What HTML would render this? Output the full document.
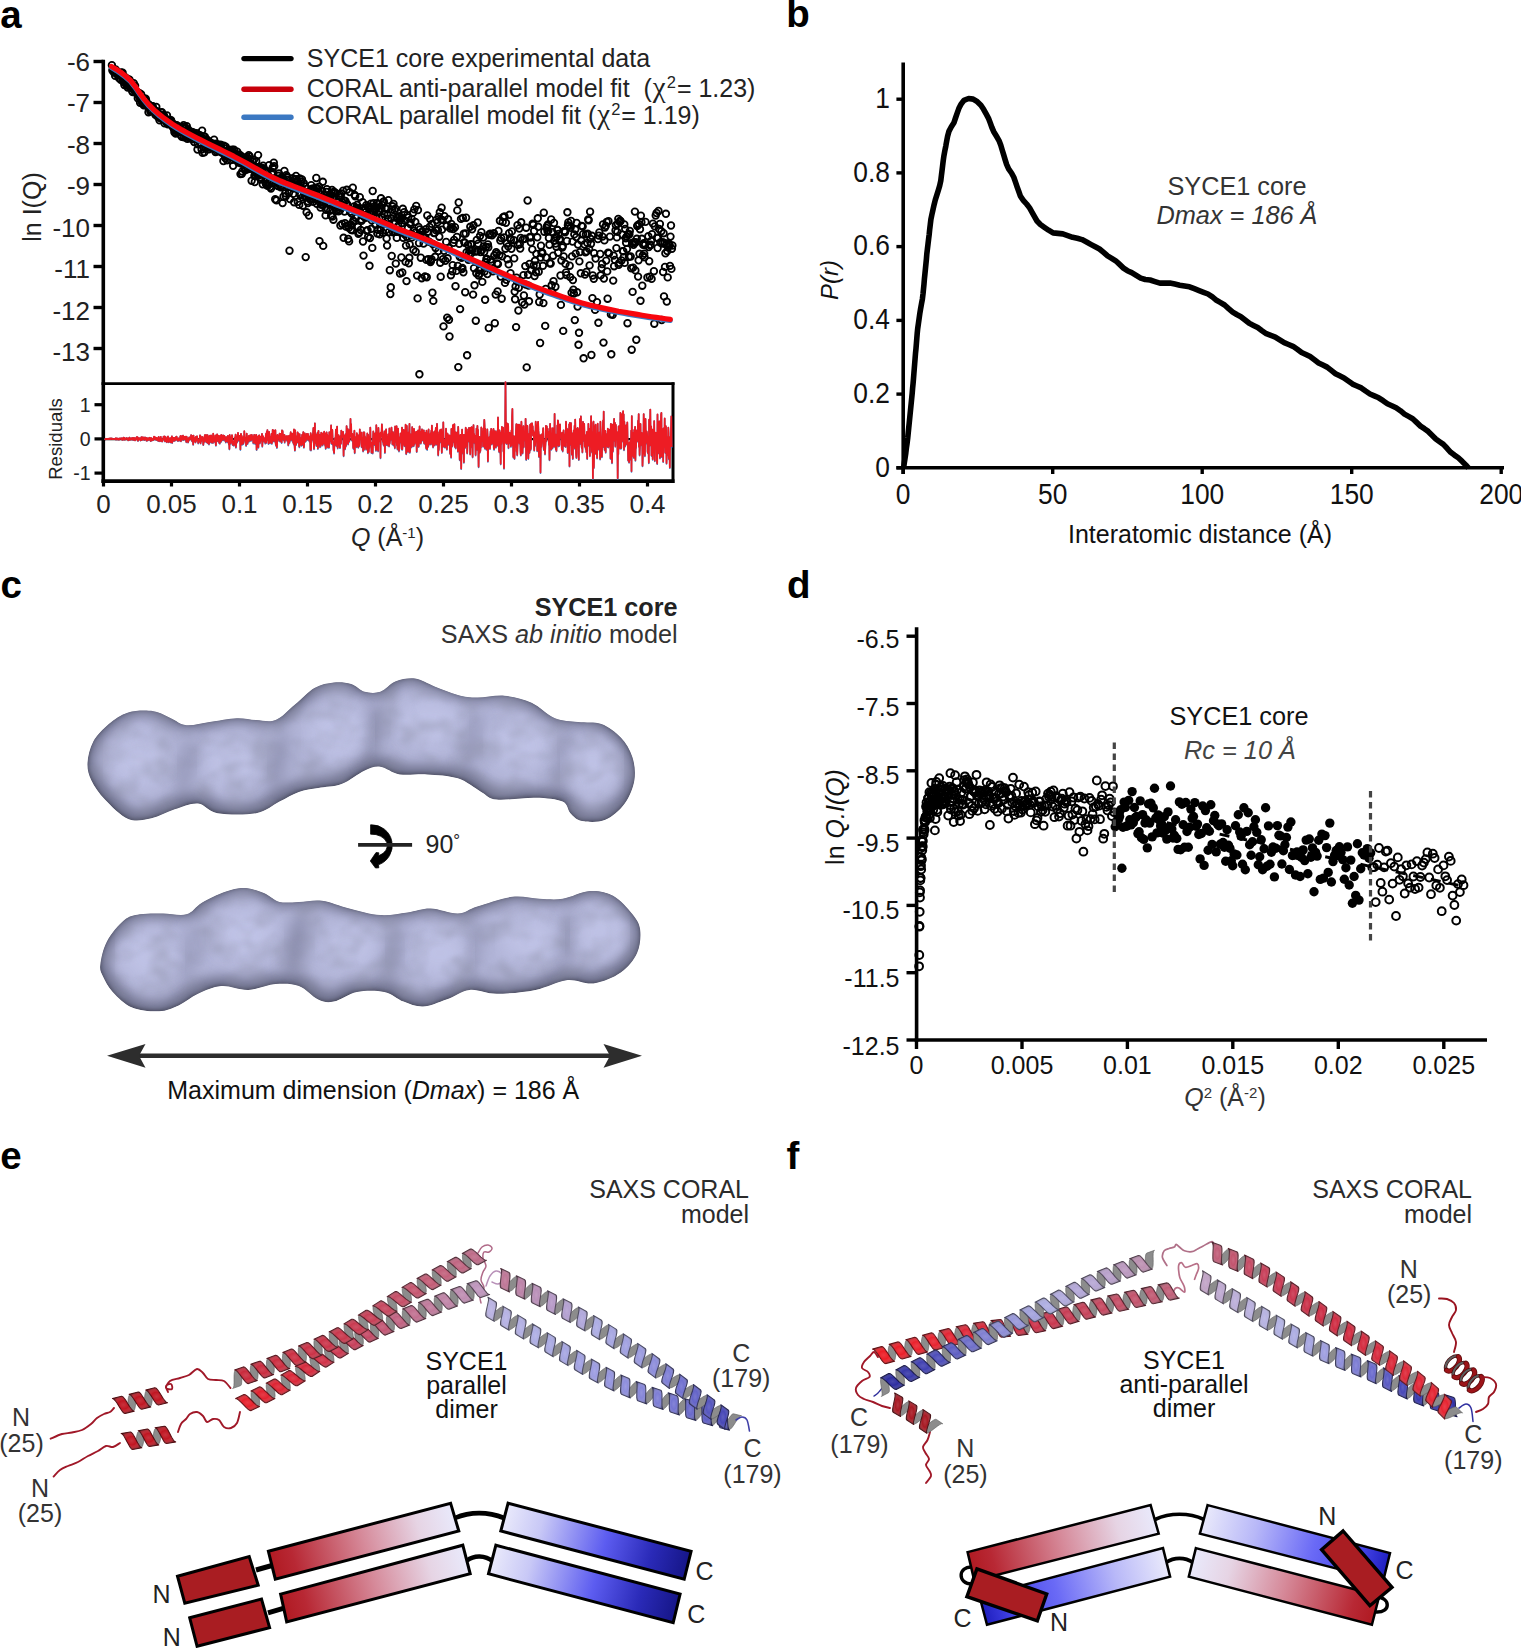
<!DOCTYPE html>
<html lang="en"><head><meta charset="utf-8"><title>SYCE1 core SAXS analysis</title>
<style>
html,body{margin:0;padding:0;background:#fff;}
body{width:1521px;height:1648px;overflow:hidden;font-family:'Liberation Sans', sans-serif;}
svg{display:block;font-family:'Liberation Sans', sans-serif;}
</style></head><body>
<svg width="1521" height="1648" viewBox="0 0 1521 1648">
<rect width="1521" height="1648" fill="#fff"/>
<g id="panel-a">
<text x="0.3" y="27.6" font-size="38.5" fill="#000" font-weight="bold">a</text>
<g fill="none" stroke="#000" stroke-width="1.8"><circle cx="111.9" cy="65.2" r="3.3"/><circle cx="112.4" cy="70.5" r="3.3"/><circle cx="112.9" cy="69.6" r="3.3"/><circle cx="113.3" cy="69.1" r="3.3"/><circle cx="113.8" cy="72.3" r="3.3"/><circle cx="114.2" cy="70.7" r="3.3"/><circle cx="114.7" cy="71.1" r="3.3"/><circle cx="115.2" cy="75.9" r="3.3"/><circle cx="115.6" cy="69.4" r="3.3"/><circle cx="116.1" cy="70.7" r="3.3"/><circle cx="116.6" cy="74" r="3.3"/><circle cx="117" cy="73.3" r="3.3"/><circle cx="117.5" cy="72" r="3.3"/><circle cx="117.9" cy="74.3" r="3.3"/><circle cx="118.4" cy="74.6" r="3.3"/><circle cx="118.9" cy="78" r="3.3"/><circle cx="119.3" cy="73.4" r="3.3"/><circle cx="119.8" cy="74.8" r="3.3"/><circle cx="120.3" cy="74.9" r="3.3"/><circle cx="120.7" cy="79.8" r="3.3"/><circle cx="121.2" cy="72.5" r="3.3"/><circle cx="121.6" cy="76.3" r="3.3"/><circle cx="122.1" cy="78.1" r="3.3"/><circle cx="122.6" cy="72.8" r="3.3"/><circle cx="123" cy="78" r="3.3"/><circle cx="123.5" cy="82" r="3.3"/><circle cx="124" cy="80.1" r="3.3"/><circle cx="124.4" cy="85.1" r="3.3"/><circle cx="124.9" cy="77" r="3.3"/><circle cx="125.3" cy="80.9" r="3.3"/><circle cx="125.8" cy="82.2" r="3.3"/><circle cx="126.3" cy="78.2" r="3.3"/><circle cx="126.7" cy="85.4" r="3.3"/><circle cx="127.2" cy="79.8" r="3.3"/><circle cx="127.7" cy="87.5" r="3.3"/><circle cx="128.1" cy="84.1" r="3.3"/><circle cx="128.6" cy="86" r="3.3"/><circle cx="129" cy="79.8" r="3.3"/><circle cx="129.5" cy="79.6" r="3.3"/><circle cx="130" cy="85.4" r="3.3"/><circle cx="130.4" cy="82.6" r="3.3"/><circle cx="130.9" cy="85.6" r="3.3"/><circle cx="131.4" cy="84.3" r="3.3"/><circle cx="131.8" cy="88.1" r="3.3"/><circle cx="132.3" cy="91.3" r="3.3"/><circle cx="132.7" cy="92.1" r="3.3"/><circle cx="133.2" cy="86.9" r="3.3"/><circle cx="133.7" cy="83.1" r="3.3"/><circle cx="134.1" cy="88.4" r="3.3"/><circle cx="134.6" cy="91.1" r="3.3"/><circle cx="135.1" cy="85.7" r="3.3"/><circle cx="135.5" cy="90.4" r="3.3"/><circle cx="136" cy="91.3" r="3.3"/><circle cx="136.4" cy="91.7" r="3.3"/><circle cx="136.9" cy="93.5" r="3.3"/><circle cx="137.4" cy="94.5" r="3.3"/><circle cx="137.8" cy="98.3" r="3.3"/><circle cx="138.3" cy="93.6" r="3.3"/><circle cx="138.8" cy="95.8" r="3.3"/><circle cx="139.2" cy="93" r="3.3"/><circle cx="139.7" cy="97.7" r="3.3"/><circle cx="140.1" cy="102.7" r="3.3"/><circle cx="140.6" cy="98.1" r="3.3"/><circle cx="141.1" cy="94.1" r="3.3"/><circle cx="141.5" cy="100.1" r="3.3"/><circle cx="142" cy="102.1" r="3.3"/><circle cx="142.5" cy="103.6" r="3.3"/><circle cx="142.9" cy="103.7" r="3.3"/><circle cx="143.4" cy="102.1" r="3.3"/><circle cx="143.8" cy="105.2" r="3.3"/><circle cx="144.3" cy="98.4" r="3.3"/><circle cx="144.8" cy="103.7" r="3.3"/><circle cx="145.2" cy="103.1" r="3.3"/><circle cx="145.7" cy="98.8" r="3.3"/><circle cx="146.1" cy="100.4" r="3.3"/><circle cx="146.6" cy="105.5" r="3.3"/><circle cx="147.1" cy="104.5" r="3.3"/><circle cx="147.5" cy="103.8" r="3.3"/><circle cx="148" cy="106.8" r="3.3"/><circle cx="148.5" cy="112.2" r="3.3"/><circle cx="148.9" cy="104.7" r="3.3"/><circle cx="149.4" cy="105.1" r="3.3"/><circle cx="149.8" cy="106.8" r="3.3"/><circle cx="150.3" cy="111.2" r="3.3"/><circle cx="150.8" cy="109.4" r="3.3"/><circle cx="151.2" cy="111" r="3.3"/><circle cx="151.7" cy="110.5" r="3.3"/><circle cx="152.2" cy="106.3" r="3.3"/><circle cx="152.6" cy="106.1" r="3.3"/><circle cx="153.1" cy="108.8" r="3.3"/><circle cx="153.5" cy="109.5" r="3.3"/><circle cx="154" cy="109.5" r="3.3"/><circle cx="154.5" cy="111.9" r="3.3"/><circle cx="154.9" cy="112.5" r="3.3"/><circle cx="155.4" cy="114.7" r="3.3"/><circle cx="155.9" cy="113.1" r="3.3"/><circle cx="156.3" cy="106.9" r="3.3"/><circle cx="156.8" cy="111.1" r="3.3"/><circle cx="157.2" cy="115.1" r="3.3"/><circle cx="157.7" cy="115.8" r="3.3"/><circle cx="158.2" cy="117.4" r="3.3"/><circle cx="158.6" cy="113.9" r="3.3"/><circle cx="159.1" cy="114.2" r="3.3"/><circle cx="159.6" cy="120.4" r="3.3"/><circle cx="160" cy="114.5" r="3.3"/><circle cx="160.5" cy="118.2" r="3.3"/><circle cx="160.9" cy="112.4" r="3.3"/><circle cx="161.4" cy="116.5" r="3.3"/><circle cx="161.9" cy="112.2" r="3.3"/><circle cx="162.3" cy="119.1" r="3.3"/><circle cx="162.8" cy="118.9" r="3.3"/><circle cx="163.3" cy="117.3" r="3.3"/><circle cx="163.7" cy="115.3" r="3.3"/><circle cx="164.2" cy="116.5" r="3.3"/><circle cx="164.6" cy="123.4" r="3.3"/><circle cx="165.1" cy="118.9" r="3.3"/><circle cx="165.6" cy="119.7" r="3.3"/><circle cx="166" cy="121.5" r="3.3"/><circle cx="166.5" cy="122.6" r="3.3"/><circle cx="167" cy="115.4" r="3.3"/><circle cx="167.4" cy="122.8" r="3.3"/><circle cx="167.9" cy="124.2" r="3.3"/><circle cx="168.3" cy="119.6" r="3.3"/><circle cx="168.8" cy="121.5" r="3.3"/><circle cx="169.3" cy="122.5" r="3.3"/><circle cx="169.7" cy="120" r="3.3"/><circle cx="170.2" cy="121.2" r="3.3"/><circle cx="170.7" cy="121.5" r="3.3"/><circle cx="171.1" cy="120.3" r="3.3"/><circle cx="171.6" cy="122.8" r="3.3"/><circle cx="172" cy="126.1" r="3.3"/><circle cx="172.5" cy="125.5" r="3.3"/><circle cx="173" cy="127" r="3.3"/><circle cx="173.4" cy="123.9" r="3.3"/><circle cx="173.9" cy="129" r="3.3"/><circle cx="174.4" cy="132.2" r="3.3"/><circle cx="174.8" cy="125.4" r="3.3"/><circle cx="175.3" cy="130.9" r="3.3"/><circle cx="175.7" cy="133.6" r="3.3"/><circle cx="176.2" cy="125.3" r="3.3"/><circle cx="176.7" cy="129.4" r="3.3"/><circle cx="177.1" cy="125.4" r="3.3"/><circle cx="177.6" cy="129.3" r="3.3"/><circle cx="178.1" cy="131.8" r="3.3"/><circle cx="178.5" cy="132.6" r="3.3"/><circle cx="179" cy="130.1" r="3.3"/><circle cx="179.4" cy="129.5" r="3.3"/><circle cx="179.9" cy="131.8" r="3.3"/><circle cx="180.4" cy="130" r="3.3"/><circle cx="180.8" cy="135.2" r="3.3"/><circle cx="181.3" cy="129.5" r="3.3"/><circle cx="181.8" cy="136.8" r="3.3"/><circle cx="182.2" cy="130.8" r="3.3"/><circle cx="182.7" cy="127.1" r="3.3"/><circle cx="183.1" cy="126.9" r="3.3"/><circle cx="183.6" cy="125.1" r="3.3"/><circle cx="184.1" cy="137.2" r="3.3"/><circle cx="184.5" cy="128.7" r="3.3"/><circle cx="185" cy="127.5" r="3.3"/><circle cx="185.5" cy="128.5" r="3.3"/><circle cx="185.9" cy="135.7" r="3.3"/><circle cx="186.4" cy="130.9" r="3.3"/><circle cx="186.8" cy="126.3" r="3.3"/><circle cx="187.3" cy="138.9" r="3.3"/><circle cx="187.8" cy="130.9" r="3.3"/><circle cx="188.2" cy="129.5" r="3.3"/><circle cx="188.7" cy="136.4" r="3.3"/><circle cx="189.2" cy="131.8" r="3.3"/><circle cx="189.6" cy="138.4" r="3.3"/><circle cx="190.1" cy="137.6" r="3.3"/><circle cx="190.5" cy="137.8" r="3.3"/><circle cx="191" cy="133.9" r="3.3"/><circle cx="191.5" cy="135.5" r="3.3"/><circle cx="191.9" cy="131.9" r="3.3"/><circle cx="192.4" cy="139.4" r="3.3"/><circle cx="192.9" cy="136.3" r="3.3"/><circle cx="193.3" cy="132.5" r="3.3"/><circle cx="193.8" cy="134.2" r="3.3"/><circle cx="194.2" cy="142" r="3.3"/><circle cx="194.7" cy="134.3" r="3.3"/><circle cx="195.2" cy="138.9" r="3.3"/><circle cx="195.6" cy="135.8" r="3.3"/><circle cx="196.1" cy="136.3" r="3.3"/><circle cx="196.6" cy="133.2" r="3.3"/><circle cx="197" cy="137.5" r="3.3"/><circle cx="197.5" cy="149.5" r="3.3"/><circle cx="197.9" cy="144.2" r="3.3"/><circle cx="198.4" cy="135.9" r="3.3"/><circle cx="198.9" cy="140" r="3.3"/><circle cx="199.3" cy="134.9" r="3.3"/><circle cx="199.8" cy="138.3" r="3.3"/><circle cx="200.3" cy="142.7" r="3.3"/><circle cx="200.7" cy="135.7" r="3.3"/><circle cx="201.2" cy="143.5" r="3.3"/><circle cx="201.6" cy="149.6" r="3.3"/><circle cx="202.1" cy="130.6" r="3.3"/><circle cx="202.6" cy="152.9" r="3.3"/><circle cx="203" cy="138.5" r="3.3"/><circle cx="203.5" cy="136.4" r="3.3"/><circle cx="203.9" cy="140.9" r="3.3"/><circle cx="204.4" cy="152.3" r="3.3"/><circle cx="204.9" cy="136.7" r="3.3"/><circle cx="205.3" cy="148.6" r="3.3"/><circle cx="205.8" cy="148.4" r="3.3"/><circle cx="206.3" cy="144.2" r="3.3"/><circle cx="206.7" cy="139.8" r="3.3"/><circle cx="207.2" cy="141.9" r="3.3"/><circle cx="207.6" cy="140.1" r="3.3"/><circle cx="208.1" cy="145.5" r="3.3"/><circle cx="208.6" cy="144.6" r="3.3"/><circle cx="209" cy="149.2" r="3.3"/><circle cx="209.5" cy="145.7" r="3.3"/><circle cx="210" cy="142.1" r="3.3"/><circle cx="210.4" cy="146.1" r="3.3"/><circle cx="210.9" cy="143" r="3.3"/><circle cx="211.3" cy="147.7" r="3.3"/><circle cx="211.8" cy="148.1" r="3.3"/><circle cx="212.3" cy="145.5" r="3.3"/><circle cx="212.7" cy="146.8" r="3.3"/><circle cx="213.2" cy="143.6" r="3.3"/><circle cx="213.7" cy="145.6" r="3.3"/><circle cx="214.1" cy="139.6" r="3.3"/><circle cx="214.6" cy="147.8" r="3.3"/><circle cx="215" cy="148.4" r="3.3"/><circle cx="215.5" cy="152.1" r="3.3"/><circle cx="216" cy="147.4" r="3.3"/><circle cx="216.4" cy="143.8" r="3.3"/><circle cx="216.9" cy="151.4" r="3.3"/><circle cx="217.4" cy="148.4" r="3.3"/><circle cx="217.8" cy="145.3" r="3.3"/><circle cx="218.3" cy="149.2" r="3.3"/><circle cx="218.7" cy="151.3" r="3.3"/><circle cx="219.2" cy="144.9" r="3.3"/><circle cx="219.7" cy="148.9" r="3.3"/><circle cx="220.1" cy="147.8" r="3.3"/><circle cx="220.6" cy="144.8" r="3.3"/><circle cx="221.1" cy="145.1" r="3.3"/><circle cx="221.5" cy="151.8" r="3.3"/><circle cx="222" cy="152.9" r="3.3"/><circle cx="222.4" cy="149.4" r="3.3"/><circle cx="222.9" cy="151.5" r="3.3"/><circle cx="223.4" cy="161" r="3.3"/><circle cx="223.8" cy="145.8" r="3.3"/><circle cx="224.3" cy="151.5" r="3.3"/><circle cx="224.8" cy="148.5" r="3.3"/><circle cx="225.2" cy="158" r="3.3"/><circle cx="225.7" cy="146.6" r="3.3"/><circle cx="226.1" cy="156.4" r="3.3"/><circle cx="226.6" cy="153.3" r="3.3"/><circle cx="227.1" cy="160.2" r="3.3"/><circle cx="227.5" cy="154.3" r="3.3"/><circle cx="228" cy="154.5" r="3.3"/><circle cx="228.5" cy="154.6" r="3.3"/><circle cx="228.9" cy="151.8" r="3.3"/><circle cx="229.4" cy="153.8" r="3.3"/><circle cx="229.8" cy="149.9" r="3.3"/><circle cx="230.3" cy="156.9" r="3.3"/><circle cx="230.8" cy="160" r="3.3"/><circle cx="231.2" cy="155.1" r="3.3"/><circle cx="231.7" cy="152.3" r="3.3"/><circle cx="232.2" cy="149.8" r="3.3"/><circle cx="232.6" cy="151.9" r="3.3"/><circle cx="233.1" cy="165.8" r="3.3"/><circle cx="233.5" cy="154.4" r="3.3"/><circle cx="234" cy="149.8" r="3.3"/><circle cx="234.5" cy="156.4" r="3.3"/><circle cx="234.9" cy="159.6" r="3.3"/><circle cx="235.4" cy="155.6" r="3.3"/><circle cx="235.9" cy="160" r="3.3"/><circle cx="236.3" cy="154.5" r="3.3"/><circle cx="236.8" cy="158" r="3.3"/><circle cx="237.2" cy="151.6" r="3.3"/><circle cx="237.7" cy="155.9" r="3.3"/><circle cx="238.2" cy="162.5" r="3.3"/><circle cx="238.6" cy="155.8" r="3.3"/><circle cx="239.1" cy="154.5" r="3.3"/><circle cx="239.6" cy="162.4" r="3.3"/><circle cx="240" cy="161.9" r="3.3"/><circle cx="240.5" cy="174.1" r="3.3"/><circle cx="240.9" cy="155.6" r="3.3"/><circle cx="241.4" cy="163.6" r="3.3"/><circle cx="241.9" cy="173.7" r="3.3"/><circle cx="242.3" cy="171.5" r="3.3"/><circle cx="242.8" cy="162.3" r="3.3"/><circle cx="243.3" cy="157.5" r="3.3"/><circle cx="243.7" cy="162.1" r="3.3"/><circle cx="244.2" cy="159.4" r="3.3"/><circle cx="244.6" cy="168.6" r="3.3"/><circle cx="245.1" cy="170.4" r="3.3"/><circle cx="245.6" cy="158.1" r="3.3"/><circle cx="246" cy="160.3" r="3.3"/><circle cx="246.5" cy="163.3" r="3.3"/><circle cx="247" cy="156.9" r="3.3"/><circle cx="247.4" cy="169.3" r="3.3"/><circle cx="247.9" cy="167.2" r="3.3"/><circle cx="248.3" cy="158.8" r="3.3"/><circle cx="248.8" cy="155.2" r="3.3"/><circle cx="249.3" cy="164.7" r="3.3"/><circle cx="249.7" cy="156.4" r="3.3"/><circle cx="250.2" cy="168.8" r="3.3"/><circle cx="250.7" cy="163.7" r="3.3"/><circle cx="251.1" cy="166.8" r="3.3"/><circle cx="251.6" cy="180.7" r="3.3"/><circle cx="252" cy="164.8" r="3.3"/><circle cx="252.5" cy="161.5" r="3.3"/><circle cx="253" cy="167.7" r="3.3"/><circle cx="253.4" cy="167.5" r="3.3"/><circle cx="253.9" cy="159.9" r="3.3"/><circle cx="254.4" cy="175.7" r="3.3"/><circle cx="254.8" cy="182" r="3.3"/><circle cx="255.3" cy="172.2" r="3.3"/><circle cx="255.7" cy="176.2" r="3.3"/><circle cx="256.2" cy="161.3" r="3.3"/><circle cx="256.7" cy="167.1" r="3.3"/><circle cx="257.1" cy="174.8" r="3.3"/><circle cx="257.6" cy="174.8" r="3.3"/><circle cx="258.1" cy="155.1" r="3.3"/><circle cx="258.5" cy="173.9" r="3.3"/><circle cx="259" cy="175.2" r="3.3"/><circle cx="259.4" cy="168.6" r="3.3"/><circle cx="259.9" cy="166.9" r="3.3"/><circle cx="260.4" cy="169.6" r="3.3"/><circle cx="260.8" cy="177.4" r="3.3"/><circle cx="261.3" cy="179.5" r="3.3"/><circle cx="261.7" cy="168.1" r="3.3"/><circle cx="262.2" cy="172.3" r="3.3"/><circle cx="262.7" cy="184.3" r="3.3"/><circle cx="263.1" cy="165.6" r="3.3"/><circle cx="263.6" cy="168.1" r="3.3"/><circle cx="264.1" cy="174.6" r="3.3"/><circle cx="264.5" cy="175" r="3.3"/><circle cx="265" cy="172" r="3.3"/><circle cx="265.4" cy="178.5" r="3.3"/><circle cx="265.9" cy="183.9" r="3.3"/><circle cx="266.4" cy="172.2" r="3.3"/><circle cx="266.8" cy="185.3" r="3.3"/><circle cx="267.3" cy="172.2" r="3.3"/><circle cx="267.8" cy="185.9" r="3.3"/><circle cx="268.2" cy="175.9" r="3.3"/><circle cx="268.7" cy="176.4" r="3.3"/><circle cx="269.1" cy="165.1" r="3.3"/><circle cx="269.6" cy="183.8" r="3.3"/><circle cx="270.1" cy="187.1" r="3.3"/><circle cx="270.5" cy="181" r="3.3"/><circle cx="271" cy="188.6" r="3.3"/><circle cx="271.5" cy="181.1" r="3.3"/><circle cx="271.9" cy="174.3" r="3.3"/><circle cx="272.4" cy="172.3" r="3.3"/><circle cx="272.8" cy="167.4" r="3.3"/><circle cx="273.3" cy="183.2" r="3.3"/><circle cx="273.8" cy="162.7" r="3.3"/><circle cx="274.2" cy="166.2" r="3.3"/><circle cx="274.7" cy="180.4" r="3.3"/><circle cx="275.2" cy="199.3" r="3.3"/><circle cx="275.6" cy="179.4" r="3.3"/><circle cx="276.1" cy="178.5" r="3.3"/><circle cx="276.5" cy="200.3" r="3.3"/><circle cx="277" cy="178.9" r="3.3"/><circle cx="277.5" cy="181.1" r="3.3"/><circle cx="277.9" cy="186" r="3.3"/><circle cx="278.4" cy="175.8" r="3.3"/><circle cx="278.9" cy="173.5" r="3.3"/><circle cx="279.3" cy="184.2" r="3.3"/><circle cx="279.8" cy="178.5" r="3.3"/><circle cx="280.2" cy="186" r="3.3"/><circle cx="280.7" cy="187.3" r="3.3"/><circle cx="281.2" cy="180.5" r="3.3"/><circle cx="281.6" cy="177.7" r="3.3"/><circle cx="282.1" cy="186.1" r="3.3"/><circle cx="282.6" cy="203.1" r="3.3"/><circle cx="283" cy="177.9" r="3.3"/><circle cx="283.5" cy="196.5" r="3.3"/><circle cx="283.9" cy="181.2" r="3.3"/><circle cx="284.4" cy="170.9" r="3.3"/><circle cx="284.9" cy="182.9" r="3.3"/><circle cx="285.3" cy="193.3" r="3.3"/><circle cx="285.8" cy="196.3" r="3.3"/><circle cx="286.3" cy="175.2" r="3.3"/><circle cx="286.7" cy="183.7" r="3.3"/><circle cx="287.2" cy="179.7" r="3.3"/><circle cx="287.6" cy="177.3" r="3.3"/><circle cx="288.1" cy="184.5" r="3.3"/><circle cx="288.6" cy="186.8" r="3.3"/><circle cx="289" cy="192.7" r="3.3"/><circle cx="289.5" cy="250.7" r="3.3"/><circle cx="290" cy="199" r="3.3"/><circle cx="290.4" cy="185.6" r="3.3"/><circle cx="290.9" cy="187.1" r="3.3"/><circle cx="291.3" cy="182.3" r="3.3"/><circle cx="291.8" cy="186.9" r="3.3"/><circle cx="292.3" cy="184.5" r="3.3"/><circle cx="292.7" cy="178.1" r="3.3"/><circle cx="293.2" cy="193.9" r="3.3"/><circle cx="293.7" cy="188.6" r="3.3"/><circle cx="294.1" cy="202.2" r="3.3"/><circle cx="294.6" cy="179.3" r="3.3"/><circle cx="295" cy="186.5" r="3.3"/><circle cx="295.5" cy="181.8" r="3.3"/><circle cx="296" cy="176" r="3.3"/><circle cx="296.4" cy="179.2" r="3.3"/><circle cx="296.9" cy="188" r="3.3"/><circle cx="297.4" cy="181.6" r="3.3"/><circle cx="297.8" cy="201.9" r="3.3"/><circle cx="298.3" cy="184.5" r="3.3"/><circle cx="298.7" cy="187" r="3.3"/><circle cx="299.2" cy="204.9" r="3.3"/><circle cx="299.7" cy="178.5" r="3.3"/><circle cx="300.1" cy="195.1" r="3.3"/><circle cx="300.6" cy="183.4" r="3.3"/><circle cx="301.1" cy="194.2" r="3.3"/><circle cx="301.5" cy="181.5" r="3.3"/><circle cx="302" cy="179.4" r="3.3"/><circle cx="302.4" cy="197.4" r="3.3"/><circle cx="302.9" cy="205.7" r="3.3"/><circle cx="303.4" cy="191" r="3.3"/><circle cx="303.8" cy="183.2" r="3.3"/><circle cx="304.3" cy="193.6" r="3.3"/><circle cx="304.8" cy="196.2" r="3.3"/><circle cx="305.2" cy="186.5" r="3.3"/><circle cx="305.7" cy="257.1" r="3.3"/><circle cx="306.1" cy="197.3" r="3.3"/><circle cx="306.6" cy="212.3" r="3.3"/><circle cx="307.1" cy="188.7" r="3.3"/><circle cx="307.5" cy="201.4" r="3.3"/><circle cx="308" cy="203.1" r="3.3"/><circle cx="308.5" cy="195.1" r="3.3"/><circle cx="308.9" cy="215.5" r="3.3"/><circle cx="309.4" cy="192.2" r="3.3"/><circle cx="309.8" cy="199" r="3.3"/><circle cx="310.3" cy="196.1" r="3.3"/><circle cx="310.8" cy="199.8" r="3.3"/><circle cx="311.2" cy="185.2" r="3.3"/><circle cx="311.7" cy="194" r="3.3"/><circle cx="312.2" cy="188.6" r="3.3"/><circle cx="312.6" cy="189.1" r="3.3"/><circle cx="313.1" cy="201.8" r="3.3"/><circle cx="313.5" cy="188.7" r="3.3"/><circle cx="314" cy="189.7" r="3.3"/><circle cx="314.5" cy="190.3" r="3.3"/><circle cx="314.9" cy="198.2" r="3.3"/><circle cx="315.4" cy="198.7" r="3.3"/><circle cx="315.9" cy="187.8" r="3.3"/><circle cx="316.3" cy="178" r="3.3"/><circle cx="316.8" cy="203.8" r="3.3"/><circle cx="317.2" cy="188.8" r="3.3"/><circle cx="317.7" cy="199.1" r="3.3"/><circle cx="318.2" cy="188.6" r="3.3"/><circle cx="318.6" cy="191.7" r="3.3"/><circle cx="319.1" cy="186.7" r="3.3"/><circle cx="319.5" cy="241.1" r="3.3"/><circle cx="320" cy="202.7" r="3.3"/><circle cx="320.5" cy="207.6" r="3.3"/><circle cx="320.9" cy="197.8" r="3.3"/><circle cx="321.4" cy="204.7" r="3.3"/><circle cx="321.9" cy="204" r="3.3"/><circle cx="322.3" cy="190.9" r="3.3"/><circle cx="322.8" cy="181.8" r="3.3"/><circle cx="323.2" cy="245.9" r="3.3"/><circle cx="323.7" cy="202.2" r="3.3"/><circle cx="324.2" cy="194.9" r="3.3"/><circle cx="324.6" cy="198.1" r="3.3"/><circle cx="325.1" cy="202" r="3.3"/><circle cx="325.6" cy="215.4" r="3.3"/><circle cx="326" cy="209.8" r="3.3"/><circle cx="326.5" cy="192" r="3.3"/><circle cx="326.9" cy="189.2" r="3.3"/><circle cx="327.4" cy="198.3" r="3.3"/><circle cx="327.9" cy="209.3" r="3.3"/><circle cx="328.3" cy="198.7" r="3.3"/><circle cx="328.8" cy="202.4" r="3.3"/><circle cx="329.3" cy="194.6" r="3.3"/><circle cx="329.7" cy="198.5" r="3.3"/><circle cx="330.2" cy="210.4" r="3.3"/><circle cx="330.6" cy="197.9" r="3.3"/><circle cx="331.1" cy="215.8" r="3.3"/><circle cx="331.6" cy="193" r="3.3"/><circle cx="332" cy="190" r="3.3"/><circle cx="332.5" cy="216.6" r="3.3"/><circle cx="333" cy="197.2" r="3.3"/><circle cx="333.4" cy="219.7" r="3.3"/><circle cx="333.9" cy="191.6" r="3.3"/><circle cx="334.3" cy="193.2" r="3.3"/><circle cx="334.8" cy="204.9" r="3.3"/><circle cx="335.3" cy="192.7" r="3.3"/><circle cx="335.7" cy="207.7" r="3.3"/><circle cx="336.2" cy="210.7" r="3.3"/><circle cx="336.7" cy="209.9" r="3.3"/><circle cx="337.1" cy="204.8" r="3.3"/><circle cx="337.6" cy="207.2" r="3.3"/><circle cx="338" cy="201.9" r="3.3"/><circle cx="338.5" cy="211.4" r="3.3"/><circle cx="339" cy="196" r="3.3"/><circle cx="339.4" cy="193.9" r="3.3"/><circle cx="339.9" cy="210.4" r="3.3"/><circle cx="340.4" cy="225.5" r="3.3"/><circle cx="340.8" cy="197.1" r="3.3"/><circle cx="341.3" cy="193.4" r="3.3"/><circle cx="341.7" cy="207.7" r="3.3"/><circle cx="342.2" cy="224" r="3.3"/><circle cx="342.7" cy="202.4" r="3.3"/><circle cx="343.1" cy="190.7" r="3.3"/><circle cx="343.6" cy="237.8" r="3.3"/><circle cx="344.1" cy="200.7" r="3.3"/><circle cx="344.5" cy="211.6" r="3.3"/><circle cx="345" cy="223.2" r="3.3"/><circle cx="345.4" cy="201" r="3.3"/><circle cx="345.9" cy="226.5" r="3.3"/><circle cx="346.4" cy="203.5" r="3.3"/><circle cx="346.8" cy="189.8" r="3.3"/><circle cx="347.3" cy="204.5" r="3.3"/><circle cx="347.8" cy="225.4" r="3.3"/><circle cx="348.2" cy="239" r="3.3"/><circle cx="348.7" cy="227.9" r="3.3"/><circle cx="349.1" cy="241.4" r="3.3"/><circle cx="349.6" cy="192.1" r="3.3"/><circle cx="350.1" cy="211.7" r="3.3"/><circle cx="350.5" cy="224.4" r="3.3"/><circle cx="351" cy="229.7" r="3.3"/><circle cx="351.5" cy="225.4" r="3.3"/><circle cx="351.9" cy="213.7" r="3.3"/><circle cx="352.4" cy="230.2" r="3.3"/><circle cx="352.8" cy="187.7" r="3.3"/><circle cx="353.3" cy="220.7" r="3.3"/><circle cx="353.8" cy="221.6" r="3.3"/><circle cx="354.2" cy="206.4" r="3.3"/><circle cx="354.7" cy="194.9" r="3.3"/><circle cx="355.2" cy="196.2" r="3.3"/><circle cx="355.6" cy="217.7" r="3.3"/><circle cx="356.1" cy="207.7" r="3.3"/><circle cx="356.5" cy="209.2" r="3.3"/><circle cx="357" cy="204.9" r="3.3"/><circle cx="357.5" cy="208.3" r="3.3"/><circle cx="357.9" cy="226.8" r="3.3"/><circle cx="358.4" cy="233.7" r="3.3"/><circle cx="358.9" cy="209.8" r="3.3"/><circle cx="359.3" cy="232.5" r="3.3"/><circle cx="359.8" cy="197.2" r="3.3"/><circle cx="360.2" cy="212.1" r="3.3"/><circle cx="360.7" cy="230" r="3.3"/><circle cx="361.2" cy="219.5" r="3.3"/><circle cx="361.6" cy="220.9" r="3.3"/><circle cx="362.1" cy="215.3" r="3.3"/><circle cx="362.6" cy="202.2" r="3.3"/><circle cx="363" cy="241.5" r="3.3"/><circle cx="363.5" cy="255.6" r="3.3"/><circle cx="363.9" cy="209.7" r="3.3"/><circle cx="364.4" cy="217" r="3.3"/><circle cx="364.9" cy="212.4" r="3.3"/><circle cx="365.3" cy="208.9" r="3.3"/><circle cx="365.8" cy="217.7" r="3.3"/><circle cx="366.3" cy="205.1" r="3.3"/><circle cx="366.7" cy="230.8" r="3.3"/><circle cx="367.2" cy="214.7" r="3.3"/><circle cx="367.6" cy="230.1" r="3.3"/><circle cx="368.1" cy="237" r="3.3"/><circle cx="368.6" cy="208" r="3.3"/><circle cx="369" cy="206.4" r="3.3"/><circle cx="369.5" cy="265.8" r="3.3"/><circle cx="370" cy="238.1" r="3.3"/><circle cx="370.4" cy="211.5" r="3.3"/><circle cx="370.9" cy="203.6" r="3.3"/><circle cx="371.3" cy="228.8" r="3.3"/><circle cx="371.8" cy="220.4" r="3.3"/><circle cx="372.3" cy="247.9" r="3.3"/><circle cx="372.7" cy="191" r="3.3"/><circle cx="373.2" cy="211.4" r="3.3"/><circle cx="373.7" cy="203.1" r="3.3"/><circle cx="374.1" cy="209.5" r="3.3"/><circle cx="374.6" cy="206.4" r="3.3"/><circle cx="375" cy="210.4" r="3.3"/><circle cx="375.5" cy="224.7" r="3.3"/><circle cx="376" cy="209.1" r="3.3"/><circle cx="376.4" cy="218.3" r="3.3"/><circle cx="376.9" cy="203.1" r="3.3"/><circle cx="377.3" cy="233.6" r="3.3"/><circle cx="377.8" cy="229.7" r="3.3"/><circle cx="378.3" cy="210.9" r="3.3"/><circle cx="378.7" cy="203.8" r="3.3"/><circle cx="379.2" cy="218.4" r="3.3"/><circle cx="379.7" cy="234.4" r="3.3"/><circle cx="380.1" cy="223.7" r="3.3"/><circle cx="380.6" cy="230.3" r="3.3"/><circle cx="381" cy="198.3" r="3.3"/><circle cx="381.5" cy="209" r="3.3"/><circle cx="382" cy="205" r="3.3"/><circle cx="382.4" cy="217.3" r="3.3"/><circle cx="382.9" cy="232.7" r="3.3"/><circle cx="383.4" cy="202" r="3.3"/><circle cx="383.8" cy="201.4" r="3.3"/><circle cx="384.3" cy="214" r="3.3"/><circle cx="384.7" cy="223.4" r="3.3"/><circle cx="385.2" cy="208" r="3.3"/><circle cx="385.7" cy="230.3" r="3.3"/><circle cx="386.1" cy="208.9" r="3.3"/><circle cx="386.6" cy="238.4" r="3.3"/><circle cx="387.1" cy="245.6" r="3.3"/><circle cx="387.5" cy="215.4" r="3.3"/><circle cx="388" cy="218.9" r="3.3"/><circle cx="388.4" cy="200.2" r="3.3"/><circle cx="388.9" cy="232.1" r="3.3"/><circle cx="389.4" cy="224.5" r="3.3"/><circle cx="389.8" cy="270.2" r="3.3"/><circle cx="390.3" cy="294.1" r="3.3"/><circle cx="390.8" cy="287.3" r="3.3"/><circle cx="391.2" cy="218.3" r="3.3"/><circle cx="391.7" cy="256" r="3.3"/><circle cx="392.1" cy="209.6" r="3.3"/><circle cx="392.6" cy="206.3" r="3.3"/><circle cx="393.1" cy="232.2" r="3.3"/><circle cx="393.5" cy="204" r="3.3"/><circle cx="394" cy="223" r="3.3"/><circle cx="394.5" cy="210.4" r="3.3"/><circle cx="394.9" cy="231.8" r="3.3"/><circle cx="395.4" cy="208.6" r="3.3"/><circle cx="395.8" cy="263.6" r="3.3"/><circle cx="396.3" cy="217.7" r="3.3"/><circle cx="396.8" cy="237.9" r="3.3"/><circle cx="397.2" cy="231.9" r="3.3"/><circle cx="397.7" cy="218" r="3.3"/><circle cx="398.2" cy="225.6" r="3.3"/><circle cx="398.6" cy="230.4" r="3.3"/><circle cx="399.1" cy="217" r="3.3"/><circle cx="399.5" cy="216.1" r="3.3"/><circle cx="400" cy="273.5" r="3.3"/><circle cx="400.5" cy="220" r="3.3"/><circle cx="400.9" cy="218.4" r="3.3"/><circle cx="401.4" cy="257.5" r="3.3"/><circle cx="401.9" cy="223.2" r="3.3"/><circle cx="402.3" cy="272.5" r="3.3"/><circle cx="402.8" cy="208.8" r="3.3"/><circle cx="403.2" cy="237.8" r="3.3"/><circle cx="403.7" cy="232.6" r="3.3"/><circle cx="404.2" cy="212.1" r="3.3"/><circle cx="404.6" cy="234.3" r="3.3"/><circle cx="405.1" cy="220.8" r="3.3"/><circle cx="405.6" cy="261.9" r="3.3"/><circle cx="406" cy="245.6" r="3.3"/><circle cx="406.5" cy="281.1" r="3.3"/><circle cx="406.9" cy="236.7" r="3.3"/><circle cx="407.4" cy="215.1" r="3.3"/><circle cx="407.9" cy="228.1" r="3.3"/><circle cx="408.3" cy="217.4" r="3.3"/><circle cx="408.8" cy="263.3" r="3.3"/><circle cx="409.3" cy="257.8" r="3.3"/><circle cx="409.7" cy="244.4" r="3.3"/><circle cx="410.2" cy="222.7" r="3.3"/><circle cx="410.6" cy="224.4" r="3.3"/><circle cx="411.1" cy="234" r="3.3"/><circle cx="411.6" cy="218.9" r="3.3"/><circle cx="412" cy="237.4" r="3.3"/><circle cx="412.5" cy="234.7" r="3.3"/><circle cx="413" cy="212.9" r="3.3"/><circle cx="413.4" cy="249.8" r="3.3"/><circle cx="413.9" cy="230.9" r="3.3"/><circle cx="414.3" cy="209.4" r="3.3"/><circle cx="414.8" cy="232.9" r="3.3"/><circle cx="415.3" cy="222" r="3.3"/><circle cx="415.7" cy="251.7" r="3.3"/><circle cx="416.2" cy="205.9" r="3.3"/><circle cx="417.1" cy="275.6" r="3.3"/><circle cx="417.6" cy="298.4" r="3.3"/><circle cx="418" cy="210.1" r="3.3"/><circle cx="418.5" cy="226.9" r="3.3"/><circle cx="419" cy="243.1" r="3.3"/><circle cx="419.4" cy="374.3" r="3.3"/><circle cx="419.9" cy="229.4" r="3.3"/><circle cx="420.4" cy="234.6" r="3.3"/><circle cx="420.8" cy="257.7" r="3.3"/><circle cx="421.7" cy="278.2" r="3.3"/><circle cx="422.2" cy="231.6" r="3.3"/><circle cx="422.7" cy="231.3" r="3.3"/><circle cx="423.1" cy="236.6" r="3.3"/><circle cx="423.6" cy="243.5" r="3.3"/><circle cx="424.5" cy="237.5" r="3.3"/><circle cx="425" cy="276.5" r="3.3"/><circle cx="425.4" cy="237.6" r="3.3"/><circle cx="425.9" cy="229.2" r="3.3"/><circle cx="426.4" cy="259.9" r="3.3"/><circle cx="426.8" cy="277.2" r="3.3"/><circle cx="427.3" cy="215.5" r="3.3"/><circle cx="427.8" cy="231.8" r="3.3"/><circle cx="428.2" cy="259.2" r="3.3"/><circle cx="429.1" cy="241.7" r="3.3"/><circle cx="429.6" cy="227" r="3.3"/><circle cx="430.1" cy="219.1" r="3.3"/><circle cx="430.5" cy="262" r="3.3"/><circle cx="431" cy="260.7" r="3.3"/><circle cx="431.5" cy="259.1" r="3.3"/><circle cx="431.9" cy="223.9" r="3.3"/><circle cx="432.4" cy="292.7" r="3.3"/><circle cx="432.8" cy="244" r="3.3"/><circle cx="433.3" cy="300.9" r="3.3"/><circle cx="433.8" cy="233.1" r="3.3"/><circle cx="434.7" cy="233" r="3.3"/><circle cx="435.1" cy="256.8" r="3.3"/><circle cx="435.6" cy="248" r="3.3"/><circle cx="436.1" cy="230.4" r="3.3"/><circle cx="436.5" cy="220" r="3.3"/><circle cx="437.5" cy="222.3" r="3.3"/><circle cx="437.9" cy="230.1" r="3.3"/><circle cx="438.4" cy="251.1" r="3.3"/><circle cx="438.8" cy="216.6" r="3.3"/><circle cx="439.3" cy="236.7" r="3.3"/><circle cx="439.8" cy="212.3" r="3.3"/><circle cx="440.2" cy="262.7" r="3.3"/><circle cx="440.7" cy="276.7" r="3.3"/><circle cx="441.2" cy="219.6" r="3.3"/><circle cx="441.6" cy="207.7" r="3.3"/><circle cx="442.1" cy="229.6" r="3.3"/><circle cx="442.5" cy="220.1" r="3.3"/><circle cx="443" cy="259.1" r="3.3"/><circle cx="443.5" cy="326.4" r="3.3"/><circle cx="443.9" cy="250.8" r="3.3"/><circle cx="444.4" cy="216.2" r="3.3"/><circle cx="445.3" cy="260.8" r="3.3"/><circle cx="446.2" cy="242" r="3.3"/><circle cx="446.7" cy="226.2" r="3.3"/><circle cx="447.2" cy="317.7" r="3.3"/><circle cx="447.6" cy="258.3" r="3.3"/><circle cx="448.1" cy="219.2" r="3.3"/><circle cx="448.6" cy="248" r="3.3"/><circle cx="449" cy="319.8" r="3.3"/><circle cx="449.5" cy="336.5" r="3.3"/><circle cx="450.4" cy="228.6" r="3.3"/><circle cx="450.9" cy="275.2" r="3.3"/><circle cx="451.3" cy="224" r="3.3"/><circle cx="451.8" cy="227.2" r="3.3"/><circle cx="452.3" cy="271.2" r="3.3"/><circle cx="452.7" cy="265.1" r="3.3"/><circle cx="453.2" cy="229" r="3.3"/><circle cx="453.6" cy="242.8" r="3.3"/><circle cx="454.1" cy="239.9" r="3.3"/><circle cx="455" cy="227.2" r="3.3"/><circle cx="455.5" cy="286.2" r="3.3"/><circle cx="456.4" cy="270.9" r="3.3"/><circle cx="456.9" cy="236.9" r="3.3"/><circle cx="457.3" cy="210.4" r="3.3"/><circle cx="457.8" cy="266" r="3.3"/><circle cx="458.3" cy="367.1" r="3.3"/><circle cx="458.7" cy="202.5" r="3.3"/><circle cx="459.2" cy="243.8" r="3.3"/><circle cx="459.7" cy="256.8" r="3.3"/><circle cx="460.1" cy="309.1" r="3.3"/><circle cx="461" cy="218.9" r="3.3"/><circle cx="461.5" cy="257.7" r="3.3"/><circle cx="462" cy="269.1" r="3.3"/><circle cx="462.4" cy="267.9" r="3.3"/><circle cx="462.9" cy="217.9" r="3.3"/><circle cx="463.4" cy="272.3" r="3.3"/><circle cx="463.8" cy="233.8" r="3.3"/><circle cx="464.3" cy="242.1" r="3.3"/><circle cx="464.7" cy="242.9" r="3.3"/><circle cx="465.2" cy="292.2" r="3.3"/><circle cx="465.7" cy="233.5" r="3.3"/><circle cx="466.1" cy="217.7" r="3.3"/><circle cx="466.6" cy="252.1" r="3.3"/><circle cx="467.1" cy="355.3" r="3.3"/><circle cx="468" cy="244.8" r="3.3"/><circle cx="468.4" cy="259.7" r="3.3"/><circle cx="468.9" cy="253.8" r="3.3"/><circle cx="469.4" cy="250.2" r="3.3"/><circle cx="470.3" cy="226.8" r="3.3"/><circle cx="470.8" cy="244.2" r="3.3"/><circle cx="471.2" cy="253.4" r="3.3"/><circle cx="471.7" cy="244.4" r="3.3"/><circle cx="472.1" cy="229.3" r="3.3"/><circle cx="472.6" cy="249.7" r="3.3"/><circle cx="473.1" cy="294.6" r="3.3"/><circle cx="473.5" cy="225.3" r="3.3"/><circle cx="474" cy="268.2" r="3.3"/><circle cx="474.5" cy="285.3" r="3.3"/><circle cx="475.4" cy="251.6" r="3.3"/><circle cx="475.8" cy="320.7" r="3.3"/><circle cx="476.3" cy="273.3" r="3.3"/><circle cx="476.8" cy="239.9" r="3.3"/><circle cx="477.2" cy="251.3" r="3.3"/><circle cx="477.7" cy="222.5" r="3.3"/><circle cx="478.2" cy="243.7" r="3.3"/><circle cx="478.6" cy="275.5" r="3.3"/><circle cx="479.1" cy="270.4" r="3.3"/><circle cx="479.5" cy="273.8" r="3.3"/><circle cx="480" cy="236" r="3.3"/><circle cx="480.5" cy="252.1" r="3.3"/><circle cx="480.9" cy="269.3" r="3.3"/><circle cx="481.4" cy="232.1" r="3.3"/><circle cx="481.9" cy="250.2" r="3.3"/><circle cx="482.3" cy="281.9" r="3.3"/><circle cx="483.2" cy="237.6" r="3.3"/><circle cx="483.7" cy="246.4" r="3.3"/><circle cx="484.2" cy="252.1" r="3.3"/><circle cx="484.6" cy="271.5" r="3.3"/><circle cx="485.1" cy="299.8" r="3.3"/><circle cx="485.6" cy="262.3" r="3.3"/><circle cx="486" cy="247" r="3.3"/><circle cx="486.5" cy="258.6" r="3.3"/><circle cx="486.9" cy="259.4" r="3.3"/><circle cx="487.4" cy="274" r="3.3"/><circle cx="487.9" cy="244.4" r="3.3"/><circle cx="488.3" cy="247.3" r="3.3"/><circle cx="488.8" cy="328" r="3.3"/><circle cx="489.3" cy="234.8" r="3.3"/><circle cx="489.7" cy="234.2" r="3.3"/><circle cx="490.2" cy="233.8" r="3.3"/><circle cx="490.6" cy="259.6" r="3.3"/><circle cx="491.1" cy="262.1" r="3.3"/><circle cx="492" cy="235.2" r="3.3"/><circle cx="492.9" cy="271.4" r="3.3"/><circle cx="493.4" cy="269" r="3.3"/><circle cx="493.9" cy="233.3" r="3.3"/><circle cx="494.3" cy="255.5" r="3.3"/><circle cx="494.8" cy="323.2" r="3.3"/><circle cx="495.7" cy="294.6" r="3.3"/><circle cx="496.2" cy="252.2" r="3.3"/><circle cx="496.6" cy="254" r="3.3"/><circle cx="497.1" cy="263.4" r="3.3"/><circle cx="497.6" cy="291.4" r="3.3"/><circle cx="498" cy="264.1" r="3.3"/><circle cx="498.5" cy="231" r="3.3"/><circle cx="499.4" cy="255.1" r="3.3"/><circle cx="499.9" cy="220.8" r="3.3"/><circle cx="500.3" cy="240.5" r="3.3"/><circle cx="500.8" cy="276.6" r="3.3"/><circle cx="501.3" cy="238.1" r="3.3"/><circle cx="501.7" cy="298.7" r="3.3"/><circle cx="502.2" cy="256.3" r="3.3"/><circle cx="502.7" cy="221.9" r="3.3"/><circle cx="503.1" cy="217.1" r="3.3"/><circle cx="504" cy="237.5" r="3.3"/><circle cx="504.5" cy="216.5" r="3.3"/><circle cx="505" cy="282.9" r="3.3"/><circle cx="505.4" cy="248.7" r="3.3"/><circle cx="505.9" cy="222.8" r="3.3"/><circle cx="506.4" cy="279.8" r="3.3"/><circle cx="506.8" cy="243.5" r="3.3"/><circle cx="507.3" cy="259.3" r="3.3"/><circle cx="508.2" cy="246.4" r="3.3"/><circle cx="508.7" cy="264.4" r="3.3"/><circle cx="509.1" cy="233.1" r="3.3"/><circle cx="509.6" cy="214.8" r="3.3"/><circle cx="510.1" cy="238.2" r="3.3"/><circle cx="510.5" cy="273.2" r="3.3"/><circle cx="511" cy="240" r="3.3"/><circle cx="511.4" cy="248.8" r="3.3"/><circle cx="511.9" cy="231.4" r="3.3"/><circle cx="513.8" cy="240.2" r="3.3"/><circle cx="514.2" cy="258.4" r="3.3"/><circle cx="514.7" cy="291.6" r="3.3"/><circle cx="515.1" cy="299.3" r="3.3"/><circle cx="515.6" cy="286.5" r="3.3"/><circle cx="516.1" cy="327.1" r="3.3"/><circle cx="516.5" cy="277.6" r="3.3"/><circle cx="517" cy="281.3" r="3.3"/><circle cx="517.5" cy="225.2" r="3.3"/><circle cx="517.9" cy="244.7" r="3.3"/><circle cx="518.4" cy="310.5" r="3.3"/><circle cx="518.8" cy="287.7" r="3.3"/><circle cx="519.3" cy="228.5" r="3.3"/><circle cx="519.8" cy="244.3" r="3.3"/><circle cx="520.2" cy="248.6" r="3.3"/><circle cx="520.7" cy="238" r="3.3"/><circle cx="521.2" cy="222.3" r="3.3"/><circle cx="522.1" cy="302.5" r="3.3"/><circle cx="523" cy="239.2" r="3.3"/><circle cx="523.5" cy="275.1" r="3.3"/><circle cx="523.9" cy="295.5" r="3.3"/><circle cx="524.4" cy="304.6" r="3.3"/><circle cx="524.9" cy="238.8" r="3.3"/><circle cx="525.3" cy="266.1" r="3.3"/><circle cx="525.8" cy="284.6" r="3.3"/><circle cx="526.2" cy="227.7" r="3.3"/><circle cx="526.7" cy="367.4" r="3.3"/><circle cx="527.6" cy="200.5" r="3.3"/><circle cx="528.1" cy="274.8" r="3.3"/><circle cx="528.6" cy="285.6" r="3.3"/><circle cx="529" cy="301.3" r="3.3"/><circle cx="529.5" cy="263.9" r="3.3"/><circle cx="529.9" cy="236.9" r="3.3"/><circle cx="530.4" cy="237.6" r="3.3"/><circle cx="530.9" cy="242.4" r="3.3"/><circle cx="531.3" cy="270.3" r="3.3"/><circle cx="532.3" cy="249.4" r="3.3"/><circle cx="532.7" cy="223.6" r="3.3"/><circle cx="533.2" cy="224.8" r="3.3"/><circle cx="533.6" cy="265.4" r="3.3"/><circle cx="534.1" cy="231" r="3.3"/><circle cx="534.6" cy="276" r="3.3"/><circle cx="535" cy="260.8" r="3.3"/><circle cx="536" cy="272.3" r="3.3"/><circle cx="536.4" cy="253.9" r="3.3"/><circle cx="536.9" cy="265.4" r="3.3"/><circle cx="537.3" cy="237.3" r="3.3"/><circle cx="537.8" cy="218.3" r="3.3"/><circle cx="538.3" cy="226.8" r="3.3"/><circle cx="538.7" cy="271.8" r="3.3"/><circle cx="539.2" cy="302" r="3.3"/><circle cx="539.7" cy="294.5" r="3.3"/><circle cx="540.1" cy="343" r="3.3"/><circle cx="540.6" cy="257.5" r="3.3"/><circle cx="541" cy="245.7" r="3.3"/><circle cx="541.5" cy="252.6" r="3.3"/><circle cx="542" cy="252.2" r="3.3"/><circle cx="542.4" cy="253.3" r="3.3"/><circle cx="542.9" cy="265.8" r="3.3"/><circle cx="543.4" cy="303.1" r="3.3"/><circle cx="543.8" cy="212.7" r="3.3"/><circle cx="544.3" cy="231.7" r="3.3"/><circle cx="545.2" cy="325.9" r="3.3"/><circle cx="545.7" cy="289" r="3.3"/><circle cx="546.1" cy="257.5" r="3.3"/><circle cx="546.6" cy="227.9" r="3.3"/><circle cx="547.1" cy="226" r="3.3"/><circle cx="547.5" cy="231.3" r="3.3"/><circle cx="548" cy="224.5" r="3.3"/><circle cx="548.4" cy="230.6" r="3.3"/><circle cx="548.9" cy="238" r="3.3"/><circle cx="549.4" cy="244.8" r="3.3"/><circle cx="549.8" cy="263.2" r="3.3"/><circle cx="550.7" cy="263.6" r="3.3"/><circle cx="551.2" cy="219.5" r="3.3"/><circle cx="551.7" cy="285.3" r="3.3"/><circle cx="552.1" cy="291.7" r="3.3"/><circle cx="552.6" cy="232.2" r="3.3"/><circle cx="553.1" cy="255.7" r="3.3"/><circle cx="553.5" cy="281.2" r="3.3"/><circle cx="554" cy="223" r="3.3"/><circle cx="554.4" cy="240.5" r="3.3"/><circle cx="554.9" cy="237.5" r="3.3"/><circle cx="555.4" cy="286.8" r="3.3"/><circle cx="555.8" cy="243.6" r="3.3"/><circle cx="556.3" cy="246.7" r="3.3"/><circle cx="556.8" cy="237.1" r="3.3"/><circle cx="557.2" cy="229.8" r="3.3"/><circle cx="557.7" cy="230.2" r="3.3"/><circle cx="558.1" cy="252.7" r="3.3"/><circle cx="558.6" cy="233.9" r="3.3"/><circle cx="559.5" cy="240" r="3.3"/><circle cx="560" cy="239" r="3.3"/><circle cx="560.5" cy="275.5" r="3.3"/><circle cx="560.9" cy="304.9" r="3.3"/><circle cx="561.4" cy="260.5" r="3.3"/><circle cx="562.3" cy="247.5" r="3.3"/><circle cx="562.8" cy="246" r="3.3"/><circle cx="563.2" cy="330.9" r="3.3"/><circle cx="563.7" cy="256.5" r="3.3"/><circle cx="564.2" cy="231.1" r="3.3"/><circle cx="564.6" cy="231.2" r="3.3"/><circle cx="565.1" cy="232.2" r="3.3"/><circle cx="565.5" cy="263.9" r="3.3"/><circle cx="566" cy="272.4" r="3.3"/><circle cx="566.5" cy="275.1" r="3.3"/><circle cx="566.9" cy="241" r="3.3"/><circle cx="567.4" cy="212.3" r="3.3"/><circle cx="567.9" cy="225.2" r="3.3"/><circle cx="568.3" cy="222.4" r="3.3"/><circle cx="568.8" cy="226.1" r="3.3"/><circle cx="569.7" cy="265.7" r="3.3"/><circle cx="570.2" cy="277.1" r="3.3"/><circle cx="570.6" cy="227.8" r="3.3"/><circle cx="571.1" cy="220.9" r="3.3"/><circle cx="571.6" cy="292.8" r="3.3"/><circle cx="572" cy="256.4" r="3.3"/><circle cx="572.5" cy="241.6" r="3.3"/><circle cx="572.9" cy="280.1" r="3.3"/><circle cx="573.4" cy="289.7" r="3.3"/><circle cx="573.9" cy="293.6" r="3.3"/><circle cx="574.3" cy="234.4" r="3.3"/><circle cx="574.8" cy="320.1" r="3.3"/><circle cx="575.3" cy="229.6" r="3.3"/><circle cx="575.7" cy="253.6" r="3.3"/><circle cx="576.2" cy="237.1" r="3.3"/><circle cx="576.6" cy="222.9" r="3.3"/><circle cx="577.1" cy="292.3" r="3.3"/><circle cx="577.6" cy="306.6" r="3.3"/><circle cx="578" cy="244.6" r="3.3"/><circle cx="578.5" cy="344.8" r="3.3"/><circle cx="579" cy="332.8" r="3.3"/><circle cx="579.4" cy="261.4" r="3.3"/><circle cx="579.9" cy="252.1" r="3.3"/><circle cx="580.8" cy="273.3" r="3.3"/><circle cx="581.3" cy="240.6" r="3.3"/><circle cx="581.7" cy="225.9" r="3.3"/><circle cx="582.7" cy="226.5" r="3.3"/><circle cx="583.1" cy="234.1" r="3.3"/><circle cx="583.6" cy="358.3" r="3.3"/><circle cx="584.5" cy="244.5" r="3.3"/><circle cx="585" cy="274.6" r="3.3"/><circle cx="585.4" cy="252.3" r="3.3"/><circle cx="585.9" cy="234.4" r="3.3"/><circle cx="586.4" cy="272" r="3.3"/><circle cx="586.8" cy="251.4" r="3.3"/><circle cx="587.3" cy="242.9" r="3.3"/><circle cx="587.7" cy="233.8" r="3.3"/><circle cx="588.2" cy="219.5" r="3.3"/><circle cx="588.7" cy="220.3" r="3.3"/><circle cx="589.1" cy="248.9" r="3.3"/><circle cx="589.6" cy="265.4" r="3.3"/><circle cx="590.1" cy="211.7" r="3.3"/><circle cx="590.5" cy="238.8" r="3.3"/><circle cx="591" cy="243.8" r="3.3"/><circle cx="591.4" cy="355" r="3.3"/><circle cx="591.9" cy="235.8" r="3.3"/><circle cx="592.4" cy="298.1" r="3.3"/><circle cx="592.8" cy="275.5" r="3.3"/><circle cx="593.8" cy="278.8" r="3.3"/><circle cx="594.2" cy="253.2" r="3.3"/><circle cx="595.1" cy="309.9" r="3.3"/><circle cx="595.6" cy="258.5" r="3.3"/><circle cx="597" cy="302.1" r="3.3"/><circle cx="597.9" cy="239" r="3.3"/><circle cx="598.4" cy="322.8" r="3.3"/><circle cx="598.8" cy="235.6" r="3.3"/><circle cx="599.3" cy="232.5" r="3.3"/><circle cx="600.2" cy="254" r="3.3"/><circle cx="600.7" cy="275.3" r="3.3"/><circle cx="601.6" cy="268.1" r="3.3"/><circle cx="602.1" cy="264" r="3.3"/><circle cx="602.5" cy="236.6" r="3.3"/><circle cx="603" cy="224.4" r="3.3"/><circle cx="603.5" cy="342.6" r="3.3"/><circle cx="603.9" cy="278.6" r="3.3"/><circle cx="604.4" cy="240.4" r="3.3"/><circle cx="604.9" cy="227.6" r="3.3"/><circle cx="605.8" cy="225.9" r="3.3"/><circle cx="606.2" cy="260.6" r="3.3"/><circle cx="606.7" cy="221.9" r="3.3"/><circle cx="607.2" cy="271.4" r="3.3"/><circle cx="607.6" cy="298.7" r="3.3"/><circle cx="608.1" cy="252.6" r="3.3"/><circle cx="608.5" cy="221.2" r="3.3"/><circle cx="609" cy="253.4" r="3.3"/><circle cx="609.9" cy="236.6" r="3.3"/><circle cx="610.9" cy="314.4" r="3.3"/><circle cx="611.3" cy="354.3" r="3.3"/><circle cx="612.7" cy="314.8" r="3.3"/><circle cx="613.2" cy="280.6" r="3.3"/><circle cx="613.6" cy="255.6" r="3.3"/><circle cx="614.1" cy="266.2" r="3.3"/><circle cx="615" cy="260" r="3.3"/><circle cx="615.5" cy="230.5" r="3.3"/><circle cx="615.9" cy="225.3" r="3.3"/><circle cx="616.4" cy="248.1" r="3.3"/><circle cx="616.9" cy="237.4" r="3.3"/><circle cx="617.3" cy="231.9" r="3.3"/><circle cx="617.8" cy="223.9" r="3.3"/><circle cx="618.3" cy="219" r="3.3"/><circle cx="618.7" cy="264.9" r="3.3"/><circle cx="619.2" cy="262.9" r="3.3"/><circle cx="619.6" cy="222.1" r="3.3"/><circle cx="620.1" cy="220.8" r="3.3"/><circle cx="620.6" cy="221.1" r="3.3"/><circle cx="621.5" cy="260.5" r="3.3"/><circle cx="622.4" cy="234.7" r="3.3"/><circle cx="622.9" cy="251.1" r="3.3"/><circle cx="623.3" cy="251.2" r="3.3"/><circle cx="623.8" cy="257.2" r="3.3"/><circle cx="624.3" cy="224.4" r="3.3"/><circle cx="624.7" cy="262.9" r="3.3"/><circle cx="625.2" cy="228.9" r="3.3"/><circle cx="625.7" cy="238.2" r="3.3"/><circle cx="626.1" cy="242.7" r="3.3"/><circle cx="626.6" cy="236.6" r="3.3"/><circle cx="627" cy="249.1" r="3.3"/><circle cx="627.5" cy="323.2" r="3.3"/><circle cx="628" cy="234.6" r="3.3"/><circle cx="628.4" cy="234.6" r="3.3"/><circle cx="628.9" cy="256.8" r="3.3"/><circle cx="629.4" cy="234.2" r="3.3"/><circle cx="629.8" cy="230.9" r="3.3"/><circle cx="630.7" cy="256.5" r="3.3"/><circle cx="631.2" cy="268.3" r="3.3"/><circle cx="631.7" cy="349.7" r="3.3"/><circle cx="632.1" cy="243" r="3.3"/><circle cx="632.6" cy="291.9" r="3.3"/><circle cx="633.1" cy="267.6" r="3.3"/><circle cx="633.5" cy="244.8" r="3.3"/><circle cx="634" cy="242.1" r="3.3"/><circle cx="634.4" cy="242.8" r="3.3"/><circle cx="634.9" cy="211.6" r="3.3"/><circle cx="635.4" cy="270.4" r="3.3"/><circle cx="635.8" cy="242.2" r="3.3"/><circle cx="636.3" cy="339.8" r="3.3"/><circle cx="636.8" cy="238.8" r="3.3"/><circle cx="637.2" cy="226.1" r="3.3"/><circle cx="637.7" cy="225.1" r="3.3"/><circle cx="638.1" cy="276.6" r="3.3"/><circle cx="638.6" cy="260.3" r="3.3"/><circle cx="639.1" cy="224.2" r="3.3"/><circle cx="639.5" cy="253.8" r="3.3"/><circle cx="640" cy="229.2" r="3.3"/><circle cx="640.5" cy="300.8" r="3.3"/><circle cx="640.9" cy="215.7" r="3.3"/><circle cx="641.4" cy="222.2" r="3.3"/><circle cx="641.8" cy="238.8" r="3.3"/><circle cx="642.3" cy="285.7" r="3.3"/><circle cx="642.8" cy="255.5" r="3.3"/><circle cx="643.2" cy="244.9" r="3.3"/><circle cx="643.7" cy="243.3" r="3.3"/><circle cx="644.2" cy="253.6" r="3.3"/><circle cx="644.6" cy="257.3" r="3.3"/><circle cx="645.1" cy="245" r="3.3"/><circle cx="645.5" cy="221.9" r="3.3"/><circle cx="647.4" cy="277.5" r="3.3"/><circle cx="648.3" cy="236.3" r="3.3"/><circle cx="648.8" cy="247.1" r="3.3"/><circle cx="649.2" cy="261.2" r="3.3"/><circle cx="649.7" cy="276.6" r="3.3"/><circle cx="650.2" cy="245.4" r="3.3"/><circle cx="650.6" cy="244.8" r="3.3"/><circle cx="651.1" cy="241" r="3.3"/><circle cx="651.6" cy="278.9" r="3.3"/><circle cx="652" cy="234.1" r="3.3"/><circle cx="652.9" cy="223.6" r="3.3"/><circle cx="653.9" cy="271.2" r="3.3"/><circle cx="654.3" cy="323.7" r="3.3"/><circle cx="654.8" cy="226.4" r="3.3"/><circle cx="655.7" cy="215.5" r="3.3"/><circle cx="656.6" cy="213" r="3.3"/><circle cx="657.1" cy="237.8" r="3.3"/><circle cx="657.6" cy="248" r="3.3"/><circle cx="658" cy="238" r="3.3"/><circle cx="658.5" cy="211" r="3.3"/><circle cx="659" cy="229" r="3.3"/><circle cx="659.9" cy="224" r="3.3"/><circle cx="660.3" cy="242.5" r="3.3"/><circle cx="661.3" cy="231.2" r="3.3"/><circle cx="661.7" cy="320" r="3.3"/><circle cx="662.2" cy="243.5" r="3.3"/><circle cx="662.7" cy="242.2" r="3.3"/><circle cx="663.1" cy="272" r="3.3"/><circle cx="663.6" cy="233.2" r="3.3"/><circle cx="664" cy="296.4" r="3.3"/><circle cx="664.5" cy="243" r="3.3"/><circle cx="665" cy="266.9" r="3.3"/><circle cx="665.4" cy="253.3" r="3.3"/><circle cx="665.9" cy="213.8" r="3.3"/><circle cx="666.3" cy="244.8" r="3.3"/><circle cx="666.8" cy="301.6" r="3.3"/><circle cx="667.3" cy="251.1" r="3.3"/><circle cx="667.7" cy="277.4" r="3.3"/><circle cx="668.2" cy="246.9" r="3.3"/><circle cx="668.7" cy="243.3" r="3.3"/><circle cx="669.1" cy="245.2" r="3.3"/><circle cx="669.6" cy="245.2" r="3.3"/><circle cx="670" cy="265.9" r="3.3"/><circle cx="670.5" cy="236.6" r="3.3"/><circle cx="671" cy="225.5" r="3.3"/><circle cx="671.4" cy="268.9" r="3.3"/><circle cx="671.9" cy="248.8" r="3.3"/><circle cx="672.4" cy="245.5" r="3.3"/></g>
<path d="M111.5 67.7L116.2 70.5L120.9 73.7L125.6 77.3L130.3 81.5L135 87.4L139.7 94.3L144.4 100.7L149.1 106.3L153.8 111L158.5 115.2L163.2 118.9L167.8 122.3L172.5 125.6L177.2 128.6L181.9 131.4L186.6 134.1L191.3 136.6L196 139L200.7 141.5L205.4 143.9L210.1 146.2L214.8 148.6L219.5 150.9L224.2 153.2L228.9 155.6L233.6 158L238.3 160.4L243 162.9L247.7 165.6L252.4 168.2L257.1 170.9L261.8 173.6L266.5 176.1L271.2 178.5L275.9 180.8L280.5 182.9L285.2 184.8L289.9 186.7L294.6 188.5L299.3 190.3L304 192L308.7 193.8L313.4 195.6L318.1 197.5L322.8 199.4L327.5 201.3L332.2 203.2L336.9 205.1L341.6 207L346.3 208.9L351 210.8L355.7 212.8L360.4 214.7L365.1 216.7L369.8 218.7L374.5 220.7L379.2 222.6L383.9 224.6L388.6 226.7L393.2 228.7L397.9 230.7L402.6 232.5L407.3 234.3L412 236L416.7 237.8L421.4 239.6L426.1 241.4L430.8 243.4L435.5 245.3L440.2 247.3L444.9 249.3L449.6 251.3L454.3 253.4L459 255.4L463.7 257.5L468.4 259.6L473.1 261.7L477.8 263.8L482.5 266L487.2 268.2L491.9 270.3L496.6 272.4L501.3 274.5L505.9 276.5L510.6 278.5L515.3 280.5L520 282.4L524.7 284.3L529.4 286.2L534.1 288L538.8 289.8L543.5 291.6L548.2 293.3L552.9 294.9L557.6 296.6L562.3 298.2L567 299.8L571.7 301.4L576.4 302.9L581.1 304.3L585.8 305.6L590.5 306.8L595.2 307.9L599.9 308.9L604.6 309.9L609.3 310.8L614 311.7L618.6 312.6L623.3 313.4L628 314.2L632.7 315L637.4 315.8L642.1 316.5L646.8 317.3L651.5 318L656.2 318.6L660.9 319.3L665.6 319.9L670.3 320.5" fill="none" stroke="#3b78c2" stroke-width="5" stroke-linecap="round" stroke-linejoin="round"/>
<path d="M111.5 66.5L116.2 69.2L120.9 72.4L125.6 76L130.3 80.2L135 86.1L139.7 92.9L144.4 99.4L149.1 104.9L153.8 109.6L158.5 113.7L163.2 117.5L167.8 120.9L172.5 124.1L177.2 127.1L181.9 129.9L186.6 132.5L191.3 135L196 137.5L200.7 139.9L205.4 142.3L210.1 144.6L214.8 146.9L219.5 149.2L224.2 151.5L228.9 153.9L233.6 156.2L238.3 158.7L243 161.2L247.7 163.8L252.4 166.5L257.1 169.1L261.8 171.8L266.5 174.3L271.2 176.7L275.9 178.9L280.5 181L285.2 183L289.9 184.8L294.6 186.6L299.3 188.4L304 190.1L308.7 191.9L313.4 193.7L318.1 195.5L322.8 197.4L327.5 199.3L332.2 201.2L336.9 203.1L341.6 205L346.3 206.9L351 208.8L355.7 210.8L360.4 212.7L365.1 214.7L369.8 216.7L374.5 218.7L379.2 220.6L383.9 222.6L388.6 224.7L393.2 226.7L397.9 228.7L402.6 230.5L407.3 232.3L412 234L416.7 235.8L421.4 237.6L426.1 239.5L430.8 241.4L435.5 243.3L440.2 245.3L444.9 247.4L449.6 249.4L454.3 251.4L459 253.5L463.7 255.6L468.4 257.6L473.1 259.8L477.8 261.9L482.5 264.1L487.2 266.3L491.9 268.4L496.6 270.6L501.3 272.6L505.9 274.7L510.6 276.7L515.3 278.6L520 280.6L524.7 282.5L529.4 284.4L534.1 286.3L538.8 288.1L543.5 289.9L548.2 291.6L552.9 293.3L557.6 294.9L562.3 296.6L567 298.2L571.7 299.8L576.4 301.3L581.1 302.7L585.8 304L590.5 305.2L595.2 306.3L599.9 307.4L604.6 308.4L609.3 309.4L614 310.3L618.6 311.2L623.3 312L628 312.8L632.7 313.6L637.4 314.4L642.1 315.2L646.8 316L651.5 316.7L656.2 317.4L660.9 318L665.6 318.7L670.3 319.3" fill="none" stroke="#f8060e" stroke-width="5.2" stroke-linecap="round" stroke-linejoin="round"/>
<line x1="103.3" y1="59.8" x2="103.3" y2="483" stroke="#000" stroke-width="3.6"/>
<line x1="93.5" y1="61.5" x2="103.3" y2="61.5" stroke="#000" stroke-width="3.4"/>
<text x="90" y="70.9" font-size="26" fill="#222" text-anchor="end">-6</text>
<line x1="93.5" y1="102.5" x2="103.3" y2="102.5" stroke="#000" stroke-width="3.4"/>
<text x="90" y="112.4" font-size="26" fill="#222" text-anchor="end">-7</text>
<line x1="93.5" y1="143.5" x2="103.3" y2="143.5" stroke="#000" stroke-width="3.4"/>
<text x="90" y="153.9" font-size="26" fill="#222" text-anchor="end">-8</text>
<line x1="93.5" y1="184.5" x2="103.3" y2="184.5" stroke="#000" stroke-width="3.4"/>
<text x="90" y="195.4" font-size="26" fill="#222" text-anchor="end">-9</text>
<line x1="93.5" y1="225.5" x2="103.3" y2="225.5" stroke="#000" stroke-width="3.4"/>
<text x="90" y="236.9" font-size="26" fill="#222" text-anchor="end">-10</text>
<line x1="93.5" y1="266.5" x2="103.3" y2="266.5" stroke="#000" stroke-width="3.4"/>
<text x="90" y="278.4" font-size="26" fill="#222" text-anchor="end">-11</text>
<line x1="93.5" y1="307.5" x2="103.3" y2="307.5" stroke="#000" stroke-width="3.4"/>
<text x="90" y="319.9" font-size="26" fill="#222" text-anchor="end">-12</text>
<line x1="93.5" y1="348.5" x2="103.3" y2="348.5" stroke="#000" stroke-width="3.4"/>
<text x="90" y="361.4" font-size="26" fill="#222" text-anchor="end">-13</text>
<text x="41" y="207" font-size="25" fill="#222" text-anchor="middle" transform="rotate(-90 41 207)">ln I(Q)</text>
<line x1="101.5" y1="383.7" x2="674.5" y2="383.7" stroke="#000" stroke-width="2.7"/>
<line x1="673" y1="382.3" x2="673" y2="483" stroke="#000" stroke-width="3"/>
<line x1="101.5" y1="481.1" x2="674.5" y2="481.1" stroke="#000" stroke-width="3.7"/>
<line x1="94.5" y1="404.7" x2="103" y2="404.7" stroke="#000" stroke-width="3.2"/>
<text x="90.5" y="411.6" font-size="19.5" fill="#222" text-anchor="end">1</text>
<line x1="94.5" y1="438.9" x2="103" y2="438.9" stroke="#000" stroke-width="3.2"/>
<text x="90.5" y="445.8" font-size="19.5" fill="#222" text-anchor="end">0</text>
<line x1="94.5" y1="473.1" x2="103" y2="473.1" stroke="#000" stroke-width="3.2"/>
<text x="90.5" y="480" font-size="19.5" fill="#222" text-anchor="end">-1</text>
<text x="61.5" y="439" font-size="18.6" fill="#222" text-anchor="middle" transform="rotate(-90 61.5 439)">Residuals</text>
<line x1="103.3" y1="439.1" x2="673" y2="439.1" stroke="#000" stroke-width="2.4"/>
<polyline fill="none" stroke="#3b78c2" stroke-width="1.6" stroke-linejoin="round" points="104.6,438.6 104.9,439 105.2,439 105.5,439.4 105.8,438.9 106.1,439 106.4,439.1 106.7,438.8 107,438.8 107.3,439.2 107.6,439.1 107.9,439 108.2,438.7 108.5,438.8 108.8,439.3 109.1,439.2 109.4,438.7 109.7,438.5 110,439 110.3,439.1 110.6,438.4 110.9,439 111.2,438.7 111.5,438.4 111.8,438.7 112.1,438.9 112.4,438.7 112.7,439.2 113,439 113.3,439.2 113.6,439.1 113.9,439.1 114.2,439 114.5,439.1 114.8,438.9 115.1,438.9 115.4,438.8 115.7,438.3 116,439.6 116.3,438.4 116.6,439.1 116.9,439.5 117.2,439.1 117.5,438.9 117.8,438.4 118.1,439.5 118.4,438.8 118.7,438.8 118.9,439.8 119.2,439.6 119.5,438.6 119.8,438.4 120.1,438.3 120.4,438.6 120.7,438.7 121,438.8 121.3,438.3 121.6,439.5 121.9,439.1 122.2,438.7 122.5,439.9 122.8,438.2 123.1,439.5 123.4,439.1 123.7,437.6 124,439.8 124.3,439.4 124.6,438 124.9,439.7 125.2,439.3 125.5,438.6 125.8,438.6 126.1,438.5 126.4,438.7 126.7,438 127,438.2 127.3,438.5 127.6,439.5 127.9,439.5 128.2,440.4 128.5,438.4 128.8,440.3 129.1,438.3 129.4,437.6 129.7,439.8 130,439.6 130.3,439.4 130.6,438.3 130.9,439.7 131.2,439.2 131.5,439.5 131.8,439.3 132.1,437.9 132.4,439.8 132.7,438.8 133,438.7 133.3,438.2 133.6,440.1 133.9,438 134.2,438.5 134.5,438.2 134.8,438.8 135.1,440.5 135.4,439.7 135.7,438.2 136,438.9 136.3,439.2 136.6,437.4 136.9,437 137.2,439.2 137.5,437.2 137.8,440.9 138.1,441 138.4,438.1 138.7,439.4 139,438.4 139.3,438.4 139.6,439.2 139.9,438.3 140.2,438.8 140.5,440.6 140.8,438.7 141.1,438.7 141.4,437.1 141.7,440.2 142,438.9 142.3,439.6 142.6,439.3 142.9,437.2 143.2,438.5 143.5,439.6 143.8,438.7 144.1,438.1 144.4,440.2 144.7,439.4 145,437.3 145.3,438 145.6,439.2 145.9,439.7 146.2,439.3 146.5,440.9 146.8,437.9 147.1,438.5 147.4,438.7 147.7,440.6 148,440.4 148.3,438.3 148.6,438.6 148.9,439.8 149.2,438.3 149.5,437.8 149.8,440 150.1,440.1 150.4,440.2 150.7,441.2 151,438 151.3,438.3 151.6,438.3 151.9,440.6 152.2,440.5 152.5,439.3 152.8,439.7 153.1,438.8 153.4,440.1 153.7,438.1 154,436.7 154.3,437 154.6,436.9 154.9,438.8 155.2,437.7 155.5,439.7 155.8,437.7 156.1,439.7 156.3,439.9 156.6,440.1 156.9,438 157.2,438.5 157.5,438.7 157.8,440.8 158.1,438.7 158.4,441.2 158.7,436.9 159,439.4 159.3,438.6 159.6,439.4 159.9,441.4 160.2,441.2 160.5,439.3 160.8,436.8 161.1,440.8 161.4,440.3 161.7,439.4 162,441.7 162.3,441.7 162.6,439.9 162.9,439.4 163.2,439.9 163.5,436.7 163.8,439.5 164.1,438.4 164.4,436.6 164.7,436.4 165,441.6 165.3,439.9 165.6,437.2 165.9,441.4 166.2,440.7 166.5,441.3 166.8,442.4 167.1,441 167.4,438.6 167.7,437 168,436.5 168.3,438.9 168.6,442.4 168.9,439.4 169.2,439.9 169.5,438.3 169.8,439.5 170.1,442.2 170.4,438.2 170.7,442.6 171,440.5 171.3,438.4 171.6,438.3 171.9,436.4 172.2,443.2 172.5,438.3 172.8,437.8 173.1,439.9 173.4,437.8 173.7,441.2 174,437.8 174.3,438 174.6,441 174.9,440.5 175.2,439.7 175.5,440.5 175.8,437.1 176.1,438.6 176.4,436.6 176.7,436.9 177,438.8 177.3,439.7 177.6,441 177.9,440.8 178.2,440.8 178.5,438.3 178.8,441 179.1,438.7 179.4,438.6 179.7,440.7 180,439.7 180.3,436.3 180.6,436 180.9,441.5 181.2,439.8 181.5,440.1 181.8,439.9 182.1,436.1 182.4,437 182.7,436.6 183,435.6 183.3,440.3 183.6,439.8 183.9,438.8 184.2,437 184.5,439.6 184.8,437.7 185.1,436.7 185.4,436.7 185.7,438 186,441 186.3,442.4 186.6,436.7 186.9,438 187.2,441.3 187.5,440.4 187.8,440.3 188.1,442.8 188.4,438.4 188.7,441 189,440.1 189.3,437.4 189.6,439.7 189.9,437.8 190.2,438 190.5,438.8 190.8,438.8 191.1,435.1 191.4,439.8 191.7,435.6 192,441.4 192.3,436.6 192.6,438.5 192.9,441 193.2,445 193.5,435.6 193.7,441.9 194,441.5 194.3,438.6 194.6,438.8 194.9,438.3 195.2,440 195.5,442.7 195.8,437 196.1,441.5 196.4,438.4 196.7,437 197,436.3 197.3,440 197.6,440.2 197.9,440.3 198.2,443.6 198.5,441.2 198.8,441.7 199.1,442.1 199.4,438.5 199.7,440.2 200,435.3 200.3,435.6 200.6,443.8 200.9,438.6 201.2,441.8 201.5,437.6 201.8,438.5 202.1,436.8 202.4,438.2 202.7,437.2 203,440.6 203.3,445.3 203.6,442.3 203.9,441.5 204.2,440.7 204.5,441.9 204.8,435.1 205.1,440 205.4,435.9 205.7,440.4 206,435 206.3,442.4 206.6,437.5 206.9,442.7 207.2,437.3 207.5,435.1 207.8,443.5 208.1,441.7 208.4,438.3 208.7,440 209,444.6 209.3,436.1 209.6,438.8 209.9,435.7 210.2,438.1 210.5,442.4 210.8,440.8 211.1,435.5 211.4,443 211.7,440.8 212,437.4 212.3,436.4 212.6,436.8 212.9,443.3 213.2,433.7 213.5,440 213.8,438.9 214.1,439.6 214.4,440.2 214.7,442.1 215,440.5 215.3,435.5 215.6,443.1 215.9,445.9 216.2,437.5 216.5,438 216.8,436.1 217.1,434.4 217.4,441.5 217.7,438.4 218,437.6 218.3,435.7 218.6,436.2 218.9,441.9 219.2,443.3 219.5,440.4 219.8,444 220.1,435.9 220.4,440.7 220.7,440.6 221,442.1 221.3,434.8 221.6,438.1 221.9,440.8 222.2,437.2 222.5,439.9 222.8,437.3 223.1,435.3 223.4,440.4 223.7,437.5 224,437.6 224.3,435.8 224.6,437.3 224.9,438.8 225.2,441.5 225.5,437.7 225.8,442.6 226.1,437.1 226.4,438.7 226.7,437.4 227,441.2 227.3,442 227.6,442.3 227.9,435.8 228.2,440.3 228.5,440.4 228.8,444.8 229.1,439.9 229.4,449.6 229.7,435 230,440.4 230.3,438.8 230.6,443.9 230.9,442.9 231.1,437.1 231.4,440.4 231.7,437.7 232,435.2 232.3,437 232.6,445.3 232.9,442.6 233.2,443.1 233.5,442.4 233.8,445.9 234.1,445.8 234.4,442 234.7,441.5 235,437.4 235.3,440.7 235.6,434.6 235.9,448 236.2,444 236.5,438.1 236.8,440.6 237.1,442.8 237.4,436.6 237.7,435.6 238,432.9 238.3,441 238.6,439.8 238.9,438.2 239.2,438.7 239.5,435.8 239.8,441.3 240.1,437.8 240.4,450.1 240.7,436.6 241,433.8 241.3,439.9 241.6,435.7 241.9,445 242.2,440.9 242.5,444.7 242.8,437.9 243.1,437.3 243.4,444.1 243.7,442.5 244,441.7 244.3,431.2 244.6,440 244.9,438.5 245.2,437.7 245.5,437.9 245.8,440.6 246.1,446.2 246.4,442 246.7,433.6 247,438.1 247.3,441 247.6,444.2 247.9,440 248.2,438.8 248.5,441.9 248.8,436 249.1,441.7 249.4,440.4 249.7,436.1 250,438.2 250.3,435.2 250.6,440.6 250.9,441.2 251.2,437.3 251.5,438.2 251.8,434.9 252.1,437.5 252.4,439.9 252.7,436.6 253,436.7 253.3,443.6 253.6,440.3 253.9,440.9 254.2,434.8 254.5,441.5 254.8,435.3 255.1,444.1 255.4,440 255.7,435.2 256,440.7 256.3,434.9 256.6,450.3 256.9,438.8 257.2,438.1 257.5,440.2 257.8,445 258.1,436.6 258.4,447.9 258.7,435.6 259,437.9 259.3,435.4 259.6,440.7 259.9,443.7 260.2,441.6 260.5,441.4 260.8,436.8 261.1,440.9 261.4,437.4 261.7,437.2 262,433.8 262.3,446.9 262.6,441.2 262.9,436.4 263.2,436.4 263.5,441.8 263.8,440.7 264.1,440.1 264.4,438.4 264.7,441.8 265,442.1 265.3,443.8 265.6,441.1 265.9,433.8 266.2,443.2 266.5,435.3 266.8,431.7 267.1,438.1 267.4,430.1 267.7,440.4 268,432.7 268.3,439.9 268.5,444.2 268.8,437.5 269.1,431.8 269.4,441.9 269.7,437 270,443.4 270.3,443 270.6,437 270.9,440.3 271.2,436.6 271.5,433.9 271.8,444.1 272.1,442.2 272.4,438.6 272.7,429.9 273,440.9 273.3,441.4 273.6,437 273.9,430.6 274.2,441.8 274.5,440.7 274.8,438.5 275.1,434.2 275.4,430.2 275.7,444.4 276,446 276.3,438 276.6,436.5 276.9,448.2 277.2,441.9 277.5,434.9 277.8,441.5 278.1,436.7 278.4,437.9 278.7,436 279,436.9 279.3,437.5 279.6,433.6 279.9,441.7 280.2,438 280.5,434 280.8,441.6 281.1,440.9 281.4,442.4 281.7,443.1 282,430.4 282.3,436.6 282.6,431 282.9,435.5 283.2,438.2 283.5,440.5 283.8,437.4 284.1,438.7 284.4,434.8 284.7,442.9 285,437.8 285.3,436.6 285.6,440.3 285.9,440.3 286.2,436.2 286.5,436.2 286.8,438.9 287.1,438.5 287.4,441.7 287.7,436.2 288,439.9 288.3,445.8 288.6,440.7 288.9,436 289.2,437.3 289.5,443.1 289.8,435.5 290.1,436 290.4,436 290.7,432.2 291,440.8 291.3,436 291.6,440.6 291.9,434.4 292.2,433.7 292.5,436.5 292.8,435.5 293.1,443 293.4,436 293.7,444.6 294,429.5 294.3,433.8 294.6,446.1 294.9,451 295.2,430.3 295.5,443.3 295.8,436.4 296.1,445.2 296.4,438.5 296.7,442.5 297,436.2 297.3,441.1 297.6,432.4 297.9,443 298.2,433.3 298.5,438.9 298.8,436.6 299.1,446.7 299.4,447.4 299.7,434.2 300,445.1 300.3,441.2 300.6,441.2 300.9,443.7 301.2,438 301.5,446 301.8,445 302.1,434.8 302.4,445.1 302.7,435.6 303,435.9 303.3,432.1 303.6,436.8 303.9,448 304.2,442.7 304.5,442.5 304.8,433.4 305.1,437.3 305.4,442 305.7,436.9 305.9,441.4 306.2,436.4 306.5,438.2 306.8,433.9 307.1,437.4 307.4,434.4 307.7,439.9 308,434 308.3,440.5 308.6,436 308.9,437.9 309.2,440.4 309.5,441.7 309.8,441.1 310.1,436.7 310.4,450.4 310.7,433.2 311,450.7 311.3,440.7 311.6,442.1 311.9,435.5 312.2,437.8 312.5,440 312.8,438.5 313.1,432.3 313.4,428 313.7,437.1 314,449.4 314.3,441.8 314.6,436.9 314.9,423.3 315.2,443.4 315.5,441.6 315.8,436.3 316.1,437.4 316.4,446.1 316.7,434.4 317,446.1 317.3,441.1 317.6,432.6 317.9,449.2 318.2,441.4 318.5,430.9 318.8,441 319.1,444.8 319.4,442.6 319.7,434.9 320,447.4 320.3,442.9 320.6,446.8 320.9,445.4 321.2,432.7 321.5,440.2 321.8,441.9 322.1,436.8 322.4,443.3 322.7,445.7 323,433.3 323.3,434.6 323.6,444 323.9,435.4 324.2,431.7 324.5,436.5 324.8,436.4 325.1,445.9 325.4,440.5 325.7,449.1 326,433.4 326.3,440.7 326.6,432.3 326.9,443.7 327.2,434.5 327.5,447.7 327.8,441.8 328.1,436.2 328.4,437.1 328.7,440.1 329,448.1 329.3,432.2 329.6,435.6 329.9,433.1 330.2,433.2 330.5,441.7 330.8,436.9 331.1,425.4 331.4,444.1 331.7,436.8 332,442.7 332.3,430 332.6,438 332.9,445.2 333.2,442.9 333.5,450.7 333.8,451.6 334.1,453.8 334.4,443.6 334.7,445.7 335,438.1 335.3,444.1 335.6,437.7 335.9,429.7 336.2,446 336.5,446.2 336.8,433.8 337.1,426.6 337.4,444.4 337.7,448.7 338,441.4 338.3,442 338.6,435.2 338.9,445.4 339.2,441.2 339.5,441.5 339.8,448.2 340.1,448.2 340.4,436.5 340.7,436 341,444.1 341.3,430.6 341.6,433.9 341.9,435.2 342.2,435.7 342.5,437 342.8,435 343.1,431.9 343.3,438.6 343.6,456.5 343.9,440.7 344.2,444.4 344.5,446.3 344.8,435.7 345.1,449.5 345.4,434.4 345.7,443.3 346,446.6 346.3,444.6 346.6,426.1 346.9,430.9 347.2,441.4 347.5,433.1 347.8,429.1 348.1,444.7 348.4,441.4 348.7,433.9 349,436.7 349.3,441.9 349.6,429.9 349.9,436.1 350.2,434.5 350.5,418.9 350.8,436.2 351.1,424.1 351.4,437.2 351.7,440.7 352,438.2 352.3,434 352.6,435.2 352.9,436.8 353.2,448.2 353.5,449.1 353.8,441.4 354.1,434.8 354.4,430.7 354.7,453.5 355,440.7 355.3,442.5 355.6,440.5 355.9,437.2 356.2,444.8 356.5,447.5 356.8,433.2 357.1,434.7 357.4,442.3 357.7,440.6 358,443.9 358.3,448 358.6,435.3 358.9,443.8 359.2,446.4 359.5,443.4 359.8,429.5 360.1,436.4 360.4,437.6 360.7,438.5 361,434 361.3,432.6 361.6,447.5 361.9,441.3 362.2,443.7 362.5,437.8 362.8,440.3 363.1,451.7 363.4,432.3 363.7,437.5 364,450.2 364.3,432.3 364.6,438.3 364.9,436.3 365.2,439.8 365.5,438.1 365.8,443 366.1,449.9 366.4,443.7 366.7,438.1 367,439.8 367.3,433.5 367.6,440.6 367.9,453.5 368.2,434.8 368.5,444.9 368.8,452.3 369.1,442.1 369.4,448.3 369.7,437.1 370,445.7 370.3,427.6 370.6,441.7 370.9,443.6 371.2,444.2 371.5,453.3 371.8,445.5 372.1,444.8 372.4,443.5 372.7,453.7 373,440 373.3,431.5 373.6,442.8 373.9,440.5 374.2,436.7 374.5,445.1 374.8,444.4 375.1,433.4 375.4,438.1 375.7,447.7 376,451.1 376.3,425.2 376.6,436.5 376.9,449.8 377.2,438.2 377.5,433 377.8,438.1 378.1,451.6 378.4,427.9 378.7,435.4 379,441.2 379.3,434.8 379.6,441.3 379.9,442 380.2,433.5 380.5,458.5 380.7,432.7 381,436.5 381.3,434.2 381.6,433.2 381.9,424.3 382.2,429.9 382.5,433.4 382.8,442.2 383.1,434.5 383.4,444.3 383.7,445.8 384,435.9 384.3,435.4 384.6,431.3 384.9,453.2 385.2,435 385.5,434.5 385.8,438 386.1,429.3 386.4,445.2 386.7,436.6 387,442 387.3,438.8 387.6,445.8 387.9,440.8 388.2,434.4 388.5,437.9 388.8,436.5 389.1,446.8 389.4,428.5 389.7,444 390,438.5 390.3,434.9 390.6,440.7 390.9,433.8 391.2,437.4 391.5,427.6 391.8,435.1 392.1,434.6 392.4,444.8 392.7,435.6 393,432.1 393.3,435.9 393.6,445.6 393.9,443.1 394.2,441.1 394.5,438.5 394.8,448.6 395.1,426.5 395.4,440.2 395.7,437.9 396,442.5 396.3,439.9 396.6,426.2 396.9,445.8 397.2,443 397.5,449.7 397.8,445 398.1,428.7 398.4,443.8 398.7,442.7 399,451.6 399.3,442 399.6,437.3 399.9,442.9 400.2,442.3 400.5,433.5 400.8,435.3 401.1,440.4 401.4,444.9 401.7,449.7 402,427.6 402.3,449.9 402.6,434.5 402.9,441 403.2,444.5 403.5,429.8 403.8,444.6 404.1,430.3 404.4,446.5 404.7,435.5 405,430.2 405.3,446.1 405.6,424.7 405.9,433 406.2,454.5 406.5,429.4 406.8,425.9 407.1,441.4 407.4,440.9 407.7,436.2 408,452.5 408.3,437.7 408.6,432.4 408.9,443.4 409.2,431.2 409.5,423.8 409.8,453 410.1,451.9 410.4,444.5 410.7,434.4 411,436.1 411.3,445.9 411.6,447.4 411.9,444.7 412.2,427.1 412.5,446.2 412.8,443.6 413.1,432.2 413.4,441.5 413.7,446.5 414,428.9 414.3,436.5 414.6,444.4 414.9,442.3 415.2,432.3 415.5,442.1 415.8,436.9 416.1,432.5 416.4,431.8 416.7,452.3 417,443 417.3,441.9 417.6,437.9 417.9,433.3 418.1,430.5 418.4,444.1 418.7,447.2 419,437.2 419.3,443.7 419.6,426.5 419.9,436 420.2,438.2 420.5,431.6 420.8,444 421.1,441.8 421.4,440.7 421.7,433.9 422,429.3 422.3,432.9 422.6,433.2 422.9,441 423.2,435.9 423.5,441 423.8,430.3 424.1,443.8 424.4,439.9 424.7,436.8 425,432.9 425.3,444.6 425.6,441 425.9,445.3 426.2,449 426.5,430.7 426.8,435.2 427.1,450.1 427.4,446.4 427.7,434.5 428,443.8 428.3,447 428.6,429.5 428.9,442.9 429.2,442.1 429.5,434.5 429.8,444.6 430.1,438.4 430.4,437.4 430.7,433.2 431,444.8 431.3,430.7 431.6,436.1 431.9,425.6 432.2,437 432.5,443.4 432.8,443.4 433.1,447.8 433.4,438.7 433.7,440 434,432.1 434.3,438.1 434.6,445.8 434.9,431.2 435.2,444.3 435.5,436.8 435.8,428 436.1,429.4 436.4,445 436.7,440.5 437,423.9 437.3,431.5 437.6,434.8 437.9,432.2 438.2,455.7 438.5,441.9 438.8,450.4 439.1,444.5 439.4,442.6 439.7,435.4 440,430.2 440.3,433.1 440.6,436.9 440.9,442.6 441.2,429.5 441.5,437.1 441.8,453.2 442.1,440.5 442.4,435.4 442.7,447.3 443,437.5 443.3,422.3 443.6,442.1 443.9,440.5 444.2,440.5 444.5,447.5 444.8,443.8 445.1,447.9 445.4,442.5 445.7,446.4 446,428.7 446.3,441.2 446.6,433 446.9,449.9 447.2,440.5 447.5,435.1 447.8,434.2 448.1,445.1 448.4,441.2 448.7,438.6 449,443 449.3,443.6 449.6,435.5 449.9,449.5 450.2,454.3 450.5,444.1 450.8,437.3 451.1,458 451.4,429 451.7,438.7 452,435 452.3,446.8 452.6,440.6 452.9,425.3 453.2,425 453.5,434.5 453.8,442.4 454.1,441.1 454.4,424.2 454.7,445.8 455,447.5 455.3,441.4 455.5,432.3 455.8,448.7 456.1,436.7 456.4,436.5 456.7,438.4 457,441.6 457.3,432.2 457.6,435 457.9,451.9 458.2,426.9 458.5,436 458.8,437.1 459.1,443.3 459.4,442.9 459.7,460.5 460,442.4 460.3,435 460.6,434.9 460.9,446.1 461.2,469.3 461.5,449.7 461.8,443.2 462.1,429.6 462.4,453.6 462.7,440.6 463,435.1 463.3,434.9 463.6,441.5 463.9,463 464.2,435 464.5,438.8 464.8,435.5 465.1,448.3 465.4,444.5 465.7,427.7 466,441.4 466.3,440.7 466.6,446.4 466.9,429.5 467.2,453.8 467.5,444.8 467.8,436.1 468.1,440.8 468.4,432.4 468.7,436.1 469,427.8 469.3,442.2 469.6,441.4 469.9,437.2 470.2,454.8 470.5,427.9 470.8,447.7 471.1,430.1 471.4,427.5 471.7,427.1 472,437.6 472.3,445.3 472.6,457.6 472.9,432.4 473.2,442.1 473.5,425.1 473.8,442.5 474.1,434 474.4,443.4 474.7,435.6 475,442.9 475.3,442.3 475.6,455.6 475.9,446 476.2,441.3 476.5,428.6 476.8,436.9 477.1,450.2 477.4,425.9 477.7,436.2 478,429.8 478.3,447.6 478.6,467.5 478.9,446.5 479.2,448.6 479.5,436.9 479.8,453 480.1,447.5 480.4,451.5 480.7,438 481,447.8 481.3,427.5 481.6,432.4 481.9,432 482.2,441.8 482.5,437 482.8,431.7 483.1,447.1 483.4,428.5 483.7,440.5 484,428.3 484.3,419.9 484.6,425.7 484.9,449 485.2,428.6 485.5,442.5 485.8,443.5 486.1,441.9 486.4,449.9 486.7,436.9 487,446 487.3,429.4 487.6,436.2 487.9,462 488.2,448.1 488.5,448.6 488.8,445.8 489.1,445.6 489.4,437.2 489.7,441.3 490,449.3 490.3,435.3 490.6,431.2 490.9,439.8 491.2,428.8 491.5,435.3 491.8,444.7 492.1,443.3 492.4,439.9 492.7,434.4 492.9,437.5 493.2,430.5 493.5,429 493.8,448.7 494.1,450 494.4,440.8 494.7,435.1 495,431.1 495.3,433.4 495.6,433.6 495.9,448 496.2,435.7 496.5,445.5 496.8,435.4 497.1,431.1 497.4,445.7 497.7,442 498,417.5 498.3,446.5 498.6,444.3 498.9,449.4 499.2,452.5 499.5,430.3 499.8,445.8 500.1,445.3 500.4,446.9 500.7,464.6 501,432.4 501.3,444.8 501.6,440.4 501.9,426.9 502.2,441.2 502.5,437.9 502.8,437.5 503.1,427.7 503.4,451.8 503.7,444.9 504,468.9 504.3,438.8 504.6,433.3 504.9,443.6 505.2,421.2 505.5,382.1 505.8,421.4 506.1,437.4 506.4,422.6 506.7,444.3 507,435 507.3,437.6 507.6,443.3 507.9,423.8 508.2,426.7 508.5,448.5 508.8,432.3 509.1,437.6 509.4,437 509.7,432.9 510,443.7 510.3,436.6 510.6,435.6 510.9,447.1 511.2,443.8 511.5,430.5 511.8,438 512.1,416.9 512.4,409 512.7,445.9 513,435.6 513.3,457.7 513.6,445.4 513.9,447.7 514.2,446.6 514.5,459.2 514.8,436.4 515.1,437.5 515.4,447.1 515.7,440.5 516,430.5 516.3,424.2 516.6,452 516.9,424.4 517.2,455.6 517.5,447.4 517.8,443.4 518.1,424.8 518.4,433.4 518.7,433.6 519,424.6 519.3,436.9 519.6,444 519.9,425.4 520.2,441.9 520.5,451.6 520.8,455.8 521.1,437.5 521.4,421.7 521.7,432.1 522,438.5 522.3,427.7 522.6,453.7 522.9,434.9 523.2,444.8 523.5,426.1 523.8,447.6 524.1,431.5 524.4,437.1 524.7,438.8 525,432.5 525.3,441.1 525.6,418.8 525.9,441.8 526.2,460.2 526.5,425.4 526.8,426.5 527.1,434.2 527.4,425.9 527.7,432.5 528,447.7 528.3,459.1 528.6,449.7 528.9,442.5 529.2,434 529.5,453.2 529.8,448.4 530.1,424.7 530.3,446.5 530.6,450.3 530.9,448.9 531.2,423.6 531.5,431.5 531.8,430.5 532.1,423.3 532.4,429.8 532.7,426.2 533,435.5 533.3,430.7 533.6,433 533.9,432.3 534.2,451 534.5,441.9 534.8,443.3 535.1,446.1 535.4,440.3 535.7,421.7 536,430 536.3,438.1 536.6,435.8 536.9,425.5 537.2,451.5 537.5,435.3 537.8,423.1 538.1,421.8 538.4,430.4 538.7,433.7 539,457.3 539.3,446.8 539.6,440.4 539.9,435.4 540.2,435.1 540.5,473.2 540.8,445.2 541.1,436.5 541.4,447.4 541.7,442.2 542,434.2 542.3,436.2 542.6,437.5 542.9,432 543.2,428.2 543.5,444.4 543.8,450.2 544.1,446.8 544.4,444.8 544.7,440.8 545,454.7 545.3,447.4 545.6,442.5 545.9,425.9 546.2,434 546.5,441.5 546.8,426.3 547.1,437.3 547.4,436.8 547.7,428.7 548,434.2 548.3,436.9 548.6,432 548.9,445.3 549.2,438.6 549.5,460.5 549.8,444 550.1,423.9 550.4,443.4 550.7,439.9 551,444 551.3,449.9 551.6,434.2 551.9,440.1 552.2,428.2 552.5,448.6 552.8,438.6 553.1,443.2 553.4,445.6 553.7,428.2 554,447 554.3,446.9 554.6,413.9 554.9,440.5 555.2,441.8 555.5,434.3 555.8,449.8 556.1,435.4 556.4,451.5 556.7,444.5 557,445.5 557.3,425.5 557.6,432.6 557.9,420.5 558.2,422.2 558.5,446.6 558.8,433.6 559.1,444.1 559.4,446.1 559.7,426.9 560,424.5 560.3,437.6 560.6,433.8 560.9,435.9 561.2,435.6 561.5,435.3 561.8,449.9 562.1,432.7 562.4,446.7 562.7,451.7 563,441.2 563.3,436.1 563.6,430.4 563.9,435 564.2,434.4 564.5,446.5 564.8,434.8 565.1,436.7 565.4,435.9 565.7,447.3 566,421.7 566.3,431.2 566.6,428.5 566.9,437.9 567.2,442.7 567.5,429.4 567.7,453.3 568,446.8 568.3,442.8 568.6,433.1 568.9,443 569.2,424.4 569.5,466.8 569.8,422.9 570.1,435.7 570.4,429.3 570.7,445.1 571,423.1 571.3,443.2 571.6,436.3 571.9,455.1 572.2,433.4 572.5,437.7 572.8,459.3 573.1,440.9 573.4,443.2 573.7,430.5 574,446.9 574.3,437 574.6,425.7 574.9,448.9 575.2,419.6 575.5,436.5 575.8,442.3 576.1,454.1 576.4,458.3 576.7,429.1 577,444.7 577.3,446.4 577.6,427.9 577.9,432 578.2,437.7 578.5,455.2 578.8,460.3 579.1,429.1 579.4,440.4 579.7,442.6 580,419 580.3,444.3 580.6,433.4 580.9,416.4 581.2,432.5 581.5,445.6 581.8,448.7 582.1,426.2 582.4,452.8 582.7,430.1 583,421.9 583.3,441.3 583.6,430.2 583.9,438.1 584.2,423.9 584.5,435.9 584.8,447.1 585.1,435 585.4,437.2 585.7,449.4 586,442.2 586.3,452.5 586.6,448.6 586.9,432 587.2,459.3 587.5,435.8 587.8,438.7 588.1,446 588.4,423.8 588.7,431.4 589,446 589.3,436.6 589.6,429 589.9,456.5 590.2,436.5 590.5,442.3 590.8,434.6 591.1,416.2 591.4,446.7 591.7,443.4 592,452.6 592.3,436.5 592.6,432.1 592.9,479.1 593.2,423 593.5,421.6 593.8,468.5 594.1,456 594.4,433.7 594.7,437.8 595,426.1 595.3,442.7 595.6,424.7 595.9,454.3 596.2,434.2 596.5,444.2 596.8,444.6 597.1,458.7 597.4,443.9 597.7,423.7 598,446.5 598.3,442 598.6,437.1 598.9,450 599.2,435.6 599.5,432.4 599.8,442 600.1,459.7 600.4,421.7 600.7,437.9 601,438.7 601.3,441.6 601.6,445.8 601.9,457.5 602.2,439.8 602.5,436.8 602.8,427.6 603.1,420.5 603.4,447.3 603.7,411.6 604,437.4 604.3,431.9 604.6,450.5 604.9,434.5 605.1,449.6 605.4,430.9 605.7,453 606,437.9 606.3,443.9 606.6,434.4 606.9,435.5 607.2,435.3 607.5,447.2 607.8,428.7 608.1,431.9 608.4,447.8 608.7,429.9 609,446.2 609.3,437.2 609.6,440.1 609.9,440.1 610.2,429.3 610.5,459.1 610.8,423.9 611.1,458.7 611.4,424.2 611.7,431.7 612,463.4 612.3,434 612.6,442.4 612.9,452 613.2,424.3 613.5,425.3 613.8,430.8 614.1,418.9 614.4,436 614.7,441.7 615,422.9 615.3,446.9 615.6,428.6 615.9,425 616.2,435.1 616.5,436.4 616.8,432 617.1,434.7 617.4,446.3 617.7,479 618,444.2 618.3,455 618.6,426.4 618.9,443.6 619.2,434.7 619.5,428.9 619.8,425.8 620.1,448.9 620.4,412.8 620.7,426.9 621,430.1 621.3,448.7 621.6,414.3 621.9,429.8 622.2,424.6 622.5,441.7 622.8,415.6 623.1,411.2 623.4,438.6 623.7,414.4 624,450.5 624.3,421.6 624.6,430 624.9,429.5 625.2,446.6 625.5,442.7 625.8,426.6 626.1,425.4 626.4,438.4 626.7,441.8 627,444.8 627.3,422.5 627.6,440.7 627.9,445.4 628.2,461.1 628.5,459.9 628.8,452.3 629.1,463 629.4,444.2 629.7,443.1 630,451.3 630.3,444.6 630.6,440.8 630.9,460.3 631.2,430.6 631.5,472 631.8,416.1 632.1,457 632.4,438.6 632.7,444 633,434.5 633.3,448.7 633.6,432.6 633.9,458.3 634.2,430 634.5,443.2 634.8,434.5 635.1,426.9 635.4,460.9 635.7,446.9 636,448.7 636.3,441 636.6,437 636.9,430.4 637.2,436.4 637.5,441.7 637.8,429.4 638.1,420.7 638.4,427.5 638.7,414.1 639,447.3 639.3,436.2 639.6,455.7 639.9,448 640.2,431.6 640.5,424 640.8,445.7 641.1,433.3 641.4,437.9 641.7,432.8 642,436.3 642.3,445.4 642.5,466.5 642.8,457.6 643.1,434.3 643.4,440.8 643.7,414.1 644,438.3 644.3,428 644.6,453.9 644.9,456.4 645.2,436.5 645.5,418.9 645.8,434 646.1,443.6 646.4,434 646.7,431.5 647,433.5 647.3,438.6 647.6,452.4 647.9,453.4 648.2,445.9 648.5,441.3 648.8,463.4 649.1,419.7 649.4,431.7 649.7,446.1 650,429.7 650.3,409.6 650.6,435.9 650.9,436.1 651.2,426.4 651.5,456.1 651.8,446.5 652.1,449 652.4,429.6 652.7,460 653,434.9 653.3,445.6 653.6,443.2 653.9,446.5 654.2,421.1 654.5,450.2 654.8,461.4 655.1,435.1 655.4,446.8 655.7,432.7 656,440.5 656.3,438.4 656.6,438.2 656.9,460.3 657.2,464.3 657.5,414.5 657.8,454.1 658.1,432.6 658.4,453.5 658.7,440.9 659,443.1 659.3,421.3 659.6,442.3 659.9,458.6 660.2,457.2 660.5,435.3 660.8,428.3 661.1,414.4 661.4,412.9 661.7,457.2 662,441.3 662.3,454.8 662.6,435.5 662.9,429.1 663.2,462.3 663.5,428.5 663.8,430.1 664.1,443 664.4,447.2 664.7,418.5 665,441.7 665.3,453.2 665.6,437.6 665.9,426.2 666.2,430.5 666.5,464 666.8,456.6 667.1,444.9 667.4,437.1 667.7,437.1 668,455.4 668.3,427.6 668.6,433.1 668.9,459.4 669.2,451.8 669.5,441.3 669.8,468.2 670.1,438.6 670.4,436.8 670.7,445.3 671,431.8 671.3,416.4 671.6,448"/>
<polyline fill="none" stroke="#ed1c24" stroke-width="1.8" stroke-linejoin="round" points="104.6,438.6 104.9,439 105.2,439 105.5,439.4 105.8,438.9 106.1,439 106.4,439.1 106.7,438.8 107,438.8 107.3,439.1 107.6,439.1 107.9,439 108.2,438.7 108.5,438.8 108.8,439.2 109.1,439.2 109.4,438.7 109.7,438.5 110,438.9 110.3,439.1 110.6,438.4 110.9,439 111.2,438.7 111.5,438.4 111.8,438.7 112.1,438.9 112.4,438.7 112.7,439.1 113,439 113.3,439.1 113.6,439 113.9,439.1 114.2,439 114.5,439 114.8,438.9 115.1,438.9 115.4,438.8 115.7,438.3 116,439.5 116.3,438.4 116.6,439 116.9,439.4 117.2,439 117.5,438.9 117.8,438.4 118.1,439.4 118.4,438.8 118.7,438.8 118.9,439.7 119.2,439.5 119.5,438.6 119.8,438.4 120.1,438.3 120.4,438.6 120.7,438.7 121,438.8 121.3,438.3 121.6,439.4 121.9,439 122.2,438.7 122.5,439.8 122.8,438.2 123.1,439.4 123.4,438.9 123.7,437.6 124,439.6 124.3,439.2 124.6,438 124.9,439.6 125.2,439.2 125.5,438.6 125.8,438.6 126.1,438.5 126.4,438.7 126.7,438 127,438.2 127.3,438.5 127.6,439.4 127.9,439.4 128.2,440.2 128.5,438.4 128.8,440.2 129.1,438.3 129.4,437.6 129.7,439.7 130,439.4 130.3,439.2 130.6,438.3 130.9,439.5 131.2,439 131.5,439.3 131.8,439.1 132.1,437.9 132.4,439.6 132.7,438.8 133,438.7 133.3,438.2 133.6,439.9 133.9,438 134.2,438.5 134.5,438.2 134.8,438.8 135.1,440.3 135.4,439.4 135.7,438.2 136,438.9 136.3,438.9 136.6,437.4 136.9,437 137.2,438.9 137.5,437.2 137.8,440.7 138.1,440.7 138.4,438.1 138.7,439.1 139,438.4 139.3,438.4 139.6,439 139.9,438.3 140.2,438.8 140.5,440.3 140.8,438.7 141.1,438.7 141.4,437.1 141.7,440 142,438.9 142.3,439.3 142.6,439 142.9,437.2 143.2,438.5 143.5,439.4 143.8,438.7 144.1,438.1 144.4,439.9 144.7,439.2 145,437.3 145.3,438 145.6,438.9 145.9,439.4 146.2,439.1 146.5,440.6 146.8,437.9 147.1,438.5 147.4,438.7 147.7,440.3 148,440.1 148.3,438.3 148.6,438.6 148.9,439.5 149.2,438.3 149.5,437.8 149.8,439.7 150.1,439.8 150.4,439.9 150.7,440.9 151,438 151.3,438.3 151.6,438.3 151.9,440.3 152.2,440.2 152.5,439 152.8,439.4 153.1,438.8 153.4,439.8 153.7,438.1 154,436.7 154.3,437 154.6,436.9 154.9,438.8 155.2,437.7 155.5,439.4 155.8,437.7 156.1,439.4 156.3,439.5 156.6,439.7 156.9,438 157.2,438.5 157.5,438.7 157.8,440.4 158.1,438.7 158.4,440.8 158.7,436.9 159,439.1 159.3,438.6 159.6,439 159.9,441.1 160.2,440.8 160.5,438.9 160.8,436.8 161.1,440.5 161.4,439.9 161.7,439 162,441.3 162.3,441.3 162.6,439.5 162.9,439 163.2,439.5 163.5,436.7 163.8,439.1 164.1,438.4 164.4,436.6 164.7,436.4 165,441.2 165.3,439.5 165.6,437.2 165.9,441 166.2,440.3 166.5,440.9 166.8,442 167.1,440.6 167.4,438.6 167.7,437 168,436.5 168.3,438.9 168.6,442 168.9,439 169.2,439.4 169.5,438.3 169.8,439.1 170.1,441.7 170.4,438.2 170.7,442.2 171,440 171.3,438.4 171.6,438.3 171.9,436.4 172.2,442.7 172.5,438.3 172.8,437.8 173.1,439.4 173.4,437.8 173.7,440.7 174,437.8 174.3,438 174.6,440.5 174.9,440 175.2,439.2 175.5,440 175.8,437.1 176.1,438.6 176.4,436.6 176.7,436.9 177,438.8 177.3,439.2 177.6,440.6 177.9,440.3 178.2,440.3 178.5,438.3 178.8,440.5 179.1,438.7 179.4,438.6 179.7,440.2 180,439.2 180.3,436.3 180.6,436 180.9,441 181.2,439.3 181.5,439.6 181.8,439.4 182.1,436.1 182.4,437 182.7,436.6 183,435.6 183.3,439.7 183.6,439.3 183.9,438.8 184.2,437 184.5,439.1 184.8,437.7 185.1,436.7 185.4,436.7 185.7,438 186,440.4 186.3,441.9 186.6,436.7 186.9,438 187.2,440.7 187.5,439.9 187.8,439.8 188.1,442.2 188.4,438.4 188.7,440.5 189,439.5 189.3,437.4 189.6,439.1 189.9,437.8 190.2,438 190.5,438.8 190.8,438.8 191.1,435.1 191.4,439.2 191.7,435.6 192,440.8 192.3,436.6 192.6,438.5 192.9,440.4 193.2,444.4 193.5,435.6 193.7,441.3 194,440.9 194.3,438.6 194.6,438.8 194.9,438.3 195.2,439.4 195.5,442.1 195.8,437 196.1,440.8 196.4,438.4 196.7,437 197,436.3 197.3,439.4 197.6,439.6 197.9,439.7 198.2,442.9 198.5,440.6 198.8,441.1 199.1,441.4 199.4,438.5 199.7,439.6 200,435.3 200.3,435.6 200.6,443.1 200.9,438.6 201.2,441.2 201.5,437.6 201.8,438.5 202.1,436.8 202.4,438.2 202.7,437.2 203,439.9 203.3,444.7 203.6,441.6 203.9,440.9 204.2,440 204.5,441.3 204.8,435.1 205.1,439.3 205.4,435.9 205.7,439.7 206,435 206.3,441.7 206.6,437.5 206.9,442.1 207.2,437.3 207.5,435.1 207.8,442.8 208.1,441 208.4,438.3 208.7,439.3 209,443.9 209.3,436.1 209.6,438.8 209.9,435.7 210.2,438.1 210.5,441.7 210.8,440.1 211.1,435.5 211.4,442.3 211.7,440.1 212,437.4 212.3,436.4 212.6,436.8 212.9,442.6 213.2,433.7 213.5,439.3 213.8,438.9 214.1,438.9 214.4,439.5 214.7,441.4 215,439.7 215.3,435.5 215.6,442.4 215.9,445.2 216.2,437.5 216.5,438 216.8,436.1 217.1,434.4 217.4,440.8 217.7,438.4 218,437.6 218.3,435.7 218.6,436.2 218.9,441.1 219.2,442.5 219.5,439.6 219.8,443.2 220.1,435.9 220.4,440 220.7,439.9 221,441.3 221.3,434.8 221.6,438.1 221.9,440 222.2,437.2 222.5,439.1 222.8,437.3 223.1,435.3 223.4,439.6 223.7,437.5 224,437.6 224.3,435.8 224.6,437.3 224.9,438.8 225.2,440.7 225.5,437.7 225.8,441.8 226.1,437.1 226.4,438.7 226.7,437.4 227,440.4 227.3,441.2 227.6,441.5 227.9,435.8 228.2,439.5 228.5,439.6 228.8,444 229.1,439.1 229.4,448.8 229.7,435 230,439.6 230.3,438.8 230.6,443 230.9,442.1 231.1,437.1 231.4,439.5 231.7,437.7 232,435.2 232.3,437 232.6,444.5 232.9,441.8 233.2,442.2 233.5,441.6 233.8,445.1 234.1,445 234.4,441.1 234.7,440.7 235,437.4 235.3,439.9 235.6,434.6 235.9,447.1 236.2,443.1 236.5,438.1 236.8,439.7 237.1,441.9 237.4,436.6 237.7,435.6 238,432.9 238.3,440.1 238.6,438.9 238.9,438.2 239.2,438.7 239.5,435.8 239.8,440.4 240.1,437.8 240.4,449.2 240.7,436.6 241,433.8 241.3,439 241.6,435.7 241.9,444.1 242.2,440 242.5,443.8 242.8,437.9 243.1,437.3 243.4,443.2 243.7,441.6 244,440.8 244.3,431.2 244.6,439.1 244.9,438.5 245.2,437.7 245.5,437.9 245.8,439.7 246.1,445.3 246.4,441.1 246.7,433.6 247,438.1 247.3,440.1 247.6,443.3 247.9,439.1 248.2,438.8 248.5,441 248.8,436 249.1,440.8 249.4,439.5 249.7,436.1 250,438.2 250.3,435.2 250.6,439.7 250.9,440.3 251.2,437.3 251.5,438.2 251.8,434.9 252.1,437.5 252.4,439 252.7,436.6 253,436.7 253.3,442.7 253.6,439.4 253.9,440 254.2,434.8 254.5,440.6 254.8,435.3 255.1,443.2 255.4,439.1 255.7,435.2 256,439.8 256.3,434.9 256.6,449.4 256.9,438.8 257.2,438.1 257.5,439.3 257.8,444.1 258.1,436.6 258.4,447 258.7,435.6 259,437.9 259.3,435.4 259.6,439.8 259.9,442.8 260.2,440.7 260.5,440.5 260.8,436.8 261.1,440 261.4,437.4 261.7,437.2 262,433.8 262.3,446 262.6,440.3 262.9,436.4 263.2,436.4 263.5,440.9 263.8,439.8 264.1,439.2 264.4,438.4 264.7,440.9 265,441.2 265.3,442.9 265.6,440.2 265.9,433.8 266.2,442.3 266.5,435.3 266.8,431.7 267.1,438.1 267.4,430.1 267.7,439.5 268,432.7 268.3,439 268.5,443.3 268.8,437.5 269.1,431.8 269.4,441 269.7,437 270,442.5 270.3,442.1 270.6,437 270.9,439.4 271.2,436.6 271.5,433.9 271.8,443.2 272.1,441.3 272.4,438.6 272.7,429.9 273,440 273.3,440.5 273.6,437 273.9,430.6 274.2,440.9 274.5,439.8 274.8,438.5 275.1,434.2 275.4,430.2 275.7,443.5 276,445.1 276.3,438 276.6,436.5 276.9,447.3 277.2,441 277.5,434.9 277.8,440.6 278.1,436.7 278.4,437.9 278.7,436 279,436.9 279.3,437.5 279.6,433.6 279.9,440.8 280.2,438 280.5,434 280.8,440.7 281.1,440 281.4,441.5 281.7,442.2 282,430.4 282.3,436.6 282.6,431 282.9,435.5 283.2,438.2 283.5,439.6 283.8,437.4 284.1,438.7 284.4,434.8 284.7,442 285,437.8 285.3,436.6 285.6,439.4 285.9,439.4 286.2,436.2 286.5,436.2 286.8,438.9 287.1,438.5 287.4,440.8 287.7,436.2 288,439 288.3,444.9 288.6,439.8 288.9,436 289.2,437.3 289.5,442.2 289.8,435.5 290.1,436 290.4,436 290.7,432.2 291,439.9 291.3,436 291.6,439.7 291.9,434.4 292.2,433.7 292.5,436.5 292.8,435.5 293.1,442.1 293.4,436 293.7,443.7 294,429.5 294.3,433.8 294.6,445.2 294.9,450.1 295.2,430.3 295.5,442.4 295.8,436.4 296.1,444.3 296.4,438.5 296.7,441.6 297,436.2 297.3,440.2 297.6,432.4 297.9,442.1 298.2,433.3 298.5,438.9 298.8,436.6 299.1,445.8 299.4,446.5 299.7,434.2 300,444.2 300.3,440.3 300.6,440.3 300.9,442.8 301.2,438 301.5,445.1 301.8,444.1 302.1,434.8 302.4,444.2 302.7,435.6 303,435.9 303.3,432.1 303.6,436.8 303.9,447.1 304.2,441.8 304.5,441.6 304.8,433.4 305.1,437.3 305.4,441.1 305.7,436.9 305.9,440.5 306.2,436.4 306.5,438.2 306.8,433.9 307.1,437.4 307.4,434.4 307.7,439 308,434 308.3,439.6 308.6,436 308.9,437.9 309.2,439.5 309.5,440.8 309.8,440.2 310.1,436.7 310.4,449.5 310.7,433.2 311,449.8 311.3,439.8 311.6,441.2 311.9,435.5 312.2,437.8 312.5,439.1 312.8,438.5 313.1,432.3 313.4,428 313.7,437.1 314,448.5 314.3,440.9 314.6,436.9 314.9,423.3 315.2,442.5 315.5,440.7 315.8,436.3 316.1,437.4 316.4,445.2 316.7,434.4 317,445.2 317.3,440.2 317.6,432.6 317.9,448.3 318.2,440.5 318.5,430.9 318.8,440.1 319.1,443.9 319.4,441.7 319.7,434.9 320,446.5 320.3,442 320.6,445.9 320.9,444.5 321.2,432.7 321.5,439.3 321.8,441 322.1,436.8 322.4,442.4 322.7,444.8 323,433.3 323.3,434.6 323.6,443.1 323.9,435.4 324.2,431.7 324.5,436.5 324.8,436.4 325.1,445 325.4,439.6 325.7,448.2 326,433.4 326.3,439.8 326.6,432.3 326.9,442.8 327.2,434.5 327.5,446.8 327.8,440.9 328.1,436.2 328.4,437.1 328.7,439.2 329,447.2 329.3,432.2 329.6,435.6 329.9,433.1 330.2,433.2 330.5,440.8 330.8,436.9 331.1,425.4 331.4,443.2 331.7,436.8 332,441.8 332.3,430 332.6,438 332.9,444.3 333.2,442 333.5,449.8 333.8,450.7 334.1,452.9 334.4,442.7 334.7,444.8 335,438.1 335.3,443.2 335.6,437.7 335.9,429.7 336.2,445.1 336.5,445.3 336.8,433.8 337.1,426.6 337.4,443.5 337.7,447.8 338,440.5 338.3,441.1 338.6,435.2 338.9,444.5 339.2,440.3 339.5,440.6 339.8,447.3 340.1,447.3 340.4,436.5 340.7,436 341,443.2 341.3,430.6 341.6,433.9 341.9,435.2 342.2,435.7 342.5,437 342.8,435 343.1,431.9 343.3,438.6 343.6,455.6 343.9,439.8 344.2,443.5 344.5,445.4 344.8,435.7 345.1,448.6 345.4,434.4 345.7,442.4 346,445.7 346.3,443.7 346.6,426.1 346.9,430.9 347.2,440.5 347.5,433.1 347.8,429.1 348.1,443.8 348.4,440.5 348.7,433.9 349,436.7 349.3,441 349.6,429.9 349.9,436.1 350.2,434.5 350.5,418.9 350.8,436.2 351.1,424.1 351.4,437.2 351.7,439.8 352,438.2 352.3,434 352.6,435.2 352.9,436.8 353.2,447.3 353.5,448.2 353.8,440.5 354.1,434.8 354.4,430.7 354.7,452.6 355,439.8 355.3,441.6 355.6,439.6 355.9,437.2 356.2,443.9 356.5,446.6 356.8,433.2 357.1,434.7 357.4,441.4 357.7,439.7 358,443 358.3,447.1 358.6,435.3 358.9,442.9 359.2,445.5 359.5,442.5 359.8,429.5 360.1,436.4 360.4,437.6 360.7,438.5 361,434 361.3,432.6 361.6,446.6 361.9,440.4 362.2,442.8 362.5,437.8 362.8,439.4 363.1,450.8 363.4,432.3 363.7,437.5 364,449.3 364.3,432.3 364.6,438.3 364.9,436.3 365.2,438.9 365.5,438.1 365.8,442.1 366.1,449 366.4,442.8 366.7,438.1 367,438.9 367.3,433.5 367.6,439.7 367.9,452.6 368.2,434.8 368.5,444 368.8,451.4 369.1,441.2 369.4,447.4 369.7,437.1 370,444.8 370.3,427.6 370.6,440.8 370.9,442.7 371.2,443.3 371.5,452.4 371.8,444.6 372.1,443.9 372.4,442.6 372.7,452.8 373,439.1 373.3,431.5 373.6,441.9 373.9,439.6 374.2,436.7 374.5,444.2 374.8,443.5 375.1,433.4 375.4,438.1 375.7,446.8 376,450.2 376.3,425.2 376.6,436.5 376.9,448.9 377.2,438.2 377.5,433 377.8,438.1 378.1,450.7 378.4,427.9 378.7,435.4 379,440.3 379.3,434.8 379.6,440.4 379.9,441.1 380.2,433.5 380.5,457.6 380.7,432.7 381,436.5 381.3,434.2 381.6,433.2 381.9,424.3 382.2,429.9 382.5,433.4 382.8,441.3 383.1,434.5 383.4,443.4 383.7,444.9 384,435.9 384.3,435.4 384.6,431.3 384.9,452.3 385.2,435 385.5,434.5 385.8,438 386.1,429.3 386.4,444.3 386.7,436.6 387,441.1 387.3,438.8 387.6,444.9 387.9,439.9 388.2,434.4 388.5,437.9 388.8,436.5 389.1,445.9 389.4,428.5 389.7,443.1 390,438.5 390.3,434.9 390.6,439.8 390.9,433.8 391.2,437.4 391.5,427.6 391.8,435.1 392.1,434.6 392.4,443.9 392.7,435.6 393,432.1 393.3,435.9 393.6,444.7 393.9,442.2 394.2,440.2 394.5,438.5 394.8,447.7 395.1,426.5 395.4,439.3 395.7,437.9 396,441.6 396.3,439 396.6,426.2 396.9,444.9 397.2,442.1 397.5,448.8 397.8,444.1 398.1,428.7 398.4,442.9 398.7,441.8 399,450.7 399.3,441.1 399.6,437.3 399.9,442 400.2,441.4 400.5,433.5 400.8,435.3 401.1,439.5 401.4,444 401.7,448.8 402,427.6 402.3,449 402.6,434.5 402.9,440.1 403.2,443.6 403.5,429.8 403.8,443.7 404.1,430.3 404.4,445.6 404.7,435.5 405,430.2 405.3,445.2 405.6,424.7 405.9,433 406.2,453.6 406.5,429.4 406.8,425.9 407.1,440.5 407.4,440 407.7,436.2 408,451.6 408.3,437.7 408.6,432.4 408.9,442.5 409.2,431.2 409.5,423.8 409.8,452.1 410.1,451 410.4,443.6 410.7,434.4 411,436.1 411.3,445 411.6,446.5 411.9,443.8 412.2,427.1 412.5,445.3 412.8,442.7 413.1,432.2 413.4,440.6 413.7,445.6 414,428.9 414.3,436.5 414.6,443.5 414.9,441.4 415.2,432.3 415.5,441.2 415.8,436.9 416.1,432.5 416.4,431.8 416.7,451.4 417,442.1 417.3,441 417.6,437.9 417.9,433.3 418.1,430.5 418.4,443.2 418.7,446.3 419,437.2 419.3,442.8 419.6,426.5 419.9,436 420.2,438.2 420.5,431.6 420.8,443.1 421.1,440.9 421.4,439.8 421.7,433.9 422,429.3 422.3,432.9 422.6,433.2 422.9,440.1 423.2,435.9 423.5,440.1 423.8,430.3 424.1,442.9 424.4,439 424.7,436.8 425,432.9 425.3,443.7 425.6,440.1 425.9,444.4 426.2,448.1 426.5,430.7 426.8,435.2 427.1,449.2 427.4,445.5 427.7,434.5 428,442.9 428.3,446.1 428.6,429.5 428.9,442 429.2,441.2 429.5,434.5 429.8,443.7 430.1,438.4 430.4,437.4 430.7,433.2 431,443.9 431.3,430.7 431.6,436.1 431.9,425.6 432.2,437 432.5,442.5 432.8,442.5 433.1,446.9 433.4,438.7 433.7,439.1 434,432.1 434.3,438.1 434.6,444.9 434.9,431.2 435.2,443.4 435.5,436.8 435.8,428 436.1,429.4 436.4,444.1 436.7,439.6 437,423.9 437.3,431.5 437.6,434.8 437.9,432.2 438.2,454.8 438.5,441 438.8,449.5 439.1,443.6 439.4,441.7 439.7,435.4 440,430.2 440.3,433.1 440.6,436.9 440.9,441.7 441.2,429.5 441.5,437.1 441.8,452.3 442.1,439.6 442.4,435.4 442.7,446.4 443,437.5 443.3,422.3 443.6,441.2 443.9,439.6 444.2,439.6 444.5,446.6 444.8,442.9 445.1,447 445.4,441.6 445.7,445.5 446,428.7 446.3,440.3 446.6,433 446.9,449 447.2,439.6 447.5,435.1 447.8,434.2 448.1,444.2 448.4,440.3 448.7,438.6 449,442.1 449.3,442.7 449.6,435.5 449.9,448.6 450.2,453.4 450.5,443.2 450.8,437.3 451.1,457.1 451.4,429 451.7,438.7 452,435 452.3,445.9 452.6,439.7 452.9,425.3 453.2,425 453.5,434.5 453.8,441.5 454.1,440.2 454.4,424.2 454.7,444.9 455,446.6 455.3,440.5 455.5,432.3 455.8,447.8 456.1,436.7 456.4,436.5 456.7,438.4 457,440.7 457.3,432.2 457.6,435 457.9,451 458.2,426.9 458.5,436 458.8,437.1 459.1,442.4 459.4,442 459.7,459.6 460,441.5 460.3,435 460.6,434.9 460.9,445.2 461.2,468.4 461.5,448.8 461.8,442.3 462.1,429.6 462.4,452.7 462.7,439.7 463,435.1 463.3,434.9 463.6,440.6 463.9,462.1 464.2,435 464.5,438.8 464.8,435.5 465.1,447.4 465.4,443.6 465.7,427.7 466,440.5 466.3,439.8 466.6,445.5 466.9,429.5 467.2,452.9 467.5,443.9 467.8,436.1 468.1,439.9 468.4,432.4 468.7,436.1 469,427.8 469.3,441.3 469.6,440.5 469.9,437.2 470.2,453.9 470.5,427.9 470.8,446.8 471.1,430.1 471.4,427.5 471.7,427.1 472,437.6 472.3,444.4 472.6,456.7 472.9,432.4 473.2,441.2 473.5,425.1 473.8,441.6 474.1,434 474.4,442.5 474.7,435.6 475,442 475.3,441.4 475.6,454.7 475.9,445.1 476.2,440.4 476.5,428.6 476.8,436.9 477.1,449.3 477.4,425.9 477.7,436.2 478,429.8 478.3,446.7 478.6,466.6 478.9,445.6 479.2,447.7 479.5,436.9 479.8,452.1 480.1,446.6 480.4,450.6 480.7,438 481,446.9 481.3,427.5 481.6,432.4 481.9,432 482.2,440.9 482.5,437 482.8,431.7 483.1,446.2 483.4,428.5 483.7,439.6 484,428.3 484.3,419.9 484.6,425.7 484.9,448.1 485.2,428.6 485.5,441.6 485.8,442.6 486.1,441 486.4,449 486.7,436.9 487,445.1 487.3,429.4 487.6,436.2 487.9,461.1 488.2,447.2 488.5,447.7 488.8,444.9 489.1,444.7 489.4,437.2 489.7,440.4 490,448.4 490.3,435.3 490.6,431.2 490.9,438.9 491.2,428.8 491.5,435.3 491.8,443.8 492.1,442.4 492.4,439 492.7,434.4 492.9,437.5 493.2,430.5 493.5,429 493.8,447.8 494.1,449.1 494.4,439.9 494.7,435.1 495,431.1 495.3,433.4 495.6,433.6 495.9,447.1 496.2,435.7 496.5,444.6 496.8,435.4 497.1,431.1 497.4,444.8 497.7,441.1 498,417.5 498.3,445.6 498.6,443.4 498.9,448.5 499.2,451.6 499.5,430.3 499.8,444.9 500.1,444.4 500.4,446 500.7,463.7 501,432.4 501.3,443.9 501.6,439.5 501.9,426.9 502.2,440.3 502.5,437.9 502.8,437.5 503.1,427.7 503.4,450.9 503.7,444 504,468 504.3,438.8 504.6,433.3 504.9,442.7 505.2,421.2 505.5,382.1 505.8,421.4 506.1,437.4 506.4,422.6 506.7,443.4 507,435 507.3,437.6 507.6,442.4 507.9,423.8 508.2,426.7 508.5,447.6 508.8,432.3 509.1,437.6 509.4,437 509.7,432.9 510,442.8 510.3,436.6 510.6,435.6 510.9,446.2 511.2,442.9 511.5,430.5 511.8,438 512.1,416.9 512.4,409 512.7,445 513,435.6 513.3,456.8 513.6,444.5 513.9,446.8 514.2,445.7 514.5,458.3 514.8,436.4 515.1,437.5 515.4,446.2 515.7,439.6 516,430.5 516.3,424.2 516.6,451.1 516.9,424.4 517.2,454.7 517.5,446.5 517.8,442.5 518.1,424.8 518.4,433.4 518.7,433.6 519,424.6 519.3,436.9 519.6,443.1 519.9,425.4 520.2,441 520.5,450.7 520.8,454.9 521.1,437.5 521.4,421.7 521.7,432.1 522,438.5 522.3,427.7 522.6,452.8 522.9,434.9 523.2,443.9 523.5,426.1 523.8,446.7 524.1,431.5 524.4,437.1 524.7,438.8 525,432.5 525.3,440.2 525.6,418.8 525.9,440.9 526.2,459.3 526.5,425.4 526.8,426.5 527.1,434.2 527.4,425.9 527.7,432.5 528,446.8 528.3,458.2 528.6,448.8 528.9,441.6 529.2,434 529.5,452.3 529.8,447.5 530.1,424.7 530.3,445.6 530.6,449.4 530.9,448 531.2,423.6 531.5,431.5 531.8,430.5 532.1,423.3 532.4,429.8 532.7,426.2 533,435.5 533.3,430.7 533.6,433 533.9,432.3 534.2,450.1 534.5,441 534.8,442.4 535.1,445.2 535.4,439.4 535.7,421.7 536,430 536.3,438.1 536.6,435.8 536.9,425.5 537.2,450.6 537.5,435.3 537.8,423.1 538.1,421.8 538.4,430.4 538.7,433.7 539,456.4 539.3,445.9 539.6,439.5 539.9,435.4 540.2,435.1 540.5,472.3 540.8,444.3 541.1,436.5 541.4,446.5 541.7,441.3 542,434.2 542.3,436.2 542.6,437.5 542.9,432 543.2,428.2 543.5,443.5 543.8,449.3 544.1,445.9 544.4,443.9 544.7,439.9 545,453.8 545.3,446.5 545.6,441.6 545.9,425.9 546.2,434 546.5,440.6 546.8,426.3 547.1,437.3 547.4,436.8 547.7,428.7 548,434.2 548.3,436.9 548.6,432 548.9,444.4 549.2,438.6 549.5,459.6 549.8,443.1 550.1,423.9 550.4,442.5 550.7,439 551,443.1 551.3,449 551.6,434.2 551.9,439.2 552.2,428.2 552.5,447.7 552.8,438.6 553.1,442.3 553.4,444.7 553.7,428.2 554,446.1 554.3,446 554.6,413.9 554.9,439.6 555.2,440.9 555.5,434.3 555.8,448.9 556.1,435.4 556.4,450.6 556.7,443.6 557,444.6 557.3,425.5 557.6,432.6 557.9,420.5 558.2,422.2 558.5,445.7 558.8,433.6 559.1,443.2 559.4,445.2 559.7,426.9 560,424.5 560.3,437.6 560.6,433.8 560.9,435.9 561.2,435.6 561.5,435.3 561.8,449 562.1,432.7 562.4,445.8 562.7,450.8 563,440.3 563.3,436.1 563.6,430.4 563.9,435 564.2,434.4 564.5,445.6 564.8,434.8 565.1,436.7 565.4,435.9 565.7,446.4 566,421.7 566.3,431.2 566.6,428.5 566.9,437.9 567.2,441.8 567.5,429.4 567.7,452.4 568,445.9 568.3,441.9 568.6,433.1 568.9,442.1 569.2,424.4 569.5,465.9 569.8,422.9 570.1,435.7 570.4,429.3 570.7,444.2 571,423.1 571.3,442.3 571.6,436.3 571.9,454.2 572.2,433.4 572.5,437.7 572.8,458.4 573.1,440 573.4,442.3 573.7,430.5 574,446 574.3,437 574.6,425.7 574.9,448 575.2,419.6 575.5,436.5 575.8,441.4 576.1,453.2 576.4,457.4 576.7,429.1 577,443.8 577.3,445.5 577.6,427.9 577.9,432 578.2,437.7 578.5,454.3 578.8,459.4 579.1,429.1 579.4,439.5 579.7,441.7 580,419 580.3,443.4 580.6,433.4 580.9,416.4 581.2,432.5 581.5,444.7 581.8,447.8 582.1,426.2 582.4,451.9 582.7,430.1 583,421.9 583.3,440.4 583.6,430.2 583.9,438.1 584.2,423.9 584.5,435.9 584.8,446.2 585.1,435 585.4,437.2 585.7,448.5 586,441.3 586.3,451.6 586.6,447.7 586.9,432 587.2,458.4 587.5,435.8 587.8,438.7 588.1,445.1 588.4,423.8 588.7,431.4 589,445.1 589.3,436.6 589.6,429 589.9,455.6 590.2,436.5 590.5,441.4 590.8,434.6 591.1,416.2 591.4,445.8 591.7,442.5 592,451.7 592.3,436.5 592.6,432.1 592.9,478.2 593.2,423 593.5,421.6 593.8,467.6 594.1,455.1 594.4,433.7 594.7,437.8 595,426.1 595.3,441.8 595.6,424.7 595.9,453.4 596.2,434.2 596.5,443.3 596.8,443.7 597.1,457.8 597.4,443 597.7,423.7 598,445.6 598.3,441.1 598.6,437.1 598.9,449.1 599.2,435.6 599.5,432.4 599.8,441.1 600.1,458.8 600.4,421.7 600.7,437.9 601,438.7 601.3,440.7 601.6,444.9 601.9,456.6 602.2,438.9 602.5,436.8 602.8,427.6 603.1,420.5 603.4,446.4 603.7,411.6 604,437.4 604.3,431.9 604.6,449.6 604.9,434.5 605.1,448.7 605.4,430.9 605.7,452.1 606,437.9 606.3,443 606.6,434.4 606.9,435.5 607.2,435.3 607.5,446.3 607.8,428.7 608.1,431.9 608.4,446.9 608.7,429.9 609,445.3 609.3,437.2 609.6,439.2 609.9,439.2 610.2,429.3 610.5,458.2 610.8,423.9 611.1,457.8 611.4,424.2 611.7,431.7 612,462.5 612.3,434 612.6,441.5 612.9,451.1 613.2,424.3 613.5,425.3 613.8,430.8 614.1,418.9 614.4,436 614.7,440.8 615,422.9 615.3,446 615.6,428.6 615.9,425 616.2,435.1 616.5,436.4 616.8,432 617.1,434.7 617.4,445.4 617.7,478.1 618,443.3 618.3,454.1 618.6,426.4 618.9,442.7 619.2,434.7 619.5,428.9 619.8,425.8 620.1,448 620.4,412.8 620.7,426.9 621,430.1 621.3,447.8 621.6,414.3 621.9,429.8 622.2,424.6 622.5,440.8 622.8,415.6 623.1,411.2 623.4,438.6 623.7,414.4 624,449.6 624.3,421.6 624.6,430 624.9,429.5 625.2,445.7 625.5,441.8 625.8,426.6 626.1,425.4 626.4,438.4 626.7,440.9 627,443.9 627.3,422.5 627.6,439.8 627.9,444.5 628.2,460.2 628.5,459 628.8,451.4 629.1,462.1 629.4,443.3 629.7,442.2 630,450.4 630.3,443.7 630.6,439.9 630.9,459.4 631.2,430.6 631.5,471.1 631.8,416.1 632.1,456.1 632.4,438.6 632.7,443.1 633,434.5 633.3,447.8 633.6,432.6 633.9,457.4 634.2,430 634.5,442.3 634.8,434.5 635.1,426.9 635.4,460 635.7,446 636,447.8 636.3,440.1 636.6,437 636.9,430.4 637.2,436.4 637.5,440.8 637.8,429.4 638.1,420.7 638.4,427.5 638.7,414.1 639,446.4 639.3,436.2 639.6,454.8 639.9,447.1 640.2,431.6 640.5,424 640.8,444.8 641.1,433.3 641.4,437.9 641.7,432.8 642,436.3 642.3,444.5 642.5,465.6 642.8,456.7 643.1,434.3 643.4,439.9 643.7,414.1 644,438.3 644.3,428 644.6,453 644.9,455.5 645.2,436.5 645.5,418.9 645.8,434 646.1,442.7 646.4,434 646.7,431.5 647,433.5 647.3,438.6 647.6,451.5 647.9,452.5 648.2,445 648.5,440.4 648.8,462.5 649.1,419.7 649.4,431.7 649.7,445.2 650,429.7 650.3,409.6 650.6,435.9 650.9,436.1 651.2,426.4 651.5,455.2 651.8,445.6 652.1,448.1 652.4,429.6 652.7,459.1 653,434.9 653.3,444.7 653.6,442.3 653.9,445.6 654.2,421.1 654.5,449.3 654.8,460.5 655.1,435.1 655.4,445.9 655.7,432.7 656,439.6 656.3,438.4 656.6,438.2 656.9,459.4 657.2,463.4 657.5,414.5 657.8,453.2 658.1,432.6 658.4,452.6 658.7,440 659,442.2 659.3,421.3 659.6,441.4 659.9,457.7 660.2,456.3 660.5,435.3 660.8,428.3 661.1,414.4 661.4,412.9 661.7,456.3 662,440.4 662.3,453.9 662.6,435.5 662.9,429.1 663.2,461.4 663.5,428.5 663.8,430.1 664.1,442.1 664.4,446.3 664.7,418.5 665,440.8 665.3,452.3 665.6,437.6 665.9,426.2 666.2,430.5 666.5,463.1 666.8,455.7 667.1,444 667.4,437.1 667.7,437.1 668,454.5 668.3,427.6 668.6,433.1 668.9,458.5 669.2,450.9 669.5,440.4 669.8,467.3 670.1,438.6 670.4,436.8 670.7,444.4 671,431.8 671.3,416.4 671.6,447.1"/>
<line x1="103.5" y1="481" x2="103.5" y2="486.5" stroke="#000" stroke-width="3.2"/>
<text x="103.5" y="513.3" font-size="26" fill="#222" text-anchor="middle">0</text>
<line x1="171.5" y1="481" x2="171.5" y2="486.5" stroke="#000" stroke-width="3.2"/>
<text x="171.5" y="513.3" font-size="26" fill="#222" text-anchor="middle">0.05</text>
<line x1="239.5" y1="481" x2="239.5" y2="486.5" stroke="#000" stroke-width="3.2"/>
<text x="239.5" y="513.3" font-size="26" fill="#222" text-anchor="middle">0.1</text>
<line x1="307.5" y1="481" x2="307.5" y2="486.5" stroke="#000" stroke-width="3.2"/>
<text x="307.5" y="513.3" font-size="26" fill="#222" text-anchor="middle">0.15</text>
<line x1="375.5" y1="481" x2="375.5" y2="486.5" stroke="#000" stroke-width="3.2"/>
<text x="375.5" y="513.3" font-size="26" fill="#222" text-anchor="middle">0.2</text>
<line x1="443.5" y1="481" x2="443.5" y2="486.5" stroke="#000" stroke-width="3.2"/>
<text x="443.5" y="513.3" font-size="26" fill="#222" text-anchor="middle">0.25</text>
<line x1="511.5" y1="481" x2="511.5" y2="486.5" stroke="#000" stroke-width="3.2"/>
<text x="511.5" y="513.3" font-size="26" fill="#222" text-anchor="middle">0.3</text>
<line x1="579.5" y1="481" x2="579.5" y2="486.5" stroke="#000" stroke-width="3.2"/>
<text x="579.5" y="513.3" font-size="26" fill="#222" text-anchor="middle">0.35</text>
<line x1="647.5" y1="481" x2="647.5" y2="486.5" stroke="#000" stroke-width="3.2"/>
<text x="647.5" y="513.3" font-size="26" fill="#222" text-anchor="middle">0.4</text>
<text x="387.5" y="546" font-size="25" fill="#222" text-anchor="middle"><tspan font-style="italic">Q</tspan> (Å<tspan font-size="15" dy="-8">-1</tspan><tspan dy="8">)</tspan></text>
<line x1="244" y1="58.6" x2="291" y2="58.6" stroke="#000" stroke-width="5.4" stroke-linecap="round"/>
<line x1="244" y1="89.2" x2="291" y2="89.2" stroke="#c8000a" stroke-width="5.4" stroke-linecap="round"/>
<line x1="244" y1="117.2" x2="291" y2="117.2" stroke="#3b78c2" stroke-width="5.4" stroke-linecap="round"/>
<text x="306.8" y="66.6" font-size="25" fill="#222">SYCE1 core experimental data</text>
<text x="306.8" y="96.6" font-size="25" fill="#222" xml:space="preserve">CORAL anti-parallel model fit  (<tspan font-family="'Liberation Serif',serif" font-size="29" dx="1">χ</tspan><tspan font-size="16.5" dy="-9" dx="1">2</tspan><tspan dy="9" dx="1">= 1.23)</tspan></text>
<text x="306.8" y="123.6" font-size="25" fill="#222" xml:space="preserve">CORAL parallel model fit (<tspan font-family="'Liberation Serif',serif" font-size="29" dx="1">χ</tspan><tspan font-size="16.5" dy="-9" dx="1">2</tspan><tspan dy="9" dx="1">= 1.19)</tspan></text>
</g>
<g id="panel-b">
<text x="786.2" y="27.4" font-size="38.5" fill="#000" font-weight="bold">b</text>
<line x1="903.2" y1="62.5" x2="903.2" y2="474" stroke="#000" stroke-width="3.6"/>
<line x1="896.4" y1="467.8" x2="1504" y2="467.8" stroke="#000" stroke-width="3.5"/>
<line x1="896.4" y1="467.8" x2="903" y2="467.8" stroke="#000" stroke-width="3.4"/>
<text x="0" y="0" font-size="29.3" fill="#111" text-anchor="end" transform="translate(890 476.6) scale(0.900 1)">0</text>
<line x1="896.4" y1="394.1" x2="903" y2="394.1" stroke="#000" stroke-width="3.4"/>
<text x="0" y="0" font-size="29.3" fill="#111" text-anchor="end" transform="translate(890 402.9) scale(0.900 1)">0.2</text>
<line x1="896.4" y1="320.4" x2="903" y2="320.4" stroke="#000" stroke-width="3.4"/>
<text x="0" y="0" font-size="29.3" fill="#111" text-anchor="end" transform="translate(890 329.2) scale(0.900 1)">0.4</text>
<line x1="896.4" y1="246.6" x2="903" y2="246.6" stroke="#000" stroke-width="3.4"/>
<text x="0" y="0" font-size="29.3" fill="#111" text-anchor="end" transform="translate(890 255.4) scale(0.900 1)">0.6</text>
<line x1="896.4" y1="172.9" x2="903" y2="172.9" stroke="#000" stroke-width="3.4"/>
<text x="0" y="0" font-size="29.3" fill="#111" text-anchor="end" transform="translate(890 181.7) scale(0.900 1)">0.8</text>
<line x1="896.4" y1="99.2" x2="903" y2="99.2" stroke="#000" stroke-width="3.4"/>
<text x="0" y="0" font-size="29.3" fill="#111" text-anchor="end" transform="translate(890 108) scale(0.900 1)">1</text>
<line x1="903.2" y1="467" x2="903.2" y2="474" stroke="#000" stroke-width="3.4"/>
<text x="0" y="0" font-size="29.3" fill="#111" text-anchor="middle" transform="translate(903.2 503.6) scale(0.900 1)">0</text>
<line x1="1052.7" y1="467" x2="1052.7" y2="474" stroke="#000" stroke-width="3.4"/>
<text x="0" y="0" font-size="29.3" fill="#111" text-anchor="middle" transform="translate(1052.7 503.6) scale(0.900 1)">50</text>
<line x1="1202.2" y1="467" x2="1202.2" y2="474" stroke="#000" stroke-width="3.4"/>
<text x="0" y="0" font-size="29.3" fill="#111" text-anchor="middle" transform="translate(1202.2 503.6) scale(0.900 1)">100</text>
<line x1="1351.7" y1="467" x2="1351.7" y2="474" stroke="#000" stroke-width="3.4"/>
<text x="0" y="0" font-size="29.3" fill="#111" text-anchor="middle" transform="translate(1351.7 503.6) scale(0.900 1)">150</text>
<line x1="1501.2" y1="467" x2="1501.2" y2="474" stroke="#000" stroke-width="3.4"/>
<text x="0" y="0" font-size="29.3" fill="#111" text-anchor="middle" transform="translate(1501.2 503.6) scale(0.900 1)">200</text>
<text x="838" y="280" font-size="24" fill="#111" text-anchor="middle" font-style="italic" transform="rotate(-90 838 280)">P(r)</text>
<text x="1200" y="543" font-size="25" fill="#111" text-anchor="middle">Interatomic distance (Å)</text>
<text x="1237" y="194.5" font-size="25.3" fill="#333" text-anchor="middle">SYCE1 core</text>
<text x="1237" y="223.5" font-size="25.3" fill="#333" text-anchor="middle" font-style="italic">Dmax = 186 Å</text>
<path d="M903.6 467.8L904.3 462.9L905.1 457.9L905.8 453L906.4 448L907.1 443L907.7 438.1L908.2 433.1L908.7 428.1L909.2 423.2L909.7 418.2L910.2 413.2L910.7 408.2L911.2 403.3L911.7 398.3L912.2 393.3L912.6 388.3L913.1 383.3L913.5 378.4L913.9 373.4L914.3 368.4L914.7 363.4L915.1 358.4L915.5 353.4L916 348.5L916.4 343.5L916.8 338.5L917.2 333.5L917.7 328.5L918.4 323.6L919.1 318.6L919.8 313.7L920.6 308.8L921.5 303.8L922.4 298.9L923 294L923.5 289L924 284L924.4 279L924.9 274.1L925.4 269.1L925.9 264.1L926.4 259.1L926.8 254.1L927.4 249.2L928 244.2L928.6 239.2L929.2 234.3L929.7 229.3L930.3 224.4L930.9 219.4L931.9 214.5L933 209.6L934.1 204.7L935.3 199.9L936.8 195.1L938.3 190.3L939.7 185.6L940.8 180.7L941.4 175.7L942 170.8L942.6 165.8L943.2 160.8L943.9 155.9L944.8 151L945.8 146.1L946.7 141.1L947.6 136.2L948.9 131.4L951.2 127L953.9 122.8L955.5 118L957.1 113.3L958.8 108.6L961.1 104.1L963.9 100.3L968.6 98.5L973.1 99.1L977.3 101.7L980.9 105.2L983.6 109.3L986 113.7L988.4 118.1L990.2 122.8L991.9 127.5L993.9 132L996.5 136.3L999 140.6L1000.8 145.3L1002.2 150L1003.7 154.8L1005.1 159.6L1006.6 164.4L1008.6 168.9L1011.5 173L1013.8 177.3L1015.5 182.1L1017.1 186.8L1018.8 191.5L1020.4 196.2L1023.3 200.3L1026.6 204L1029.6 207.9L1032.1 212.3L1034.5 216.6L1037 221L1040.4 224.5L1044.2 227.2L1048.6 230.2L1053.1 232.9L1058 233.4L1062.8 233.9L1067.7 235.6L1072.6 237.3L1077.3 238.3L1082 239.6L1086.6 242L1091.2 244.6L1095.3 246.8L1099.5 249L1103.6 252.4L1107.6 255.9L1111.7 258.3L1115.7 260.8L1119.6 264.4L1123.5 268.1L1127.4 270.7L1131.7 272.6L1136.2 275.4L1140.7 278.1L1145.3 279.5L1150.1 280L1155 281.6L1159.9 283.1L1164.9 283.1L1169.9 283.1L1174.8 284.1L1179.8 285.2L1184.6 286L1189.5 286.8L1194.3 288.7L1199.1 290.6L1203.6 292.3L1208 294L1212.4 296.9L1216.5 300.3L1220.6 302.6L1224.6 305L1228.6 308.6L1232.7 312.1L1236.7 314.5L1240.9 316.7L1245.1 320L1249.3 323.3L1253.5 325.4L1257.7 327.5L1262 330.7L1266.3 333.7L1270.8 335.4L1275.3 337.1L1279.7 339.9L1284.2 342.7L1288.6 344.5L1293 346.3L1297.3 349.3L1301.6 352.5L1305.9 354.5L1310.1 356.6L1314.4 359.8L1318.6 363L1322.9 365.1L1327.1 367.1L1331.3 370.4L1335.5 373.7L1339.7 375.8L1344 377.9L1348.3 381L1352.6 384.1L1356.9 386L1361.3 387.9L1365.6 391L1370 394L1374.3 395.9L1378.7 397.8L1383.1 400.7L1387.4 403.8L1391.8 405.7L1396.1 407.7L1400.4 410.7L1404.5 414.1L1408.6 416.4L1412.7 418.7L1416.6 422.4L1420.5 426.1L1424.4 428.7L1428.2 431.4L1432 435.2L1435.8 439L1439.6 441.7L1443.4 444.4L1447.1 448.3L1450.7 452.3L1454.4 455.1L1458.3 457.8L1462.2 461.4L1466 465.2L1468.4 467.8" fill="none" stroke="#000" stroke-width="5.6" stroke-linejoin="round" stroke-linecap="butt"/>
</g>
<g id="panel-c">
<text x="0.4" y="597.9" font-size="38.5" fill="#000" font-weight="bold">c</text>
<text x="677.5" y="616" font-size="25.2" fill="#222" text-anchor="end" font-weight="bold">SYCE1 core</text>
<text x="677.5" y="642.5" font-size="25.2" fill="#333" text-anchor="end">SAXS <tspan font-style="italic">ab initio</tspan> model</text>
<defs>
<filter id="blobblur" x="-10%" y="-30%" width="120%" height="160%"><feMorphology operator="erode" radius="5.5"/><feGaussianBlur stdDeviation="6.5"/></filter>
<filter id="blobblur0" x="-10%" y="-30%" width="120%" height="160%"><feGaussianBlur stdDeviation="2.5"/></filter>
<filter id="blobblur3" x="-300%" y="-50%" width="700%" height="200%"><feGaussianBlur stdDeviation="7.5"/></filter>
<filter id="blobblur2" x="-10%" y="-30%" width="120%" height="160%"><feGaussianBlur stdDeviation="9"/></filter>
<filter id="blobtex" x="0" y="0" width="100%" height="100%"><feTurbulence type="fractalNoise" baseFrequency="0.04 0.05" numOctaves="2" seed="4"/><feColorMatrix type="matrix" values="0 0 0 0 0.25  0 0 0 0 0.26  0 0 0 0 0.36  1.6 0 0 0 -0.62"/><feGaussianBlur stdDeviation="1.2"/></filter>
<clipPath id="blobclip0"><path d="M87.5 762.8C87.8 756.3 89.8 748 93.3 741.5C96.8 735 103 728.9 108.8 724C114.6 719.1 120.8 714.5 128.2 712.4C135.6 710.3 146.3 710.2 153.4 711.2C160.5 712.2 165.4 715.9 170.9 718.2C176.4 720.5 180 724.6 186.4 725.2C192.8 725.8 201.2 723.2 209.6 722C218 720.8 229 718.5 236.8 718.2C244.6 717.9 249.7 719.8 256.2 720.1C262.7 720.4 269.1 722.7 275.6 720.1C282.1 717.5 288.5 710 295 704.6C301.5 699.2 307.9 691.7 314.4 688C320.9 684.3 327.7 683.2 333.8 682.5C339.9 681.8 346 682.5 351.2 684C356.4 685.5 359.9 690.5 364.8 691.8C369.7 693.1 375.1 693.5 380.3 691.8C385.5 690 390 683.5 395.8 681.3C401.6 679.1 408.7 677.8 415.2 678.6C421.7 679.5 427.5 683.7 434.6 686.4C441.7 689.1 450.8 693 457.9 694.9C465 696.8 469.6 697.5 477.3 697.6C485.1 697.7 495.3 694.9 504.4 695.7C513.4 696.6 523.2 699 531.6 702.7C540 706.5 547.1 715 554.9 718.2C562.6 721.4 570.4 721 578.1 722C585.9 723 594.3 721.4 601.4 724C608.5 726.6 615.6 732.1 620.8 737.6C626 743.1 630.1 749.9 632.4 757C634.7 764.1 635.7 772.5 634.4 780.2C633.1 788 629.6 796.9 624.7 803.5C619.9 810.1 612.4 816.9 605.3 819.8C598.2 822.7 587.8 822.1 582 821C576.2 819.9 573.6 816.4 570.4 813.2C567.2 810 568.4 804.2 562.6 801.6C556.8 799 546.5 798 535.5 797.7C524.5 797.4 505.8 800.6 496.7 799.6C487.6 798.6 487.7 795.5 481.2 791.9C474.7 788.3 466.9 781.2 457.9 778.3C448.8 775.4 436.6 775 426.9 774.4C417.2 773.8 407.5 775.7 399.7 774.4C391.9 773.1 386.1 767.4 380.3 766.7C374.5 766.1 371.3 767.6 364.8 770.5C358.3 773.4 349.3 781.2 341.5 784.1C333.7 787 325.3 786.7 318.2 788C311.1 789.3 305.3 789.6 298.9 791.9C292.4 794.2 286.6 798 279.5 801.6C272.4 805.2 266.6 811.3 256.2 813.2C245.8 815.1 227.1 814.8 217.4 813.2C207.7 811.6 205.1 804.1 198 803.5C190.9 802.9 182.4 806.8 174.7 809.3C166.9 811.8 159.2 816.7 151.5 818.3C143.8 819.9 136 822.1 128.2 819C120.4 815.9 111.1 806.1 104.9 799.6C98.8 793.1 94.2 786.3 91.3 780.2C88.4 774.1 87.2 769.2 87.5 762.8Z"/></clipPath>
<clipPath id="blobclip1"><path d="M100.3 964.7C101 958.9 102.9 948.9 106.9 941.5C110.9 934.1 118.8 924.6 124.3 920.1C129.8 915.6 133.3 915.4 139.8 914.3C146.3 913.2 155.3 913.5 163.1 913.5C170.9 913.5 179.9 916.1 186.4 914.3C192.9 912.5 195.4 906.5 201.9 902.7C208.4 899 218.1 894.3 225.2 891.8C232.3 889.3 238.2 887.7 244.6 887.9C251 888.1 258.1 890.7 263.9 893C269.7 895.3 273.7 900.4 279.5 901.9C285.3 903.4 291.8 902.1 298.9 901.9C306 901.7 313.7 899.6 322.1 900.7C330.5 901.8 339.6 906.1 349.3 908.5C359 910.9 370.6 914.5 380.3 915.1C390 915.8 399.1 913.5 407.5 912.4C415.9 911.3 422.3 908.3 430.7 908.5C439.1 908.7 450.1 913.8 457.9 913.5C465.7 913.2 468.2 909.3 477.3 906.5C486.4 903.7 501.9 898.1 512.2 896.8C522.6 895.5 531 898.5 539.4 898.8C547.8 899.1 554.2 900.1 562.6 898.8C571 897.5 581.4 891.5 589.8 891C598.2 890.5 606 891.8 613.1 895.7C620.2 899.6 628 908.6 632.5 914.3C637 920 639.4 923.3 640.2 929.8C641 936.3 640.3 946 637.1 953.1C633.9 960.2 628 967.5 620.8 972.5C613.6 977.5 602.8 982.1 593.7 983.4C584.7 984.7 576.2 979.1 566.5 980.2C556.8 981.3 547.1 987.6 535.5 989.9C523.9 992.2 507.7 993.8 496.7 993.8C485.7 993.8 477.9 988.9 469.5 989.9C461.1 990.9 454.1 996.8 446.3 999.6C438.6 1002.4 430.1 1006.3 423 1006.6C415.9 1006.9 410.1 1004.1 403.6 1001.6C397.1 999.1 392 993.5 384.2 991.9C376.4 990.3 365.4 990.3 357 991.9C348.6 993.5 340.3 1000.3 333.8 1001.6C327.3 1002.9 324 1002.2 318.2 999.6C312.4 997 306 988.7 298.9 986.1C291.8 983.5 284 983.5 275.6 984.1C267.2 984.7 257.4 989.6 248.4 989.9C239.3 990.2 229.7 985.5 221.3 986.1C212.9 986.8 205.1 990.6 198 993.8C190.9 997 185.1 1002.6 178.6 1005.5C172.1 1008.4 166.9 1011 159.2 1011.3C151.4 1011.6 139.8 1010.6 132.1 1007.4C124.3 1004.2 117.5 997.1 112.7 991.9C107.9 986.7 105.1 980.9 103 976.4C100.9 971.9 99.6 970.5 100.3 964.7Z"/></clipPath>
</defs>
<g clip-path="url(#blobclip0)">
<path d="M87.5 762.8C87.8 756.3 89.8 748 93.3 741.5C96.8 735 103 728.9 108.8 724C114.6 719.1 120.8 714.5 128.2 712.4C135.6 710.3 146.3 710.2 153.4 711.2C160.5 712.2 165.4 715.9 170.9 718.2C176.4 720.5 180 724.6 186.4 725.2C192.8 725.8 201.2 723.2 209.6 722C218 720.8 229 718.5 236.8 718.2C244.6 717.9 249.7 719.8 256.2 720.1C262.7 720.4 269.1 722.7 275.6 720.1C282.1 717.5 288.5 710 295 704.6C301.5 699.2 307.9 691.7 314.4 688C320.9 684.3 327.7 683.2 333.8 682.5C339.9 681.8 346 682.5 351.2 684C356.4 685.5 359.9 690.5 364.8 691.8C369.7 693.1 375.1 693.5 380.3 691.8C385.5 690 390 683.5 395.8 681.3C401.6 679.1 408.7 677.8 415.2 678.6C421.7 679.5 427.5 683.7 434.6 686.4C441.7 689.1 450.8 693 457.9 694.9C465 696.8 469.6 697.5 477.3 697.6C485.1 697.7 495.3 694.9 504.4 695.7C513.4 696.6 523.2 699 531.6 702.7C540 706.5 547.1 715 554.9 718.2C562.6 721.4 570.4 721 578.1 722C585.9 723 594.3 721.4 601.4 724C608.5 726.6 615.6 732.1 620.8 737.6C626 743.1 630.1 749.9 632.4 757C634.7 764.1 635.7 772.5 634.4 780.2C633.1 788 629.6 796.9 624.7 803.5C619.9 810.1 612.4 816.9 605.3 819.8C598.2 822.7 587.8 822.1 582 821C576.2 819.9 573.6 816.4 570.4 813.2C567.2 810 568.4 804.2 562.6 801.6C556.8 799 546.5 798 535.5 797.7C524.5 797.4 505.8 800.6 496.7 799.6C487.6 798.6 487.7 795.5 481.2 791.9C474.7 788.3 466.9 781.2 457.9 778.3C448.8 775.4 436.6 775 426.9 774.4C417.2 773.8 407.5 775.7 399.7 774.4C391.9 773.1 386.1 767.4 380.3 766.7C374.5 766.1 371.3 767.6 364.8 770.5C358.3 773.4 349.3 781.2 341.5 784.1C333.7 787 325.3 786.7 318.2 788C311.1 789.3 305.3 789.6 298.9 791.9C292.4 794.2 286.6 798 279.5 801.6C272.4 805.2 266.6 811.3 256.2 813.2C245.8 815.1 227.1 814.8 217.4 813.2C207.7 811.6 205.1 804.1 198 803.5C190.9 802.9 182.4 806.8 174.7 809.3C166.9 811.8 159.2 816.7 151.5 818.3C143.8 819.9 136 822.1 128.2 819C120.4 815.9 111.1 806.1 104.9 799.6C98.8 793.1 94.2 786.3 91.3 780.2C88.4 774.1 87.2 769.2 87.5 762.8Z" fill="#343544"/>
<path d="M87.5 762.8C87.8 756.3 89.8 748 93.3 741.5C96.8 735 103 728.9 108.8 724C114.6 719.1 120.8 714.5 128.2 712.4C135.6 710.3 146.3 710.2 153.4 711.2C160.5 712.2 165.4 715.9 170.9 718.2C176.4 720.5 180 724.6 186.4 725.2C192.8 725.8 201.2 723.2 209.6 722C218 720.8 229 718.5 236.8 718.2C244.6 717.9 249.7 719.8 256.2 720.1C262.7 720.4 269.1 722.7 275.6 720.1C282.1 717.5 288.5 710 295 704.6C301.5 699.2 307.9 691.7 314.4 688C320.9 684.3 327.7 683.2 333.8 682.5C339.9 681.8 346 682.5 351.2 684C356.4 685.5 359.9 690.5 364.8 691.8C369.7 693.1 375.1 693.5 380.3 691.8C385.5 690 390 683.5 395.8 681.3C401.6 679.1 408.7 677.8 415.2 678.6C421.7 679.5 427.5 683.7 434.6 686.4C441.7 689.1 450.8 693 457.9 694.9C465 696.8 469.6 697.5 477.3 697.6C485.1 697.7 495.3 694.9 504.4 695.7C513.4 696.6 523.2 699 531.6 702.7C540 706.5 547.1 715 554.9 718.2C562.6 721.4 570.4 721 578.1 722C585.9 723 594.3 721.4 601.4 724C608.5 726.6 615.6 732.1 620.8 737.6C626 743.1 630.1 749.9 632.4 757C634.7 764.1 635.7 772.5 634.4 780.2C633.1 788 629.6 796.9 624.7 803.5C619.9 810.1 612.4 816.9 605.3 819.8C598.2 822.7 587.8 822.1 582 821C576.2 819.9 573.6 816.4 570.4 813.2C567.2 810 568.4 804.2 562.6 801.6C556.8 799 546.5 798 535.5 797.7C524.5 797.4 505.8 800.6 496.7 799.6C487.6 798.6 487.7 795.5 481.2 791.9C474.7 788.3 466.9 781.2 457.9 778.3C448.8 775.4 436.6 775 426.9 774.4C417.2 773.8 407.5 775.7 399.7 774.4C391.9 773.1 386.1 767.4 380.3 766.7C374.5 766.1 371.3 767.6 364.8 770.5C358.3 773.4 349.3 781.2 341.5 784.1C333.7 787 325.3 786.7 318.2 788C311.1 789.3 305.3 789.6 298.9 791.9C292.4 794.2 286.6 798 279.5 801.6C272.4 805.2 266.6 811.3 256.2 813.2C245.8 815.1 227.1 814.8 217.4 813.2C207.7 811.6 205.1 804.1 198 803.5C190.9 802.9 182.4 806.8 174.7 809.3C166.9 811.8 159.2 816.7 151.5 818.3C143.8 819.9 136 822.1 128.2 819C120.4 815.9 111.1 806.1 104.9 799.6C98.8 793.1 94.2 786.3 91.3 780.2C88.4 774.1 87.2 769.2 87.5 762.8Z" fill="#6c6e8a" filter="url(#blobblur0)" transform="translate(0,-0.6)"/>
<path d="M87.5 762.8C87.8 756.3 89.8 748 93.3 741.5C96.8 735 103 728.9 108.8 724C114.6 719.1 120.8 714.5 128.2 712.4C135.6 710.3 146.3 710.2 153.4 711.2C160.5 712.2 165.4 715.9 170.9 718.2C176.4 720.5 180 724.6 186.4 725.2C192.8 725.8 201.2 723.2 209.6 722C218 720.8 229 718.5 236.8 718.2C244.6 717.9 249.7 719.8 256.2 720.1C262.7 720.4 269.1 722.7 275.6 720.1C282.1 717.5 288.5 710 295 704.6C301.5 699.2 307.9 691.7 314.4 688C320.9 684.3 327.7 683.2 333.8 682.5C339.9 681.8 346 682.5 351.2 684C356.4 685.5 359.9 690.5 364.8 691.8C369.7 693.1 375.1 693.5 380.3 691.8C385.5 690 390 683.5 395.8 681.3C401.6 679.1 408.7 677.8 415.2 678.6C421.7 679.5 427.5 683.7 434.6 686.4C441.7 689.1 450.8 693 457.9 694.9C465 696.8 469.6 697.5 477.3 697.6C485.1 697.7 495.3 694.9 504.4 695.7C513.4 696.6 523.2 699 531.6 702.7C540 706.5 547.1 715 554.9 718.2C562.6 721.4 570.4 721 578.1 722C585.9 723 594.3 721.4 601.4 724C608.5 726.6 615.6 732.1 620.8 737.6C626 743.1 630.1 749.9 632.4 757C634.7 764.1 635.7 772.5 634.4 780.2C633.1 788 629.6 796.9 624.7 803.5C619.9 810.1 612.4 816.9 605.3 819.8C598.2 822.7 587.8 822.1 582 821C576.2 819.9 573.6 816.4 570.4 813.2C567.2 810 568.4 804.2 562.6 801.6C556.8 799 546.5 798 535.5 797.7C524.5 797.4 505.8 800.6 496.7 799.6C487.6 798.6 487.7 795.5 481.2 791.9C474.7 788.3 466.9 781.2 457.9 778.3C448.8 775.4 436.6 775 426.9 774.4C417.2 773.8 407.5 775.7 399.7 774.4C391.9 773.1 386.1 767.4 380.3 766.7C374.5 766.1 371.3 767.6 364.8 770.5C358.3 773.4 349.3 781.2 341.5 784.1C333.7 787 325.3 786.7 318.2 788C311.1 789.3 305.3 789.6 298.9 791.9C292.4 794.2 286.6 798 279.5 801.6C272.4 805.2 266.6 811.3 256.2 813.2C245.8 815.1 227.1 814.8 217.4 813.2C207.7 811.6 205.1 804.1 198 803.5C190.9 802.9 182.4 806.8 174.7 809.3C166.9 811.8 159.2 816.7 151.5 818.3C143.8 819.9 136 822.1 128.2 819C120.4 815.9 111.1 806.1 104.9 799.6C98.8 793.1 94.2 786.3 91.3 780.2C88.4 774.1 87.2 769.2 87.5 762.8Z" fill="#b2b5d8" filter="url(#blobblur)" transform="translate(0,-3)"/>
<ellipse cx="186" cy="768" rx="9" ry="34" fill="#5e607c" opacity="0.31" filter="url(#blobblur3)" transform="rotate(10 186 768)"/>
<ellipse cx="278" cy="762" rx="9" ry="34" fill="#5e607c" opacity="0.37" filter="url(#blobblur3)" transform="rotate(10 278 762)"/>
<ellipse cx="372" cy="735" rx="9" ry="34" fill="#5e607c" opacity="0.46" filter="url(#blobblur3)" transform="rotate(10 372 735)"/>
<ellipse cx="472" cy="742" rx="9" ry="34" fill="#5e607c" opacity="0.28" filter="url(#blobblur3)" transform="rotate(10 472 742)"/>
<ellipse cx="562" cy="762" rx="9" ry="34" fill="#5e607c" opacity="0.31" filter="url(#blobblur3)" transform="rotate(10 562 762)"/>
<ellipse cx="140" cy="760" rx="30.2" ry="26.4" fill="#c0c3e6" opacity="0.9" filter="url(#blobblur2)"/>
<ellipse cx="232" cy="763" rx="28.8" ry="22.8" fill="#c0c3e6" opacity="0.9" filter="url(#blobblur2)"/>
<ellipse cx="338" cy="733" rx="30.2" ry="26.4" fill="#c0c3e6" opacity="0.9" filter="url(#blobblur2)"/>
<ellipse cx="430" cy="723" rx="31.7" ry="24" fill="#c0c3e6" opacity="0.9" filter="url(#blobblur2)"/>
<ellipse cx="520" cy="745" rx="30.2" ry="24" fill="#c0c3e6" opacity="0.9" filter="url(#blobblur2)"/>
<ellipse cx="592" cy="767" rx="25.9" ry="24" fill="#c0c3e6" opacity="0.9" filter="url(#blobblur2)"/>
<rect x="82.5" y="673.6" width="556.9" height="152.4" filter="url(#blobtex)" opacity="0.5"/>
</g>
<g clip-path="url(#blobclip1)">
<path d="M100.3 964.7C101 958.9 102.9 948.9 106.9 941.5C110.9 934.1 118.8 924.6 124.3 920.1C129.8 915.6 133.3 915.4 139.8 914.3C146.3 913.2 155.3 913.5 163.1 913.5C170.9 913.5 179.9 916.1 186.4 914.3C192.9 912.5 195.4 906.5 201.9 902.7C208.4 899 218.1 894.3 225.2 891.8C232.3 889.3 238.2 887.7 244.6 887.9C251 888.1 258.1 890.7 263.9 893C269.7 895.3 273.7 900.4 279.5 901.9C285.3 903.4 291.8 902.1 298.9 901.9C306 901.7 313.7 899.6 322.1 900.7C330.5 901.8 339.6 906.1 349.3 908.5C359 910.9 370.6 914.5 380.3 915.1C390 915.8 399.1 913.5 407.5 912.4C415.9 911.3 422.3 908.3 430.7 908.5C439.1 908.7 450.1 913.8 457.9 913.5C465.7 913.2 468.2 909.3 477.3 906.5C486.4 903.7 501.9 898.1 512.2 896.8C522.6 895.5 531 898.5 539.4 898.8C547.8 899.1 554.2 900.1 562.6 898.8C571 897.5 581.4 891.5 589.8 891C598.2 890.5 606 891.8 613.1 895.7C620.2 899.6 628 908.6 632.5 914.3C637 920 639.4 923.3 640.2 929.8C641 936.3 640.3 946 637.1 953.1C633.9 960.2 628 967.5 620.8 972.5C613.6 977.5 602.8 982.1 593.7 983.4C584.7 984.7 576.2 979.1 566.5 980.2C556.8 981.3 547.1 987.6 535.5 989.9C523.9 992.2 507.7 993.8 496.7 993.8C485.7 993.8 477.9 988.9 469.5 989.9C461.1 990.9 454.1 996.8 446.3 999.6C438.6 1002.4 430.1 1006.3 423 1006.6C415.9 1006.9 410.1 1004.1 403.6 1001.6C397.1 999.1 392 993.5 384.2 991.9C376.4 990.3 365.4 990.3 357 991.9C348.6 993.5 340.3 1000.3 333.8 1001.6C327.3 1002.9 324 1002.2 318.2 999.6C312.4 997 306 988.7 298.9 986.1C291.8 983.5 284 983.5 275.6 984.1C267.2 984.7 257.4 989.6 248.4 989.9C239.3 990.2 229.7 985.5 221.3 986.1C212.9 986.8 205.1 990.6 198 993.8C190.9 997 185.1 1002.6 178.6 1005.5C172.1 1008.4 166.9 1011 159.2 1011.3C151.4 1011.6 139.8 1010.6 132.1 1007.4C124.3 1004.2 117.5 997.1 112.7 991.9C107.9 986.7 105.1 980.9 103 976.4C100.9 971.9 99.6 970.5 100.3 964.7Z" fill="#343544"/>
<path d="M100.3 964.7C101 958.9 102.9 948.9 106.9 941.5C110.9 934.1 118.8 924.6 124.3 920.1C129.8 915.6 133.3 915.4 139.8 914.3C146.3 913.2 155.3 913.5 163.1 913.5C170.9 913.5 179.9 916.1 186.4 914.3C192.9 912.5 195.4 906.5 201.9 902.7C208.4 899 218.1 894.3 225.2 891.8C232.3 889.3 238.2 887.7 244.6 887.9C251 888.1 258.1 890.7 263.9 893C269.7 895.3 273.7 900.4 279.5 901.9C285.3 903.4 291.8 902.1 298.9 901.9C306 901.7 313.7 899.6 322.1 900.7C330.5 901.8 339.6 906.1 349.3 908.5C359 910.9 370.6 914.5 380.3 915.1C390 915.8 399.1 913.5 407.5 912.4C415.9 911.3 422.3 908.3 430.7 908.5C439.1 908.7 450.1 913.8 457.9 913.5C465.7 913.2 468.2 909.3 477.3 906.5C486.4 903.7 501.9 898.1 512.2 896.8C522.6 895.5 531 898.5 539.4 898.8C547.8 899.1 554.2 900.1 562.6 898.8C571 897.5 581.4 891.5 589.8 891C598.2 890.5 606 891.8 613.1 895.7C620.2 899.6 628 908.6 632.5 914.3C637 920 639.4 923.3 640.2 929.8C641 936.3 640.3 946 637.1 953.1C633.9 960.2 628 967.5 620.8 972.5C613.6 977.5 602.8 982.1 593.7 983.4C584.7 984.7 576.2 979.1 566.5 980.2C556.8 981.3 547.1 987.6 535.5 989.9C523.9 992.2 507.7 993.8 496.7 993.8C485.7 993.8 477.9 988.9 469.5 989.9C461.1 990.9 454.1 996.8 446.3 999.6C438.6 1002.4 430.1 1006.3 423 1006.6C415.9 1006.9 410.1 1004.1 403.6 1001.6C397.1 999.1 392 993.5 384.2 991.9C376.4 990.3 365.4 990.3 357 991.9C348.6 993.5 340.3 1000.3 333.8 1001.6C327.3 1002.9 324 1002.2 318.2 999.6C312.4 997 306 988.7 298.9 986.1C291.8 983.5 284 983.5 275.6 984.1C267.2 984.7 257.4 989.6 248.4 989.9C239.3 990.2 229.7 985.5 221.3 986.1C212.9 986.8 205.1 990.6 198 993.8C190.9 997 185.1 1002.6 178.6 1005.5C172.1 1008.4 166.9 1011 159.2 1011.3C151.4 1011.6 139.8 1010.6 132.1 1007.4C124.3 1004.2 117.5 997.1 112.7 991.9C107.9 986.7 105.1 980.9 103 976.4C100.9 971.9 99.6 970.5 100.3 964.7Z" fill="#6c6e8a" filter="url(#blobblur0)" transform="translate(0,-0.6)"/>
<path d="M100.3 964.7C101 958.9 102.9 948.9 106.9 941.5C110.9 934.1 118.8 924.6 124.3 920.1C129.8 915.6 133.3 915.4 139.8 914.3C146.3 913.2 155.3 913.5 163.1 913.5C170.9 913.5 179.9 916.1 186.4 914.3C192.9 912.5 195.4 906.5 201.9 902.7C208.4 899 218.1 894.3 225.2 891.8C232.3 889.3 238.2 887.7 244.6 887.9C251 888.1 258.1 890.7 263.9 893C269.7 895.3 273.7 900.4 279.5 901.9C285.3 903.4 291.8 902.1 298.9 901.9C306 901.7 313.7 899.6 322.1 900.7C330.5 901.8 339.6 906.1 349.3 908.5C359 910.9 370.6 914.5 380.3 915.1C390 915.8 399.1 913.5 407.5 912.4C415.9 911.3 422.3 908.3 430.7 908.5C439.1 908.7 450.1 913.8 457.9 913.5C465.7 913.2 468.2 909.3 477.3 906.5C486.4 903.7 501.9 898.1 512.2 896.8C522.6 895.5 531 898.5 539.4 898.8C547.8 899.1 554.2 900.1 562.6 898.8C571 897.5 581.4 891.5 589.8 891C598.2 890.5 606 891.8 613.1 895.7C620.2 899.6 628 908.6 632.5 914.3C637 920 639.4 923.3 640.2 929.8C641 936.3 640.3 946 637.1 953.1C633.9 960.2 628 967.5 620.8 972.5C613.6 977.5 602.8 982.1 593.7 983.4C584.7 984.7 576.2 979.1 566.5 980.2C556.8 981.3 547.1 987.6 535.5 989.9C523.9 992.2 507.7 993.8 496.7 993.8C485.7 993.8 477.9 988.9 469.5 989.9C461.1 990.9 454.1 996.8 446.3 999.6C438.6 1002.4 430.1 1006.3 423 1006.6C415.9 1006.9 410.1 1004.1 403.6 1001.6C397.1 999.1 392 993.5 384.2 991.9C376.4 990.3 365.4 990.3 357 991.9C348.6 993.5 340.3 1000.3 333.8 1001.6C327.3 1002.9 324 1002.2 318.2 999.6C312.4 997 306 988.7 298.9 986.1C291.8 983.5 284 983.5 275.6 984.1C267.2 984.7 257.4 989.6 248.4 989.9C239.3 990.2 229.7 985.5 221.3 986.1C212.9 986.8 205.1 990.6 198 993.8C190.9 997 185.1 1002.6 178.6 1005.5C172.1 1008.4 166.9 1011 159.2 1011.3C151.4 1011.6 139.8 1010.6 132.1 1007.4C124.3 1004.2 117.5 997.1 112.7 991.9C107.9 986.7 105.1 980.9 103 976.4C100.9 971.9 99.6 970.5 100.3 964.7Z" fill="#b2b5d8" filter="url(#blobblur)" transform="translate(0,-3)"/>
<ellipse cx="190" cy="955" rx="9" ry="34" fill="#5e607c" opacity="0.25" filter="url(#blobblur3)" transform="rotate(10 190 955)"/>
<ellipse cx="296" cy="945" rx="9" ry="34" fill="#5e607c" opacity="0.50" filter="url(#blobblur3)" transform="rotate(10 296 945)"/>
<ellipse cx="392" cy="955" rx="9" ry="34" fill="#5e607c" opacity="0.34" filter="url(#blobblur3)" transform="rotate(10 392 955)"/>
<ellipse cx="472" cy="952" rx="9" ry="34" fill="#5e607c" opacity="0.28" filter="url(#blobblur3)" transform="rotate(10 472 952)"/>
<ellipse cx="566" cy="942" rx="9" ry="34" fill="#5e607c" opacity="0.31" filter="url(#blobblur3)" transform="rotate(10 566 942)"/>
<ellipse cx="150" cy="957" rx="28.8" ry="24" fill="#c0c3e6" opacity="0.9" filter="url(#blobblur2)"/>
<ellipse cx="245" cy="935" rx="31.7" ry="25.2" fill="#c0c3e6" opacity="0.9" filter="url(#blobblur2)"/>
<ellipse cx="350" cy="947" rx="28.8" ry="21.6" fill="#c0c3e6" opacity="0.9" filter="url(#blobblur2)"/>
<ellipse cx="440" cy="953" rx="28.8" ry="22.8" fill="#c0c3e6" opacity="0.9" filter="url(#blobblur2)"/>
<ellipse cx="530" cy="940" rx="28.8" ry="22.8" fill="#c0c3e6" opacity="0.9" filter="url(#blobblur2)"/>
<ellipse cx="600" cy="933" rx="24.5" ry="22.8" fill="#c0c3e6" opacity="0.9" filter="url(#blobblur2)"/>
<rect x="95.3" y="882.9" width="549.9" height="133.4" filter="url(#blobtex)" opacity="0.5"/>
</g>
<path d="M370.6 824.8 A20.6 20.6 0 0 1 378.5 864.8 L378.8 867.8 L375.5 868 L370.3 861 L376 852.6 L378.8 852.8 L378.6 855.8 A15.6 11.4 0 0 0 370.6 834.2 Z" fill="#000" stroke="#000" stroke-width="0.8" stroke-linejoin="round"/>
<line x1="358.1" y1="844.9" x2="412.1" y2="844.9" stroke="#222" stroke-width="3.8"/>
<text x="425.5" y="853.3" font-size="25" fill="#222">90<tspan font-size="17" dy="-7.5">°</tspan></text>
<line x1="135" y1="1055.8" x2="615" y2="1055.8" stroke="#2d2d2d" stroke-width="4.4"/>
<path d="M107 1055.8 L145.5 1044 L139 1055.8 L145.5 1067.8 Z" fill="#2d2d2d"/>
<path d="M642 1055.8 L603.5 1044 L610 1055.8 L603.5 1067.8 Z" fill="#2d2d2d"/>
<text x="167.3" y="1099.2" font-size="25" fill="#111">Maximum dimension (<tspan font-style="italic">Dmax</tspan>) = 186 Å</text>
</g>
<g id="panel-d">
<text x="787" y="597.9" font-size="38.5" fill="#000" font-weight="bold">d</text>
<line x1="916.6" y1="627.3" x2="916.6" y2="1041.8" stroke="#000" stroke-width="3.6"/>
<line x1="914.8" y1="1040" x2="1487" y2="1040" stroke="#000" stroke-width="3.6"/>
<line x1="906.5" y1="636.2" x2="916" y2="636.2" stroke="#000" stroke-width="3.4"/>
<text x="899.5" y="648" font-size="25" fill="#111" text-anchor="end">-6.5</text>
<line x1="906.5" y1="703.5" x2="916" y2="703.5" stroke="#000" stroke-width="3.4"/>
<text x="899.5" y="715.9" font-size="25" fill="#111" text-anchor="end">-7.5</text>
<line x1="906.5" y1="770.8" x2="916" y2="770.8" stroke="#000" stroke-width="3.4"/>
<text x="899.5" y="783.7" font-size="25" fill="#111" text-anchor="end">-8.5</text>
<line x1="906.5" y1="838.1" x2="916" y2="838.1" stroke="#000" stroke-width="3.4"/>
<text x="899.5" y="851.5" font-size="25" fill="#111" text-anchor="end">-9.5</text>
<line x1="906.5" y1="905.4" x2="916" y2="905.4" stroke="#000" stroke-width="3.4"/>
<text x="899.5" y="919.4" font-size="25" fill="#111" text-anchor="end">-10.5</text>
<line x1="906.5" y1="972.7" x2="916" y2="972.7" stroke="#000" stroke-width="3.4"/>
<text x="899.5" y="987.2" font-size="25" fill="#111" text-anchor="end">-11.5</text>
<line x1="906.5" y1="1040" x2="916" y2="1040" stroke="#000" stroke-width="3.4"/>
<text x="899.5" y="1055.1" font-size="25" fill="#111" text-anchor="end">-12.5</text>
<line x1="916.5" y1="1040" x2="916.5" y2="1049" stroke="#000" stroke-width="3.4"/>
<text x="916.5" y="1073.8" font-size="25" fill="#111" text-anchor="middle">0</text>
<line x1="1022" y1="1040" x2="1022" y2="1049" stroke="#000" stroke-width="3.4"/>
<text x="1022" y="1073.8" font-size="25" fill="#111" text-anchor="middle">0.005</text>
<line x1="1127.4" y1="1040" x2="1127.4" y2="1049" stroke="#000" stroke-width="3.4"/>
<text x="1127.4" y="1073.8" font-size="25" fill="#111" text-anchor="middle">0.01</text>
<line x1="1232.8" y1="1040" x2="1232.8" y2="1049" stroke="#000" stroke-width="3.4"/>
<text x="1232.8" y="1073.8" font-size="25" fill="#111" text-anchor="middle">0.015</text>
<line x1="1338.3" y1="1040" x2="1338.3" y2="1049" stroke="#000" stroke-width="3.4"/>
<text x="1338.3" y="1073.8" font-size="25" fill="#111" text-anchor="middle">0.02</text>
<line x1="1443.8" y1="1040" x2="1443.8" y2="1049" stroke="#000" stroke-width="3.4"/>
<text x="1443.8" y="1073.8" font-size="25" fill="#111" text-anchor="middle">0.025</text>
<text x="843.5" y="817" font-size="25" fill="#111" text-anchor="middle" transform="rotate(-90 843.5 817)">ln <tspan font-style="italic">Q.I(Q)</tspan></text>
<text x="1225" y="1105.5" font-size="25" fill="#333" text-anchor="middle"><tspan font-style="italic">Q</tspan><tspan font-size="15" dy="-8">2</tspan><tspan dy="8"> (Å</tspan><tspan font-size="15" dy="-8">-2</tspan><tspan dy="8">)</tspan></text>
<text x="1239" y="725" font-size="25.3" fill="#111" text-anchor="middle">SYCE1 core</text>
<text x="1240" y="759" font-size="25.3" fill="#444" text-anchor="middle" font-style="italic">Rc = 10 Å</text>
<line x1="1114" y1="811.5" x2="1462" y2="886" stroke="#000" stroke-width="3" stroke-dasharray="10 8"/>
<g fill="none" stroke="#000" stroke-width="2"><circle cx="919.1" cy="966.3" r="3.9"/><circle cx="919.3" cy="955" r="3.9"/><circle cx="919.4" cy="926.7" r="3.9"/><circle cx="919.5" cy="926" r="3.9"/><circle cx="919.7" cy="911.8" r="3.9"/><circle cx="919.8" cy="892.4" r="3.9"/><circle cx="920" cy="897.6" r="3.9"/><circle cx="920.1" cy="890.4" r="3.9"/><circle cx="920.3" cy="880.4" r="3.9"/><circle cx="920.4" cy="877.9" r="3.9"/><circle cx="920.6" cy="878" r="3.9"/><circle cx="920.7" cy="866.2" r="3.9"/><circle cx="920.9" cy="864.9" r="3.9"/><circle cx="921.1" cy="856.9" r="3.9"/><circle cx="921.2" cy="869.5" r="3.9"/><circle cx="921.4" cy="860.4" r="3.9"/><circle cx="921.6" cy="846.5" r="3.9"/><circle cx="921.8" cy="839.8" r="3.9"/><circle cx="921.9" cy="859.2" r="3.9"/><circle cx="922.1" cy="841.6" r="3.9"/><circle cx="922.3" cy="850.3" r="3.9"/><circle cx="922.5" cy="847.4" r="3.9"/><circle cx="922.7" cy="846.1" r="3.9"/><circle cx="922.9" cy="841" r="3.9"/><circle cx="923.1" cy="829.6" r="3.9"/><circle cx="923.3" cy="829.7" r="3.9"/><circle cx="923.5" cy="832.3" r="3.9"/><circle cx="923.7" cy="834.2" r="3.9"/><circle cx="923.9" cy="829.3" r="3.9"/><circle cx="924.1" cy="828.6" r="3.9"/><circle cx="924.4" cy="820.3" r="3.9"/><circle cx="924.6" cy="830" r="3.9"/><circle cx="924.8" cy="822.4" r="3.9"/><circle cx="925" cy="821.9" r="3.9"/><circle cx="925.3" cy="820.5" r="3.9"/><circle cx="925.5" cy="817.1" r="3.9"/><circle cx="925.7" cy="816.6" r="3.9"/><circle cx="926" cy="806.6" r="3.9"/><circle cx="926.2" cy="817.1" r="3.9"/><circle cx="926.5" cy="802.4" r="3.9"/><circle cx="926.7" cy="817.5" r="3.9"/><circle cx="927" cy="818.4" r="3.9"/><circle cx="927.2" cy="811.3" r="3.9"/><circle cx="927.5" cy="808.1" r="3.9"/><circle cx="927.7" cy="807.8" r="3.9"/><circle cx="928" cy="798.1" r="3.9"/><circle cx="928.3" cy="798.3" r="3.9"/><circle cx="928.5" cy="802.7" r="3.9"/><circle cx="928.8" cy="809.5" r="3.9"/><circle cx="929.1" cy="805.8" r="3.9"/><circle cx="929.4" cy="792.2" r="3.9"/><circle cx="929.6" cy="802.1" r="3.9"/><circle cx="929.9" cy="818" r="3.9"/><circle cx="930.2" cy="810.9" r="3.9"/><circle cx="930.5" cy="809.4" r="3.9"/><circle cx="930.8" cy="793" r="3.9"/><circle cx="931.1" cy="803.7" r="3.9"/><circle cx="931.4" cy="783" r="3.9"/><circle cx="931.7" cy="796.4" r="3.9"/><circle cx="932" cy="800.6" r="3.9"/><circle cx="932.3" cy="806.2" r="3.9"/><circle cx="932.6" cy="792.8" r="3.9"/><circle cx="933" cy="803.4" r="3.9"/><circle cx="933.3" cy="809.5" r="3.9"/><circle cx="933.6" cy="795.3" r="3.9"/><circle cx="933.9" cy="799.8" r="3.9"/><circle cx="934.3" cy="789.3" r="3.9"/><circle cx="934.6" cy="800.1" r="3.9"/><circle cx="934.9" cy="830.4" r="3.9"/><circle cx="935.3" cy="791.8" r="3.9"/><circle cx="935.6" cy="819" r="3.9"/><circle cx="936" cy="784.7" r="3.9"/><circle cx="936.3" cy="781.9" r="3.9"/><circle cx="936.6" cy="802" r="3.9"/><circle cx="937" cy="809.8" r="3.9"/><circle cx="937.4" cy="812" r="3.9"/><circle cx="937.7" cy="788.8" r="3.9"/><circle cx="938.1" cy="798.6" r="3.9"/><circle cx="938.4" cy="803" r="3.9"/><circle cx="938.8" cy="799" r="3.9"/><circle cx="939.2" cy="778.1" r="3.9"/><circle cx="939.6" cy="793.2" r="3.9"/><circle cx="939.9" cy="789.7" r="3.9"/><circle cx="940.3" cy="789.4" r="3.9"/><circle cx="940.7" cy="787.3" r="3.9"/><circle cx="941.1" cy="786.9" r="3.9"/><circle cx="941.5" cy="804" r="3.9"/><circle cx="941.9" cy="798.5" r="3.9"/><circle cx="942.3" cy="804.6" r="3.9"/><circle cx="942.7" cy="804" r="3.9"/><circle cx="943.1" cy="786" r="3.9"/><circle cx="943.5" cy="801.6" r="3.9"/><circle cx="943.9" cy="796.9" r="3.9"/><circle cx="944.3" cy="803.7" r="3.9"/><circle cx="944.7" cy="802.6" r="3.9"/><circle cx="945.1" cy="789" r="3.9"/><circle cx="945.6" cy="800.9" r="3.9"/><circle cx="946" cy="801.3" r="3.9"/><circle cx="946.4" cy="791.5" r="3.9"/><circle cx="946.8" cy="791.4" r="3.9"/><circle cx="947.3" cy="788.8" r="3.9"/><circle cx="947.7" cy="794.2" r="3.9"/><circle cx="948.2" cy="815.5" r="3.9"/><circle cx="948.6" cy="790.1" r="3.9"/><circle cx="949" cy="791.2" r="3.9"/><circle cx="949.5" cy="786.6" r="3.9"/><circle cx="949.9" cy="805.2" r="3.9"/><circle cx="950.4" cy="773.2" r="3.9"/><circle cx="950.9" cy="809.5" r="3.9"/><circle cx="951.3" cy="789" r="3.9"/><circle cx="951.8" cy="795.1" r="3.9"/><circle cx="952.2" cy="801" r="3.9"/><circle cx="952.7" cy="788.1" r="3.9"/><circle cx="953.2" cy="798.6" r="3.9"/><circle cx="953.7" cy="822" r="3.9"/><circle cx="954.1" cy="808.7" r="3.9"/><circle cx="954.6" cy="791.2" r="3.9"/><circle cx="955.1" cy="775.2" r="3.9"/><circle cx="955.6" cy="812.2" r="3.9"/><circle cx="956.1" cy="795.4" r="3.9"/><circle cx="956.6" cy="782.1" r="3.9"/><circle cx="957.1" cy="789.7" r="3.9"/><circle cx="957.6" cy="799.4" r="3.9"/><circle cx="958.1" cy="811.4" r="3.9"/><circle cx="958.6" cy="815.6" r="3.9"/><circle cx="959.1" cy="803.7" r="3.9"/><circle cx="959.6" cy="799.3" r="3.9"/><circle cx="960.1" cy="821.1" r="3.9"/><circle cx="960.7" cy="814.7" r="3.9"/><circle cx="961.2" cy="792.4" r="3.9"/><circle cx="961.7" cy="799.9" r="3.9"/><circle cx="962.2" cy="803.9" r="3.9"/><circle cx="962.8" cy="799.9" r="3.9"/><circle cx="963.3" cy="804.6" r="3.9"/><circle cx="963.8" cy="786.7" r="3.9"/><circle cx="964.4" cy="780.2" r="3.9"/><circle cx="964.9" cy="776.3" r="3.9"/><circle cx="965.5" cy="788.8" r="3.9"/><circle cx="966" cy="788.4" r="3.9"/><circle cx="966.6" cy="781.9" r="3.9"/><circle cx="967.1" cy="779.4" r="3.9"/><circle cx="967.7" cy="781.9" r="3.9"/><circle cx="968.3" cy="784.2" r="3.9"/><circle cx="968.8" cy="802.8" r="3.9"/><circle cx="969.4" cy="814.2" r="3.9"/><circle cx="970" cy="787.3" r="3.9"/><circle cx="970.5" cy="796.5" r="3.9"/><circle cx="971.1" cy="796.1" r="3.9"/><circle cx="971.7" cy="806" r="3.9"/><circle cx="972.3" cy="810.9" r="3.9"/><circle cx="972.9" cy="782.5" r="3.9"/><circle cx="973.5" cy="791.2" r="3.9"/><circle cx="974.1" cy="808.2" r="3.9"/><circle cx="974.7" cy="791.9" r="3.9"/><circle cx="975.3" cy="792.7" r="3.9"/><circle cx="975.9" cy="790.7" r="3.9"/><circle cx="976.5" cy="774.8" r="3.9"/><circle cx="977.1" cy="796" r="3.9"/><circle cx="977.7" cy="810.9" r="3.9"/><circle cx="978.3" cy="795.3" r="3.9"/><circle cx="978.9" cy="803.4" r="3.9"/><circle cx="979.5" cy="790.5" r="3.9"/><circle cx="980.2" cy="793.7" r="3.9"/><circle cx="980.8" cy="792.5" r="3.9"/><circle cx="981.4" cy="802.6" r="3.9"/><circle cx="982" cy="791.9" r="3.9"/><circle cx="982.7" cy="801.9" r="3.9"/><circle cx="983.3" cy="790.9" r="3.9"/><circle cx="984" cy="799.5" r="3.9"/><circle cx="984.6" cy="809.3" r="3.9"/><circle cx="985.3" cy="791.2" r="3.9"/><circle cx="985.9" cy="804.4" r="3.9"/><circle cx="986.6" cy="782.3" r="3.9"/><circle cx="987.2" cy="791.7" r="3.9"/><circle cx="987.9" cy="791.5" r="3.9"/><circle cx="988.6" cy="795" r="3.9"/><circle cx="989.2" cy="796.7" r="3.9"/><circle cx="989.9" cy="825" r="3.9"/><circle cx="990.6" cy="784.4" r="3.9"/><circle cx="991.2" cy="805.9" r="3.9"/><circle cx="991.9" cy="787" r="3.9"/><circle cx="992.6" cy="803.9" r="3.9"/><circle cx="993.3" cy="797.9" r="3.9"/><circle cx="994" cy="798.9" r="3.9"/><circle cx="994.7" cy="808.8" r="3.9"/><circle cx="995.4" cy="798.3" r="3.9"/><circle cx="996.1" cy="791.7" r="3.9"/><circle cx="996.8" cy="801.3" r="3.9"/><circle cx="997.5" cy="811.7" r="3.9"/><circle cx="998.2" cy="803.3" r="3.9"/><circle cx="998.9" cy="793.9" r="3.9"/><circle cx="999.6" cy="785.3" r="3.9"/><circle cx="1000.3" cy="788.3" r="3.9"/><circle cx="1001" cy="793.6" r="3.9"/><circle cx="1001.8" cy="808.7" r="3.9"/><circle cx="1002.5" cy="787.9" r="3.9"/><circle cx="1003.2" cy="796.5" r="3.9"/><circle cx="1003.9" cy="799.8" r="3.9"/><circle cx="1004.7" cy="788.2" r="3.9"/><circle cx="1005.4" cy="791.1" r="3.9"/><circle cx="1006.2" cy="792.3" r="3.9"/><circle cx="1006.9" cy="811.4" r="3.9"/><circle cx="1007.6" cy="804.9" r="3.9"/><circle cx="1008.4" cy="818.5" r="3.9"/><circle cx="1009.1" cy="795.7" r="3.9"/><circle cx="1009.9" cy="797.4" r="3.9"/><circle cx="1010.7" cy="788.8" r="3.9"/><circle cx="1011.4" cy="795.8" r="3.9"/><circle cx="1012.2" cy="802.6" r="3.9"/><circle cx="1013" cy="777.6" r="3.9"/><circle cx="1013.7" cy="811" r="3.9"/><circle cx="1014.5" cy="814.9" r="3.9"/><circle cx="1015.3" cy="806" r="3.9"/><circle cx="1016.1" cy="793.4" r="3.9"/><circle cx="1016.9" cy="803" r="3.9"/><circle cx="1017.6" cy="804.3" r="3.9"/><circle cx="1018.4" cy="812.9" r="3.9"/><circle cx="1019.2" cy="784.6" r="3.9"/><circle cx="1020" cy="806.9" r="3.9"/><circle cx="1020.8" cy="812.7" r="3.9"/><circle cx="1021.6" cy="800.9" r="3.9"/><circle cx="1022.4" cy="809.6" r="3.9"/><circle cx="1023.2" cy="802.5" r="3.9"/><circle cx="1024" cy="786.6" r="3.9"/><circle cx="1024.9" cy="805.4" r="3.9"/><circle cx="1025.7" cy="800.6" r="3.9"/><circle cx="1026.5" cy="804.7" r="3.9"/><circle cx="1027.3" cy="802.6" r="3.9"/><circle cx="1028.2" cy="792.2" r="3.9"/><circle cx="1029" cy="795.2" r="3.9"/><circle cx="1029.8" cy="804.8" r="3.9"/><circle cx="1030.7" cy="812.4" r="3.9"/><circle cx="1031.5" cy="802.5" r="3.9"/><circle cx="1032.3" cy="792.7" r="3.9"/><circle cx="1033.2" cy="801.2" r="3.9"/><circle cx="1034" cy="802.8" r="3.9"/><circle cx="1034.9" cy="824.2" r="3.9"/><circle cx="1035.7" cy="791.5" r="3.9"/><circle cx="1036.6" cy="820.4" r="3.9"/><circle cx="1037.5" cy="817.9" r="3.9"/><circle cx="1038.3" cy="806.5" r="3.9"/><circle cx="1039.2" cy="801.5" r="3.9"/><circle cx="1040.1" cy="801.6" r="3.9"/><circle cx="1040.9" cy="811.9" r="3.9"/><circle cx="1041.8" cy="806.2" r="3.9"/><circle cx="1042.7" cy="810.1" r="3.9"/><circle cx="1043.6" cy="825.7" r="3.9"/><circle cx="1044.4" cy="806" r="3.9"/><circle cx="1045.3" cy="811.8" r="3.9"/><circle cx="1046.2" cy="798.9" r="3.9"/><circle cx="1047.1" cy="805.2" r="3.9"/><circle cx="1048" cy="793.6" r="3.9"/><circle cx="1048.9" cy="796.5" r="3.9"/><circle cx="1049.8" cy="794.6" r="3.9"/><circle cx="1050.7" cy="791.6" r="3.9"/><circle cx="1051.6" cy="797.1" r="3.9"/><circle cx="1052.6" cy="806.6" r="3.9"/><circle cx="1053.5" cy="790.5" r="3.9"/><circle cx="1054.4" cy="817.2" r="3.9"/><circle cx="1055.3" cy="805.5" r="3.9"/><circle cx="1056.2" cy="796.1" r="3.9"/><circle cx="1057.2" cy="809.2" r="3.9"/><circle cx="1058.1" cy="798" r="3.9"/><circle cx="1059" cy="816.6" r="3.9"/><circle cx="1060" cy="813.3" r="3.9"/><circle cx="1060.9" cy="800.3" r="3.9"/><circle cx="1061.9" cy="798.7" r="3.9"/><circle cx="1062.8" cy="793.7" r="3.9"/><circle cx="1063.8" cy="807.7" r="3.9"/><circle cx="1064.7" cy="803.7" r="3.9"/><circle cx="1065.7" cy="800.3" r="3.9"/><circle cx="1066.6" cy="802.2" r="3.9"/><circle cx="1067.6" cy="825.7" r="3.9"/><circle cx="1068.6" cy="815.7" r="3.9"/><circle cx="1069.5" cy="792.1" r="3.9"/><circle cx="1070.5" cy="825.7" r="3.9"/><circle cx="1071.5" cy="801.4" r="3.9"/><circle cx="1072.4" cy="814.6" r="3.9"/><circle cx="1073.4" cy="797.5" r="3.9"/><circle cx="1074.4" cy="820.1" r="3.9"/><circle cx="1075.4" cy="808.6" r="3.9"/><circle cx="1076.4" cy="838.5" r="3.9"/><circle cx="1077.4" cy="810.2" r="3.9"/><circle cx="1078.4" cy="797.6" r="3.9"/><circle cx="1079.4" cy="831.8" r="3.9"/><circle cx="1080.4" cy="796.6" r="3.9"/><circle cx="1081.4" cy="820.8" r="3.9"/><circle cx="1082.4" cy="811.3" r="3.9"/><circle cx="1083.4" cy="851.7" r="3.9"/><circle cx="1084.4" cy="798.5" r="3.9"/><circle cx="1085.4" cy="824.2" r="3.9"/><circle cx="1086.5" cy="819.2" r="3.9"/><circle cx="1087.5" cy="830.4" r="3.9"/><circle cx="1088.5" cy="826.2" r="3.9"/><circle cx="1089.5" cy="797.9" r="3.9"/><circle cx="1090.6" cy="819.1" r="3.9"/><circle cx="1091.6" cy="800.9" r="3.9"/><circle cx="1092.6" cy="814.2" r="3.9"/><circle cx="1093.7" cy="807.4" r="3.9"/><circle cx="1094.7" cy="819.4" r="3.9"/><circle cx="1095.8" cy="806.5" r="3.9"/><circle cx="1096.8" cy="780.5" r="3.9"/><circle cx="1097.9" cy="803.9" r="3.9"/><circle cx="1098.9" cy="805.7" r="3.9"/><circle cx="1100" cy="819.2" r="3.9"/><circle cx="1101.1" cy="799.6" r="3.9"/><circle cx="1102.1" cy="795.3" r="3.9"/><circle cx="1103.2" cy="838.7" r="3.9"/><circle cx="1104.3" cy="833.8" r="3.9"/><circle cx="1105.4" cy="786.1" r="3.9"/><circle cx="1106.4" cy="806.9" r="3.9"/><circle cx="1107.5" cy="810.6" r="3.9"/><circle cx="1108.6" cy="805.2" r="3.9"/><circle cx="1109.7" cy="798.6" r="3.9"/><circle cx="1110.8" cy="802.3" r="3.9"/><circle cx="1111.9" cy="816" r="3.9"/><circle cx="1113" cy="786.3" r="3.9"/><circle cx="1114.1" cy="812.3" r="3.9"/><circle cx="1372.3" cy="867.4" r="3.9"/><circle cx="1374" cy="867.2" r="3.9"/><circle cx="1375.7" cy="902.1" r="3.9"/><circle cx="1377.3" cy="864.7" r="3.9"/><circle cx="1379" cy="848" r="3.9"/><circle cx="1380.7" cy="883" r="3.9"/><circle cx="1382.4" cy="891.7" r="3.9"/><circle cx="1384.1" cy="867.4" r="3.9"/><circle cx="1385.8" cy="851.5" r="3.9"/><circle cx="1387.5" cy="850.7" r="3.9"/><circle cx="1389.2" cy="899.6" r="3.9"/><circle cx="1390.9" cy="863.2" r="3.9"/><circle cx="1392.6" cy="883.6" r="3.9"/><circle cx="1394.3" cy="866.6" r="3.9"/><circle cx="1396" cy="916" r="3.9"/><circle cx="1397.8" cy="857.4" r="3.9"/><circle cx="1399.5" cy="879.8" r="3.9"/><circle cx="1401.2" cy="869.2" r="3.9"/><circle cx="1402.9" cy="876.3" r="3.9"/><circle cx="1404.7" cy="893.5" r="3.9"/><circle cx="1406.4" cy="865.3" r="3.9"/><circle cx="1408.1" cy="883.3" r="3.9"/><circle cx="1409.9" cy="887.7" r="3.9"/><circle cx="1411.6" cy="864.4" r="3.9"/><circle cx="1413.4" cy="876.5" r="3.9"/><circle cx="1415.1" cy="889" r="3.9"/><circle cx="1416.9" cy="861.2" r="3.9"/><circle cx="1418.6" cy="887.6" r="3.9"/><circle cx="1420.4" cy="877" r="3.9"/><circle cx="1422.1" cy="865.5" r="3.9"/><circle cx="1423.9" cy="862.6" r="3.9"/><circle cx="1425.7" cy="859.1" r="3.9"/><circle cx="1427.4" cy="852.4" r="3.9"/><circle cx="1429.2" cy="877.5" r="3.9"/><circle cx="1431" cy="894.2" r="3.9"/><circle cx="1432.8" cy="853.7" r="3.9"/><circle cx="1434.6" cy="858" r="3.9"/><circle cx="1436.3" cy="885.5" r="3.9"/><circle cx="1438.1" cy="869.4" r="3.9"/><circle cx="1439.9" cy="887.8" r="3.9"/><circle cx="1441.7" cy="911.2" r="3.9"/><circle cx="1443.5" cy="865.4" r="3.9"/><circle cx="1445.3" cy="876.3" r="3.9"/><circle cx="1447.1" cy="880.1" r="3.9"/><circle cx="1448.9" cy="856.6" r="3.9"/><circle cx="1450.7" cy="860.9" r="3.9"/><circle cx="1452.6" cy="895.6" r="3.9"/><circle cx="1454.4" cy="905" r="3.9"/><circle cx="1456.2" cy="920.6" r="3.9"/><circle cx="1458" cy="884.1" r="3.9"/><circle cx="1459.9" cy="892.1" r="3.9"/><circle cx="1461.7" cy="879.5" r="3.9"/><circle cx="1463.5" cy="885.2" r="3.9"/></g>
<g fill="#000"><circle cx="1115.2" cy="826.8" r="4.7"/><circle cx="1116.3" cy="821.9" r="4.7"/><circle cx="1117.4" cy="815.2" r="4.7"/><circle cx="1118.5" cy="819.5" r="4.7"/><circle cx="1119.6" cy="816.6" r="4.7"/><circle cx="1120.7" cy="809.7" r="4.7"/><circle cx="1121.9" cy="868.3" r="4.7"/><circle cx="1123" cy="827.2" r="4.7"/><circle cx="1124.1" cy="802.1" r="4.7"/><circle cx="1125.3" cy="807.4" r="4.7"/><circle cx="1126.4" cy="826.3" r="4.7"/><circle cx="1127.5" cy="825.7" r="4.7"/><circle cx="1128.7" cy="800.4" r="4.7"/><circle cx="1129.8" cy="819.8" r="4.7"/><circle cx="1131" cy="824.9" r="4.7"/><circle cx="1132.1" cy="791.6" r="4.7"/><circle cx="1133.3" cy="822.7" r="4.7"/><circle cx="1134.4" cy="807.5" r="4.7"/><circle cx="1135.6" cy="817.7" r="4.7"/><circle cx="1136.7" cy="816.4" r="4.7"/><circle cx="1137.9" cy="833.6" r="4.7"/><circle cx="1139.1" cy="831.8" r="4.7"/><circle cx="1140.2" cy="800.9" r="4.7"/><circle cx="1141.4" cy="837.8" r="4.7"/><circle cx="1142.6" cy="814.6" r="4.7"/><circle cx="1143.8" cy="839.4" r="4.7"/><circle cx="1145" cy="823" r="4.7"/><circle cx="1146.1" cy="819.7" r="4.7"/><circle cx="1147.3" cy="847.9" r="4.7"/><circle cx="1148.5" cy="804" r="4.7"/><circle cx="1149.7" cy="823.1" r="4.7"/><circle cx="1150.9" cy="803.3" r="4.7"/><circle cx="1152.1" cy="836.9" r="4.7"/><circle cx="1153.3" cy="807.9" r="4.7"/><circle cx="1154.5" cy="788.3" r="4.7"/><circle cx="1155.8" cy="818.1" r="4.7"/><circle cx="1157" cy="832.9" r="4.7"/><circle cx="1158.2" cy="814.9" r="4.7"/><circle cx="1159.4" cy="819.9" r="4.7"/><circle cx="1160.6" cy="825.9" r="4.7"/><circle cx="1161.9" cy="824.5" r="4.7"/><circle cx="1163.1" cy="833.1" r="4.7"/><circle cx="1164.3" cy="816.8" r="4.7"/><circle cx="1165.6" cy="830.2" r="4.7"/><circle cx="1166.8" cy="839.1" r="4.7"/><circle cx="1168" cy="811.9" r="4.7"/><circle cx="1169.3" cy="827" r="4.7"/><circle cx="1170.5" cy="786" r="4.7"/><circle cx="1171.8" cy="829.1" r="4.7"/><circle cx="1173" cy="838" r="4.7"/><circle cx="1174.3" cy="835.2" r="4.7"/><circle cx="1175.6" cy="819.8" r="4.7"/><circle cx="1176.8" cy="838.5" r="4.7"/><circle cx="1178.1" cy="849.4" r="4.7"/><circle cx="1179.4" cy="801.9" r="4.7"/><circle cx="1180.6" cy="849.7" r="4.7"/><circle cx="1181.9" cy="804.2" r="4.7"/><circle cx="1183.2" cy="824.7" r="4.7"/><circle cx="1184.5" cy="847.3" r="4.7"/><circle cx="1185.8" cy="802.5" r="4.7"/><circle cx="1187" cy="831.5" r="4.7"/><circle cx="1188.3" cy="847.2" r="4.7"/><circle cx="1189.6" cy="827.2" r="4.7"/><circle cx="1190.9" cy="809.1" r="4.7"/><circle cx="1192.2" cy="818.4" r="4.7"/><circle cx="1193.5" cy="816.5" r="4.7"/><circle cx="1194.8" cy="802.6" r="4.7"/><circle cx="1196.1" cy="826.3" r="4.7"/><circle cx="1197.5" cy="824.1" r="4.7"/><circle cx="1198.8" cy="834.5" r="4.7"/><circle cx="1200.1" cy="858.9" r="4.7"/><circle cx="1201.4" cy="833.5" r="4.7"/><circle cx="1202.7" cy="806" r="4.7"/><circle cx="1204.1" cy="865.4" r="4.7"/><circle cx="1205.4" cy="810.6" r="4.7"/><circle cx="1206.7" cy="827.7" r="4.7"/><circle cx="1208.1" cy="850.2" r="4.7"/><circle cx="1209.4" cy="831.3" r="4.7"/><circle cx="1210.8" cy="804.7" r="4.7"/><circle cx="1212.1" cy="844.4" r="4.7"/><circle cx="1213.5" cy="820.7" r="4.7"/><circle cx="1214.8" cy="815.5" r="4.7"/><circle cx="1216.2" cy="851.9" r="4.7"/><circle cx="1217.5" cy="823.9" r="4.7"/><circle cx="1218.9" cy="825.8" r="4.7"/><circle cx="1220.2" cy="844.2" r="4.7"/><circle cx="1221.6" cy="823.9" r="4.7"/><circle cx="1223" cy="842.5" r="4.7"/><circle cx="1224.4" cy="847.3" r="4.7"/><circle cx="1225.7" cy="861.2" r="4.7"/><circle cx="1227.1" cy="829.8" r="4.7"/><circle cx="1228.5" cy="845.2" r="4.7"/><circle cx="1229.9" cy="848.2" r="4.7"/><circle cx="1231.3" cy="860.8" r="4.7"/><circle cx="1232.7" cy="865.7" r="4.7"/><circle cx="1234.1" cy="853.9" r="4.7"/><circle cx="1235.5" cy="825.8" r="4.7"/><circle cx="1236.9" cy="855" r="4.7"/><circle cx="1238.3" cy="814.7" r="4.7"/><circle cx="1239.7" cy="832" r="4.7"/><circle cx="1241.1" cy="836.3" r="4.7"/><circle cx="1242.5" cy="864.3" r="4.7"/><circle cx="1243.9" cy="807.7" r="4.7"/><circle cx="1245.3" cy="869.8" r="4.7"/><circle cx="1246.8" cy="831.4" r="4.7"/><circle cx="1248.2" cy="812.8" r="4.7"/><circle cx="1249.6" cy="844.8" r="4.7"/><circle cx="1251.1" cy="855.2" r="4.7"/><circle cx="1252.5" cy="841.7" r="4.7"/><circle cx="1253.9" cy="826.7" r="4.7"/><circle cx="1255.4" cy="819.8" r="4.7"/><circle cx="1256.8" cy="832.4" r="4.7"/><circle cx="1258.3" cy="864.7" r="4.7"/><circle cx="1259.7" cy="856.8" r="4.7"/><circle cx="1261.2" cy="839.8" r="4.7"/><circle cx="1262.6" cy="869.8" r="4.7"/><circle cx="1264.1" cy="848.7" r="4.7"/><circle cx="1265.6" cy="807.8" r="4.7"/><circle cx="1267" cy="866.2" r="4.7"/><circle cx="1268.5" cy="825.9" r="4.7"/><circle cx="1270" cy="864.2" r="4.7"/><circle cx="1271.4" cy="852.3" r="4.7"/><circle cx="1272.9" cy="847" r="4.7"/><circle cx="1274.4" cy="876.9" r="4.7"/><circle cx="1275.9" cy="848.3" r="4.7"/><circle cx="1277.4" cy="825.6" r="4.7"/><circle cx="1278.9" cy="835.2" r="4.7"/><circle cx="1280.4" cy="835.9" r="4.7"/><circle cx="1281.9" cy="864" r="4.7"/><circle cx="1283.4" cy="850.7" r="4.7"/><circle cx="1284.9" cy="844.8" r="4.7"/><circle cx="1286.4" cy="837.5" r="4.7"/><circle cx="1287.9" cy="827.1" r="4.7"/><circle cx="1289.4" cy="869.5" r="4.7"/><circle cx="1290.9" cy="822" r="4.7"/><circle cx="1292.4" cy="855.5" r="4.7"/><circle cx="1293.9" cy="855.1" r="4.7"/><circle cx="1295.5" cy="875" r="4.7"/><circle cx="1297" cy="852" r="4.7"/><circle cx="1298.5" cy="855.6" r="4.7"/><circle cx="1300.1" cy="876.5" r="4.7"/><circle cx="1301.6" cy="857.5" r="4.7"/><circle cx="1303.1" cy="849.9" r="4.7"/><circle cx="1304.7" cy="860.6" r="4.7"/><circle cx="1306.2" cy="840.1" r="4.7"/><circle cx="1307.8" cy="873.7" r="4.7"/><circle cx="1309.3" cy="839" r="4.7"/><circle cx="1310.9" cy="857.3" r="4.7"/><circle cx="1312.5" cy="847.9" r="4.7"/><circle cx="1314" cy="891.7" r="4.7"/><circle cx="1315.6" cy="852.4" r="4.7"/><circle cx="1317.1" cy="856.1" r="4.7"/><circle cx="1318.7" cy="840.2" r="4.7"/><circle cx="1320.3" cy="879.4" r="4.7"/><circle cx="1321.9" cy="834.1" r="4.7"/><circle cx="1323.5" cy="878.1" r="4.7"/><circle cx="1325" cy="835.6" r="4.7"/><circle cx="1326.6" cy="847.6" r="4.7"/><circle cx="1328.2" cy="872.4" r="4.7"/><circle cx="1329.8" cy="823.1" r="4.7"/><circle cx="1331.4" cy="882" r="4.7"/><circle cx="1333" cy="861.6" r="4.7"/><circle cx="1334.6" cy="855.2" r="4.7"/><circle cx="1336.2" cy="850.5" r="4.7"/><circle cx="1337.8" cy="855.5" r="4.7"/><circle cx="1339.4" cy="846.8" r="4.7"/><circle cx="1341" cy="852.5" r="4.7"/><circle cx="1342.7" cy="859.6" r="4.7"/><circle cx="1344.3" cy="879.2" r="4.7"/><circle cx="1345.9" cy="867.8" r="4.7"/><circle cx="1347.5" cy="846.9" r="4.7"/><circle cx="1349.2" cy="885" r="4.7"/><circle cx="1350.8" cy="860.1" r="4.7"/><circle cx="1352.4" cy="903.3" r="4.7"/><circle cx="1354.1" cy="876.5" r="4.7"/><circle cx="1355.7" cy="895.4" r="4.7"/><circle cx="1357.4" cy="843.7" r="4.7"/><circle cx="1359" cy="900.1" r="4.7"/><circle cx="1360.7" cy="868.7" r="4.7"/><circle cx="1362.3" cy="852.8" r="4.7"/><circle cx="1364" cy="855" r="4.7"/><circle cx="1365.6" cy="852.8" r="4.7"/><circle cx="1367.3" cy="848.6" r="4.7"/><circle cx="1369" cy="858.2" r="4.7"/><circle cx="1370.6" cy="852.9" r="4.7"/></g>
<line x1="1114.3" y1="742.5" x2="1114.3" y2="896" stroke="#444" stroke-width="3.2" stroke-dasharray="6.5 4.5"/>
<line x1="1370.5" y1="791" x2="1370.5" y2="943.5" stroke="#444" stroke-width="3.2" stroke-dasharray="6.5 4.5"/>
</g>
<defs><radialGradient id="hshade" cx="0.5" cy="0.5" r="0.62"><stop offset="0" stop-color="#fff" stop-opacity="0.12"/><stop offset="0.4" stop-color="#fff" stop-opacity="0"/><stop offset="1" stop-color="#000" stop-opacity="0.45"/></radialGradient></defs>
<g id="panel-e">
<text x="0.2" y="1169.1" font-size="38.5" fill="#000" font-weight="bold">e</text>
<text x="749" y="1197.5" font-size="25" fill="#2b2b2b" text-anchor="end">SAXS CORAL</text>
<text x="749" y="1222.5" font-size="25" fill="#2b2b2b" text-anchor="end">model</text>
<text x="466.5" y="1370" font-size="25" fill="#111" text-anchor="middle">SYCE1</text>
<text x="466.5" y="1394.2" font-size="25" fill="#111" text-anchor="middle">parallel</text>
<text x="466.5" y="1418.4" font-size="25" fill="#111" text-anchor="middle">dimer</text>
<text x="741.2" y="1361.8" font-size="25" fill="#333" text-anchor="middle">C</text>
<text x="741.2" y="1387" font-size="25" fill="#333" text-anchor="middle">(179)</text>
<text x="752.5" y="1457" font-size="25" fill="#333" text-anchor="middle">C</text>
<text x="752.5" y="1482.5" font-size="25" fill="#333" text-anchor="middle">(179)</text>
<text x="21" y="1426" font-size="25" fill="#333" text-anchor="middle">N</text>
<text x="21.5" y="1451.5" font-size="25" fill="#333" text-anchor="middle">(25)</text>
<text x="40" y="1497" font-size="25" fill="#333" text-anchor="middle">N</text>
<text x="40" y="1522" font-size="25" fill="#333" text-anchor="middle">(25)</text>
<path d="M50.6 1438.7C52.5 1437.9 58.4 1435 62 1434C65.6 1433 68.7 1433.2 72 1432.5C75.3 1431.8 78.8 1431.4 82 1430C85.2 1428.6 88.5 1426 91 1424C93.5 1422 94.8 1419.7 97 1418C99.2 1416.3 101.8 1415 104 1414C106.2 1413 108.3 1413 110 1412C111.7 1411 113.3 1408.7 114 1408" fill="none" stroke="#a01828" stroke-width="1.9" stroke-linecap="round" stroke-linejoin="round"/>
<path d="M53.6 1476.5C54.7 1475.4 57.6 1471.8 60 1470C62.4 1468.2 65 1467.3 68 1466C71 1464.7 74.7 1463.7 78 1462C81.3 1460.3 84.7 1457.8 88 1456C91.3 1454.2 95 1452.7 98 1451C101 1449.3 103.5 1446.7 106 1446C108.5 1445.3 110.7 1447.5 113 1447C115.3 1446.5 118.8 1443.7 120 1443" fill="none" stroke="#a01828" stroke-width="1.9" stroke-linecap="round" stroke-linejoin="round"/>
<path d="M168 1392C167.7 1391 165.5 1387.3 166 1386C166.5 1384.7 170 1383.5 171 1384C172 1384.5 172.8 1388.3 172 1389C171.2 1389.7 166.3 1389.3 166 1388C165.7 1386.7 167.7 1382.7 170 1381C172.3 1379.3 176.8 1379 180 1378C183.2 1377 186.2 1376.5 189 1375C191.8 1373.5 194.7 1369.3 197 1369C199.3 1368.7 201.2 1371.3 203 1373C204.8 1374.7 205.8 1377.8 208 1379C210.2 1380.2 213.3 1379.7 216 1380C218.7 1380.3 221.6 1379.7 224 1381C226.4 1382.3 229.4 1386.8 230.5 1388" fill="none" stroke="#a01828" stroke-width="1.9" stroke-linecap="round" stroke-linejoin="round"/>
<path d="M178 1432C178.5 1430.7 179.7 1426.2 181 1424C182.3 1421.8 184.5 1420.7 186 1419C187.5 1417.3 188.2 1415.2 190 1414C191.8 1412.8 194.8 1411.7 197 1412C199.2 1412.3 201.3 1414.3 203 1416C204.7 1417.7 205.3 1421.5 207 1422C208.7 1422.5 211 1419.3 213 1419C215 1418.7 217.2 1418.7 219 1420C220.8 1421.3 222 1425.7 224 1427C226 1428.3 228.8 1428.7 231 1428C233.2 1427.3 235.5 1425.7 237 1423C238.5 1420.3 239.5 1413.8 240 1412" fill="none" stroke="#a01828" stroke-width="1.9" stroke-linecap="round" stroke-linejoin="round"/>
<path d="M478 1253C478.7 1252 480.3 1248.3 482 1247C483.7 1245.7 486.3 1244.8 488 1245C489.7 1245.2 491.8 1246.8 492 1248C492.2 1249.2 490.3 1251.3 489 1252C487.7 1252.7 485 1251 484 1252C483 1253 482.7 1255.7 483 1258C483.3 1260.3 486 1263.7 486 1266C486 1268.3 483.8 1269.7 483 1272C482.2 1274.3 480.8 1277.3 481 1280C481.2 1282.7 484.2 1285.3 484 1288C483.8 1290.7 480.5 1293.5 480 1296C479.5 1298.5 480.8 1301.8 481 1303" fill="none" stroke="#b06a88" stroke-width="1.5" stroke-linecap="round" stroke-linejoin="round"/>
<path d="M486 1286C486.7 1284.3 488.3 1278.5 490 1276C491.7 1273.5 494 1271.3 496 1271C498 1270.7 500.8 1272.5 502 1274C503.2 1275.5 503.7 1278.3 503 1280C502.3 1281.7 499.8 1283.7 498 1284C496.2 1284.3 493 1282.3 492 1282" fill="none" stroke="#b890b8" stroke-width="1.5" stroke-linecap="round" stroke-linejoin="round"/>
<path d="M125.6 1412.7L126.5 1411.8L127.1 1409.8L127.5 1407L127.8 1403.7L128 1400.5L128.4 1397.6L129 1395.7L129.9 1394.8L137.9 1392.8L137 1393.6L136.4 1395.6L136 1398.4L135.8 1401.7L135.5 1405L135.1 1407.8L134.5 1409.8L133.6 1410.7Z" fill="#8c8c8c" stroke="#5e5e5e" stroke-width="0.6"/><path d="M142.3 1408.4L143.2 1407.6L143.8 1405.6L144.2 1402.8L144.4 1399.5L144.7 1396.2L145.1 1393.4L145.7 1391.4L146.6 1390.6L154.6 1388.5L153.7 1389.4L153.1 1391.4L152.7 1394.2L152.4 1397.5L152.2 1400.8L151.8 1403.6L151.2 1405.5L150.3 1406.4Z" fill="#8c8c8c" stroke="#5e5e5e" stroke-width="0.6"/><path d="M112.5 1398.6L113.7 1399L115.2 1400.5L117 1403L118.8 1406L120.7 1409L122.4 1411.5L124 1413.1L125.2 1413.4L134.2 1411.1L133 1410.8L131.4 1409.2L129.7 1406.7L127.8 1403.7L126 1400.7L124.2 1398.3L122.7 1396.7L121.5 1396.3Z" fill="#c01622" stroke="#560a0f" stroke-width="1.1" stroke-linejoin="round"/><path d="M112.5 1398.6L113.7 1399L115.2 1400.5L117 1403L118.8 1406L120.7 1409L122.4 1411.5L124 1413.1L125.2 1413.4L134.2 1411.1L133 1410.8L131.4 1409.2L129.7 1406.7L127.8 1403.7L126 1400.7L124.2 1398.3L122.7 1396.7L121.5 1396.3Z" fill="url(#hshade)"/><path d="M129.2 1394.4L130.4 1394.7L131.9 1396.3L133.6 1398.8L135.5 1401.8L137.4 1404.8L139.1 1407.2L140.6 1408.8L141.8 1409.2L150.8 1406.9L149.6 1406.5L148.1 1405L146.4 1402.5L144.5 1399.5L142.6 1396.5L140.9 1394L139.4 1392.4L138.2 1392.1Z" fill="#c01622" stroke="#560a0f" stroke-width="1.1" stroke-linejoin="round"/><path d="M129.2 1394.4L130.4 1394.7L131.9 1396.3L133.6 1398.8L135.5 1401.8L137.4 1404.8L139.1 1407.2L140.6 1408.8L141.8 1409.2L150.8 1406.9L149.6 1406.5L148.1 1405L146.4 1402.5L144.5 1399.5L142.6 1396.5L140.9 1394L139.4 1392.4L138.2 1392.1Z" fill="url(#hshade)"/><path d="M145.8 1390.1L147.1 1390.5L148.6 1392.1L150.3 1394.6L152.2 1397.5L154 1400.5L155.8 1403L157.3 1404.6L158.5 1405L167.5 1402.7L166.3 1402.3L164.8 1400.7L163 1398.2L161.2 1395.2L159.3 1392.3L157.6 1389.8L156.1 1388.2L154.8 1387.8Z" fill="#c01622" stroke="#560a0f" stroke-width="1.1" stroke-linejoin="round"/><path d="M145.8 1390.1L147.1 1390.5L148.6 1392.1L150.3 1394.6L152.2 1397.5L154 1400.5L155.8 1403L157.3 1404.6L158.5 1405L167.5 1402.7L166.3 1402.3L164.8 1400.7L163 1398.2L161.2 1395.2L159.3 1392.3L157.6 1389.8L156.1 1388.2L154.8 1387.8Z" fill="url(#hshade)"/>
<path d="M133.2 1448.7L134.1 1447.9L134.9 1445.9L135.5 1443.2L136 1439.9L136.5 1436.7L137.2 1433.9L137.9 1432L138.9 1431.2L147 1429.8L146.1 1430.6L145.3 1432.5L144.7 1435.3L144.2 1438.5L143.6 1441.8L143 1444.5L142.3 1446.5L141.3 1447.3Z" fill="#8c8c8c" stroke="#5e5e5e" stroke-width="0.6"/><path d="M150.1 1445.7L151.1 1444.9L151.8 1443L152.4 1440.2L153 1437L153.5 1433.7L154.1 1431L154.9 1429L155.8 1428.2L164 1426.8L163 1427.6L162.2 1429.5L161.6 1432.3L161.1 1435.6L160.6 1438.8L160 1441.6L159.2 1443.5L158.2 1444.3Z" fill="#8c8c8c" stroke="#5e5e5e" stroke-width="0.6"/><path d="M121.2 1433.6L122.4 1434.1L123.8 1435.7L125.3 1438.4L126.9 1441.5L128.6 1444.6L130.1 1447.2L131.5 1448.9L132.7 1449.4L141.8 1447.8L140.6 1447.3L139.3 1445.6L137.7 1443L136.1 1439.9L134.5 1436.8L132.9 1434.2L131.5 1432.5L130.4 1432Z" fill="#c01622" stroke="#560a0f" stroke-width="1.1" stroke-linejoin="round"/><path d="M121.2 1433.6L122.4 1434.1L123.8 1435.7L125.3 1438.4L126.9 1441.5L128.6 1444.6L130.1 1447.2L131.5 1448.9L132.7 1449.4L141.8 1447.8L140.6 1447.3L139.3 1445.6L137.7 1443L136.1 1439.9L134.5 1436.8L132.9 1434.2L131.5 1432.5L130.4 1432Z" fill="url(#hshade)"/><path d="M138.2 1430.7L139.3 1431.1L140.7 1432.8L142.3 1435.4L143.9 1438.6L145.5 1441.7L147.1 1444.3L148.4 1446L149.6 1446.4L158.8 1444.9L157.6 1444.4L156.2 1442.7L154.7 1440.1L153 1437L151.4 1433.9L149.9 1431.2L148.5 1429.6L147.3 1429.1Z" fill="#c01622" stroke="#560a0f" stroke-width="1.1" stroke-linejoin="round"/><path d="M138.2 1430.7L139.3 1431.1L140.7 1432.8L142.3 1435.4L143.9 1438.6L145.5 1441.7L147.1 1444.3L148.4 1446L149.6 1446.4L158.8 1444.9L157.6 1444.4L156.2 1442.7L154.7 1440.1L153 1437L151.4 1433.9L149.9 1431.2L148.5 1429.6L147.3 1429.1Z" fill="url(#hshade)"/><path d="M155.1 1427.7L156.3 1428.2L157.7 1429.9L159.2 1432.5L160.8 1435.6L162.5 1438.7L164 1441.4L165.4 1443.1L166.6 1443.5L175.7 1441.9L174.5 1441.5L173.2 1439.8L171.6 1437.2L170 1434.1L168.4 1430.9L166.8 1428.3L165.4 1426.6L164.3 1426.2Z" fill="#c01622" stroke="#560a0f" stroke-width="1.1" stroke-linejoin="round"/><path d="M155.1 1427.7L156.3 1428.2L157.7 1429.9L159.2 1432.5L160.8 1435.6L162.5 1438.7L164 1441.4L165.4 1443.1L166.6 1443.5L175.7 1441.9L174.5 1441.5L173.2 1439.8L171.6 1437.2L170 1434.1L168.4 1430.9L166.8 1428.3L165.4 1426.6L164.3 1426.2Z" fill="url(#hshade)"/>
<path d="M251.4 1409.7L252.1 1408.7L252.3 1406.7L252.1 1403.8L251.6 1400.5L251.2 1397.3L251 1394.4L251.2 1392.4L251.8 1391.3L259.1 1387.7L258.5 1388.7L258.3 1390.7L258.6 1393.6L259 1396.8L259.5 1400.1L259.7 1403L259.5 1405L258.8 1406.1Z" fill="#8c8c8c" stroke="#5e5e5e" stroke-width="0.6"/><path d="M266.9 1402L267.6 1400.9L267.7 1398.9L267.5 1396L267 1392.8L266.5 1389.5L266.2 1386.7L266.3 1384.6L267 1383.6L274.1 1379.7L273.5 1380.8L273.4 1382.8L273.7 1385.7L274.3 1388.9L274.8 1392.2L275.1 1395L275 1397.1L274.3 1398.1Z" fill="#8c8c8c" stroke="#5e5e5e" stroke-width="0.6"/><path d="M282.3 1393.8L282.9 1392.7L283 1390.7L282.7 1387.8L282.1 1384.6L281.5 1381.4L281.1 1378.5L281.2 1376.5L281.8 1375.4L288.7 1371.3L288.1 1372.4L288.1 1374.4L288.6 1377.2L289.2 1380.4L289.9 1383.7L290.3 1386.5L290.3 1388.6L289.6 1389.7Z" fill="#8c8c8c" stroke="#5e5e5e" stroke-width="0.6"/><path d="M297.5 1385L298.1 1383.9L298.1 1381.8L297.6 1379L296.9 1375.8L296.1 1372.6L295.6 1369.8L295.6 1367.7L296.1 1366.6L303 1362.2L302.4 1363.3L302.5 1365.3L303 1368.1L303.8 1371.3L304.6 1374.5L305.1 1377.3L305.2 1379.4L304.6 1380.5Z" fill="#8c8c8c" stroke="#5e5e5e" stroke-width="0.6"/><path d="M312.2 1375.6L312.7 1374.5L312.7 1372.4L312.1 1369.6L311.3 1366.4L310.5 1363.3L310 1360.5L309.9 1358.4L310.4 1357.3L317.4 1352.7L316.8 1353.8L316.9 1355.9L317.4 1358.7L318.2 1361.9L319 1365.1L319.6 1367.9L319.7 1370L319.1 1371.1Z" fill="#8c8c8c" stroke="#5e5e5e" stroke-width="0.6"/><path d="M326.5 1366.2L327.1 1365.1L327 1363L326.5 1360.2L325.7 1357L324.9 1353.8L324.4 1351L324.4 1348.9L325 1347.8L332.1 1343.4L331.5 1344.5L331.5 1346.6L332 1349.4L332.7 1352.6L333.4 1355.8L333.9 1358.6L334 1360.7L333.4 1361.8Z" fill="#8c8c8c" stroke="#5e5e5e" stroke-width="0.6"/><path d="M340.9 1357.1L341.4 1356.1L341.4 1354L341 1351.2L340.3 1348L339.7 1344.7L339.3 1341.9L339.4 1339.8L340 1338.7L347.5 1334.7L346.8 1335.7L346.7 1337.8L347 1340.6L347.5 1343.9L348.1 1347.1L348.4 1349.9L348.4 1352L347.8 1353.1Z" fill="#8c8c8c" stroke="#5e5e5e" stroke-width="0.6"/><path d="M355.4 1348.9L356.1 1347.8L356.2 1345.8L355.9 1342.9L355.4 1339.7L354.9 1336.4L354.7 1333.6L354.9 1331.5L355.6 1330.4L363.2 1326.8L362.4 1327.8L362.2 1329.8L362.4 1332.7L362.8 1336L363.2 1339.2L363.4 1342.1L363.2 1344.1L362.6 1345.1Z" fill="#8c8c8c" stroke="#5e5e5e" stroke-width="0.6"/><path d="M370.5 1341.3L371.1 1340.3L371.4 1338.2L371.2 1335.4L370.9 1332.1L370.5 1328.8L370.4 1326L370.7 1323.9L371.4 1322.9L379.1 1319.5L378.3 1320.5L378 1322.6L378.1 1325.4L378.4 1328.7L378.7 1332L378.8 1334.8L378.5 1336.9L377.8 1337.9Z" fill="#8c8c8c" stroke="#5e5e5e" stroke-width="0.6"/><path d="M385.9 1334.3L386.6 1333.3L386.9 1331.3L386.8 1328.4L386.6 1325.2L386.4 1321.9L386.3 1319L386.6 1317L387.4 1316L395.1 1312.8L394.3 1313.8L394 1315.8L394 1318.7L394.2 1322L394.4 1325.2L394.4 1328.1L394.1 1330.1L393.4 1331.1Z" fill="#8c8c8c" stroke="#5e5e5e" stroke-width="0.6"/><path d="M401.6 1327.7L402.3 1326.7L402.6 1324.7L402.6 1321.9L402.5 1318.6L402.3 1315.3L402.3 1312.4L402.6 1310.4L403.4 1309.4L411.1 1306.3L410.3 1307.3L410 1309.3L410 1312.2L410.1 1315.5L410.3 1318.8L410.3 1321.6L409.9 1323.7L409.2 1324.6Z" fill="#8c8c8c" stroke="#5e5e5e" stroke-width="0.6"/><path d="M417.5 1321.3L418.2 1320.3L418.6 1318.3L418.6 1315.4L418.4 1312.1L418.3 1308.8L418.3 1306L418.6 1304L419.3 1303L427 1299.9L426.2 1300.9L425.9 1302.9L425.9 1305.7L426.1 1309L426.2 1312.3L426.2 1315.2L425.9 1317.2L425.1 1318.2Z" fill="#8c8c8c" stroke="#5e5e5e" stroke-width="0.6"/><path d="M433.4 1314.8L434.2 1313.8L434.5 1311.8L434.5 1309L434.4 1305.7L434.2 1302.4L434.2 1299.5L434.5 1297.5L435.3 1296.5L443 1293.4L442.2 1294.4L441.9 1296.4L441.9 1299.3L442 1302.6L442.2 1305.9L442.2 1308.7L441.8 1310.8L441.1 1311.7Z" fill="#8c8c8c" stroke="#5e5e5e" stroke-width="0.6"/><path d="M449.3 1308.4L450.1 1307.5L450.4 1305.4L450.5 1302.6L450.3 1299.3L450.2 1296L450.3 1293.2L450.6 1291.1L451.4 1290.1L459.3 1287.2L458.5 1288.2L458 1290.2L458 1293L458 1296.3L458.1 1299.6L458.1 1302.5L457.7 1304.5L456.9 1305.5Z" fill="#8c8c8c" stroke="#5e5e5e" stroke-width="0.6"/><path d="M465.2 1302.4L466 1301.4L466.4 1299.4L466.5 1296.5L466.4 1293.3L466.4 1290L466.5 1287.1L467 1285.1L467.8 1284.1L475.7 1281.4L474.8 1282.4L474.4 1284.4L474.2 1287.2L474.2 1290.5L474.2 1293.8L474.1 1296.7L473.7 1298.7L472.9 1299.6Z" fill="#8c8c8c" stroke="#5e5e5e" stroke-width="0.6"/><path d="M235.7 1398.6L236.9 1398.8L238.7 1400L240.9 1402.1L243.4 1404.6L245.8 1407.1L248 1409.2L249.8 1410.4L251.1 1410.6L259.5 1406.4L258.2 1406.3L256.4 1405.1L254.1 1403L251.7 1400.5L249.2 1398L247 1395.9L245.2 1394.7L244 1394.6Z" fill="#e6212c" stroke="#670f14" stroke-width="1.1" stroke-linejoin="round"/><path d="M235.7 1398.6L236.9 1398.8L238.7 1400L240.9 1402.1L243.4 1404.6L245.8 1407.1L248 1409.2L249.8 1410.4L251.1 1410.6L259.5 1406.4L258.2 1406.3L256.4 1405.1L254.1 1403L251.7 1400.5L249.2 1398L247 1395.9L245.2 1394.7L244 1394.6Z" fill="url(#hshade)"/><path d="M251 1391.1L252.3 1391.2L254.1 1392.4L256.3 1394.5L258.8 1397L261.2 1399.5L263.5 1401.5L265.3 1402.7L266.6 1402.8L274.9 1398.5L273.7 1398.4L271.8 1397.2L269.5 1395.2L267 1392.7L264.5 1390.3L262.3 1388.2L260.5 1387L259.2 1386.9Z" fill="#e22330" stroke="#661016" stroke-width="1.1" stroke-linejoin="round"/><path d="M251 1391.1L252.3 1391.2L254.1 1392.4L256.3 1394.5L258.8 1397L261.2 1399.5L263.5 1401.5L265.3 1402.7L266.6 1402.8L274.9 1398.5L273.7 1398.4L271.8 1397.2L269.5 1395.2L267 1392.7L264.5 1390.3L262.3 1388.2L260.5 1387L259.2 1386.9Z" fill="url(#hshade)"/><path d="M266.2 1383.3L267.4 1383.4L269.2 1384.6L271.5 1386.6L274 1389L276.6 1391.5L278.9 1393.5L280.8 1394.6L282 1394.7L290.3 1390L289 1390L287.1 1388.9L284.8 1386.9L282.2 1384.6L279.6 1382.2L277.3 1380.2L275.4 1379.1L274.2 1379Z" fill="#de2534" stroke="#641117" stroke-width="1.1" stroke-linejoin="round"/><path d="M266.2 1383.3L267.4 1383.4L269.2 1384.6L271.5 1386.6L274 1389L276.6 1391.5L278.9 1393.5L280.8 1394.6L282 1394.7L290.3 1390L289 1390L287.1 1388.9L284.8 1386.9L282.2 1384.6L279.6 1382.2L277.3 1380.2L275.4 1379.1L274.2 1379Z" fill="url(#hshade)"/><path d="M280.9 1375.2L282.2 1375.2L284 1376.3L286.4 1378.3L289 1380.6L291.7 1382.9L294.1 1384.8L296 1385.8L297.3 1385.8L305.3 1380.8L304 1380.8L302.1 1379.8L299.6 1378L296.9 1375.7L294.3 1373.5L291.8 1371.6L290 1370.6L288.7 1370.6Z" fill="#da2738" stroke="#621219" stroke-width="1.1" stroke-linejoin="round"/><path d="M280.9 1375.2L282.2 1375.2L284 1376.3L286.4 1378.3L289 1380.6L291.7 1382.9L294.1 1384.8L296 1385.8L297.3 1385.8L305.3 1380.8L304 1380.8L302.1 1379.8L299.6 1378L296.9 1375.7L294.3 1373.5L291.8 1371.6L290 1370.6L288.7 1370.6Z" fill="url(#hshade)"/><path d="M295.3 1366.4L296.5 1366.4L298.5 1367.4L300.9 1369.3L303.6 1371.5L306.3 1373.7L308.8 1375.5L310.7 1376.5L312 1376.5L319.8 1371.3L318.5 1371.4L316.6 1370.4L314.1 1368.6L311.4 1366.4L308.6 1364.2L306.2 1362.4L304.3 1361.4L303 1361.4Z" fill="#d62b3e" stroke="#60131c" stroke-width="1.1" stroke-linejoin="round"/><path d="M295.3 1366.4L296.5 1366.4L298.5 1367.4L300.9 1369.3L303.6 1371.5L306.3 1373.7L308.8 1375.5L310.7 1376.5L312 1376.5L319.8 1371.3L318.5 1371.4L316.6 1370.4L314.1 1368.6L311.4 1366.4L308.6 1364.2L306.2 1362.4L304.3 1361.4L303 1361.4Z" fill="url(#hshade)"/><path d="M309.6 1357.1L310.9 1357.1L312.8 1358.1L315.3 1359.8L318 1362.1L320.7 1364.3L323.2 1366.1L325.1 1367.1L326.4 1367L334.1 1362.1L332.8 1362.1L330.9 1361L328.5 1359.2L325.8 1357L323.1 1354.8L320.6 1353L318.7 1352L317.4 1352Z" fill="#d13248" stroke="#5e1720" stroke-width="1.1" stroke-linejoin="round"/><path d="M309.6 1357.1L310.9 1357.1L312.8 1358.1L315.3 1359.8L318 1362.1L320.7 1364.3L323.2 1366.1L325.1 1367.1L326.4 1367L334.1 1362.1L332.8 1362.1L330.9 1361L328.5 1359.2L325.8 1357L323.1 1354.8L320.6 1353L318.7 1352L317.4 1352Z" fill="url(#hshade)"/><path d="M324.1 1347.7L325.4 1347.6L327.3 1348.7L329.8 1350.5L332.5 1352.8L335.1 1355L337.5 1356.9L339.4 1358L340.7 1358L348.4 1353.4L347.2 1353.3L345.4 1352.2L343 1350.3L340.4 1347.9L337.8 1345.6L335.4 1343.7L333.5 1342.7L332.2 1342.7Z" fill="#cc3951" stroke="#5c1a25" stroke-width="1.1" stroke-linejoin="round"/><path d="M324.1 1347.7L325.4 1347.6L327.3 1348.7L329.8 1350.5L332.5 1352.8L335.1 1355L337.5 1356.9L339.4 1358L340.7 1358L348.4 1353.4L347.2 1353.3L345.4 1352.2L343 1350.3L340.4 1347.9L337.8 1345.6L335.4 1343.7L333.5 1342.7L332.2 1342.7Z" fill="url(#hshade)"/><path d="M339.2 1338.5L340.5 1338.6L342.4 1339.7L344.7 1341.6L347.3 1344L349.8 1346.4L352.1 1348.4L353.9 1349.6L355.2 1349.7L363.2 1345.5L362 1345.4L360.2 1344.2L357.9 1342.1L355.5 1339.6L353 1337.2L350.7 1335.2L348.8 1334L347.5 1333.9Z" fill="#c7405b" stroke="#591d29" stroke-width="1.1" stroke-linejoin="round"/><path d="M339.2 1338.5L340.5 1338.6L342.4 1339.7L344.7 1341.6L347.3 1344L349.8 1346.4L352.1 1348.4L353.9 1349.6L355.2 1349.7L363.2 1345.5L362 1345.4L360.2 1344.2L357.9 1342.1L355.5 1339.6L353 1337.2L350.7 1335.2L348.8 1334L347.5 1333.9Z" fill="url(#hshade)"/><path d="M354.7 1330.2L356 1330.3L357.9 1331.5L360.1 1333.6L362.5 1336.1L365 1338.6L367.2 1340.7L368.9 1342L370.2 1342.1L378.4 1338.3L377.2 1338.1L375.4 1336.8L373.3 1334.7L370.9 1332.1L368.5 1329.5L366.3 1327.4L364.5 1326.1L363.3 1326Z" fill="#c44a66" stroke="#58212e" stroke-width="1.1" stroke-linejoin="round"/><path d="M354.7 1330.2L356 1330.3L357.9 1331.5L360.1 1333.6L362.5 1336.1L365 1338.6L367.2 1340.7L368.9 1342L370.2 1342.1L378.4 1338.3L377.2 1338.1L375.4 1336.8L373.3 1334.7L370.9 1332.1L368.5 1329.5L366.3 1327.4L364.5 1326.1L363.3 1326Z" fill="url(#hshade)"/><path d="M370.6 1322.6L371.9 1322.8L373.6 1324.1L375.8 1326.2L378.1 1328.8L380.5 1331.5L382.6 1333.6L384.3 1334.9L385.5 1335.1L394 1331.5L392.7 1331.3L391 1330L388.9 1327.8L386.6 1325.1L384.3 1322.5L382.2 1320.3L380.5 1319L379.2 1318.8Z" fill="#c35674" stroke="#582734" stroke-width="1.1" stroke-linejoin="round"/><path d="M370.6 1322.6L371.9 1322.8L373.6 1324.1L375.8 1326.2L378.1 1328.8L380.5 1331.5L382.6 1333.6L384.3 1334.9L385.5 1335.1L394 1331.5L392.7 1331.3L391 1330L388.9 1327.8L386.6 1325.1L384.3 1322.5L382.2 1320.3L380.5 1319L379.2 1318.8Z" fill="url(#hshade)"/><path d="M386.6 1315.7L387.8 1315.8L389.6 1317.2L391.7 1319.4L393.9 1322.1L396.2 1324.8L398.3 1327L400 1328.3L401.2 1328.5L409.8 1325L408.6 1324.8L406.8 1323.5L404.8 1321.2L402.5 1318.5L400.3 1315.8L398.2 1313.6L396.5 1312.3L395.2 1312.1Z" fill="#c26382" stroke="#572d3a" stroke-width="1.1" stroke-linejoin="round"/><path d="M386.6 1315.7L387.8 1315.8L389.6 1317.2L391.7 1319.4L393.9 1322.1L396.2 1324.8L398.3 1327L400 1328.3L401.2 1328.5L409.8 1325L408.6 1324.8L406.8 1323.5L404.8 1321.2L402.5 1318.5L400.3 1315.8L398.2 1313.6L396.5 1312.3L395.2 1312.1Z" fill="url(#hshade)"/><path d="M402.6 1309.1L403.9 1309.3L405.6 1310.6L407.6 1312.9L409.9 1315.6L412.1 1318.3L414.2 1320.5L415.9 1321.9L417.1 1322.1L425.8 1318.6L424.5 1318.4L422.8 1317L420.7 1314.8L418.5 1312.1L416.2 1309.4L414.2 1307.2L412.5 1305.8L411.2 1305.6Z" fill="#c17090" stroke="#573241" stroke-width="1.1" stroke-linejoin="round"/><path d="M402.6 1309.1L403.9 1309.3L405.6 1310.6L407.6 1312.9L409.9 1315.6L412.1 1318.3L414.2 1320.5L415.9 1321.9L417.1 1322.1L425.8 1318.6L424.5 1318.4L422.8 1317L420.7 1314.8L418.5 1312.1L416.2 1309.4L414.2 1307.2L412.5 1305.8L411.2 1305.6Z" fill="url(#hshade)"/><path d="M418.5 1302.6L419.8 1302.9L421.5 1304.2L423.6 1306.4L425.8 1309.1L428.1 1311.8L430.1 1314.1L431.8 1315.4L433.1 1315.6L441.7 1312.1L440.4 1311.9L438.7 1310.6L436.7 1308.3L434.4 1305.6L432.2 1302.9L430.1 1300.7L428.4 1299.4L427.1 1299.2Z" fill="#c07b9c" stroke="#563846" stroke-width="1.1" stroke-linejoin="round"/><path d="M418.5 1302.6L419.8 1302.9L421.5 1304.2L423.6 1306.4L425.8 1309.1L428.1 1311.8L430.1 1314.1L431.8 1315.4L433.1 1315.6L441.7 1312.1L440.4 1311.9L438.7 1310.6L436.7 1308.3L434.4 1305.6L432.2 1302.9L430.1 1300.7L428.4 1299.4L427.1 1299.2Z" fill="url(#hshade)"/><path d="M434.5 1296.2L435.7 1296.4L437.5 1297.7L439.5 1300L441.8 1302.7L444 1305.4L446 1307.6L447.7 1309L449 1309.2L457.5 1305.9L456.3 1305.7L454.6 1304.3L452.6 1302L450.4 1299.3L448.2 1296.5L446.1 1294.3L444.4 1292.9L443.2 1292.7Z" fill="#c084a7" stroke="#563c4b" stroke-width="1.1" stroke-linejoin="round"/><path d="M434.5 1296.2L435.7 1296.4L437.5 1297.7L439.5 1300L441.8 1302.7L444 1305.4L446 1307.6L447.7 1309L449 1309.2L457.5 1305.9L456.3 1305.7L454.6 1304.3L452.6 1302L450.4 1299.3L448.2 1296.5L446.1 1294.3L444.4 1292.9L443.2 1292.7Z" fill="url(#hshade)"/><path d="M450.6 1289.8L451.9 1290L453.6 1291.4L455.6 1293.7L457.8 1296.4L460 1299.2L462 1301.5L463.6 1302.9L464.8 1303.1L473.5 1300.1L472.2 1299.8L470.6 1298.3L468.6 1296L466.5 1293.2L464.4 1290.4L462.4 1288.1L460.7 1286.7L459.4 1286.5Z" fill="#bf8db2" stroke="#564050" stroke-width="1.1" stroke-linejoin="round"/><path d="M450.6 1289.8L451.9 1290L453.6 1291.4L455.6 1293.7L457.8 1296.4L460 1299.2L462 1301.5L463.6 1302.9L464.8 1303.1L473.5 1300.1L472.2 1299.8L470.6 1298.3L468.6 1296L466.5 1293.2L464.4 1290.4L462.4 1288.1L460.7 1286.7L459.4 1286.5Z" fill="url(#hshade)"/><path d="M467 1283.8L468.2 1284L469.9 1285.5L471.9 1287.8L474 1290.6L476.1 1293.4L478 1295.8L479.6 1297.2L480.9 1297.5L489.6 1294.5L488.4 1294.2L486.8 1292.8L484.8 1290.4L482.8 1287.6L480.7 1284.8L478.7 1282.4L477.1 1281L475.9 1280.7Z" fill="#bf96bd" stroke="#564455" stroke-width="1.1" stroke-linejoin="round"/><path d="M467 1283.8L468.2 1284L469.9 1285.5L471.9 1287.8L474 1290.6L476.1 1293.4L478 1295.8L479.6 1297.2L480.9 1297.5L489.6 1294.5L488.4 1294.2L486.8 1292.8L484.8 1290.4L482.8 1287.6L480.7 1284.8L478.7 1282.4L477.1 1281L475.9 1280.7Z" fill="url(#hshade)"/>
<path d="M232.6 1388.5L233.5 1387.6L233.9 1385.6L234 1382.7L234 1379.4L234 1376.2L234.2 1373.3L234.6 1371.3L235.4 1370.3L243.2 1367.6L242.4 1368.6L241.9 1370.6L241.8 1373.4L241.8 1376.7L241.8 1380L241.7 1382.9L241.3 1384.9L240.4 1385.8Z" fill="#8c8c8c" stroke="#5e5e5e" stroke-width="0.6"/><path d="M248.9 1382.9L249.7 1381.9L250.1 1379.9L250.3 1377.1L250.3 1373.8L250.2 1370.5L250.4 1367.6L250.8 1365.6L251.6 1364.7L259.3 1361.9L258.5 1362.8L258.1 1364.8L258 1367.7L258 1371L258.1 1374.3L257.9 1377.1L257.5 1379.2L256.7 1380.1Z" fill="#8c8c8c" stroke="#5e5e5e" stroke-width="0.6"/><path d="M265.2 1377.1L266 1376.1L266.4 1374.1L266.5 1371.2L266.4 1367.9L266.4 1364.7L266.5 1361.8L266.9 1359.8L267.7 1358.8L275.3 1356L274.5 1356.9L274.2 1358.9L274.1 1361.8L274.2 1365.1L274.3 1368.4L274.2 1371.2L273.8 1373.3L273 1374.2Z" fill="#8c8c8c" stroke="#5e5e5e" stroke-width="0.6"/><path d="M281.4 1371.1L282.2 1370.1L282.6 1368.1L282.7 1365.2L282.5 1361.9L282.4 1358.6L282.5 1355.8L282.8 1353.7L283.6 1352.8L291.2 1349.8L290.4 1350.7L290.1 1352.8L290.1 1355.6L290.2 1358.9L290.4 1362.2L290.3 1365.1L290 1367.1L289.2 1368.1Z" fill="#8c8c8c" stroke="#5e5e5e" stroke-width="0.6"/><path d="M297.6 1364.7L298.4 1363.7L298.7 1361.7L298.7 1358.8L298.5 1355.6L298.3 1352.3L298.3 1349.4L298.6 1347.4L299.3 1346.4L306.8 1343.2L306.1 1344.2L305.8 1346.2L305.9 1349.1L306.1 1352.4L306.4 1355.6L306.4 1358.5L306.1 1360.5L305.3 1361.5Z" fill="#8c8c8c" stroke="#5e5e5e" stroke-width="0.6"/><path d="M313.7 1358L314.4 1356.9L314.7 1354.9L314.6 1352L314.3 1348.8L314 1345.5L313.9 1342.6L314.1 1340.6L314.8 1339.6L322.1 1336.1L321.5 1337.1L321.3 1339.2L321.5 1342L321.8 1345.3L322.2 1348.6L322.3 1351.4L322.1 1353.5L321.3 1354.5Z" fill="#8c8c8c" stroke="#5e5e5e" stroke-width="0.6"/><path d="M329.6 1350.6L330.3 1349.6L330.5 1347.5L330.3 1344.7L329.9 1341.4L329.4 1338.1L329.2 1335.3L329.3 1333.2L330 1332.2L337.1 1328.4L336.5 1329.5L336.4 1331.5L336.7 1334.3L337.2 1337.6L337.7 1340.9L338 1343.7L337.8 1345.8L337.1 1346.8Z" fill="#8c8c8c" stroke="#5e5e5e" stroke-width="0.6"/><path d="M345.2 1342.5L345.9 1341.5L346 1339.4L345.6 1336.5L345 1333.3L344.4 1330.1L344 1327.2L344.1 1325.2L344.7 1324.1L351.6 1320L351.1 1321.1L351.1 1323.1L351.5 1325.9L352.2 1329.2L352.8 1332.4L353.2 1335.2L353.2 1337.3L352.6 1338.4Z" fill="#8c8c8c" stroke="#5e5e5e" stroke-width="0.6"/><path d="M360.4 1333.7L361 1332.6L361 1330.5L360.5 1327.7L359.8 1324.5L359.1 1321.3L358.6 1318.5L358.6 1316.4L359.1 1315.3L366.1 1311L365.5 1312L365.5 1314.1L366.1 1316.9L366.8 1320.1L367.6 1323.3L368.1 1326.1L368.1 1328.2L367.5 1329.3Z" fill="#8c8c8c" stroke="#5e5e5e" stroke-width="0.6"/><path d="M375.1 1324.5L375.7 1323.4L375.7 1321.3L375.1 1318.5L374.3 1315.3L373.6 1312.1L373 1309.3L373 1307.2L373.5 1306.1L380.5 1301.6L379.9 1302.7L380 1304.8L380.5 1307.6L381.3 1310.8L382.1 1314L382.6 1316.8L382.7 1318.9L382.1 1320Z" fill="#8c8c8c" stroke="#5e5e5e" stroke-width="0.6"/><path d="M389.6 1315.1L390.2 1314L390.1 1312L389.6 1309.2L388.8 1306L388 1302.7L387.5 1299.9L387.5 1297.9L388 1296.8L395.1 1292.3L394.5 1293.4L394.5 1295.5L395 1298.3L395.8 1301.5L396.5 1304.7L397 1307.5L397.1 1309.6L396.5 1310.7Z" fill="#8c8c8c" stroke="#5e5e5e" stroke-width="0.6"/><path d="M404 1306L404.6 1304.9L404.5 1302.8L404.1 1300L403.3 1296.8L402.6 1293.6L402.2 1290.7L402.2 1288.7L402.8 1287.6L410 1283.3L409.4 1284.4L409.4 1286.5L409.8 1289.3L410.4 1292.5L411.1 1295.8L411.5 1298.6L411.5 1300.6L410.9 1301.7Z" fill="#8c8c8c" stroke="#5e5e5e" stroke-width="0.6"/><path d="M418.5 1297.2L419.1 1296.1L419.2 1294.1L418.8 1291.3L418.1 1288L417.5 1284.8L417.1 1282L417.2 1279.9L417.8 1278.8L425.1 1274.7L424.4 1275.8L424.4 1277.9L424.7 1280.7L425.3 1283.9L425.9 1287.2L426.3 1290L426.2 1292.1L425.6 1293.1Z" fill="#8c8c8c" stroke="#5e5e5e" stroke-width="0.6"/><path d="M433.3 1288.8L434 1287.7L434 1285.6L433.7 1282.8L433.1 1279.6L432.5 1276.3L432.2 1273.5L432.3 1271.4L432.9 1270.4L440.2 1266.4L439.5 1267.4L439.5 1269.5L439.8 1272.3L440.3 1275.6L440.9 1278.8L441.2 1281.6L441.2 1283.7L440.5 1284.8Z" fill="#8c8c8c" stroke="#5e5e5e" stroke-width="0.6"/><path d="M448.3 1280.5L449 1279.4L449.1 1277.3L448.7 1274.5L448.2 1271.3L447.6 1268L447.3 1265.2L447.4 1263.1L448 1262L455.3 1258.1L454.6 1259.1L454.5 1261.2L454.9 1264L455.4 1267.3L456 1270.5L456.3 1273.4L456.2 1275.4L455.6 1276.5Z" fill="#8c8c8c" stroke="#5e5e5e" stroke-width="0.6"/><path d="M463.4 1272.2L464 1271.1L464.1 1269L463.8 1266.2L463.3 1263L462.7 1259.7L462.4 1256.9L462.5 1254.8L463.1 1253.8L470.4 1249.8L469.7 1250.9L469.6 1252.9L469.9 1255.8L470.5 1259L471 1262.2L471.4 1265.1L471.3 1267.1L470.6 1268.2Z" fill="#8c8c8c" stroke="#5e5e5e" stroke-width="0.6"/><path d="M234.6 1370L235.8 1370.2L237.5 1371.7L239.4 1374L241.6 1376.8L243.7 1379.6L245.6 1381.9L247.3 1383.4L248.5 1383.6L257.3 1380.5L256.1 1380.3L254.4 1378.8L252.4 1376.5L250.3 1373.7L248.2 1370.9L246.2 1368.6L244.6 1367.2L243.4 1366.9Z" fill="#c92a3c" stroke="#5a131b" stroke-width="1.1" stroke-linejoin="round"/><path d="M234.6 1370L235.8 1370.2L237.5 1371.7L239.4 1374L241.6 1376.8L243.7 1379.6L245.6 1381.9L247.3 1383.4L248.5 1383.6L257.3 1380.5L256.1 1380.3L254.4 1378.8L252.4 1376.5L250.3 1373.7L248.2 1370.9L246.2 1368.6L244.6 1367.2L243.4 1366.9Z" fill="url(#hshade)"/><path d="M250.8 1364.3L252 1364.6L253.7 1366L255.6 1368.3L257.8 1371.1L259.9 1373.9L261.9 1376.2L263.5 1377.6L264.8 1377.9L273.6 1374.6L272.3 1374.4L270.7 1373L268.7 1370.7L266.5 1367.9L264.3 1365.1L262.4 1362.8L260.7 1361.4L259.5 1361.2Z" fill="#ca2c3f" stroke="#5b141c" stroke-width="1.1" stroke-linejoin="round"/><path d="M250.8 1364.3L252 1364.6L253.7 1366L255.6 1368.3L257.8 1371.1L259.9 1373.9L261.9 1376.2L263.5 1377.6L264.8 1377.9L273.6 1374.6L272.3 1374.4L270.7 1373L268.7 1370.7L266.5 1367.9L264.3 1365.1L262.4 1362.8L260.7 1361.4L259.5 1361.2Z" fill="url(#hshade)"/><path d="M266.9 1358.5L268.1 1358.7L269.8 1360.1L271.8 1362.4L273.9 1365.2L276.1 1367.9L278.1 1370.2L279.8 1371.6L281 1371.8L289.8 1368.5L288.6 1368.3L286.9 1366.9L284.8 1364.6L282.6 1361.9L280.4 1359.1L278.4 1356.9L276.7 1355.5L275.5 1355.2Z" fill="#cb2e41" stroke="#5b151d" stroke-width="1.1" stroke-linejoin="round"/><path d="M266.9 1358.5L268.1 1358.7L269.8 1360.1L271.8 1362.4L273.9 1365.2L276.1 1367.9L278.1 1370.2L279.8 1371.6L281 1371.8L289.8 1368.5L288.6 1368.3L286.9 1366.9L284.8 1364.6L282.6 1361.9L280.4 1359.1L278.4 1356.9L276.7 1355.5L275.5 1355.2Z" fill="url(#hshade)"/><path d="M282.8 1352.4L284 1352.7L285.7 1354L287.8 1356.3L290 1359L292.2 1361.7L294.3 1364L296 1365.3L297.2 1365.5L306 1361.9L304.7 1361.7L303 1360.4L300.9 1358.2L298.6 1355.5L296.3 1352.8L294.3 1350.6L292.6 1349.3L291.3 1349Z" fill="#cc3043" stroke="#5c151e" stroke-width="1.1" stroke-linejoin="round"/><path d="M282.8 1352.4L284 1352.7L285.7 1354L287.8 1356.3L290 1359L292.2 1361.7L294.3 1364L296 1365.3L297.2 1365.5L306 1361.9L304.7 1361.7L303 1360.4L300.9 1358.2L298.6 1355.5L296.3 1352.8L294.3 1350.6L292.6 1349.3L291.3 1349Z" fill="url(#hshade)"/><path d="M298.5 1346.1L299.8 1346.3L301.5 1347.6L303.6 1349.8L305.9 1352.5L308.2 1355.1L310.3 1357.3L312.1 1358.6L313.3 1358.8L322 1354.9L320.7 1354.7L318.9 1353.5L316.8 1351.3L314.4 1348.7L312 1346.1L309.9 1344L308.2 1342.7L306.9 1342.5Z" fill="#cb3247" stroke="#5b1720" stroke-width="1.1" stroke-linejoin="round"/><path d="M298.5 1346.1L299.8 1346.3L301.5 1347.6L303.6 1349.8L305.9 1352.5L308.2 1355.1L310.3 1357.3L312.1 1358.6L313.3 1358.8L322 1354.9L320.7 1354.7L318.9 1353.5L316.8 1351.3L314.4 1348.7L312 1346.1L309.9 1344L308.2 1342.7L306.9 1342.5Z" fill="url(#hshade)"/><path d="M314 1339.3L315.3 1339.4L317 1340.7L319.2 1342.8L321.6 1345.4L324 1348L326.2 1350.1L328 1351.3L329.3 1351.4L337.8 1347.2L336.5 1347.1L334.7 1345.9L332.4 1343.9L329.9 1341.4L327.5 1338.8L325.3 1336.8L323.5 1335.5L322.2 1335.4Z" fill="#ca354a" stroke="#5b1821" stroke-width="1.1" stroke-linejoin="round"/><path d="M314 1339.3L315.3 1339.4L317 1340.7L319.2 1342.8L321.6 1345.4L324 1348L326.2 1350.1L328 1351.3L329.3 1351.4L337.8 1347.2L336.5 1347.1L334.7 1345.9L332.4 1343.9L329.9 1341.4L327.5 1338.8L325.3 1336.8L323.5 1335.5L322.2 1335.4Z" fill="url(#hshade)"/><path d="M329.1 1331.9L330.4 1332L332.2 1333.2L334.5 1335.3L337 1337.7L339.5 1340.2L341.8 1342.2L343.7 1343.3L344.9 1343.4L353.2 1338.7L351.9 1338.7L350.1 1337.6L347.7 1335.6L345.1 1333.3L342.5 1330.9L340.2 1328.9L338.4 1327.8L337.1 1327.7Z" fill="#c9384d" stroke="#5b1923" stroke-width="1.1" stroke-linejoin="round"/><path d="M329.1 1331.9L330.4 1332L332.2 1333.2L334.5 1335.3L337 1337.7L339.5 1340.2L341.8 1342.2L343.7 1343.3L344.9 1343.4L353.2 1338.7L351.9 1338.7L350.1 1337.6L347.7 1335.6L345.1 1333.3L342.5 1330.9L340.2 1328.9L338.4 1327.8L337.1 1327.7Z" fill="url(#hshade)"/><path d="M343.9 1323.9L345.1 1323.9L347 1325L349.3 1327L351.9 1329.3L354.6 1331.6L357 1333.5L358.9 1334.6L360.2 1334.6L368.2 1329.6L366.9 1329.6L365 1328.6L362.6 1326.7L359.9 1324.5L357.2 1322.2L354.8 1320.3L352.9 1319.3L351.7 1319.2Z" fill="#c83b51" stroke="#5a1a24" stroke-width="1.1" stroke-linejoin="round"/><path d="M343.9 1323.9L345.1 1323.9L347 1325L349.3 1327L351.9 1329.3L354.6 1331.6L357 1333.5L358.9 1334.6L360.2 1334.6L368.2 1329.6L366.9 1329.6L365 1328.6L362.6 1326.7L359.9 1324.5L357.2 1322.2L354.8 1320.3L352.9 1319.3L351.7 1319.2Z" fill="url(#hshade)"/><path d="M358.3 1315.1L359.6 1315.1L361.5 1316.2L363.9 1318L366.6 1320.3L369.3 1322.5L371.7 1324.3L373.7 1325.3L374.9 1325.3L382.8 1320.3L381.5 1320.3L379.6 1319.3L377.1 1317.5L374.4 1315.3L371.7 1313L369.3 1311.2L367.3 1310.2L366.1 1310.2Z" fill="#c74057" stroke="#5a1d27" stroke-width="1.1" stroke-linejoin="round"/><path d="M358.3 1315.1L359.6 1315.1L361.5 1316.2L363.9 1318L366.6 1320.3L369.3 1322.5L371.7 1324.3L373.7 1325.3L374.9 1325.3L382.8 1320.3L381.5 1320.3L379.6 1319.3L377.1 1317.5L374.4 1315.3L371.7 1313L369.3 1311.2L367.3 1310.2L366.1 1310.2Z" fill="url(#hshade)"/><path d="M372.7 1305.9L373.9 1305.9L375.9 1306.9L378.3 1308.7L381 1311L383.8 1313.2L386.2 1315L388.1 1316L389.4 1316L397.2 1311L395.9 1311L394 1310L391.6 1308.2L388.9 1305.9L386.1 1303.7L383.7 1301.9L381.8 1300.9L380.5 1300.9Z" fill="#c6475f" stroke="#59202b" stroke-width="1.1" stroke-linejoin="round"/><path d="M372.7 1305.9L373.9 1305.9L375.9 1306.9L378.3 1308.7L381 1311L383.8 1313.2L386.2 1315L388.1 1316L389.4 1316L397.2 1311L395.9 1311L394 1310L391.6 1308.2L388.9 1305.9L386.1 1303.7L383.7 1301.9L381.8 1300.9L380.5 1300.9Z" fill="url(#hshade)"/><path d="M387.2 1296.6L388.5 1296.6L390.4 1297.6L392.8 1299.4L395.5 1301.7L398.2 1303.9L400.6 1305.8L402.5 1306.8L403.8 1306.8L411.6 1302L410.3 1302L408.5 1300.9L406.1 1299.1L403.4 1296.8L400.7 1294.5L398.3 1292.6L396.4 1291.6L395.1 1291.6Z" fill="#c64e67" stroke="#59232e" stroke-width="1.1" stroke-linejoin="round"/><path d="M387.2 1296.6L388.5 1296.6L390.4 1297.6L392.8 1299.4L395.5 1301.7L398.2 1303.9L400.6 1305.8L402.5 1306.8L403.8 1306.8L411.6 1302L410.3 1302L408.5 1300.9L406.1 1299.1L403.4 1296.8L400.7 1294.5L398.3 1292.6L396.4 1291.6L395.1 1291.6Z" fill="url(#hshade)"/><path d="M402 1287.4L403.3 1287.4L405.2 1288.5L407.5 1290.3L410.2 1292.7L412.8 1295L415.2 1296.9L417.1 1298L418.3 1298L426.3 1293.5L425 1293.4L423.1 1292.3L420.8 1290.4L418.2 1288L415.6 1285.6L413.2 1283.7L411.3 1282.6L410.1 1282.6Z" fill="#c5566f" stroke="#582732" stroke-width="1.1" stroke-linejoin="round"/><path d="M402 1287.4L403.3 1287.4L405.2 1288.5L407.5 1290.3L410.2 1292.7L412.8 1295L415.2 1296.9L417.1 1298L418.3 1298L426.3 1293.5L425 1293.4L423.1 1292.3L420.8 1290.4L418.2 1288L415.6 1285.6L413.2 1283.7L411.3 1282.6L410.1 1282.6Z" fill="url(#hshade)"/><path d="M417 1278.6L418.3 1278.6L420.2 1279.7L422.5 1281.7L425.1 1284.1L427.7 1286.5L430 1288.4L431.8 1289.5L433.1 1289.6L441.2 1285.1L439.9 1285L438.1 1283.9L435.7 1281.9L433.2 1279.5L430.6 1277.1L428.3 1275.2L426.4 1274L425.2 1274Z" fill="#c35c76" stroke="#582935" stroke-width="1.1" stroke-linejoin="round"/><path d="M417 1278.6L418.3 1278.6L420.2 1279.7L422.5 1281.7L425.1 1284.1L427.7 1286.5L430 1288.4L431.8 1289.5L433.1 1289.6L441.2 1285.1L439.9 1285L438.1 1283.9L435.7 1281.9L433.2 1279.5L430.6 1277.1L428.3 1275.2L426.4 1274L425.2 1274Z" fill="url(#hshade)"/><path d="M432.1 1270.1L433.4 1270.2L435.2 1271.3L437.5 1273.3L440.1 1275.7L442.7 1278.1L445 1280.1L446.8 1281.2L448.1 1281.3L456.2 1276.8L455 1276.7L453.1 1275.6L450.8 1273.6L448.2 1271.2L445.7 1268.8L443.4 1266.8L441.5 1265.7L440.3 1265.6Z" fill="#c2617c" stroke="#572c38" stroke-width="1.1" stroke-linejoin="round"/><path d="M432.1 1270.1L433.4 1270.2L435.2 1271.3L437.5 1273.3L440.1 1275.7L442.7 1278.1L445 1280.1L446.8 1281.2L448.1 1281.3L456.2 1276.8L455 1276.7L453.1 1275.6L450.8 1273.6L448.2 1271.2L445.7 1268.8L443.4 1266.8L441.5 1265.7L440.3 1265.6Z" fill="url(#hshade)"/><path d="M447.2 1261.8L448.5 1261.9L450.3 1263L452.6 1265L455.2 1267.4L457.7 1269.8L460 1271.8L461.9 1272.9L463.2 1273L471.3 1268.5L470 1268.5L468.2 1267.3L465.9 1265.4L463.3 1262.9L460.8 1260.5L458.5 1258.5L456.6 1257.4L455.3 1257.3Z" fill="#c06682" stroke="#562e3a" stroke-width="1.1" stroke-linejoin="round"/><path d="M447.2 1261.8L448.5 1261.9L450.3 1263L452.6 1265L455.2 1267.4L457.7 1269.8L460 1271.8L461.9 1272.9L463.2 1273L471.3 1268.5L470 1268.5L468.2 1267.3L465.9 1265.4L463.3 1262.9L460.8 1260.5L458.5 1258.5L456.6 1257.4L455.3 1257.3Z" fill="url(#hshade)"/><path d="M462.3 1253.5L463.5 1253.6L465.4 1254.7L467.7 1256.7L470.3 1259.1L472.8 1261.6L475.1 1263.5L477 1264.7L478.2 1264.7L486.4 1260.3L485.1 1260.2L483.3 1259.1L480.9 1257.1L478.4 1254.7L475.8 1252.2L473.5 1250.3L471.7 1249.1L470.4 1249.1Z" fill="#be6b88" stroke="#56303d" stroke-width="1.1" stroke-linejoin="round"/><path d="M462.3 1253.5L463.5 1253.6L465.4 1254.7L467.7 1256.7L470.3 1259.1L472.8 1261.6L475.1 1263.5L477 1264.7L478.2 1264.7L486.4 1260.3L485.1 1260.2L483.3 1259.1L480.9 1257.1L478.4 1254.7L475.8 1252.2L473.5 1250.3L471.7 1249.1L470.4 1249.1Z" fill="url(#hshade)"/>
<path d="M487.2 1316.5L488.4 1316.5L490.3 1315.5L492.5 1313.8L495.1 1311.7L497.6 1309.6L499.9 1307.8L501.7 1306.9L502.9 1306.9L510 1311.1L508.8 1311.1L506.9 1312.1L504.7 1313.8L502.2 1315.9L499.6 1318L497.4 1319.8L495.5 1320.7L494.3 1320.7Z" fill="#8c8c8c" stroke="#5e5e5e" stroke-width="0.6"/><path d="M502 1325.3L503.2 1325.3L505 1324.3L507.3 1322.6L509.8 1320.5L512.4 1318.4L514.6 1316.7L516.5 1315.7L517.7 1315.7L524.8 1320L523.5 1319.9L521.7 1320.9L519.4 1322.6L516.9 1324.7L514.4 1326.9L512.1 1328.6L510.3 1329.5L509.1 1329.5Z" fill="#8c8c8c" stroke="#5e5e5e" stroke-width="0.6"/><path d="M516.7 1334.1L518 1334.1L519.8 1333.2L522.1 1331.5L524.6 1329.3L527.1 1327.2L529.4 1325.5L531.2 1324.5L532.5 1324.6L539.5 1328.8L538.3 1328.8L536.5 1329.8L534.2 1331.5L531.7 1333.6L529.2 1335.7L526.9 1337.4L525 1338.4L523.8 1338.3Z" fill="#8c8c8c" stroke="#5e5e5e" stroke-width="0.6"/><path d="M531.5 1342.9L532.7 1343L534.5 1342L536.8 1340.3L539.3 1338.2L541.9 1336.1L544.1 1334.4L546 1333.4L547.2 1333.4L554.3 1337.7L553.1 1337.6L551.2 1338.6L548.9 1340.3L546.4 1342.4L543.9 1344.5L541.6 1346.3L539.8 1347.2L538.5 1347.2Z" fill="#8c8c8c" stroke="#5e5e5e" stroke-width="0.6"/><path d="M546.2 1351.8L547.5 1351.8L549.3 1350.9L551.6 1349.2L554.1 1347L556.6 1344.9L558.9 1343.2L560.7 1342.3L562 1342.3L569 1346.5L567.8 1346.5L566 1347.5L563.7 1349.2L561.2 1351.3L558.6 1353.4L556.4 1355.1L554.5 1356.1L553.3 1356Z" fill="#8c8c8c" stroke="#5e5e5e" stroke-width="0.6"/><path d="M561 1360.7L562.2 1360.7L564 1359.7L566.3 1358L568.8 1355.9L571.4 1353.8L573.6 1352.1L575.5 1351.1L576.7 1351.1L583.8 1355.4L582.5 1355.4L580.7 1356.3L578.4 1358L575.9 1360.1L573.4 1362.3L571.1 1364L569.3 1364.9L568 1364.9Z" fill="#8c8c8c" stroke="#5e5e5e" stroke-width="0.6"/><path d="M575.7 1369.5L577 1369.5L578.8 1368.6L581.1 1366.9L583.6 1364.7L586.1 1362.6L588.4 1360.9L590.2 1359.9L591.4 1359.9L598.5 1363.9L597.2 1364L595.4 1365L593.2 1366.7L590.7 1368.9L588.2 1371.1L586 1372.8L584.1 1373.8L582.9 1373.8Z" fill="#8c8c8c" stroke="#5e5e5e" stroke-width="0.6"/><path d="M590.8 1378.3L592 1378.3L593.8 1377.3L596.1 1375.5L598.5 1373.3L600.9 1371.1L603.1 1369.3L604.9 1368.2L606.1 1368.2L613.3 1371.9L612.1 1372L610.3 1373.1L608.2 1374.9L605.8 1377.2L603.4 1379.4L601.2 1381.3L599.4 1382.3L598.1 1382.3Z" fill="#8c8c8c" stroke="#5e5e5e" stroke-width="0.6"/><path d="M606.3 1386.6L607.5 1386.5L609.3 1385.4L611.4 1383.5L613.8 1381.2L616.1 1378.9L618.2 1376.9L619.9 1375.8L621.1 1375.7L628.4 1378.9L627.2 1379.1L625.5 1380.3L623.5 1382.3L621.3 1384.7L619 1387.1L616.9 1389L615.2 1390.2L613.9 1390.3Z" fill="#8c8c8c" stroke="#5e5e5e" stroke-width="0.6"/><path d="M622.4 1394L623.6 1393.9L625.3 1392.7L627.3 1390.6L629.5 1388.2L631.7 1385.7L633.6 1383.6L635.2 1382.3L636.5 1382.2L644 1385L642.8 1385.2L641.2 1386.5L639.3 1388.6L637.2 1391.2L635.1 1393.7L633.1 1395.8L631.5 1397L630.2 1397.2Z" fill="#8c8c8c" stroke="#5e5e5e" stroke-width="0.6"/><path d="M638.8 1400.4L640 1400.2L641.6 1398.9L643.5 1396.8L645.6 1394.2L647.7 1391.6L649.5 1389.5L651.1 1388.2L652.3 1388L660.1 1390.6L658.9 1390.9L657.3 1392.2L655.4 1394.4L653.4 1396.9L651.4 1399.5L649.5 1401.7L647.9 1403L646.6 1403.2Z" fill="#8c8c8c" stroke="#5e5e5e" stroke-width="0.6"/><path d="M655.2 1406.2L656.4 1405.9L658 1404.6L659.8 1402.4L661.9 1399.8L663.9 1397.2L665.7 1395.1L667.3 1393.8L668.6 1393.5L676.4 1396.2L675.2 1396.5L673.6 1397.8L671.7 1399.9L669.7 1402.5L667.6 1405.1L665.8 1407.3L664.2 1408.6L663 1408.8Z" fill="#8c8c8c" stroke="#5e5e5e" stroke-width="0.6"/><path d="M671.4 1411.7L672.6 1411.5L674.2 1410.2L676.1 1408L678.1 1405.4L680.2 1402.8L682 1400.7L683.6 1399.4L684.8 1399.1L692.6 1401.8L691.4 1402L689.8 1403.3L687.9 1405.5L685.9 1408.1L683.9 1410.7L682 1412.9L680.4 1414.2L679.2 1414.4Z" fill="#8c8c8c" stroke="#5e5e5e" stroke-width="0.6"/><path d="M687.7 1417.3L689 1417.1L690.6 1415.7L692.4 1413.6L694.4 1411L696.4 1408.3L698.2 1406.1L699.8 1404.8L701 1404.5L708.7 1407L707.6 1407.3L706 1408.6L704.2 1410.8L702.3 1413.5L700.3 1416.1L698.5 1418.3L696.9 1419.7L695.7 1419.9Z" fill="#8c8c8c" stroke="#5e5e5e" stroke-width="0.6"/><path d="M704.3 1422.6L705.6 1422.4L707.1 1421L708.9 1418.8L710.8 1416.1L712.7 1413.4L714.5 1411.2L716 1409.7L717.2 1409.4L725 1411.6L723.8 1411.9L722.3 1413.3L720.6 1415.6L718.8 1418.3L716.9 1421L715.2 1423.3L713.6 1424.7L712.4 1425Z" fill="#8c8c8c" stroke="#5e5e5e" stroke-width="0.6"/><path d="M721.2 1427.4L722.4 1427.1L723.9 1425.6L725.6 1423.3L727.4 1420.6L729.2 1417.8L730.9 1415.5L732.4 1414.1L733.6 1413.8L741.6 1415.8L740.4 1416.1L738.9 1417.5L737.2 1419.8L735.4 1422.6L733.6 1425.4L731.9 1427.7L730.5 1429.1L729.3 1429.5Z" fill="#8c8c8c" stroke="#5e5e5e" stroke-width="0.6"/><path d="M487.9 1297.2L488.5 1298.4L488.5 1300.6L487.9 1303.5L487.1 1307L486.4 1310.4L485.8 1313.4L485.8 1315.6L486.4 1316.7L494.3 1321.4L493.7 1320.3L493.8 1318.1L494.3 1315.2L495.1 1311.7L495.9 1308.3L496.4 1305.3L496.5 1303.1L495.9 1302Z" fill="#bab3e2" stroke="#545166" stroke-width="1.1" stroke-linejoin="round"/><path d="M487.9 1297.2L488.5 1298.4L488.5 1300.6L487.9 1303.5L487.1 1307L486.4 1310.4L485.8 1313.4L485.8 1315.6L486.4 1316.7L494.3 1321.4L493.7 1320.3L493.8 1318.1L494.3 1315.2L495.1 1311.7L495.9 1308.3L496.4 1305.3L496.5 1303.1L495.9 1302Z" fill="url(#hshade)"/><path d="M502.7 1306.1L503.3 1307.2L503.2 1309.4L502.7 1312.4L501.9 1315.8L501.1 1319.2L500.6 1322.2L500.5 1324.4L501.1 1325.5L509.1 1330.3L508.5 1329.1L508.6 1327L509.1 1324L509.9 1320.5L510.7 1317.1L511.2 1314.1L511.3 1311.9L510.7 1310.8Z" fill="#b6b2e3" stroke="#525066" stroke-width="1.1" stroke-linejoin="round"/><path d="M502.7 1306.1L503.3 1307.2L503.2 1309.4L502.7 1312.4L501.9 1315.8L501.1 1319.2L500.6 1322.2L500.5 1324.4L501.1 1325.5L509.1 1330.3L508.5 1329.1L508.6 1327L509.1 1324L509.9 1320.5L510.7 1317.1L511.2 1314.1L511.3 1311.9L510.7 1310.8Z" fill="url(#hshade)"/><path d="M517.5 1314.9L518.1 1316L518 1318.2L517.5 1321.2L516.7 1324.6L515.9 1328L515.4 1331L515.3 1333.2L515.9 1334.3L523.8 1339.1L523.3 1338L523.3 1335.8L523.9 1332.8L524.7 1329.4L525.4 1325.9L526 1323L526 1320.8L525.5 1319.7Z" fill="#b3b0e3" stroke="#504f66" stroke-width="1.1" stroke-linejoin="round"/><path d="M517.5 1314.9L518.1 1316L518 1318.2L517.5 1321.2L516.7 1324.6L515.9 1328L515.4 1331L515.3 1333.2L515.9 1334.3L523.8 1339.1L523.3 1338L523.3 1335.8L523.9 1332.8L524.7 1329.4L525.4 1325.9L526 1323L526 1320.8L525.5 1319.7Z" fill="url(#hshade)"/><path d="M532.2 1323.7L532.8 1324.8L532.8 1327L532.2 1330L531.4 1333.4L530.6 1336.9L530.1 1339.8L530 1342L530.6 1343.2L538.6 1347.9L538 1346.8L538.1 1344.6L538.6 1341.6L539.4 1338.2L540.2 1334.8L540.7 1331.8L540.8 1329.6L540.2 1328.5Z" fill="#afafe4" stroke="#4f4f67" stroke-width="1.1" stroke-linejoin="round"/><path d="M532.2 1323.7L532.8 1324.8L532.8 1327L532.2 1330L531.4 1333.4L530.6 1336.9L530.1 1339.8L530 1342L530.6 1343.2L538.6 1347.9L538 1346.8L538.1 1344.6L538.6 1341.6L539.4 1338.2L540.2 1334.8L540.7 1331.8L540.8 1329.6L540.2 1328.5Z" fill="url(#hshade)"/><path d="M547 1332.6L547.6 1333.7L547.5 1335.9L547 1338.9L546.2 1342.3L545.4 1345.7L544.8 1348.7L544.8 1350.9L545.4 1352L553.3 1356.8L552.7 1355.7L552.8 1353.5L553.3 1350.5L554.1 1347.1L555 1343.6L555.5 1340.7L555.5 1338.5L555 1337.4Z" fill="#ababe3" stroke="#4d4d66" stroke-width="1.1" stroke-linejoin="round"/><path d="M547 1332.6L547.6 1333.7L547.5 1335.9L547 1338.9L546.2 1342.3L545.4 1345.7L544.8 1348.7L544.8 1350.9L545.4 1352L553.3 1356.8L552.7 1355.7L552.8 1353.5L553.3 1350.5L554.1 1347.1L555 1343.6L555.5 1340.7L555.5 1338.5L555 1337.4Z" fill="url(#hshade)"/><path d="M561.8 1341.4L562.3 1342.6L562.3 1344.7L561.7 1347.7L560.9 1351.1L560.1 1354.6L559.6 1357.6L559.5 1359.7L560.1 1360.9L568.1 1365.6L567.5 1364.5L567.5 1362.3L568.1 1359.4L568.9 1355.9L569.7 1352.5L570.2 1349.5L570.3 1347.3L569.7 1346.2Z" fill="#a6a6e2" stroke="#4b4b66" stroke-width="1.1" stroke-linejoin="round"/><path d="M561.8 1341.4L562.3 1342.6L562.3 1344.7L561.7 1347.7L560.9 1351.1L560.1 1354.6L559.6 1357.6L559.5 1359.7L560.1 1360.9L568.1 1365.6L567.5 1364.5L567.5 1362.3L568.1 1359.4L568.9 1355.9L569.7 1352.5L570.2 1349.5L570.3 1347.3L569.7 1346.2Z" fill="url(#hshade)"/><path d="M576.5 1350.3L577.1 1351.4L577 1353.6L576.5 1356.6L575.7 1360L574.9 1363.4L574.3 1366.4L574.3 1368.6L574.9 1369.7L582.9 1374.5L582.3 1373.4L582.4 1371.2L582.9 1368.2L583.7 1364.8L584.4 1361.3L585 1358.3L585 1356.2L584.4 1355.1Z" fill="#a2a2e2" stroke="#494965" stroke-width="1.1" stroke-linejoin="round"/><path d="M576.5 1350.3L577.1 1351.4L577 1353.6L576.5 1356.6L575.7 1360L574.9 1363.4L574.3 1366.4L574.3 1368.6L574.9 1369.7L582.9 1374.5L582.3 1373.4L582.4 1371.2L582.9 1368.2L583.7 1364.8L584.4 1361.3L585 1358.3L585 1356.2L584.4 1355.1Z" fill="url(#hshade)"/><path d="M591.2 1359L591.8 1360.2L591.7 1362.3L591.2 1365.3L590.5 1368.8L589.7 1372.2L589.3 1375.2L589.3 1377.4L589.9 1378.5L598.2 1383.1L597.6 1382L597.5 1379.8L597.9 1376.8L598.6 1373.3L599.3 1369.9L599.7 1366.9L599.7 1364.7L599.1 1363.6Z" fill="#9d9de1" stroke="#474765" stroke-width="1.1" stroke-linejoin="round"/><path d="M591.2 1359L591.8 1360.2L591.7 1362.3L591.2 1365.3L590.5 1368.8L589.7 1372.2L589.3 1375.2L589.3 1377.4L589.9 1378.5L598.2 1383.1L597.6 1382L597.5 1379.8L597.9 1376.8L598.6 1373.3L599.3 1369.9L599.7 1366.9L599.7 1364.7L599.1 1363.6Z" fill="url(#hshade)"/><path d="M605.9 1367.3L606.5 1368.4L606.5 1370.6L606.1 1373.6L605.5 1377.1L605 1380.5L604.6 1383.6L604.7 1385.7L605.4 1386.8L614.1 1391L613.3 1389.9L613.1 1387.8L613.4 1384.7L613.8 1381.2L614.3 1377.8L614.6 1374.7L614.5 1372.6L613.9 1371.5Z" fill="#9696df" stroke="#444464" stroke-width="1.1" stroke-linejoin="round"/><path d="M605.9 1367.3L606.5 1368.4L606.5 1370.6L606.1 1373.6L605.5 1377.1L605 1380.5L604.6 1383.6L604.7 1385.7L605.4 1386.8L614.1 1391L613.3 1389.9L613.1 1387.8L613.4 1384.7L613.8 1381.2L614.3 1377.8L614.6 1374.7L614.5 1372.6L613.9 1371.5Z" fill="url(#hshade)"/><path d="M620.8 1374.9L621.5 1375.9L621.6 1378.1L621.4 1381.1L621 1384.6L620.7 1388.1L620.5 1391.1L620.8 1393.3L621.5 1394.3L630.4 1397.9L629.6 1396.9L629.3 1394.7L629.3 1391.7L629.6 1388.2L629.8 1384.7L629.9 1381.6L629.7 1379.5L629 1378.5Z" fill="#8e8edc" stroke="#404063" stroke-width="1.1" stroke-linejoin="round"/><path d="M620.8 1374.9L621.5 1375.9L621.6 1378.1L621.4 1381.1L621 1384.6L620.7 1388.1L620.5 1391.1L620.8 1393.3L621.5 1394.3L630.4 1397.9L629.6 1396.9L629.3 1394.7L629.3 1391.7L629.6 1388.2L629.8 1384.7L629.9 1381.6L629.7 1379.5L629 1378.5Z" fill="url(#hshade)"/><path d="M636.1 1381.4L636.8 1382.4L637.1 1384.5L637.1 1387.5L636.9 1391.1L636.8 1394.6L636.8 1397.6L637.2 1399.8L638 1400.8L646.8 1403.9L646 1402.9L645.6 1400.8L645.6 1397.8L645.7 1394.2L645.8 1390.7L645.7 1387.7L645.4 1385.6L644.6 1384.6Z" fill="#8686d9" stroke="#3c3c62" stroke-width="1.1" stroke-linejoin="round"/><path d="M636.1 1381.4L636.8 1382.4L637.1 1384.5L637.1 1387.5L636.9 1391.1L636.8 1394.6L636.8 1397.6L637.2 1399.8L638 1400.8L646.8 1403.9L646 1402.9L645.6 1400.8L645.6 1397.8L645.7 1394.2L645.8 1390.7L645.7 1387.7L645.4 1385.6L644.6 1384.6Z" fill="url(#hshade)"/><path d="M652 1387.2L652.7 1388.2L653.1 1390.3L653.2 1393.3L653.1 1396.9L653.1 1400.4L653.2 1403.4L653.6 1405.6L654.4 1406.5L663.2 1409.5L662.4 1408.6L662 1406.4L661.9 1403.4L661.9 1399.9L662 1396.4L661.9 1393.3L661.5 1391.2L660.7 1390.2Z" fill="#7e7ed6" stroke="#393960" stroke-width="1.1" stroke-linejoin="round"/><path d="M652 1387.2L652.7 1388.2L653.1 1390.3L653.2 1393.3L653.1 1396.9L653.1 1400.4L653.2 1403.4L653.6 1405.6L654.4 1406.5L663.2 1409.5L662.4 1408.6L662 1406.4L661.9 1403.4L661.9 1399.9L662 1396.4L661.9 1393.3L661.5 1391.2L660.7 1390.2Z" fill="url(#hshade)"/><path d="M668.2 1392.8L669 1393.7L669.4 1395.9L669.5 1398.9L669.4 1402.4L669.3 1405.9L669.4 1409L669.8 1411.1L670.6 1412.1L679.4 1415.1L678.6 1414.2L678.2 1412L678.1 1409L678.2 1405.5L678.3 1401.9L678.2 1398.9L677.8 1396.8L677 1395.8Z" fill="#7575d2" stroke="#35355e" stroke-width="1.1" stroke-linejoin="round"/><path d="M668.2 1392.8L669 1393.7L669.4 1395.9L669.5 1398.9L669.4 1402.4L669.3 1405.9L669.4 1409L669.8 1411.1L670.6 1412.1L679.4 1415.1L678.6 1414.2L678.2 1412L678.1 1409L678.2 1405.5L678.3 1401.9L678.2 1398.9L677.8 1396.8L677 1395.8Z" fill="url(#hshade)"/><path d="M684.4 1398.4L685.2 1399.3L685.6 1401.5L685.7 1404.5L685.7 1408L685.6 1411.5L685.7 1414.6L686.1 1416.7L687 1417.7L695.9 1420.6L695.1 1419.7L694.6 1417.5L694.5 1414.5L694.5 1411L694.5 1407.5L694.4 1404.4L694 1402.3L693.2 1401.3Z" fill="#6a6acb" stroke="#30305b" stroke-width="1.1" stroke-linejoin="round"/><path d="M684.4 1398.4L685.2 1399.3L685.6 1401.5L685.7 1404.5L685.7 1408L685.6 1411.5L685.7 1414.6L686.1 1416.7L687 1417.7L695.9 1420.6L695.1 1419.7L694.6 1417.5L694.5 1414.5L694.5 1411L694.5 1407.5L694.4 1404.4L694 1402.3L693.2 1401.3Z" fill="url(#hshade)"/><path d="M700.6 1403.8L701.4 1404.7L701.8 1406.9L702 1409.9L702 1413.4L702 1416.9L702.2 1420L702.7 1422.1L703.6 1423L712.7 1425.7L711.8 1424.8L711.3 1422.7L711 1419.6L710.9 1416.1L710.8 1412.6L710.6 1409.6L710.1 1407.4L709.3 1406.5Z" fill="#5e5ec4" stroke="#2b2b58" stroke-width="1.1" stroke-linejoin="round"/><path d="M700.6 1403.8L701.4 1404.7L701.8 1406.9L702 1409.9L702 1413.4L702 1416.9L702.2 1420L702.7 1422.1L703.6 1423L712.7 1425.7L711.8 1424.8L711.3 1422.7L711 1419.6L710.9 1416.1L710.8 1412.6L710.6 1409.6L710.1 1407.4L709.3 1406.5Z" fill="url(#hshade)"/><path d="M716.7 1408.7L717.6 1409.6L718.1 1411.7L718.4 1414.7L718.5 1418.3L718.7 1421.8L719 1424.8L719.6 1426.9L720.4 1427.8L729.5 1430.1L728.6 1429.2L728.1 1427.1L727.7 1424.1L727.5 1420.6L727.3 1417.1L727 1414.1L726.4 1412L725.5 1411.1Z" fill="#5353be" stroke="#262655" stroke-width="1.1" stroke-linejoin="round"/><path d="M716.7 1408.7L717.6 1409.6L718.1 1411.7L718.4 1414.7L718.5 1418.3L718.7 1421.8L719 1424.8L719.6 1426.9L720.4 1427.8L729.5 1430.1L728.6 1429.2L728.1 1427.1L727.7 1424.1L727.5 1420.6L727.3 1417.1L727 1414.1L726.4 1412L725.5 1411.1Z" fill="url(#hshade)"/>
<path d="M501.9 1287.8L503.2 1287.7L504.9 1286.5L507 1284.6L509.3 1282.2L511.6 1279.8L513.6 1277.9L515.4 1276.7L516.6 1276.6L524.1 1280.2L522.9 1280.3L521.1 1281.4L519 1283.3L516.7 1285.7L514.4 1288.1L512.4 1290L510.6 1291.1L509.4 1291.2Z" fill="#8c8c8c" stroke="#5e5e5e" stroke-width="0.6"/><path d="M517.5 1295L518.7 1294.9L520.4 1293.8L522.5 1291.9L524.8 1289.5L527.1 1287.2L529.2 1285.3L531 1284.1L532.2 1284L539.7 1287.7L538.5 1287.7L536.7 1288.8L534.6 1290.8L532.3 1293.1L529.9 1295.4L527.8 1297.3L526.1 1298.5L524.9 1298.6Z" fill="#8c8c8c" stroke="#5e5e5e" stroke-width="0.6"/><path d="M532.9 1302.4L534.1 1302.3L535.8 1301.2L538 1299.3L540.3 1297L542.7 1294.7L544.8 1292.8L546.5 1291.7L547.8 1291.6L555.2 1295.4L554 1295.5L552.2 1296.5L550.1 1298.4L547.7 1300.7L545.3 1303L543.2 1304.9L541.5 1306L540.2 1306Z" fill="#8c8c8c" stroke="#5e5e5e" stroke-width="0.6"/><path d="M548.1 1310L549.4 1310L551.1 1308.9L553.3 1307L555.7 1304.8L558 1302.5L560.2 1300.7L562 1299.6L563.3 1299.5L570.6 1303.5L569.4 1303.5L567.6 1304.5L565.4 1306.4L563 1308.6L560.6 1310.8L558.4 1312.7L556.6 1313.7L555.4 1313.8Z" fill="#8c8c8c" stroke="#5e5e5e" stroke-width="0.6"/><path d="M563.2 1318L564.4 1317.9L566.2 1316.9L568.4 1315.1L570.8 1312.8L573.3 1310.6L575.5 1308.8L577.3 1307.8L578.6 1307.8L585.8 1311.9L584.6 1311.9L582.8 1312.9L580.5 1314.6L578.1 1316.8L575.6 1319L573.4 1320.8L571.6 1321.8L570.4 1321.9Z" fill="#8c8c8c" stroke="#5e5e5e" stroke-width="0.6"/><path d="M578.1 1326.2L579.3 1326.2L581.1 1325.2L583.4 1323.4L585.9 1321.2L588.3 1319.1L590.6 1317.3L592.4 1316.4L593.7 1316.4L600.9 1320.6L599.6 1320.6L597.8 1321.5L595.5 1323.3L593 1325.4L590.5 1327.5L588.2 1329.3L586.4 1330.3L585.2 1330.3Z" fill="#8c8c8c" stroke="#5e5e5e" stroke-width="0.6"/><path d="M592.8 1334.7L594 1334.8L595.9 1333.8L598.1 1332.1L600.7 1330L603.2 1327.9L605.5 1326.2L607.3 1325.2L608.6 1325.3L615.7 1329.7L614.4 1329.6L612.6 1330.6L610.3 1332.2L607.7 1334.3L605.1 1336.4L602.9 1338.1L601 1339L599.8 1339Z" fill="#8c8c8c" stroke="#5e5e5e" stroke-width="0.6"/><path d="M607.3 1343.6L608.5 1343.7L610.4 1342.8L612.7 1341.1L615.3 1339.1L617.9 1337L620.2 1335.4L622.1 1334.5L623.3 1334.6L630.3 1339.2L629 1339.1L627.2 1339.9L624.8 1341.6L622.2 1343.6L619.6 1345.6L617.3 1347.2L615.4 1348.1L614.2 1348Z" fill="#8c8c8c" stroke="#5e5e5e" stroke-width="0.6"/><path d="M621.6 1352.9L622.8 1353L624.6 1352.1L627 1350.5L629.6 1348.5L632.3 1346.5L634.7 1345L636.5 1344.1L637.8 1344.2L644.7 1349L643.4 1348.9L641.5 1349.7L639.1 1351.2L636.4 1353.2L633.8 1355.1L631.4 1356.7L629.5 1357.6L628.3 1357.5Z" fill="#8c8c8c" stroke="#5e5e5e" stroke-width="0.6"/><path d="M635.6 1362.5L636.8 1362.6L638.7 1361.8L641.1 1360.3L643.8 1358.3L646.4 1356.4L648.9 1354.9L650.8 1354.1L652 1354.3L658.7 1359.2L657.5 1359L655.6 1359.8L653.2 1361.3L650.4 1363.2L647.7 1365.1L645.3 1366.6L643.4 1367.4L642.2 1367.2Z" fill="#8c8c8c" stroke="#5e5e5e" stroke-width="0.6"/><path d="M649.3 1372.5L650.6 1372.6L652.5 1371.8L654.9 1370.4L657.6 1368.5L660.4 1366.7L662.8 1365.2L664.7 1364.4L666 1364.6L672.6 1369.6L671.3 1369.4L669.4 1370.2L667 1371.6L664.2 1373.5L661.5 1375.3L659.1 1376.8L657.1 1377.5L655.9 1377.4Z" fill="#8c8c8c" stroke="#5e5e5e" stroke-width="0.6"/><path d="M663 1382.8L664.2 1382.9L666.2 1382.2L668.6 1380.7L671.4 1378.9L674.1 1377L676.6 1375.6L678.5 1374.8L679.7 1375L686.3 1380L685 1379.8L683.1 1380.6L680.7 1382L677.9 1383.9L675.2 1385.7L672.7 1387.2L670.8 1387.9L669.6 1387.7Z" fill="#8c8c8c" stroke="#5e5e5e" stroke-width="0.6"/><path d="M676.7 1393.2L677.9 1393.3L679.9 1392.6L682.3 1391.1L685.1 1389.3L687.8 1387.4L690.2 1386L692.1 1385.2L693.4 1385.4L700 1390.3L698.7 1390.1L696.8 1390.9L694.4 1392.4L691.7 1394.2L688.9 1396.1L686.5 1397.6L684.6 1398.3L683.3 1398.2Z" fill="#8c8c8c" stroke="#5e5e5e" stroke-width="0.6"/><path d="M690.5 1403.5L691.8 1403.7L693.7 1402.9L696.1 1401.4L698.8 1399.6L701.6 1397.7L704 1396.2L705.9 1395.4L707.1 1395.5L713.8 1400.4L712.5 1400.3L710.6 1401.1L708.2 1402.6L705.5 1404.4L702.8 1406.3L700.4 1407.8L698.5 1408.6L697.2 1408.5Z" fill="#8c8c8c" stroke="#5e5e5e" stroke-width="0.6"/><path d="M704.5 1413.8L705.7 1413.9L707.6 1413.1L710 1411.6L712.7 1409.7L715.4 1407.8L717.8 1406.3L719.8 1405.5L721 1405.6L727.7 1410.5L726.4 1410.3L724.5 1411.1L722.1 1412.6L719.4 1414.5L716.7 1416.4L714.3 1417.9L712.4 1418.7L711.2 1418.6Z" fill="#8c8c8c" stroke="#5e5e5e" stroke-width="0.6"/><path d="M500.7 1268.6L501.4 1269.6L501.6 1271.8L501.3 1274.8L500.9 1278.3L500.5 1281.8L500.2 1284.8L500.4 1287L501.1 1288.1L509.5 1292L508.8 1290.9L508.7 1288.7L508.9 1285.7L509.3 1282.2L509.8 1278.7L510 1275.7L509.8 1273.5L509.1 1272.5Z" fill="#bf7797" stroke="#563544" stroke-width="1.1" stroke-linejoin="round"/><path d="M500.7 1268.6L501.4 1269.6L501.6 1271.8L501.3 1274.8L500.9 1278.3L500.5 1281.8L500.2 1284.8L500.4 1287L501.1 1288.1L509.5 1292L508.8 1290.9L508.7 1288.7L508.9 1285.7L509.3 1282.2L509.8 1278.7L510 1275.7L509.8 1273.5L509.1 1272.5Z" fill="url(#hshade)"/><path d="M516.3 1275.8L517 1276.9L517.2 1279.1L516.9 1282.1L516.5 1285.6L516 1289.1L515.8 1292.1L516 1294.3L516.6 1295.3L525 1299.3L524.3 1298.2L524.2 1296.1L524.4 1293L524.9 1289.5L525.4 1286.1L525.6 1283L525.4 1280.9L524.7 1279.8Z" fill="#bc83a8" stroke="#553b4c" stroke-width="1.1" stroke-linejoin="round"/><path d="M516.3 1275.8L517 1276.9L517.2 1279.1L516.9 1282.1L516.5 1285.6L516 1289.1L515.8 1292.1L516 1294.3L516.6 1295.3L525 1299.3L524.3 1298.2L524.2 1296.1L524.4 1293L524.9 1289.5L525.4 1286.1L525.6 1283L525.4 1280.9L524.7 1279.8Z" fill="url(#hshade)"/><path d="M531.9 1283.2L532.6 1284.3L532.8 1286.5L532.5 1289.5L532 1293L531.5 1296.4L531.3 1299.5L531.4 1301.6L532.1 1302.7L540.3 1306.8L539.7 1305.7L539.5 1303.5L539.8 1300.5L540.4 1297L540.9 1293.6L541.2 1290.5L541 1288.4L540.3 1287.3Z" fill="#ba90b9" stroke="#544153" stroke-width="1.1" stroke-linejoin="round"/><path d="M531.9 1283.2L532.6 1284.3L532.8 1286.5L532.5 1289.5L532 1293L531.5 1296.4L531.3 1299.5L531.4 1301.6L532.1 1302.7L540.3 1306.8L539.7 1305.7L539.5 1303.5L539.8 1300.5L540.4 1297L540.9 1293.6L541.2 1290.5L541 1288.4L540.3 1287.3Z" fill="url(#hshade)"/><path d="M547.5 1290.8L548.2 1291.9L548.3 1294.1L548 1297.1L547.4 1300.6L546.9 1304L546.6 1307.1L546.7 1309.2L547.3 1310.3L555.5 1314.5L554.8 1313.4L554.8 1311.3L555.1 1308.3L555.7 1304.8L556.3 1301.3L556.6 1298.3L556.5 1296.1L555.9 1295Z" fill="#b79ac8" stroke="#52465a" stroke-width="1.1" stroke-linejoin="round"/><path d="M547.5 1290.8L548.2 1291.9L548.3 1294.1L548 1297.1L547.4 1300.6L546.9 1304L546.6 1307.1L546.7 1309.2L547.3 1310.3L555.5 1314.5L554.8 1313.4L554.8 1311.3L555.1 1308.3L555.7 1304.8L556.3 1301.3L556.6 1298.3L556.5 1296.1L555.9 1295Z" fill="url(#hshade)"/><path d="M563 1298.7L563.6 1299.8L563.7 1302L563.3 1305L562.7 1308.5L562.1 1311.9L561.7 1314.9L561.8 1317.1L562.4 1318.2L570.4 1322.6L569.8 1321.5L569.8 1319.3L570.2 1316.3L570.9 1312.9L571.6 1309.4L572 1306.4L571.9 1304.2L571.3 1303.1Z" fill="#b4a1d2" stroke="#51495e" stroke-width="1.1" stroke-linejoin="round"/><path d="M563 1298.7L563.6 1299.8L563.7 1302L563.3 1305L562.7 1308.5L562.1 1311.9L561.7 1314.9L561.8 1317.1L562.4 1318.2L570.4 1322.6L569.8 1321.5L569.8 1319.3L570.2 1316.3L570.9 1312.9L571.6 1309.4L572 1306.4L571.9 1304.2L571.3 1303.1Z" fill="url(#hshade)"/><path d="M578.3 1306.9L578.9 1308.1L579 1310.2L578.5 1313.2L577.8 1316.7L577.1 1320.1L576.7 1323.1L576.7 1325.3L577.3 1326.4L585.2 1331L584.6 1329.9L584.7 1327.7L585.2 1324.7L585.9 1321.3L586.6 1317.8L587.1 1314.8L587.1 1312.6L586.5 1311.5Z" fill="#b1a8dc" stroke="#4f4c63" stroke-width="1.1" stroke-linejoin="round"/><path d="M578.3 1306.9L578.9 1308.1L579 1310.2L578.5 1313.2L577.8 1316.7L577.1 1320.1L576.7 1323.1L576.7 1325.3L577.3 1326.4L585.2 1331L584.6 1329.9L584.7 1327.7L585.2 1324.7L585.9 1321.3L586.6 1317.8L587.1 1314.8L587.1 1312.6L586.5 1311.5Z" fill="url(#hshade)"/><path d="M593.4 1315.5L594 1316.6L594 1318.8L593.5 1321.8L592.8 1325.3L592 1328.7L591.4 1331.7L591.4 1333.8L592 1335L599.8 1339.7L599.3 1338.6L599.3 1336.4L599.9 1333.4L600.7 1330L601.5 1326.6L602.1 1323.6L602.1 1321.4L601.5 1320.3Z" fill="#adade4" stroke="#4e4e66" stroke-width="1.1" stroke-linejoin="round"/><path d="M593.4 1315.5L594 1316.6L594 1318.8L593.5 1321.8L592.8 1325.3L592 1328.7L591.4 1331.7L591.4 1333.8L592 1335L599.8 1339.7L599.3 1338.6L599.3 1336.4L599.9 1333.4L600.7 1330L601.5 1326.6L602.1 1323.6L602.1 1321.4L601.5 1320.3Z" fill="url(#hshade)"/><path d="M608.4 1324.4L609 1325.6L608.9 1327.8L608.3 1330.7L607.5 1334.2L606.6 1337.6L606 1340.5L605.9 1342.7L606.5 1343.8L614.2 1348.8L613.6 1347.6L613.8 1345.5L614.4 1342.5L615.3 1339.1L616.2 1335.7L616.8 1332.7L616.9 1330.5L616.4 1329.4Z" fill="#a7a7e2" stroke="#4b4b66" stroke-width="1.1" stroke-linejoin="round"/><path d="M608.4 1324.4L609 1325.6L608.9 1327.8L608.3 1330.7L607.5 1334.2L606.6 1337.6L606 1340.5L605.9 1342.7L606.5 1343.8L614.2 1348.8L613.6 1347.6L613.8 1345.5L614.4 1342.5L615.3 1339.1L616.2 1335.7L616.8 1332.7L616.9 1330.5L616.4 1329.4Z" fill="url(#hshade)"/><path d="M623.1 1333.7L623.7 1334.9L623.5 1337.1L622.9 1340L622 1343.4L621 1346.8L620.4 1349.8L620.2 1351.9L620.7 1353.1L628.3 1358.2L627.8 1357L628 1354.9L628.7 1351.9L629.7 1348.6L630.7 1345.2L631.4 1342.2L631.5 1340L631 1338.9Z" fill="#a1a1e1" stroke="#494965" stroke-width="1.1" stroke-linejoin="round"/><path d="M623.1 1333.7L623.7 1334.9L623.5 1337.1L622.9 1340L622 1343.4L621 1346.8L620.4 1349.8L620.2 1351.9L620.7 1353.1L628.3 1358.2L627.8 1357L628 1354.9L628.7 1351.9L629.7 1348.6L630.7 1345.2L631.4 1342.2L631.5 1340L631 1338.9Z" fill="url(#hshade)"/><path d="M637.6 1343.4L638.1 1344.5L638 1346.7L637.2 1349.7L636.2 1353L635.2 1356.4L634.4 1359.3L634.2 1361.5L634.7 1362.7L642.2 1368L641.7 1366.8L641.9 1364.7L642.7 1361.7L643.8 1358.4L644.9 1355L645.6 1352.1L645.9 1349.9L645.4 1348.7Z" fill="#9c9ce0" stroke="#464665" stroke-width="1.1" stroke-linejoin="round"/><path d="M637.6 1343.4L638.1 1344.5L638 1346.7L637.2 1349.7L636.2 1353L635.2 1356.4L634.4 1359.3L634.2 1361.5L634.7 1362.7L642.2 1368L641.7 1366.8L641.9 1364.7L642.7 1361.7L643.8 1358.4L644.9 1355L645.6 1352.1L645.9 1349.9L645.4 1348.7Z" fill="url(#hshade)"/><path d="M651.9 1353.4L652.4 1354.6L652.1 1356.8L651.3 1359.7L650.2 1363L649.1 1366.4L648.3 1369.3L648 1371.4L648.5 1372.6L655.9 1378.1L655.4 1376.9L655.7 1374.8L656.5 1371.9L657.7 1368.5L658.8 1365.2L659.7 1362.3L659.9 1360.1L659.4 1359Z" fill="#8e8edb" stroke="#404062" stroke-width="1.1" stroke-linejoin="round"/><path d="M651.9 1353.4L652.4 1354.6L652.1 1356.8L651.3 1359.7L650.2 1363L649.1 1366.4L648.3 1369.3L648 1371.4L648.5 1372.6L655.9 1378.1L655.4 1376.9L655.7 1374.8L656.5 1371.9L657.7 1368.5L658.8 1365.2L659.7 1362.3L659.9 1360.1L659.4 1359Z" fill="url(#hshade)"/><path d="M665.8 1363.7L666.3 1364.9L666 1367.1L665.2 1370L664 1373.3L662.8 1376.6L662 1379.5L661.7 1381.7L662.2 1382.9L669.5 1388.5L669.1 1387.3L669.4 1385.1L670.2 1382.2L671.4 1378.9L672.6 1375.6L673.4 1372.7L673.7 1370.5L673.3 1369.3Z" fill="#8080d6" stroke="#393960" stroke-width="1.1" stroke-linejoin="round"/><path d="M665.8 1363.7L666.3 1364.9L666 1367.1L665.2 1370L664 1373.3L662.8 1376.6L662 1379.5L661.7 1381.7L662.2 1382.9L669.5 1388.5L669.1 1387.3L669.4 1385.1L670.2 1382.2L671.4 1378.9L672.6 1375.6L673.4 1372.7L673.7 1370.5L673.3 1369.3Z" fill="url(#hshade)"/><path d="M679.6 1374.1L680 1375.3L679.7 1377.5L678.9 1380.4L677.7 1383.7L676.5 1387L675.7 1389.9L675.4 1392.1L675.8 1393.3L683.3 1398.9L682.8 1397.7L683.1 1395.6L684 1392.6L685.1 1389.3L686.3 1386L687.1 1383.1L687.4 1380.9L687 1379.8Z" fill="#7272d1" stroke="#33335e" stroke-width="1.1" stroke-linejoin="round"/><path d="M679.6 1374.1L680 1375.3L679.7 1377.5L678.9 1380.4L677.7 1383.7L676.5 1387L675.7 1389.9L675.4 1392.1L675.8 1393.3L683.3 1398.9L682.8 1397.7L683.1 1395.6L684 1392.6L685.1 1389.3L686.3 1386L687.1 1383.1L687.4 1380.9L687 1379.8Z" fill="url(#hshade)"/><path d="M693.3 1384.5L693.7 1385.7L693.4 1387.8L692.6 1390.7L691.4 1394.1L690.3 1397.4L689.5 1400.3L689.2 1402.5L689.7 1403.7L697.2 1409.2L696.7 1408L697 1405.9L697.8 1402.9L698.9 1399.6L700 1396.3L700.8 1393.4L701.1 1391.2L700.6 1390Z" fill="#6464c8" stroke="#2d2d5a" stroke-width="1.1" stroke-linejoin="round"/><path d="M693.3 1384.5L693.7 1385.7L693.4 1387.8L692.6 1390.7L691.4 1394.1L690.3 1397.4L689.5 1400.3L689.2 1402.5L689.7 1403.7L697.2 1409.2L696.7 1408L697 1405.9L697.8 1402.9L698.9 1399.6L700 1396.3L700.8 1393.4L701.1 1391.2L700.6 1390Z" fill="url(#hshade)"/><path d="M707 1394.7L707.4 1395.9L707.2 1398L706.4 1400.9L705.3 1404.3L704.2 1407.6L703.4 1410.6L703.1 1412.7L703.6 1413.9L711.1 1419.4L710.7 1418.2L710.9 1416L711.7 1413.1L712.8 1409.7L713.9 1406.4L714.7 1403.5L714.9 1401.3L714.5 1400.1Z" fill="#5656bf" stroke="#272756" stroke-width="1.1" stroke-linejoin="round"/><path d="M707 1394.7L707.4 1395.9L707.2 1398L706.4 1400.9L705.3 1404.3L704.2 1407.6L703.4 1410.6L703.1 1412.7L703.6 1413.9L711.1 1419.4L710.7 1418.2L710.9 1416L711.7 1413.1L712.8 1409.7L713.9 1406.4L714.7 1403.5L714.9 1401.3L714.5 1400.1Z" fill="url(#hshade)"/><path d="M720.8 1404.8L721.3 1405.9L721.1 1408.1L720.3 1411L719.2 1414.4L718.1 1417.7L717.3 1420.7L717.1 1422.8L717.6 1424L725.1 1429.4L724.6 1428.3L724.9 1426.1L725.7 1423.2L726.7 1419.8L727.8 1416.5L728.6 1413.5L728.8 1411.4L728.4 1410.2Z" fill="#4848b7" stroke="#202052" stroke-width="1.1" stroke-linejoin="round"/><path d="M720.8 1404.8L721.3 1405.9L721.1 1408.1L720.3 1411L719.2 1414.4L718.1 1417.7L717.3 1420.7L717.1 1422.8L717.6 1424L725.1 1429.4L724.6 1428.3L724.9 1426.1L725.7 1423.2L726.7 1419.8L727.8 1416.5L728.6 1413.5L728.8 1411.4L728.4 1410.2Z" fill="url(#hshade)"/>
<path d="M736 1420C737 1419.5 740.2 1417 742 1417C743.8 1417 745.8 1417.7 747 1420C748.2 1422.3 749.1 1429.2 749.5 1431" fill="none" stroke="#4040a8" stroke-width="1.6" stroke-linecap="round" stroke-linejoin="round"/>
<defs>
<linearGradient id="e_rw1" gradientUnits="userSpaceOnUse" x1="271.8" y1="1565.2" x2="454.7" y2="1517.1"><stop offset="0" stop-color="#b01a22"/><stop offset="0.12" stop-color="#b82834"/><stop offset="0.5" stop-color="#d68a9a"/><stop offset="0.8" stop-color="#e6d4e4"/><stop offset="1" stop-color="#e9e9fb"/></linearGradient>
<linearGradient id="e_rw2" gradientUnits="userSpaceOnUse" x1="283.6" y1="1608" x2="466.5" y2="1559.5"><stop offset="0" stop-color="#b01a22"/><stop offset="0.12" stop-color="#b82834"/><stop offset="0.5" stop-color="#d68a9a"/><stop offset="0.8" stop-color="#e6d4e4"/><stop offset="1" stop-color="#e9e9fb"/></linearGradient>
<linearGradient id="e_wb1" gradientUnits="userSpaceOnUse" x1="504.4" y1="1517.1" x2="687.6" y2="1565.2"><stop offset="0" stop-color="#e9e9fb"/><stop offset="0.2" stop-color="#c8c8f6"/><stop offset="0.55" stop-color="#5c5cf0"/><stop offset="0.8" stop-color="#2a2ab8"/><stop offset="1" stop-color="#161688"/></linearGradient>
<linearGradient id="e_wb2" gradientUnits="userSpaceOnUse" x1="492.2" y1="1559.5" x2="676.6" y2="1608.4"><stop offset="0" stop-color="#e9e9fb"/><stop offset="0.2" stop-color="#c8c8f6"/><stop offset="0.55" stop-color="#5c5cf0"/><stop offset="0.8" stop-color="#2a2ab8"/><stop offset="1" stop-color="#161688"/></linearGradient>
</defs>
<path d="M256 1570 L272 1565.5" stroke="#000" stroke-width="5" fill="none"/>
<path d="M268 1612.8 L284 1608.2" stroke="#000" stroke-width="5" fill="none"/>
<path d="M455 1518 C470 1511.5 488 1511.5 504 1518" stroke="#000" stroke-width="4.6" fill="none"/>
<path d="M467 1560.5 C474 1555 485 1555 493 1561.5" stroke="#000" stroke-width="4.6" fill="none"/>
<path d="M177.5 1576.2L249.2 1556.6L258.2 1585.2L184.8 1603.1Z" fill="#a91d22" stroke="#000" stroke-width="3" stroke-linejoin="miter"/>
<path d="M189.7 1617.8L261.5 1599L269.6 1627.6L197.1 1646.3Z" fill="#a91d22" stroke="#000" stroke-width="3" stroke-linejoin="miter"/>
<path d="M268.4 1551.3L450.6 1503.2L458.8 1531L275.3 1579.1Z" fill="url(#e_rw1)" stroke="#000" stroke-width="3" stroke-linejoin="miter"/>
<path d="M280.6 1594.1L462.8 1545.2L470.2 1573.8L286.7 1621.9Z" fill="url(#e_rw2)" stroke="#000" stroke-width="3" stroke-linejoin="miter"/>
<path d="M508.1 1503.2L691.1 1551.3L684.2 1579.1L500.8 1531Z" fill="url(#e_wb1)" stroke="#000" stroke-width="3" stroke-linejoin="miter"/>
<path d="M495.9 1545.2L680.1 1594.1L673.2 1622.7L488.5 1573.8Z" fill="url(#e_wb2)" stroke="#000" stroke-width="3" stroke-linejoin="miter"/>
<text x="161.6" y="1603" font-size="25" fill="#222" text-anchor="middle">N</text>
<text x="171.8" y="1646.3" font-size="25" fill="#222" text-anchor="middle">N</text>
<text x="704.6" y="1580" font-size="25" fill="#222" text-anchor="middle">C</text>
<text x="696.4" y="1622.7" font-size="25" fill="#222" text-anchor="middle">C</text>
</g>
<g id="panel-f">
<text x="786.6" y="1168.8" font-size="38.5" fill="#000" font-weight="bold">f</text>
<text x="1472" y="1197.5" font-size="25" fill="#2b2b2b" text-anchor="end">SAXS CORAL</text>
<text x="1472" y="1222.8" font-size="25" fill="#2b2b2b" text-anchor="end">model</text>
<text x="1184" y="1369.4" font-size="25" fill="#111" text-anchor="middle">SYCE1</text>
<text x="1184" y="1393.4" font-size="25" fill="#111" text-anchor="middle">anti-parallel</text>
<text x="1184" y="1417.4" font-size="25" fill="#111" text-anchor="middle">dimer</text>
<text x="859" y="1426.4" font-size="25" fill="#333" text-anchor="middle">C</text>
<text x="859.5" y="1452.7" font-size="25" fill="#333" text-anchor="middle">(179)</text>
<text x="965.4" y="1456.7" font-size="25" fill="#333" text-anchor="middle">N</text>
<text x="965.4" y="1483" font-size="25" fill="#333" text-anchor="middle">(25)</text>
<text x="1408.7" y="1278.1" font-size="25" fill="#333" text-anchor="middle">N</text>
<text x="1409.2" y="1303" font-size="25" fill="#333" text-anchor="middle">(25)</text>
<text x="1473.3" y="1443" font-size="25" fill="#333" text-anchor="middle">C</text>
<text x="1473.3" y="1469.2" font-size="25" fill="#333" text-anchor="middle">(179)</text>
<path d="M878 1357C877.3 1356.2 875.3 1352.2 874 1352C872.7 1351.8 871.7 1354.3 870 1356C868.3 1357.7 865.3 1360 864 1362C862.7 1364 861.3 1366.3 862 1368C862.7 1369.7 866.8 1370.5 868 1372C869.2 1373.5 870.5 1375.5 869.5 1377C868.5 1378.5 864.2 1379.2 862 1381C859.8 1382.8 856.7 1385.7 856 1388C855.3 1390.3 856.7 1393.2 858 1395C859.3 1396.8 861.5 1397.8 864 1399C866.5 1400.2 870 1400.8 873 1402C876 1403.2 879.2 1405 882 1406C884.8 1407 888.7 1407.7 890 1408" fill="none" stroke="#a01828" stroke-width="1.9" stroke-linecap="round" stroke-linejoin="round"/>
<path d="M883 1387C882.2 1388 879.5 1391.5 878 1393C876.5 1394.5 874.7 1395.5 874 1396" fill="none" stroke="#30309c" stroke-width="1.4" stroke-linecap="round" stroke-linejoin="round"/>
<path d="M930 1432C929.6 1433.3 928.7 1437.5 927.5 1440C926.3 1442.5 923.3 1444.8 923 1447C922.7 1449.2 924.5 1451 925.5 1453C926.5 1455 928.9 1457 929 1459C929.1 1461 925.9 1463 926 1465C926.1 1467 928.7 1469.2 929.5 1471C930.3 1472.8 931.6 1474 931 1476C930.4 1478 926.8 1481.8 926 1483" fill="none" stroke="#a01828" stroke-width="1.9" stroke-linecap="round" stroke-linejoin="round"/>
<path d="M1166.9 1265.5C1166.3 1264.6 1164.3 1261.5 1163.5 1260C1162.7 1258.5 1162.2 1257.8 1162.3 1256.3C1162.4 1254.8 1163.1 1252.1 1164.2 1250.8C1165.3 1249.5 1167.3 1249.1 1169 1248.5C1170.7 1247.9 1173.1 1247.8 1174.3 1247.1C1175.5 1246.4 1175.1 1244.2 1176.1 1244.3C1177 1244.4 1178.6 1246.4 1180 1247.5C1181.4 1248.6 1182.4 1250.1 1184.4 1250.8C1186.4 1251.5 1189.6 1252 1191.8 1251.7C1194 1251.4 1195.7 1249.9 1197.5 1249C1199.3 1248.1 1200.4 1247.4 1202.8 1246.2C1205.2 1245 1210.2 1241.6 1212 1241.6C1213.8 1241.6 1213.6 1245.4 1213.9 1246.2" fill="none" stroke="#b07088" stroke-width="1.7" stroke-linecap="round" stroke-linejoin="round"/>
<path d="M1171.5 1298.6C1171.8 1297.7 1172.4 1294.7 1173 1293C1173.6 1291.3 1174.2 1289.3 1175.2 1288.5C1176.2 1287.7 1177.5 1287.4 1179 1288C1180.5 1288.6 1183.5 1292.2 1184.4 1292.2C1185.3 1292.2 1184.8 1289.2 1184.6 1288C1184.4 1286.8 1184.3 1286.5 1183.5 1284.8C1182.7 1283 1180.6 1280 1179.8 1277.5C1179 1275 1178.8 1272.2 1178.6 1270C1178.4 1267.8 1178.4 1265.8 1178.9 1264.6C1179.4 1263.4 1180.6 1262.2 1181.7 1262.7C1182.8 1263.2 1183.7 1266.8 1185.4 1267.3C1187.1 1267.8 1189.8 1266.1 1191.8 1265.5C1193.8 1264.9 1196.2 1263.2 1197.3 1263.7C1198.4 1264.2 1198.7 1266.6 1198.6 1268.3C1198.5 1270 1197.2 1272.2 1196.5 1274C1195.8 1275.8 1194.9 1278.4 1194.6 1279.3" fill="none" stroke="#b87088" stroke-width="1.7" stroke-linecap="round" stroke-linejoin="round"/>
<path d="M894 1412L895.2 1411.9L896.9 1410.9L899 1409L901.4 1406.8L903.8 1404.6L906 1402.8L907.8 1401.8L909 1401.7L915.8 1405.8L914.6 1405.8L912.8 1406.7L910.5 1408.5L908.1 1410.6L905.6 1412.8L903.5 1414.6L901.7 1415.6L900.6 1415.7Z" fill="#8c8c8c" stroke="#5e5e5e" stroke-width="0.6"/><path d="M907.5 1419.8L908.7 1419.8L910.5 1418.8L912.7 1417.1L915.2 1415L917.7 1412.9L920 1411.2L921.8 1410.3L923 1410.3L929.5 1414.7L928.3 1414.6L926.5 1415.5L924.2 1417.1L921.6 1419.2L919.1 1421.2L916.8 1422.9L915 1423.8L913.9 1423.8Z" fill="#8c8c8c" stroke="#5e5e5e" stroke-width="0.6"/><path d="M920.7 1428.3L921.8 1428.4L923.6 1427.4L925.9 1425.8L928.5 1423.8L931.1 1421.8L933.4 1420.2L935.3 1419.3L936.4 1419.4L942.8 1423.8L941.6 1423.7L939.8 1424.6L937.4 1426.2L934.8 1428.2L932.2 1430.2L929.9 1431.8L928.1 1432.7L926.9 1432.6Z" fill="#8c8c8c" stroke="#5e5e5e" stroke-width="0.6"/><path d="M894.6 1393.1L895.1 1394.1L895.1 1396.3L894.6 1399.3L893.9 1402.7L893.2 1406.1L892.7 1409.1L892.7 1411.2L893.2 1412.3L900.6 1416.4L900.1 1415.3L900.2 1413.2L900.7 1410.3L901.5 1406.9L902.2 1403.4L902.7 1400.5L902.8 1398.3L902.2 1397.2Z" fill="#a81a24" stroke="#4c0c10" stroke-width="1.1" stroke-linejoin="round"/><path d="M894.6 1393.1L895.1 1394.1L895.1 1396.3L894.6 1399.3L893.9 1402.7L893.2 1406.1L892.7 1409.1L892.7 1411.2L893.2 1412.3L900.6 1416.4L900.1 1415.3L900.2 1413.2L900.7 1410.3L901.5 1406.9L902.2 1403.4L902.7 1400.5L902.8 1398.3L902.2 1397.2Z" fill="url(#hshade)"/><path d="M908.8 1400.9L909.3 1402L909.2 1404.2L908.7 1407.1L907.9 1410.5L907 1413.9L906.4 1416.8L906.3 1419L906.8 1420L913.8 1424.5L913.4 1423.4L913.6 1421.3L914.3 1418.4L915.2 1415L916.2 1411.6L916.8 1408.7L916.9 1406.5L916.4 1405.4Z" fill="#a81a24" stroke="#4c0c10" stroke-width="1.1" stroke-linejoin="round"/><path d="M908.8 1400.9L909.3 1402L909.2 1404.2L908.7 1407.1L907.9 1410.5L907 1413.9L906.4 1416.8L906.3 1419L906.8 1420L913.8 1424.5L913.4 1423.4L913.6 1421.3L914.3 1418.4L915.2 1415L916.2 1411.6L916.8 1408.7L916.9 1406.5L916.4 1405.4Z" fill="url(#hshade)"/><path d="M922.8 1409.5L923.3 1410.6L923.1 1412.7L922.4 1415.7L921.4 1419L920.4 1422.4L919.6 1425.3L919.4 1427.4L919.8 1428.5L926.9 1433.3L926.4 1432.2L926.7 1430.1L927.5 1427.2L928.6 1423.9L929.6 1420.5L930.4 1417.6L930.6 1415.5L930.2 1414.4Z" fill="#a81a24" stroke="#4c0c10" stroke-width="1.1" stroke-linejoin="round"/><path d="M922.8 1409.5L923.3 1410.6L923.1 1412.7L922.4 1415.7L921.4 1419L920.4 1422.4L919.6 1425.3L919.4 1427.4L919.8 1428.5L926.9 1433.3L926.4 1432.2L926.7 1430.1L927.5 1427.2L928.6 1423.9L929.6 1420.5L930.4 1417.6L930.6 1415.5L930.2 1414.4Z" fill="url(#hshade)"/>
<path d="M886.1 1362.8L886.9 1361.9L887.5 1360L887.8 1357.1L888 1353.8L888.2 1350.5L888.5 1347.7L889.1 1345.7L890 1344.8L897.9 1342.6L897.1 1343.5L896.5 1345.5L896.2 1348.3L896 1351.6L895.8 1354.9L895.4 1357.7L894.9 1359.7L894 1360.6Z" fill="#8c8c8c" stroke="#5e5e5e" stroke-width="0.6"/><path d="M902.6 1358.2L903.5 1357.3L904 1355.3L904.4 1352.5L904.6 1349.2L904.8 1345.9L905.1 1343.1L905.7 1341.1L906.6 1340.2L914.6 1338L913.7 1338.9L913.1 1340.9L912.8 1343.7L912.5 1347L912.3 1350.3L912 1353.1L911.4 1355.1L910.6 1356Z" fill="#8c8c8c" stroke="#5e5e5e" stroke-width="0.6"/><path d="M919.2 1353.6L920 1352.8L920.6 1350.8L920.9 1348L921.2 1344.7L921.4 1341.4L921.8 1338.6L922.3 1336.6L923.2 1335.7L931.2 1333.6L930.4 1334.4L929.8 1336.4L929.4 1339.3L929.1 1342.5L928.9 1345.8L928.5 1348.7L928 1350.6L927.1 1351.5Z" fill="#8c8c8c" stroke="#5e5e5e" stroke-width="0.6"/><path d="M935.7 1349.2L936.6 1348.4L937.2 1346.4L937.5 1343.6L937.8 1340.3L938.1 1337L938.4 1334.2L939.1 1332.2L940 1331.3L948.1 1329.3L947.1 1330.2L946.5 1332.1L946.1 1335L945.8 1338.2L945.5 1341.5L945.1 1344.3L944.5 1346.3L943.6 1347.2Z" fill="#8c8c8c" stroke="#5e5e5e" stroke-width="0.6"/><path d="M952.2 1345L953.1 1344.2L953.7 1342.2L954.2 1339.4L954.5 1336.1L954.8 1332.8L955.3 1330L956 1328.1L956.9 1327.2L965.1 1325.4L964.2 1326.3L963.5 1328.2L962.9 1331L962.5 1334.3L962.2 1337.6L961.7 1340.4L961 1342.3L960.1 1343.2Z" fill="#8c8c8c" stroke="#5e5e5e" stroke-width="0.6"/><path d="M968.7 1341.3L969.6 1340.5L970.3 1338.6L970.8 1335.8L971.3 1332.5L971.8 1329.2L972.4 1326.5L973.1 1324.5L974.1 1323.7L982.5 1322.3L981.5 1323.1L980.7 1325L980 1327.8L979.4 1331L978.9 1334.3L978.3 1337.1L977.6 1339L976.6 1339.8Z" fill="#8c8c8c" stroke="#5e5e5e" stroke-width="0.6"/><path d="M985.2 1338.4L986.2 1337.6L986.9 1335.7L987.6 1333L988.3 1329.7L988.9 1326.5L989.7 1323.7L990.6 1321.9L991.6 1321.1L1000 1320.2L998.9 1321L998 1322.8L997.2 1325.6L996.5 1328.8L995.7 1332L995 1334.7L994.1 1336.6L993.1 1337.3Z" fill="#8c8c8c" stroke="#5e5e5e" stroke-width="0.6"/><path d="M1001.9 1336.4L1002.9 1335.7L1003.8 1333.8L1004.6 1331.1L1005.4 1327.9L1006.2 1324.7L1007 1322L1007.9 1320.1L1008.9 1319.4L1017 1318.6L1016 1319.3L1015.1 1321.2L1014.3 1323.9L1013.6 1327.1L1012.8 1330.3L1012 1333L1011.1 1334.9L1010.1 1335.6Z" fill="#8c8c8c" stroke="#5e5e5e" stroke-width="0.6"/><path d="M1019.1 1334.7L1020.1 1334L1021 1332.1L1021.8 1329.3L1022.5 1326.1L1023.1 1322.9L1023.8 1320.1L1024.6 1318.2L1025.5 1317.5L1033.3 1316.1L1032.4 1316.9L1031.7 1318.9L1031.2 1321.6L1030.6 1324.9L1030.1 1328.1L1029.4 1330.9L1028.6 1332.8L1027.6 1333.6Z" fill="#8c8c8c" stroke="#5e5e5e" stroke-width="0.6"/><path d="M1036.8 1332L1037.8 1331.2L1038.5 1329.2L1039 1326.4L1039.4 1323.1L1039.8 1319.9L1040.2 1317.1L1040.8 1315.1L1041.7 1314.3L1049.5 1312.3L1048.6 1313.1L1048.1 1315.1L1047.7 1317.9L1047.4 1321.2L1047.2 1324.5L1046.7 1327.3L1046.1 1329.3L1045.2 1330.2Z" fill="#8c8c8c" stroke="#5e5e5e" stroke-width="0.6"/><path d="M1054.1 1327.9L1055 1327L1055.5 1325L1055.9 1322.2L1056.1 1318.9L1056.3 1315.6L1056.6 1312.8L1057.1 1310.8L1058 1309.9L1065.9 1307.6L1065 1308.5L1064.5 1310.5L1064.2 1313.3L1064 1316.6L1063.9 1319.9L1063.6 1322.7L1063 1324.7L1062.1 1325.6Z" fill="#8c8c8c" stroke="#5e5e5e" stroke-width="0.6"/><path d="M1070.8 1323.1L1071.6 1322.2L1072.1 1320.2L1072.4 1317.4L1072.6 1314.1L1072.8 1310.8L1073.1 1308L1073.6 1306L1074.5 1305.1L1082.6 1302.9L1081.7 1303.7L1081.1 1305.7L1080.8 1308.6L1080.5 1311.8L1080.3 1315.1L1080 1318L1079.5 1320L1078.6 1320.8Z" fill="#8c8c8c" stroke="#5e5e5e" stroke-width="0.6"/><path d="M1087.1 1318.5L1088 1317.6L1088.6 1315.6L1088.9 1312.8L1089.2 1309.5L1089.4 1306.3L1089.8 1303.4L1090.5 1301.5L1091.4 1300.6L1099.5 1298.6L1098.6 1299.5L1097.9 1301.4L1097.5 1304.2L1097.2 1307.5L1096.9 1310.8L1096.5 1313.6L1095.9 1315.6L1095 1316.5Z" fill="#8c8c8c" stroke="#5e5e5e" stroke-width="0.6"/><path d="M1103.6 1314.3L1104.5 1313.5L1105.1 1311.5L1105.6 1308.7L1105.9 1305.4L1106.2 1302.2L1106.7 1299.3L1107.3 1297.4L1108.3 1296.5L1116.3 1294.7L1115.4 1295.5L1114.8 1297.5L1114.3 1300.3L1113.9 1303.6L1113.6 1306.9L1113.1 1309.7L1112.5 1311.6L1111.6 1312.5Z" fill="#8c8c8c" stroke="#5e5e5e" stroke-width="0.6"/><path d="M1120.2 1310.5L1121.2 1309.7L1121.8 1307.7L1122.3 1304.9L1122.7 1301.6L1123 1298.4L1123.5 1295.5L1124.2 1293.6L1125.1 1292.7L1133.2 1291L1132.2 1291.8L1131.6 1293.8L1131.1 1296.6L1130.7 1299.8L1130.3 1303.1L1129.9 1305.9L1129.2 1307.9L1128.3 1308.7Z" fill="#8c8c8c" stroke="#5e5e5e" stroke-width="0.6"/><path d="M1137 1306.8L1137.9 1305.9L1138.6 1304L1139.1 1301.2L1139.5 1297.9L1139.8 1294.6L1140.3 1291.8L1141 1289.9L1141.9 1289L1150 1287.3L1149 1288.1L1148.4 1290L1147.9 1292.9L1147.5 1296.1L1147.1 1299.4L1146.7 1302.2L1146 1304.2L1145.1 1305Z" fill="#8c8c8c" stroke="#5e5e5e" stroke-width="0.6"/><path d="M1153.8 1303.1L1154.7 1302.2L1155.4 1300.3L1155.9 1297.5L1156.2 1294.2L1156.6 1290.9L1157.1 1288.1L1157.8 1286.2L1158.7 1285.3L1166.8 1283.5L1165.8 1284.4L1165.2 1286.3L1164.7 1289.1L1164.3 1292.4L1163.9 1295.7L1163.5 1298.5L1162.8 1300.5L1161.9 1301.3Z" fill="#8c8c8c" stroke="#5e5e5e" stroke-width="0.6"/><path d="M872.6 1349.1L873.8 1349.4L875.4 1351L877.2 1353.4L879.1 1356.3L881.1 1359.3L882.9 1361.7L884.4 1363.2L885.6 1363.6L894.6 1361.1L893.4 1360.7L891.8 1359.2L890 1356.7L888.1 1353.8L886.1 1350.9L884.3 1348.4L882.8 1346.9L881.6 1346.6Z" fill="#ed1d26" stroke="#6b0d11" stroke-width="1.1" stroke-linejoin="round"/><path d="M872.6 1349.1L873.8 1349.4L875.4 1351L877.2 1353.4L879.1 1356.3L881.1 1359.3L882.9 1361.7L884.4 1363.2L885.6 1363.6L894.6 1361.1L893.4 1360.7L891.8 1359.2L890 1356.7L888.1 1353.8L886.1 1350.9L884.3 1348.4L882.8 1346.9L881.6 1346.6Z" fill="url(#hshade)"/><path d="M889.2 1344.4L890.4 1344.8L892 1346.3L893.8 1348.7L895.7 1351.7L897.6 1354.6L899.4 1357.1L901 1358.6L902.2 1359L911.1 1356.5L909.9 1356.1L908.4 1354.6L906.6 1352.1L904.6 1349.2L902.7 1346.3L900.9 1343.8L899.4 1342.3L898.2 1341.9Z" fill="#eb1f29" stroke="#6a0e13" stroke-width="1.1" stroke-linejoin="round"/><path d="M889.2 1344.4L890.4 1344.8L892 1346.3L893.8 1348.7L895.7 1351.7L897.6 1354.6L899.4 1357.1L901 1358.6L902.2 1359L911.1 1356.5L909.9 1356.1L908.4 1354.6L906.6 1352.1L904.6 1349.2L902.7 1346.3L900.9 1343.8L899.4 1342.3L898.2 1341.9Z" fill="url(#hshade)"/><path d="M905.8 1339.8L907 1340.1L908.6 1341.7L910.4 1344.1L912.3 1347.1L914.2 1350L916 1352.5L917.5 1354L918.7 1354.4L927.6 1352L926.4 1351.6L924.9 1350.1L923.1 1347.6L921.2 1344.7L919.3 1341.7L917.5 1339.2L916 1337.7L914.8 1337.3Z" fill="#ea222d" stroke="#690f14" stroke-width="1.1" stroke-linejoin="round"/><path d="M905.8 1339.8L907 1340.1L908.6 1341.7L910.4 1344.1L912.3 1347.1L914.2 1350L916 1352.5L917.5 1354L918.7 1354.4L927.6 1352L926.4 1351.6L924.9 1350.1L923.1 1347.6L921.2 1344.7L919.3 1341.7L917.5 1339.2L916 1337.7L914.8 1337.3Z" fill="url(#hshade)"/><path d="M922.5 1335.3L923.7 1335.6L925.2 1337.2L927 1339.6L928.9 1342.6L930.8 1345.6L932.5 1348L934.1 1349.6L935.3 1350L944.2 1347.7L943 1347.3L941.5 1345.7L939.7 1343.2L937.9 1340.3L936 1337.3L934.2 1334.8L932.7 1333.2L931.5 1332.9Z" fill="#e82430" stroke="#681016" stroke-width="1.1" stroke-linejoin="round"/><path d="M922.5 1335.3L923.7 1335.6L925.2 1337.2L927 1339.6L928.9 1342.6L930.8 1345.6L932.5 1348L934.1 1349.6L935.3 1350L944.2 1347.7L943 1347.3L941.5 1345.7L939.7 1343.2L937.9 1340.3L936 1337.3L934.2 1334.8L932.7 1333.2L931.5 1332.9Z" fill="url(#hshade)"/><path d="M939.2 1330.9L940.4 1331.3L941.9 1332.8L943.7 1335.3L945.5 1338.3L947.4 1341.3L949.1 1343.8L950.6 1345.4L951.8 1345.8L960.7 1343.7L959.5 1343.3L958 1341.7L956.4 1339.1L954.6 1336.1L952.7 1333.1L951 1330.6L949.5 1329L948.3 1328.6Z" fill="#e32634" stroke="#661118" stroke-width="1.1" stroke-linejoin="round"/><path d="M939.2 1330.9L940.4 1331.3L941.9 1332.8L943.7 1335.3L945.5 1338.3L947.4 1341.3L949.1 1343.8L950.6 1345.4L951.8 1345.8L960.7 1343.7L959.5 1343.3L958 1341.7L956.4 1339.1L954.6 1336.1L952.7 1333.1L951 1330.6L949.5 1329L948.3 1328.6Z" fill="url(#hshade)"/><path d="M956.1 1326.8L957.4 1327.2L958.8 1328.8L960.5 1331.3L962.3 1334.4L964 1337.4L965.7 1340L967.1 1341.6L968.2 1342L977.1 1340.3L976 1339.9L974.6 1338.2L973 1335.6L971.4 1332.5L969.7 1329.4L968.1 1326.8L966.6 1325.2L965.4 1324.8Z" fill="#dd2839" stroke="#63121a" stroke-width="1.1" stroke-linejoin="round"/><path d="M956.1 1326.8L957.4 1327.2L958.8 1328.8L960.5 1331.3L962.3 1334.4L964 1337.4L965.7 1340L967.1 1341.6L968.2 1342L977.1 1340.3L976 1339.9L974.6 1338.2L973 1335.6L971.4 1332.5L969.7 1329.4L968.1 1326.8L966.6 1325.2L965.4 1324.8Z" fill="url(#hshade)"/><path d="M973.4 1323.2L974.6 1323.7L976 1325.4L977.5 1328L979.2 1331.1L980.8 1334.2L982.3 1336.9L983.6 1338.6L984.7 1339.1L993.6 1337.9L992.5 1337.3L991.2 1335.6L989.8 1332.9L988.3 1329.7L986.8 1326.5L985.3 1323.9L984 1322.2L982.8 1321.7Z" fill="#d72b3d" stroke="#61131c" stroke-width="1.1" stroke-linejoin="round"/><path d="M973.4 1323.2L974.6 1323.7L976 1325.4L977.5 1328L979.2 1331.1L980.8 1334.2L982.3 1336.9L983.6 1338.6L984.7 1339.1L993.6 1337.9L992.5 1337.3L991.2 1335.6L989.8 1332.9L988.3 1329.7L986.8 1326.5L985.3 1323.9L984 1322.2L982.8 1321.7Z" fill="url(#hshade)"/><path d="M990.9 1320.6L992.1 1321.1L993.4 1322.9L994.8 1325.6L996.2 1328.8L997.6 1332L999 1334.7L1000.2 1336.5L1001.3 1337.1L1010.6 1336.2L1009.4 1335.6L1008.2 1333.8L1006.8 1331.1L1005.4 1327.9L1004.1 1324.7L1002.7 1321.9L1001.5 1320.1L1000.3 1319.6Z" fill="#d32d42" stroke="#5f141e" stroke-width="1.1" stroke-linejoin="round"/><path d="M990.9 1320.6L992.1 1321.1L993.4 1322.9L994.8 1325.6L996.2 1328.8L997.6 1332L999 1334.7L1000.2 1336.5L1001.3 1337.1L1010.6 1336.2L1009.4 1335.6L1008.2 1333.8L1006.8 1331.1L1005.4 1327.9L1004.1 1324.7L1002.7 1321.9L1001.5 1320.1L1000.3 1319.6Z" fill="url(#hshade)"/><path d="M1008.2 1318.8L1009.3 1319.4L1010.6 1321.2L1011.9 1323.9L1013.3 1327.1L1014.7 1330.4L1016.1 1333.1L1017.4 1334.8L1018.6 1335.4L1028.1 1334.2L1026.9 1333.7L1025.5 1331.9L1024.1 1329.3L1022.5 1326.1L1021.1 1322.9L1019.7 1320.2L1018.4 1318.5L1017.3 1317.9Z" fill="#cf3146" stroke="#5d1620" stroke-width="1.1" stroke-linejoin="round"/><path d="M1008.2 1318.8L1009.3 1319.4L1010.6 1321.2L1011.9 1323.9L1013.3 1327.1L1014.7 1330.4L1016.1 1333.1L1017.4 1334.8L1018.6 1335.4L1028.1 1334.2L1026.9 1333.7L1025.5 1331.9L1024.1 1329.3L1022.5 1326.1L1021.1 1322.9L1019.7 1320.2L1018.4 1318.5L1017.3 1317.9Z" fill="url(#hshade)"/><path d="M1024.9 1316.9L1026 1317.5L1027.3 1319.2L1028.8 1321.8L1030.4 1324.9L1032 1328L1033.6 1330.6L1035.1 1332.3L1036.3 1332.7L1045.7 1330.7L1044.5 1330.3L1043 1328.7L1041.3 1326.2L1039.5 1323.1L1037.7 1320.1L1036.1 1317.5L1034.7 1315.9L1033.6 1315.4Z" fill="#cc344b" stroke="#5c1722" stroke-width="1.1" stroke-linejoin="round"/><path d="M1024.9 1316.9L1026 1317.5L1027.3 1319.2L1028.8 1321.8L1030.4 1324.9L1032 1328L1033.6 1330.6L1035.1 1332.3L1036.3 1332.7L1045.7 1330.7L1044.5 1330.3L1043 1328.7L1041.3 1326.2L1039.5 1323.1L1037.7 1320.1L1036.1 1317.5L1034.7 1315.9L1033.6 1315.4Z" fill="url(#hshade)"/><path d="M1041 1313.8L1042.1 1314.2L1043.6 1315.8L1045.3 1318.3L1047.2 1321.3L1049.1 1324.3L1050.8 1326.7L1052.4 1328.3L1053.6 1328.6L1062.7 1326.1L1061.5 1325.8L1059.9 1324.2L1058.1 1321.8L1056.1 1318.9L1054.2 1315.9L1052.4 1313.5L1050.9 1311.9L1049.7 1311.6Z" fill="#c9374f" stroke="#5a1924" stroke-width="1.1" stroke-linejoin="round"/><path d="M1041 1313.8L1042.1 1314.2L1043.6 1315.8L1045.3 1318.3L1047.2 1321.3L1049.1 1324.3L1050.8 1326.7L1052.4 1328.3L1053.6 1328.6L1062.7 1326.1L1061.5 1325.8L1059.9 1324.2L1058.1 1321.8L1056.1 1318.9L1054.2 1315.9L1052.4 1313.5L1050.9 1311.9L1049.7 1311.6Z" fill="url(#hshade)"/><path d="M1057.2 1309.5L1058.4 1309.8L1060 1311.3L1061.8 1313.8L1063.8 1316.7L1065.7 1319.6L1067.6 1322L1069.1 1323.5L1070.3 1323.9L1079.2 1321.3L1078 1321L1076.4 1319.4L1074.6 1317L1072.7 1314.1L1070.7 1311.2L1068.9 1308.7L1067.3 1307.2L1066.1 1306.9Z" fill="#c73d55" stroke="#5a1b26" stroke-width="1.1" stroke-linejoin="round"/><path d="M1057.2 1309.5L1058.4 1309.8L1060 1311.3L1061.8 1313.8L1063.8 1316.7L1065.7 1319.6L1067.6 1322L1069.1 1323.5L1070.3 1323.9L1079.2 1321.3L1078 1321L1076.4 1319.4L1074.6 1317L1072.7 1314.1L1070.7 1311.2L1068.9 1308.7L1067.3 1307.2L1066.1 1306.9Z" fill="url(#hshade)"/><path d="M1073.7 1304.7L1075 1305L1076.5 1306.5L1078.3 1309L1080.3 1311.9L1082.2 1314.9L1084 1317.3L1085.5 1318.9L1086.7 1319.2L1095.6 1316.9L1094.4 1316.6L1092.9 1315L1091.1 1312.5L1089.3 1309.5L1087.4 1306.6L1085.6 1304.1L1084.1 1302.5L1082.8 1302.2Z" fill="#c6425a" stroke="#591e29" stroke-width="1.1" stroke-linejoin="round"/><path d="M1073.7 1304.7L1075 1305L1076.5 1306.5L1078.3 1309L1080.3 1311.9L1082.2 1314.9L1084 1317.3L1085.5 1318.9L1086.7 1319.2L1095.6 1316.9L1094.4 1316.6L1092.9 1315L1091.1 1312.5L1089.3 1309.5L1087.4 1306.6L1085.6 1304.1L1084.1 1302.5L1082.8 1302.2Z" fill="url(#hshade)"/><path d="M1090.6 1300.1L1091.8 1300.5L1093.3 1302.1L1095.1 1304.6L1096.9 1307.6L1098.8 1310.6L1100.5 1313.1L1102 1314.7L1103.1 1315.1L1112.1 1313L1110.9 1312.6L1109.4 1311L1107.8 1308.4L1106 1305.4L1104.1 1302.4L1102.4 1299.9L1100.9 1298.3L1099.7 1297.9Z" fill="#c54860" stroke="#59202b" stroke-width="1.1" stroke-linejoin="round"/><path d="M1090.6 1300.1L1091.8 1300.5L1093.3 1302.1L1095.1 1304.6L1096.9 1307.6L1098.8 1310.6L1100.5 1313.1L1102 1314.7L1103.1 1315.1L1112.1 1313L1110.9 1312.6L1109.4 1311L1107.8 1308.4L1106 1305.4L1104.1 1302.4L1102.4 1299.9L1100.9 1298.3L1099.7 1297.9Z" fill="url(#hshade)"/><path d="M1107.5 1296.1L1108.7 1296.5L1110.2 1298.1L1111.9 1300.6L1113.7 1303.6L1115.5 1306.7L1117.1 1309.2L1118.6 1310.8L1119.8 1311.2L1128.8 1309.2L1127.6 1308.8L1126.2 1307.2L1124.5 1304.6L1122.7 1301.6L1120.9 1298.6L1119.3 1296L1117.8 1294.4L1116.6 1294Z" fill="#c44e66" stroke="#58232e" stroke-width="1.1" stroke-linejoin="round"/><path d="M1107.5 1296.1L1108.7 1296.5L1110.2 1298.1L1111.9 1300.6L1113.7 1303.6L1115.5 1306.7L1117.1 1309.2L1118.6 1310.8L1119.8 1311.2L1128.8 1309.2L1127.6 1308.8L1126.2 1307.2L1124.5 1304.6L1122.7 1301.6L1120.9 1298.6L1119.3 1296L1117.8 1294.4L1116.6 1294Z" fill="url(#hshade)"/><path d="M1124.4 1292.3L1125.6 1292.7L1127 1294.3L1128.7 1296.9L1130.5 1299.9L1132.2 1302.9L1133.9 1305.5L1135.3 1307.1L1136.5 1307.5L1145.6 1305.5L1144.4 1305.1L1143 1303.5L1141.3 1300.9L1139.5 1297.9L1137.7 1294.9L1136.1 1292.3L1134.6 1290.7L1133.4 1290.3Z" fill="#c3536c" stroke="#582531" stroke-width="1.1" stroke-linejoin="round"/><path d="M1124.4 1292.3L1125.6 1292.7L1127 1294.3L1128.7 1296.9L1130.5 1299.9L1132.2 1302.9L1133.9 1305.5L1135.3 1307.1L1136.5 1307.5L1145.6 1305.5L1144.4 1305.1L1143 1303.5L1141.3 1300.9L1139.5 1297.9L1137.7 1294.9L1136.1 1292.3L1134.6 1290.7L1133.4 1290.3Z" fill="url(#hshade)"/><path d="M1141.2 1288.6L1142.4 1289L1143.8 1290.6L1145.5 1293.2L1147.2 1296.2L1149 1299.2L1150.7 1301.8L1152.1 1303.4L1153.3 1303.8L1162.4 1301.8L1161.2 1301.4L1159.7 1299.8L1158.1 1297.2L1156.3 1294.2L1154.5 1291.1L1152.9 1288.6L1151.4 1287L1150.2 1286.6Z" fill="#c15972" stroke="#572833" stroke-width="1.1" stroke-linejoin="round"/><path d="M1141.2 1288.6L1142.4 1289L1143.8 1290.6L1145.5 1293.2L1147.2 1296.2L1149 1299.2L1150.7 1301.8L1152.1 1303.4L1153.3 1303.8L1162.4 1301.8L1161.2 1301.4L1159.7 1299.8L1158.1 1297.2L1156.3 1294.2L1154.5 1291.1L1152.9 1288.6L1151.4 1287L1150.2 1286.6Z" fill="url(#hshade)"/><path d="M1158 1284.9L1159.1 1285.3L1160.6 1286.9L1162.3 1289.4L1164 1292.5L1165.8 1295.5L1167.5 1298.1L1168.9 1299.7L1170.1 1300.1L1179.2 1298.1L1178 1297.7L1176.5 1296.1L1174.9 1293.5L1173.1 1290.5L1171.3 1287.4L1169.7 1284.9L1168.2 1283.3L1167 1282.9Z" fill="#c05f78" stroke="#572b36" stroke-width="1.1" stroke-linejoin="round"/><path d="M1158 1284.9L1159.1 1285.3L1160.6 1286.9L1162.3 1289.4L1164 1292.5L1165.8 1295.5L1167.5 1298.1L1168.9 1299.7L1170.1 1300.1L1179.2 1298.1L1178 1297.7L1176.5 1296.1L1174.9 1293.5L1173.1 1290.5L1171.3 1287.4L1169.7 1284.9L1168.2 1283.3L1167 1282.9Z" fill="url(#hshade)"/>
<path d="M881.3 1396.5L882 1395.5L882.1 1393.4L881.8 1390.6L881.3 1387.3L880.8 1384.1L880.5 1381.2L880.7 1379.2L881.3 1378.1L888.7 1374.3L888 1375.3L887.9 1377.4L888.1 1380.2L888.6 1383.5L889.1 1386.7L889.4 1389.6L889.3 1391.6L888.6 1392.7Z" fill="#8c8c8c" stroke="#5e5e5e" stroke-width="0.6"/><path d="M896.5 1388.5L897.2 1387.5L897.3 1385.4L897 1382.6L896.5 1379.3L896.1 1376.1L895.8 1373.2L895.9 1371.2L896.6 1370.1L904 1366.3L903.3 1367.4L903.1 1369.4L903.4 1372.3L903.9 1375.5L904.3 1378.8L904.6 1381.6L904.5 1383.7L903.8 1384.7Z" fill="#8c8c8c" stroke="#5e5e5e" stroke-width="0.6"/><path d="M911.7 1380.6L912.4 1379.6L912.5 1377.5L912.3 1374.7L911.8 1371.4L911.4 1368.2L911.1 1365.3L911.3 1363.3L912 1362.2L919.4 1358.5L918.7 1359.5L918.5 1361.6L918.7 1364.4L919.2 1367.7L919.6 1371L919.9 1373.8L919.7 1375.9L919 1376.9Z" fill="#8c8c8c" stroke="#5e5e5e" stroke-width="0.6"/><path d="M927 1372.9L927.6 1371.9L927.8 1369.8L927.6 1367L927.2 1363.7L926.8 1360.4L926.6 1357.6L926.8 1355.5L927.5 1354.5L935 1350.9L934.3 1351.9L934.1 1354L934.2 1356.8L934.6 1360.1L935 1363.4L935.2 1366.2L935 1368.3L934.3 1369.3Z" fill="#8c8c8c" stroke="#5e5e5e" stroke-width="0.6"/><path d="M942.3 1365.4L943 1364.4L943.2 1362.4L943 1359.5L942.7 1356.2L942.3 1353L942.2 1350.1L942.4 1348.1L943.1 1347L950.7 1343.5L949.9 1344.6L949.7 1346.6L949.8 1349.5L950.2 1352.7L950.5 1356L950.6 1358.9L950.4 1360.9L949.7 1361.9Z" fill="#8c8c8c" stroke="#5e5e5e" stroke-width="0.6"/><path d="M957.8 1358.2L958.5 1357.2L958.7 1355.1L958.6 1352.3L958.3 1349L958 1345.7L957.8 1342.9L958.1 1340.8L958.8 1339.8L966.3 1336.4L965.6 1337.4L965.4 1339.4L965.5 1342.3L965.8 1345.6L966.1 1348.8L966.2 1351.7L966 1353.7L965.3 1354.8Z" fill="#8c8c8c" stroke="#5e5e5e" stroke-width="0.6"/><path d="M973.4 1351L974.1 1350L974.4 1348L974.2 1345.1L973.9 1341.8L973.6 1338.6L973.5 1335.7L973.7 1333.7L974.4 1332.7L981.9 1329.2L981.2 1330.2L981 1332.3L981.1 1335.1L981.4 1338.4L981.8 1341.7L981.9 1344.5L981.6 1346.6L980.9 1347.6Z" fill="#8c8c8c" stroke="#5e5e5e" stroke-width="0.6"/><path d="M989.1 1343.8L989.8 1342.8L990 1340.8L989.9 1337.9L989.5 1334.6L989.2 1331.4L989 1328.5L989.3 1326.5L990 1325.4L997.3 1321.9L996.7 1322.9L996.5 1325L996.6 1327.8L997 1331.1L997.4 1334.4L997.5 1337.2L997.3 1339.3L996.6 1340.3Z" fill="#8c8c8c" stroke="#5e5e5e" stroke-width="0.6"/><path d="M1004.7 1336.4L1005.4 1335.4L1005.6 1333.3L1005.5 1330.5L1005.1 1327.2L1004.7 1323.9L1004.5 1321.1L1004.6 1319L1005.3 1318L1012.7 1314.4L1012 1315.4L1011.8 1317.5L1012.1 1320.3L1012.5 1323.6L1012.9 1326.8L1013.1 1329.7L1012.9 1331.7L1012.2 1332.8Z" fill="#8c8c8c" stroke="#5e5e5e" stroke-width="0.6"/><path d="M1020.3 1328.8L1021 1327.8L1021.1 1325.7L1020.9 1322.8L1020.5 1319.6L1020 1316.3L1019.8 1313.5L1020 1311.4L1020.6 1310.4L1028 1306.7L1027.3 1307.7L1027.1 1309.8L1027.4 1312.6L1027.8 1315.9L1028.3 1319.1L1028.5 1322L1028.4 1324L1027.7 1325.1Z" fill="#8c8c8c" stroke="#5e5e5e" stroke-width="0.6"/><path d="M1035.7 1321L1036.4 1319.9L1036.5 1317.9L1036.3 1315L1035.8 1311.8L1035.3 1308.5L1035.1 1305.7L1035.2 1303.6L1035.9 1302.6L1043.2 1298.8L1042.5 1299.8L1042.4 1301.9L1042.6 1304.7L1043.1 1308L1043.6 1311.2L1043.9 1314.1L1043.7 1316.1L1043.1 1317.2Z" fill="#8c8c8c" stroke="#5e5e5e" stroke-width="0.6"/><path d="M1051 1313.1L1051.7 1312L1051.8 1309.9L1051.6 1307.1L1051.1 1303.8L1050.6 1300.6L1050.3 1297.8L1050.5 1295.7L1051.1 1294.6L1058.5 1290.8L1057.8 1291.9L1057.7 1293.9L1057.9 1296.8L1058.4 1300L1058.9 1303.3L1059.1 1306.1L1059 1308.2L1058.3 1309.2Z" fill="#8c8c8c" stroke="#5e5e5e" stroke-width="0.6"/><path d="M1066.2 1305.1L1066.9 1304.1L1067.1 1302L1066.8 1299.2L1066.3 1295.9L1065.9 1292.7L1065.7 1289.8L1065.8 1287.8L1066.5 1286.7L1074 1283L1073.3 1284L1073.1 1286.1L1073.3 1289L1073.7 1292.2L1074.1 1295.5L1074.4 1298.3L1074.2 1300.4L1073.5 1301.4Z" fill="#8c8c8c" stroke="#5e5e5e" stroke-width="0.6"/><path d="M1081.5 1297.5L1082.1 1296.4L1082.3 1294.4L1082.1 1291.5L1081.7 1288.3L1081.4 1285L1081.2 1282.2L1081.4 1280.1L1082.1 1279.1L1089.8 1275.5L1089 1276.6L1088.8 1278.6L1088.9 1281.5L1089.2 1284.7L1089.5 1288L1089.7 1290.9L1089.5 1292.9L1088.8 1293.9Z" fill="#8c8c8c" stroke="#5e5e5e" stroke-width="0.6"/><path d="M1096.8 1290.2L1097.5 1289.2L1097.7 1287.2L1097.6 1284.3L1097.3 1281.1L1097.1 1277.8L1097 1274.9L1097.3 1272.9L1098.1 1271.9L1105.8 1268.6L1105 1269.6L1104.7 1271.7L1104.7 1274.5L1104.9 1277.8L1105.2 1281.1L1105.2 1283.9L1104.9 1286L1104.2 1287Z" fill="#8c8c8c" stroke="#5e5e5e" stroke-width="0.6"/><path d="M1112.3 1283.5L1113.1 1282.6L1113.4 1280.5L1113.4 1277.7L1113.2 1274.4L1113 1271.1L1113.1 1268.3L1113.4 1266.2L1114.2 1265.2L1122 1262.2L1121.2 1263.2L1120.8 1265.2L1120.8 1268.1L1120.9 1271.4L1121 1274.7L1121 1277.5L1120.6 1279.5L1119.9 1280.5Z" fill="#8c8c8c" stroke="#5e5e5e" stroke-width="0.6"/><path d="M1128.1 1277.3L1128.9 1276.3L1129.3 1274.3L1129.3 1271.5L1129.2 1268.2L1129.2 1264.9L1129.2 1262L1129.6 1260L1130.4 1259L1138.2 1256.2L1137.4 1257.1L1137 1259.2L1136.9 1262L1137 1265.3L1137 1268.6L1137 1271.4L1136.6 1273.5L1135.8 1274.4Z" fill="#8c8c8c" stroke="#5e5e5e" stroke-width="0.6"/><path d="M1144.1 1271.4L1144.9 1270.4L1145.3 1268.4L1145.4 1265.5L1145.4 1262.2L1145.3 1258.9L1145.5 1256.1L1145.9 1254.1L1146.7 1253.1L1154.5 1250.3L1153.7 1251.3L1153.2 1253.3L1153.1 1256.2L1153.2 1259.4L1153.2 1262.7L1153.1 1265.6L1152.7 1267.6L1151.9 1268.6Z" fill="#8c8c8c" stroke="#5e5e5e" stroke-width="0.6"/><path d="M880.5 1377.9L881.8 1377.9L883.6 1379.1L885.9 1381.1L888.4 1383.6L890.9 1386.1L893.2 1388.1L895 1389.3L896.2 1389.4L904.5 1385.1L903.2 1385L901.4 1383.8L899.1 1381.8L896.6 1379.3L894.1 1376.8L891.8 1374.8L890 1373.6L888.7 1373.5Z" fill="#2e2ea1" stroke="#151548" stroke-width="1.1" stroke-linejoin="round"/><path d="M880.5 1377.9L881.8 1377.9L883.6 1379.1L885.9 1381.1L888.4 1383.6L890.9 1386.1L893.2 1388.1L895 1389.3L896.2 1389.4L904.5 1385.1L903.2 1385L901.4 1383.8L899.1 1381.8L896.6 1379.3L894.1 1376.8L891.8 1374.8L890 1373.6L888.7 1373.5Z" fill="url(#hshade)"/><path d="M895.8 1369.9L897 1370L898.9 1371.1L901.1 1373.2L903.6 1375.6L906.1 1378.1L908.4 1380.2L910.2 1381.3L911.4 1381.5L919.7 1377.2L918.4 1377.1L916.6 1375.9L914.4 1373.9L911.9 1371.4L909.4 1368.9L907.1 1366.9L905.3 1365.7L904.1 1365.6Z" fill="#3838a9" stroke="#19194c" stroke-width="1.1" stroke-linejoin="round"/><path d="M895.8 1369.9L897 1370L898.9 1371.1L901.1 1373.2L903.6 1375.6L906.1 1378.1L908.4 1380.2L910.2 1381.3L911.4 1381.5L919.7 1377.2L918.4 1377.1L916.6 1375.9L914.4 1373.9L911.9 1371.4L909.4 1368.9L907.1 1366.9L905.3 1365.7L904.1 1365.6Z" fill="url(#hshade)"/><path d="M911.1 1362L912.4 1362.1L914.2 1363.3L916.5 1365.3L918.9 1367.8L921.4 1370.3L923.6 1372.4L925.4 1373.6L926.7 1373.7L934.9 1369.6L933.7 1369.5L931.9 1368.3L929.7 1366.2L927.3 1363.7L924.8 1361.1L922.6 1359.1L920.8 1357.9L919.5 1357.8Z" fill="#4242b2" stroke="#1e1e50" stroke-width="1.1" stroke-linejoin="round"/><path d="M911.1 1362L912.4 1362.1L914.2 1363.3L916.5 1365.3L918.9 1367.8L921.4 1370.3L923.6 1372.4L925.4 1373.6L926.7 1373.7L934.9 1369.6L933.7 1369.5L931.9 1368.3L929.7 1366.2L927.3 1363.7L924.8 1361.1L922.6 1359.1L920.8 1357.9L919.5 1357.8Z" fill="url(#hshade)"/><path d="M926.7 1354.2L927.9 1354.3L929.7 1355.6L931.9 1357.7L934.4 1360.2L936.8 1362.8L939 1364.8L940.8 1366.1L942 1366.2L950.3 1362.3L949.1 1362.2L947.3 1360.9L945.1 1358.8L942.7 1356.2L940.3 1353.6L938.2 1351.5L936.4 1350.3L935.1 1350.1Z" fill="#4e4eba" stroke="#232354" stroke-width="1.1" stroke-linejoin="round"/><path d="M926.7 1354.2L927.9 1354.3L929.7 1355.6L931.9 1357.7L934.4 1360.2L936.8 1362.8L939 1364.8L940.8 1366.1L942 1366.2L950.3 1362.3L949.1 1362.2L947.3 1360.9L945.1 1358.8L942.7 1356.2L940.3 1353.6L938.2 1351.5L936.4 1350.3L935.1 1350.1Z" fill="url(#hshade)"/><path d="M942.3 1346.7L943.6 1346.9L945.4 1348.2L947.5 1350.3L949.9 1352.9L952.3 1355.4L954.5 1357.6L956.2 1358.8L957.5 1359L965.9 1355.1L964.6 1355L962.9 1353.7L960.7 1351.6L958.3 1349L956 1346.4L953.8 1344.2L952 1343L950.8 1342.8Z" fill="#5e5ec2" stroke="#2a2a57" stroke-width="1.1" stroke-linejoin="round"/><path d="M942.3 1346.7L943.6 1346.9L945.4 1348.2L947.5 1350.3L949.9 1352.9L952.3 1355.4L954.5 1357.6L956.2 1358.8L957.5 1359L965.9 1355.1L964.6 1355L962.9 1353.7L960.7 1351.6L958.3 1349L956 1346.4L953.8 1344.2L952 1343L950.8 1342.8Z" fill="url(#hshade)"/><path d="M958 1339.5L959.2 1339.7L961 1340.9L963.2 1343.1L965.5 1345.7L967.9 1348.3L970.1 1350.4L971.8 1351.7L973.1 1351.8L981.6 1348L980.3 1347.8L978.5 1346.5L976.4 1344.4L974 1341.8L971.6 1339.2L969.5 1337.1L967.7 1335.8L966.4 1335.6Z" fill="#6f6fc9" stroke="#32325b" stroke-width="1.1" stroke-linejoin="round"/><path d="M958 1339.5L959.2 1339.7L961 1340.9L963.2 1343.1L965.5 1345.7L967.9 1348.3L970.1 1350.4L971.8 1351.7L973.1 1351.8L981.6 1348L980.3 1347.8L978.5 1346.5L976.4 1344.4L974 1341.8L971.6 1339.2L969.5 1337.1L967.7 1335.8L966.4 1335.6Z" fill="url(#hshade)"/><path d="M973.6 1332.4L974.9 1332.5L976.6 1333.8L978.8 1335.9L981.2 1338.5L983.6 1341.1L985.7 1343.2L987.5 1344.5L988.8 1344.6L997.2 1340.7L996 1340.5L994.2 1339.3L992 1337.2L989.6 1334.6L987.2 1332L985 1329.9L983.3 1328.6L982 1328.5Z" fill="#8080d1" stroke="#39395e" stroke-width="1.1" stroke-linejoin="round"/><path d="M973.6 1332.4L974.9 1332.5L976.6 1333.8L978.8 1335.9L981.2 1338.5L983.6 1341.1L985.7 1343.2L987.5 1344.5L988.8 1344.6L997.2 1340.7L996 1340.5L994.2 1339.3L992 1337.2L989.6 1334.6L987.2 1332L985 1329.9L983.3 1328.6L982 1328.5Z" fill="url(#hshade)"/><path d="M989.1 1325.1L990.4 1325.3L992.2 1326.6L994.3 1328.7L996.8 1331.2L999.2 1333.8L1001.4 1335.9L1003.2 1337.1L1004.4 1337.2L1012.8 1333.1L1011.6 1333L1009.8 1331.8L1007.6 1329.7L1005.1 1327.2L1002.7 1324.6L1000.5 1322.6L998.7 1321.3L997.5 1321.2Z" fill="#8d8dd6" stroke="#3f3f60" stroke-width="1.1" stroke-linejoin="round"/><path d="M989.1 1325.1L990.4 1325.3L992.2 1326.6L994.3 1328.7L996.8 1331.2L999.2 1333.8L1001.4 1335.9L1003.2 1337.1L1004.4 1337.2L1012.8 1333.1L1011.6 1333L1009.8 1331.8L1007.6 1329.7L1005.1 1327.2L1002.7 1324.6L1000.5 1322.6L998.7 1321.3L997.5 1321.2Z" fill="url(#hshade)"/><path d="M1004.5 1317.7L1005.8 1317.9L1007.6 1319.1L1009.8 1321.2L1012.2 1323.7L1014.7 1326.2L1016.9 1328.3L1018.7 1329.5L1020 1329.6L1028.3 1325.4L1027.1 1325.3L1025.2 1324.1L1023 1322.1L1020.5 1319.6L1018.1 1317L1015.8 1315L1014 1313.8L1012.8 1313.6Z" fill="#9898da" stroke="#444462" stroke-width="1.1" stroke-linejoin="round"/><path d="M1004.5 1317.7L1005.8 1317.9L1007.6 1319.1L1009.8 1321.2L1012.2 1323.7L1014.7 1326.2L1016.9 1328.3L1018.7 1329.5L1020 1329.6L1028.3 1325.4L1027.1 1325.3L1025.2 1324.1L1023 1322.1L1020.5 1319.6L1018.1 1317L1015.8 1315L1014 1313.8L1012.8 1313.6Z" fill="url(#hshade)"/><path d="M1019.8 1310.1L1021.1 1310.2L1022.9 1311.4L1025.1 1313.5L1027.6 1316L1030.1 1318.5L1032.3 1320.5L1034.1 1321.7L1035.4 1321.8L1043.7 1317.5L1042.4 1317.4L1040.6 1316.3L1038.4 1314.2L1035.9 1311.7L1033.4 1309.3L1031.1 1307.2L1029.3 1306L1028 1305.9Z" fill="#a3a3de" stroke="#494964" stroke-width="1.1" stroke-linejoin="round"/><path d="M1019.8 1310.1L1021.1 1310.2L1022.9 1311.4L1025.1 1313.5L1027.6 1316L1030.1 1318.5L1032.3 1320.5L1034.1 1321.7L1035.4 1321.8L1043.7 1317.5L1042.4 1317.4L1040.6 1316.3L1038.4 1314.2L1035.9 1311.7L1033.4 1309.3L1031.1 1307.2L1029.3 1306L1028 1305.9Z" fill="url(#hshade)"/><path d="M1035.1 1302.3L1036.3 1302.4L1038.1 1303.6L1040.4 1305.6L1042.9 1308.1L1045.4 1310.6L1047.7 1312.6L1049.5 1313.8L1050.7 1313.9L1059 1309.6L1057.7 1309.5L1055.9 1308.3L1053.6 1306.3L1051.1 1303.8L1048.6 1301.3L1046.4 1299.3L1044.5 1298.1L1043.3 1298Z" fill="#aeaee2" stroke="#4e4e66" stroke-width="1.1" stroke-linejoin="round"/><path d="M1035.1 1302.3L1036.3 1302.4L1038.1 1303.6L1040.4 1305.6L1042.9 1308.1L1045.4 1310.6L1047.7 1312.6L1049.5 1313.8L1050.7 1313.9L1059 1309.6L1057.7 1309.5L1055.9 1308.3L1053.6 1306.3L1051.1 1303.8L1048.6 1301.3L1046.4 1299.3L1044.5 1298.1L1043.3 1298Z" fill="url(#hshade)"/><path d="M1050.3 1294.4L1051.6 1294.5L1053.4 1295.7L1055.6 1297.7L1058.1 1300.2L1060.6 1302.6L1062.9 1304.7L1064.7 1305.9L1066 1306L1074.2 1301.8L1072.9 1301.7L1071.1 1300.5L1068.9 1298.4L1066.4 1295.9L1063.9 1293.4L1061.7 1291.4L1059.8 1290.2L1058.6 1290.1Z" fill="#b1abdd" stroke="#504d63" stroke-width="1.1" stroke-linejoin="round"/><path d="M1050.3 1294.4L1051.6 1294.5L1053.4 1295.7L1055.6 1297.7L1058.1 1300.2L1060.6 1302.6L1062.9 1304.7L1064.7 1305.9L1066 1306L1074.2 1301.8L1072.9 1301.7L1071.1 1300.5L1068.9 1298.4L1066.4 1295.9L1063.9 1293.4L1061.7 1291.4L1059.8 1290.2L1058.6 1290.1Z" fill="url(#hshade)"/><path d="M1065.7 1286.5L1066.9 1286.6L1068.8 1287.8L1071 1289.8L1073.5 1292.3L1075.9 1294.9L1078.1 1296.9L1079.9 1298.2L1081.2 1298.3L1089.4 1294.3L1088.2 1294.2L1086.4 1292.9L1084.2 1290.8L1081.8 1288.2L1079.4 1285.7L1077.2 1283.6L1075.3 1282.4L1074.1 1282.3Z" fill="#b4a8d8" stroke="#514c61" stroke-width="1.1" stroke-linejoin="round"/><path d="M1065.7 1286.5L1066.9 1286.6L1068.8 1287.8L1071 1289.8L1073.5 1292.3L1075.9 1294.9L1078.1 1296.9L1079.9 1298.2L1081.2 1298.3L1089.4 1294.3L1088.2 1294.2L1086.4 1292.9L1084.2 1290.8L1081.8 1288.2L1079.4 1285.7L1077.2 1283.6L1075.3 1282.4L1074.1 1282.3Z" fill="url(#hshade)"/><path d="M1081.3 1278.8L1082.6 1278.9L1084.4 1280.2L1086.6 1282.3L1088.9 1284.9L1091.3 1287.4L1093.5 1289.6L1095.2 1290.9L1096.5 1291L1104.8 1287.4L1103.6 1287.2L1101.8 1285.8L1099.7 1283.7L1097.4 1281L1095.1 1278.4L1092.9 1276.2L1091.2 1275L1089.9 1274.8Z" fill="#b6a6d3" stroke="#524b5f" stroke-width="1.1" stroke-linejoin="round"/><path d="M1081.3 1278.8L1082.6 1278.9L1084.4 1280.2L1086.6 1282.3L1088.9 1284.9L1091.3 1287.4L1093.5 1289.6L1095.2 1290.9L1096.5 1291L1104.8 1287.4L1103.6 1287.2L1101.8 1285.8L1099.7 1283.7L1097.4 1281L1095.1 1278.4L1092.9 1276.2L1091.2 1275L1089.9 1274.8Z" fill="url(#hshade)"/><path d="M1097.3 1271.6L1098.5 1271.7L1100.3 1273.1L1102.4 1275.2L1104.7 1277.9L1107 1280.6L1109 1282.8L1110.7 1284.1L1112 1284.3L1120.5 1280.9L1119.2 1280.7L1117.6 1279.3L1115.5 1277.1L1113.3 1274.4L1111 1271.7L1109 1269.4L1107.2 1268.1L1106 1267.9Z" fill="#b9a1cb" stroke="#53485b" stroke-width="1.1" stroke-linejoin="round"/><path d="M1097.3 1271.6L1098.5 1271.7L1100.3 1273.1L1102.4 1275.2L1104.7 1277.9L1107 1280.6L1109 1282.8L1110.7 1284.1L1112 1284.3L1120.5 1280.9L1119.2 1280.7L1117.6 1279.3L1115.5 1277.1L1113.3 1274.4L1111 1271.7L1109 1269.4L1107.2 1268.1L1106 1267.9Z" fill="url(#hshade)"/><path d="M1113.4 1264.9L1114.7 1265.1L1116.4 1266.5L1118.4 1268.7L1120.6 1271.5L1122.8 1274.2L1124.9 1276.5L1126.5 1277.9L1127.8 1278.1L1136.4 1274.8L1135.1 1274.6L1133.5 1273.2L1131.5 1270.9L1129.3 1268.2L1127.1 1265.4L1125.1 1263.1L1123.4 1261.7L1122.2 1261.5Z" fill="#bb99bf" stroke="#544556" stroke-width="1.1" stroke-linejoin="round"/><path d="M1113.4 1264.9L1114.7 1265.1L1116.4 1266.5L1118.4 1268.7L1120.6 1271.5L1122.8 1274.2L1124.9 1276.5L1126.5 1277.9L1127.8 1278.1L1136.4 1274.8L1135.1 1274.6L1133.5 1273.2L1131.5 1270.9L1129.3 1268.2L1127.1 1265.4L1125.1 1263.1L1123.4 1261.7L1122.2 1261.5Z" fill="url(#hshade)"/><path d="M1129.6 1258.7L1130.9 1258.9L1132.6 1260.3L1134.6 1262.6L1136.7 1265.4L1138.9 1268.2L1140.9 1270.5L1142.5 1271.9L1143.8 1272.1L1152.5 1269L1151.2 1268.7L1149.6 1267.3L1147.6 1265L1145.4 1262.2L1143.3 1259.4L1141.3 1257.1L1139.7 1255.7L1138.4 1255.5Z" fill="#bd91b2" stroke="#554150" stroke-width="1.1" stroke-linejoin="round"/><path d="M1129.6 1258.7L1130.9 1258.9L1132.6 1260.3L1134.6 1262.6L1136.7 1265.4L1138.9 1268.2L1140.9 1270.5L1142.5 1271.9L1143.8 1272.1L1152.5 1269L1151.2 1268.7L1149.6 1267.3L1147.6 1265L1145.4 1262.2L1143.3 1259.4L1141.3 1257.1L1139.7 1255.7L1138.4 1255.5Z" fill="url(#hshade)"/>
<path d="M1201.6 1290L1202.9 1290L1204.7 1289.1L1207 1287.4L1209.5 1285.3L1212.1 1283.1L1214.3 1281.4L1216.2 1280.5L1217.4 1280.5L1224.5 1284.8L1223.2 1284.7L1221.4 1285.7L1219.1 1287.4L1216.6 1289.5L1214.1 1291.6L1211.8 1293.3L1210 1294.3L1208.7 1294.3Z" fill="#8c8c8c" stroke="#5e5e5e" stroke-width="0.6"/><path d="M1216.4 1298.9L1217.6 1298.9L1219.5 1297.9L1221.7 1296.2L1224.3 1294.1L1226.8 1292L1229.1 1290.3L1230.9 1289.3L1232.1 1289.4L1239.2 1293.6L1238 1293.6L1236.1 1294.6L1233.9 1296.3L1231.3 1298.4L1228.8 1300.5L1226.5 1302.2L1224.7 1303.2L1223.5 1303.1Z" fill="#8c8c8c" stroke="#5e5e5e" stroke-width="0.6"/><path d="M1231.1 1307.7L1232.4 1307.8L1234.2 1306.8L1236.5 1305.1L1239 1303L1241.5 1300.9L1243.8 1299.2L1245.6 1298.2L1246.9 1298.2L1254 1302.5L1252.7 1302.5L1250.9 1303.4L1248.6 1305.1L1246.1 1307.2L1243.6 1309.4L1241.3 1311.1L1239.4 1312L1238.2 1312Z" fill="#8c8c8c" stroke="#5e5e5e" stroke-width="0.6"/><path d="M1245.9 1316.6L1247.1 1316.6L1248.9 1315.7L1251.2 1314L1253.7 1311.8L1256.3 1309.7L1258.5 1308L1260.4 1307.1L1261.6 1307.1L1268.7 1311.3L1267.5 1311.3L1265.6 1312.3L1263.3 1314L1260.8 1316.1L1258.3 1318.2L1256 1319.9L1254.2 1320.9L1252.9 1320.9Z" fill="#8c8c8c" stroke="#5e5e5e" stroke-width="0.6"/><path d="M1260.6 1325.5L1261.9 1325.5L1263.7 1324.5L1266 1322.8L1268.5 1320.7L1271 1318.6L1273.3 1316.9L1275.1 1315.9L1276.4 1315.9L1283.4 1320.2L1282.2 1320.1L1280.4 1321.1L1278.1 1322.8L1275.6 1324.9L1273.1 1327.1L1270.8 1328.8L1269 1329.7L1267.7 1329.7Z" fill="#8c8c8c" stroke="#5e5e5e" stroke-width="0.6"/><path d="M1275.4 1334.3L1276.6 1334.3L1278.5 1333.4L1280.7 1331.6L1283.3 1329.5L1285.8 1327.4L1288 1325.7L1289.9 1324.7L1291.1 1324.7L1298.2 1328.9L1296.9 1328.9L1295.1 1329.9L1292.9 1331.6L1290.4 1333.7L1287.9 1335.9L1285.6 1337.6L1283.8 1338.6L1282.5 1338.5Z" fill="#8c8c8c" stroke="#5e5e5e" stroke-width="0.6"/><path d="M1290.3 1343.1L1291.5 1343.1L1293.4 1342.1L1295.6 1340.4L1298.1 1338.2L1300.6 1336.1L1302.8 1334.3L1304.6 1333.3L1305.8 1333.3L1312.9 1337.2L1311.7 1337.2L1309.9 1338.3L1307.7 1340.1L1305.3 1342.3L1302.8 1344.5L1300.6 1346.3L1298.8 1347.3L1297.5 1347.3Z" fill="#8c8c8c" stroke="#5e5e5e" stroke-width="0.6"/><path d="M1305.5 1351.7L1306.8 1351.6L1308.6 1350.6L1310.8 1348.8L1313.2 1346.5L1315.6 1344.2L1317.7 1342.4L1319.4 1341.3L1320.7 1341.2L1327.9 1344.7L1326.7 1344.9L1325 1346L1322.9 1347.9L1320.5 1350.2L1318.2 1352.6L1316 1354.4L1314.3 1355.5L1313 1355.6Z" fill="#8c8c8c" stroke="#5e5e5e" stroke-width="0.6"/><path d="M1321.3 1359.6L1322.5 1359.5L1324.3 1358.4L1326.4 1356.4L1328.6 1354.1L1330.9 1351.6L1332.9 1349.7L1334.6 1348.5L1335.8 1348.3L1343.3 1351.5L1342 1351.7L1340.4 1352.9L1338.4 1354.9L1336.2 1357.3L1334 1359.8L1331.9 1361.8L1330.2 1363L1329 1363.1Z" fill="#8c8c8c" stroke="#5e5e5e" stroke-width="0.6"/><path d="M1337.4 1366.7L1338.6 1366.5L1340.3 1365.3L1342.3 1363.2L1344.5 1360.8L1346.6 1358.3L1348.6 1356.2L1350.3 1355L1351.5 1354.8L1359.2 1357.9L1357.9 1358.1L1356.3 1359.3L1354.3 1361.4L1352.1 1363.9L1350 1366.3L1348 1368.4L1346.3 1369.6L1345.1 1369.8Z" fill="#8c8c8c" stroke="#5e5e5e" stroke-width="0.6"/><path d="M1353.4 1373.1L1354.6 1373L1356.2 1371.7L1358.2 1369.7L1360.4 1367.2L1362.6 1364.8L1364.6 1362.7L1366.3 1361.5L1367.5 1361.4L1375.3 1364.7L1374 1364.8L1372.3 1366L1370.2 1368L1368 1370.4L1365.8 1372.9L1363.8 1374.9L1362.1 1376.1L1360.9 1376.2Z" fill="#8c8c8c" stroke="#5e5e5e" stroke-width="0.6"/><path d="M1368.9 1379.7L1370.1 1379.6L1371.8 1378.4L1373.9 1376.5L1376.2 1374.1L1378.5 1371.7L1380.6 1369.8L1382.3 1368.7L1383.6 1368.6L1391.1 1372.3L1389.8 1372.4L1388.1 1373.5L1386 1375.3L1383.6 1377.7L1381.3 1380L1379.2 1381.9L1377.4 1383L1376.2 1383.1Z" fill="#8c8c8c" stroke="#5e5e5e" stroke-width="0.6"/><path d="M1384.1 1387L1385.4 1386.9L1387.1 1385.8L1389.3 1383.9L1391.6 1381.6L1394 1379.3L1396.1 1377.5L1397.9 1376.4L1399.1 1376.3L1406.4 1380L1405.2 1380L1403.5 1381.2L1401.3 1383L1399 1385.4L1396.6 1387.7L1394.5 1389.5L1392.7 1390.6L1391.5 1390.7Z" fill="#8c8c8c" stroke="#5e5e5e" stroke-width="0.6"/><path d="M1399.6 1394.7L1400.8 1394.6L1402.6 1393.5L1404.7 1391.6L1407 1389.3L1409.3 1386.9L1411.4 1385L1413.1 1383.9L1414.3 1383.7L1421.6 1387L1420.4 1387.2L1418.8 1388.4L1416.8 1390.4L1414.5 1392.8L1412.2 1395.2L1410.2 1397.1L1408.4 1398.3L1407.2 1398.4Z" fill="#8c8c8c" stroke="#5e5e5e" stroke-width="0.6"/><path d="M1415.6 1402.1L1416.9 1402L1418.6 1400.8L1420.6 1398.7L1422.7 1396.3L1424.9 1393.8L1426.8 1391.7L1428.4 1390.4L1429.6 1390.2L1437.2 1392.9L1436 1393.2L1434.4 1394.5L1432.5 1396.6L1430.5 1399.2L1428.4 1401.7L1426.5 1403.8L1424.8 1405.1L1423.5 1405.3Z" fill="#8c8c8c" stroke="#5e5e5e" stroke-width="0.6"/><path d="M1432.2 1408.4L1433.5 1408.2L1435.1 1406.9L1436.9 1404.7L1438.9 1402.1L1440.9 1399.4L1442.7 1397.3L1444.3 1395.9L1445.5 1395.6L1453.3 1398L1452.1 1398.3L1450.5 1399.7L1448.7 1401.9L1446.8 1404.6L1444.9 1407.2L1443 1409.4L1441.5 1410.8L1440.2 1411Z" fill="#8c8c8c" stroke="#5e5e5e" stroke-width="0.6"/><path d="M1202.5 1270.8L1203 1271.9L1203 1274.1L1202.4 1277.1L1201.6 1280.5L1200.8 1283.9L1200.3 1286.9L1200.2 1289.1L1200.8 1290.2L1208.8 1295L1208.2 1293.9L1208.2 1291.7L1208.8 1288.7L1209.6 1285.3L1210.4 1281.9L1210.9 1278.9L1211 1276.7L1210.4 1275.6Z" fill="#c2a4c7" stroke="#574a5a" stroke-width="1.1" stroke-linejoin="round"/><path d="M1202.5 1270.8L1203 1271.9L1203 1274.1L1202.4 1277.1L1201.6 1280.5L1200.8 1283.9L1200.3 1286.9L1200.2 1289.1L1200.8 1290.2L1208.8 1295L1208.2 1293.9L1208.2 1291.7L1208.8 1288.7L1209.6 1285.3L1210.4 1281.9L1210.9 1278.9L1211 1276.7L1210.4 1275.6Z" fill="url(#hshade)"/><path d="M1217.2 1279.7L1217.8 1280.8L1217.7 1283L1217.2 1285.9L1216.4 1289.4L1215.6 1292.8L1215 1295.8L1215 1298L1215.5 1299.1L1223.5 1303.9L1222.9 1302.7L1223 1300.6L1223.5 1297.6L1224.3 1294.2L1225.1 1290.7L1225.7 1287.8L1225.7 1285.6L1225.1 1284.4Z" fill="#bfaad1" stroke="#564c5e" stroke-width="1.1" stroke-linejoin="round"/><path d="M1217.2 1279.7L1217.8 1280.8L1217.7 1283L1217.2 1285.9L1216.4 1289.4L1215.6 1292.8L1215 1295.8L1215 1298L1215.5 1299.1L1223.5 1303.9L1222.9 1302.7L1223 1300.6L1223.5 1297.6L1224.3 1294.2L1225.1 1290.7L1225.7 1287.8L1225.7 1285.6L1225.1 1284.4Z" fill="url(#hshade)"/><path d="M1231.9 1288.5L1232.5 1289.7L1232.4 1291.8L1231.9 1294.8L1231.1 1298.2L1230.3 1301.7L1229.8 1304.6L1229.7 1306.8L1230.3 1308L1238.2 1312.7L1237.7 1311.6L1237.7 1309.4L1238.3 1306.5L1239.1 1303L1239.9 1299.6L1240.4 1296.6L1240.5 1294.4L1239.9 1293.3Z" fill="#bcafda" stroke="#554f62" stroke-width="1.1" stroke-linejoin="round"/><path d="M1231.9 1288.5L1232.5 1289.7L1232.4 1291.8L1231.9 1294.8L1231.1 1298.2L1230.3 1301.7L1229.8 1304.6L1229.7 1306.8L1230.3 1308L1238.2 1312.7L1237.7 1311.6L1237.7 1309.4L1238.3 1306.5L1239.1 1303L1239.9 1299.6L1240.4 1296.6L1240.5 1294.4L1239.9 1293.3Z" fill="url(#hshade)"/><path d="M1246.7 1297.4L1247.2 1298.5L1247.2 1300.7L1246.6 1303.7L1245.8 1307.1L1245 1310.5L1244.5 1313.5L1244.4 1315.7L1245 1316.8L1253 1321.6L1252.4 1320.5L1252.5 1318.3L1253 1315.3L1253.8 1311.9L1254.6 1308.5L1255.1 1305.5L1255.2 1303.3L1254.6 1302.2Z" fill="#bab1de" stroke="#545064" stroke-width="1.1" stroke-linejoin="round"/><path d="M1246.7 1297.4L1247.2 1298.5L1247.2 1300.7L1246.6 1303.7L1245.8 1307.1L1245 1310.5L1244.5 1313.5L1244.4 1315.7L1245 1316.8L1253 1321.6L1252.4 1320.5L1252.5 1318.3L1253 1315.3L1253.8 1311.9L1254.6 1308.5L1255.1 1305.5L1255.2 1303.3L1254.6 1302.2Z" fill="url(#hshade)"/><path d="M1261.4 1306.2L1262 1307.4L1261.9 1309.5L1261.4 1312.5L1260.6 1316L1259.8 1319.4L1259.3 1322.4L1259.2 1324.5L1259.8 1325.7L1267.7 1330.4L1267.2 1329.3L1267.2 1327.1L1267.8 1324.2L1268.6 1320.7L1269.4 1317.3L1269.9 1314.3L1269.9 1312.1L1269.4 1311Z" fill="#b7b3e1" stroke="#525065" stroke-width="1.1" stroke-linejoin="round"/><path d="M1261.4 1306.2L1262 1307.4L1261.9 1309.5L1261.4 1312.5L1260.6 1316L1259.8 1319.4L1259.3 1322.4L1259.2 1324.5L1259.8 1325.7L1267.7 1330.4L1267.2 1329.3L1267.2 1327.1L1267.8 1324.2L1268.6 1320.7L1269.4 1317.3L1269.9 1314.3L1269.9 1312.1L1269.4 1311Z" fill="url(#hshade)"/><path d="M1276.1 1315.1L1276.7 1316.2L1276.7 1318.4L1276.1 1321.4L1275.3 1324.8L1274.5 1328.2L1274 1331.2L1274 1333.4L1274.5 1334.5L1282.6 1339.3L1282 1338.2L1282 1336L1282.5 1333L1283.3 1329.6L1284.1 1326.1L1284.6 1323.1L1284.7 1321L1284.1 1319.8Z" fill="#b4b4e4" stroke="#515167" stroke-width="1.1" stroke-linejoin="round"/><path d="M1276.1 1315.1L1276.7 1316.2L1276.7 1318.4L1276.1 1321.4L1275.3 1324.8L1274.5 1328.2L1274 1331.2L1274 1333.4L1274.5 1334.5L1282.6 1339.3L1282 1338.2L1282 1336L1282.5 1333L1283.3 1329.6L1284.1 1326.1L1284.6 1323.1L1284.7 1321L1284.1 1319.8Z" fill="url(#hshade)"/><path d="M1290.9 1323.9L1291.5 1325L1291.4 1327.2L1290.9 1330.2L1290.1 1333.6L1289.4 1337L1288.9 1340L1288.8 1342.2L1289.4 1343.3L1297.6 1348L1297 1346.9L1297 1344.7L1297.4 1341.7L1298.2 1338.3L1298.9 1334.8L1299.4 1331.8L1299.4 1329.7L1298.8 1328.5Z" fill="#adade3" stroke="#4e4e66" stroke-width="1.1" stroke-linejoin="round"/><path d="M1290.9 1323.9L1291.5 1325L1291.4 1327.2L1290.9 1330.2L1290.1 1333.6L1289.4 1337L1288.9 1340L1288.8 1342.2L1289.4 1343.3L1297.6 1348L1297 1346.9L1297 1344.7L1297.4 1341.7L1298.2 1338.3L1298.9 1334.8L1299.4 1331.8L1299.4 1329.7L1298.8 1328.5Z" fill="url(#hshade)"/><path d="M1305.6 1332.4L1306.2 1333.5L1306.2 1335.7L1305.7 1338.7L1305 1342.1L1304.4 1345.6L1304 1348.6L1304 1350.8L1304.7 1351.9L1313.1 1356.3L1312.4 1355.2L1312.3 1353L1312.6 1350L1313.2 1346.5L1313.8 1343.1L1314.2 1340.1L1314.2 1337.9L1313.6 1336.8Z" fill="#a6a6e1" stroke="#4b4b65" stroke-width="1.1" stroke-linejoin="round"/><path d="M1305.6 1332.4L1306.2 1333.5L1306.2 1335.7L1305.7 1338.7L1305 1342.1L1304.4 1345.6L1304 1348.6L1304 1350.8L1304.7 1351.9L1313.1 1356.3L1312.4 1355.2L1312.3 1353L1312.6 1350L1313.2 1346.5L1313.8 1343.1L1314.2 1340.1L1314.2 1337.9L1313.6 1336.8Z" fill="url(#hshade)"/><path d="M1320.4 1340.4L1321 1341.5L1321.1 1343.6L1320.8 1346.6L1320.3 1350.1L1319.8 1353.6L1319.5 1356.6L1319.7 1358.8L1320.4 1359.9L1329.1 1363.8L1328.4 1362.8L1328.1 1360.6L1328.3 1357.6L1328.7 1354.1L1329.1 1350.6L1329.3 1347.6L1329.2 1345.4L1328.5 1344.4Z" fill="#9f9fe0" stroke="#474765" stroke-width="1.1" stroke-linejoin="round"/><path d="M1320.4 1340.4L1321 1341.5L1321.1 1343.6L1320.8 1346.6L1320.3 1350.1L1319.8 1353.6L1319.5 1356.6L1319.7 1358.8L1320.4 1359.9L1329.1 1363.8L1328.4 1362.8L1328.1 1360.6L1328.3 1357.6L1328.7 1354.1L1329.1 1350.6L1329.3 1347.6L1329.2 1345.4L1328.5 1344.4Z" fill="url(#hshade)"/><path d="M1335.5 1347.5L1336.2 1348.6L1336.4 1350.7L1336.3 1353.7L1335.9 1357.2L1335.6 1360.7L1335.5 1363.8L1335.8 1366L1336.6 1367L1345.2 1370.5L1344.5 1369.5L1344.2 1367.3L1344.3 1364.3L1344.5 1360.8L1344.8 1357.3L1344.9 1354.3L1344.6 1352.1L1343.9 1351.1Z" fill="#8e8eda" stroke="#404062" stroke-width="1.1" stroke-linejoin="round"/><path d="M1335.5 1347.5L1336.2 1348.6L1336.4 1350.7L1336.3 1353.7L1335.9 1357.2L1335.6 1360.7L1335.5 1363.8L1335.8 1366L1336.6 1367L1345.2 1370.5L1344.5 1369.5L1344.2 1367.3L1344.3 1364.3L1344.5 1360.8L1344.8 1357.3L1344.9 1354.3L1344.6 1352.1L1343.9 1351.1Z" fill="url(#hshade)"/><path d="M1351.1 1354L1351.9 1355L1352.2 1357.2L1352.1 1360.2L1351.9 1363.8L1351.6 1367.3L1351.5 1370.3L1351.8 1372.5L1352.6 1373.5L1361 1377L1360.3 1375.9L1360.1 1373.8L1360.2 1370.7L1360.5 1367.2L1360.7 1363.7L1360.8 1360.7L1360.5 1358.5L1359.8 1357.5Z" fill="#7d7dd4" stroke="#383860" stroke-width="1.1" stroke-linejoin="round"/><path d="M1351.1 1354L1351.9 1355L1352.2 1357.2L1352.1 1360.2L1351.9 1363.8L1351.6 1367.3L1351.5 1370.3L1351.8 1372.5L1352.6 1373.5L1361 1377L1360.3 1375.9L1360.1 1373.8L1360.2 1370.7L1360.5 1367.2L1360.7 1363.7L1360.8 1360.7L1360.5 1358.5L1359.8 1357.5Z" fill="url(#hshade)"/><path d="M1367.2 1360.6L1367.9 1361.6L1368.2 1363.8L1368.1 1366.8L1367.8 1370.3L1367.4 1373.8L1367.2 1376.8L1367.4 1379L1368.1 1380L1376.3 1383.8L1375.7 1382.8L1375.5 1380.6L1375.8 1377.6L1376.2 1374.1L1376.7 1370.6L1376.9 1367.6L1376.6 1365.4L1375.9 1364.3Z" fill="#6c6cce" stroke="#31315d" stroke-width="1.1" stroke-linejoin="round"/><path d="M1367.2 1360.6L1367.9 1361.6L1368.2 1363.8L1368.1 1366.8L1367.8 1370.3L1367.4 1373.8L1367.2 1376.8L1367.4 1379L1368.1 1380L1376.3 1383.8L1375.7 1382.8L1375.5 1380.6L1375.8 1377.6L1376.2 1374.1L1376.7 1370.6L1376.9 1367.6L1376.6 1365.4L1375.9 1364.3Z" fill="url(#hshade)"/><path d="M1383.3 1367.8L1384 1368.8L1384.1 1371L1383.9 1374.1L1383.4 1377.5L1382.8 1381L1382.5 1384L1382.7 1386.2L1383.3 1387.3L1391.6 1391.4L1390.9 1390.3L1390.8 1388.2L1391.1 1385.2L1391.7 1381.7L1392.2 1378.2L1392.5 1375.2L1392.4 1373L1391.7 1371.9Z" fill="#5a5ac3" stroke="#292958" stroke-width="1.1" stroke-linejoin="round"/><path d="M1383.3 1367.8L1384 1368.8L1384.1 1371L1383.9 1374.1L1383.4 1377.5L1382.8 1381L1382.5 1384L1382.7 1386.2L1383.3 1387.3L1391.6 1391.4L1390.9 1390.3L1390.8 1388.2L1391.1 1385.2L1391.7 1381.7L1392.2 1378.2L1392.5 1375.2L1392.4 1373L1391.7 1371.9Z" fill="url(#hshade)"/><path d="M1398.8 1375.5L1399.5 1376.6L1399.6 1378.7L1399.3 1381.8L1398.7 1385.2L1398.2 1388.7L1397.9 1391.7L1398.1 1393.9L1398.7 1395L1407.3 1399.1L1406.6 1398L1406.4 1395.8L1406.6 1392.8L1407.1 1389.3L1407.6 1385.8L1407.8 1382.8L1407.7 1380.7L1407.1 1379.6Z" fill="#4848b7" stroke="#202053" stroke-width="1.1" stroke-linejoin="round"/><path d="M1398.8 1375.5L1399.5 1376.6L1399.6 1378.7L1399.3 1381.8L1398.7 1385.2L1398.2 1388.7L1397.9 1391.7L1398.1 1393.9L1398.7 1395L1407.3 1399.1L1406.6 1398L1406.4 1395.8L1406.6 1392.8L1407.1 1389.3L1407.6 1385.8L1407.8 1382.8L1407.7 1380.7L1407.1 1379.6Z" fill="url(#hshade)"/><path d="M1414 1382.9L1414.7 1384L1414.9 1386.1L1414.7 1389.2L1414.3 1392.7L1413.9 1396.2L1413.7 1399.2L1414 1401.4L1414.8 1402.4L1423.7 1406L1422.9 1405L1422.6 1402.8L1422.6 1399.8L1422.8 1396.3L1423.1 1392.8L1423.2 1389.8L1422.9 1387.6L1422.2 1386.6Z" fill="#3a3aaf" stroke="#1a1a4f" stroke-width="1.1" stroke-linejoin="round"/><path d="M1414 1382.9L1414.7 1384L1414.9 1386.1L1414.7 1389.2L1414.3 1392.7L1413.9 1396.2L1413.7 1399.2L1414 1401.4L1414.8 1402.4L1423.7 1406L1422.9 1405L1422.6 1402.8L1422.6 1399.8L1422.8 1396.3L1423.1 1392.8L1423.2 1389.8L1422.9 1387.6L1422.2 1386.6Z" fill="url(#hshade)"/><path d="M1429.3 1389.4L1430 1390.4L1430.3 1392.6L1430.3 1395.6L1430.2 1399.1L1430.1 1402.6L1430.2 1405.6L1430.6 1407.8L1431.4 1408.8L1440.5 1411.8L1439.6 1410.8L1439.2 1408.7L1439 1405.6L1439 1402.1L1439 1398.6L1438.9 1395.6L1438.5 1393.4L1437.7 1392.5Z" fill="#3535aa" stroke="#18184d" stroke-width="1.1" stroke-linejoin="round"/><path d="M1429.3 1389.4L1430 1390.4L1430.3 1392.6L1430.3 1395.6L1430.2 1399.1L1430.1 1402.6L1430.2 1405.6L1430.6 1407.8L1431.4 1408.8L1440.5 1411.8L1439.6 1410.8L1439.2 1408.7L1439 1405.6L1439 1402.1L1439 1398.6L1438.9 1395.6L1438.5 1393.4L1437.7 1392.5Z" fill="url(#hshade)"/><path d="M1445.1 1394.9L1445.9 1395.8L1446.3 1397.9L1446.5 1401L1446.5 1404.5L1446.6 1408L1446.8 1411L1447.3 1413.2L1448.1 1414.1L1457.1 1416.8L1456.2 1415.8L1455.7 1413.7L1455.5 1410.7L1455.4 1407.2L1455.4 1403.6L1455.1 1400.6L1454.7 1398.5L1453.8 1397.5Z" fill="#2f2fa6" stroke="#15154b" stroke-width="1.1" stroke-linejoin="round"/><path d="M1445.1 1394.9L1445.9 1395.8L1446.3 1397.9L1446.5 1401L1446.5 1404.5L1446.6 1408L1446.8 1411L1447.3 1413.2L1448.1 1414.1L1457.1 1416.8L1456.2 1415.8L1455.7 1413.7L1455.5 1410.7L1455.4 1407.2L1455.4 1403.6L1455.1 1400.6L1454.7 1398.5L1453.8 1397.5Z" fill="url(#hshade)"/>
<path d="M1214.8 1261.3L1216 1261.1L1217.6 1259.9L1219.5 1257.8L1221.7 1255.2L1223.8 1252.7L1225.7 1250.7L1227.4 1249.4L1228.6 1249.2L1236.4 1252.3L1235.2 1252.5L1233.5 1253.7L1231.5 1255.8L1229.3 1258.2L1227.2 1260.7L1225.2 1262.8L1223.6 1264.1L1222.4 1264.3Z" fill="#8c8c8c" stroke="#5e5e5e" stroke-width="0.6"/><path d="M1230.5 1267.5L1231.8 1267.3L1233.4 1266.1L1235.4 1264.1L1237.6 1261.7L1239.8 1259.2L1241.9 1257.2L1243.6 1256.1L1244.9 1255.9L1252.6 1259.5L1251.3 1259.6L1249.6 1260.7L1247.5 1262.6L1245.2 1265L1242.9 1267.4L1240.8 1269.4L1239.2 1270.5L1237.9 1270.7Z" fill="#8c8c8c" stroke="#5e5e5e" stroke-width="0.6"/><path d="M1245.8 1274.3L1247 1274.2L1248.7 1273.1L1250.8 1271.2L1253.2 1268.9L1255.6 1266.7L1257.8 1264.8L1259.6 1263.8L1260.9 1263.8L1268.3 1268L1267.1 1267.9L1265.2 1268.9L1263 1270.7L1260.5 1272.8L1258 1275L1255.8 1276.8L1254.1 1277.9L1252.9 1277.9Z" fill="#8c8c8c" stroke="#5e5e5e" stroke-width="0.6"/><path d="M1260.4 1282.2L1261.6 1282.2L1263.4 1281.2L1265.6 1279.5L1268.2 1277.4L1270.7 1275.3L1273.1 1273.6L1274.9 1272.7L1276.2 1272.8L1283.3 1277.4L1282 1277.3L1280.1 1278.2L1277.8 1279.8L1275.1 1281.8L1272.6 1283.8L1270.2 1285.5L1268.4 1286.4L1267.2 1286.4Z" fill="#8c8c8c" stroke="#5e5e5e" stroke-width="0.6"/><path d="M1274.5 1291.1L1275.7 1291.2L1277.6 1290.3L1280 1288.7L1282.6 1286.8L1285.2 1284.8L1287.6 1283.2L1289.5 1282.4L1290.8 1282.5L1297.6 1287.3L1296.3 1287.2L1294.4 1288L1292 1289.5L1289.4 1291.5L1286.7 1293.4L1284.3 1295L1282.4 1295.8L1281.2 1295.7Z" fill="#8c8c8c" stroke="#5e5e5e" stroke-width="0.6"/><path d="M1288.5 1300.8L1289.7 1300.9L1291.6 1300.1L1294 1298.5L1296.7 1296.6L1299.4 1294.7L1301.8 1293.2L1303.7 1292.4L1304.9 1292.5L1311.6 1297.3L1310.4 1297.1L1308.5 1298L1306.1 1299.5L1303.4 1301.4L1300.7 1303.3L1298.3 1304.9L1296.4 1305.7L1295.2 1305.6Z" fill="#8c8c8c" stroke="#5e5e5e" stroke-width="0.6"/><path d="M1302.5 1310.7L1303.7 1310.9L1305.6 1310L1308 1308.5L1310.7 1306.6L1313.4 1304.7L1315.8 1303.1L1317.7 1302.3L1318.9 1302.4L1325.6 1307.1L1324.4 1307L1322.5 1307.9L1320.1 1309.4L1317.5 1311.3L1314.8 1313.3L1312.4 1314.8L1310.5 1315.6L1309.3 1315.5Z" fill="#8c8c8c" stroke="#5e5e5e" stroke-width="0.6"/><path d="M1316.6 1320.7L1317.8 1320.8L1319.7 1319.9L1322.1 1318.4L1324.8 1316.5L1327.4 1314.5L1329.8 1313L1331.7 1312.1L1333 1312.2L1339.7 1317L1338.5 1316.9L1336.6 1317.7L1334.2 1319.2L1331.6 1321.2L1328.9 1323.1L1326.5 1324.7L1324.6 1325.5L1323.4 1325.4Z" fill="#8c8c8c" stroke="#5e5e5e" stroke-width="0.6"/><path d="M1330.7 1330.5L1332 1330.6L1333.9 1329.8L1336.2 1328.2L1338.9 1326.3L1341.6 1324.3L1343.9 1322.8L1345.8 1321.9L1347.1 1322L1353.9 1326.7L1352.6 1326.6L1350.7 1327.5L1348.3 1329L1345.7 1331L1343 1332.9L1340.6 1334.5L1338.8 1335.3L1337.5 1335.2Z" fill="#8c8c8c" stroke="#5e5e5e" stroke-width="0.6"/><path d="M1344.9 1340.3L1346.1 1340.4L1348 1339.6L1350.4 1338L1353 1336.1L1355.7 1334.1L1358.1 1332.6L1360 1331.7L1361.2 1331.8L1368 1336.5L1366.8 1336.4L1364.9 1337.3L1362.5 1338.8L1359.8 1340.8L1357.2 1342.7L1354.8 1344.3L1352.9 1345.1L1351.7 1345Z" fill="#8c8c8c" stroke="#5e5e5e" stroke-width="0.6"/><path d="M1359 1350.1L1360.3 1350.2L1362.1 1349.4L1364.5 1347.8L1367.2 1345.9L1369.9 1343.9L1372.2 1342.4L1374.1 1341.5L1375.4 1341.6L1382.2 1346.4L1380.9 1346.3L1379 1347.1L1376.6 1348.6L1374 1350.6L1371.3 1352.5L1368.9 1354.1L1367 1354.9L1365.8 1354.8Z" fill="#8c8c8c" stroke="#5e5e5e" stroke-width="0.6"/><path d="M1373.1 1359.9L1374.3 1360L1376.2 1359.2L1378.6 1357.6L1381.3 1355.7L1384 1353.8L1386.4 1352.3L1388.3 1351.5L1389.5 1351.6L1396.3 1356.4L1395 1356.3L1393.1 1357.1L1390.7 1358.6L1388 1360.5L1385.3 1362.4L1382.9 1363.9L1381 1364.8L1379.8 1364.6Z" fill="#8c8c8c" stroke="#5e5e5e" stroke-width="0.6"/><path d="M1387 1369.8L1388.3 1369.9L1390.2 1369.1L1392.6 1367.6L1395.3 1365.7L1398 1363.8L1400.4 1362.3L1402.3 1361.6L1403.6 1361.7L1410.3 1366.7L1409 1366.5L1407.1 1367.3L1404.7 1368.7L1401.9 1370.6L1399.2 1372.5L1396.8 1374L1394.9 1374.8L1393.7 1374.6Z" fill="#8c8c8c" stroke="#5e5e5e" stroke-width="0.6"/><path d="M1400.8 1379.9L1402 1380L1403.9 1379.3L1406.4 1377.8L1409.1 1376L1411.8 1374.1L1414.3 1372.7L1416.2 1372L1417.5 1372.2L1424.1 1377.4L1422.8 1377.2L1420.9 1377.9L1418.4 1379.2L1415.6 1381L1412.9 1382.8L1410.4 1384.2L1408.5 1385L1407.3 1384.8Z" fill="#8c8c8c" stroke="#5e5e5e" stroke-width="0.6"/><path d="M1414.1 1390.2L1415.4 1390.4L1417.3 1389.7L1419.8 1388.4L1422.6 1386.6L1425.4 1384.9L1427.9 1383.6L1429.9 1382.9L1431.1 1383.2L1437.5 1388.7L1436.3 1388.5L1434.3 1389.1L1431.8 1390.3L1428.9 1392L1426 1393.6L1423.5 1394.9L1421.6 1395.6L1420.4 1395.4Z" fill="#8c8c8c" stroke="#5e5e5e" stroke-width="0.6"/><path d="M1426.9 1401.1L1428.1 1401.3L1430.1 1400.7L1432.7 1399.5L1435.6 1397.9L1438.5 1396.4L1441.1 1395.2L1443.1 1394.7L1444.3 1395L1450.3 1400.8L1449.1 1400.5L1447.1 1401L1444.5 1402.1L1441.6 1403.6L1438.6 1405.1L1436 1406.3L1434 1406.8L1432.9 1406.5Z" fill="#8c8c8c" stroke="#5e5e5e" stroke-width="0.6"/><path d="M1439.2 1412.6L1440.4 1412.9L1442.4 1412.4L1445 1411.3L1447.9 1409.9L1450.9 1408.4L1453.5 1407.3L1455.5 1406.8L1456.7 1407.2L1462.6 1413.1L1461.4 1412.7L1459.4 1413.2L1456.7 1414.3L1453.8 1415.7L1450.8 1417.2L1448.2 1418.2L1446.1 1418.7L1445 1418.4Z" fill="#8c8c8c" stroke="#5e5e5e" stroke-width="0.6"/><path d="M1212 1242.3L1212.8 1243.3L1213.2 1245.4L1213.2 1248.5L1213 1252L1212.9 1255.5L1212.9 1258.5L1213.2 1260.7L1214 1261.7L1222.6 1265L1221.8 1264L1221.5 1261.8L1221.5 1258.8L1221.7 1255.3L1221.9 1251.8L1221.9 1248.7L1221.6 1246.6L1220.8 1245.6Z" fill="#c15f79" stroke="#572b36" stroke-width="1.1" stroke-linejoin="round"/><path d="M1212 1242.3L1212.8 1243.3L1213.2 1245.4L1213.2 1248.5L1213 1252L1212.9 1255.5L1212.9 1258.5L1213.2 1260.7L1214 1261.7L1222.6 1265L1221.8 1264L1221.5 1261.8L1221.5 1258.8L1221.7 1255.3L1221.9 1251.8L1221.9 1248.7L1221.6 1246.6L1220.8 1245.6Z" fill="url(#hshade)"/><path d="M1228.3 1248.4L1229 1249.4L1229.4 1251.6L1229.3 1254.6L1229.1 1258.1L1228.8 1261.7L1228.8 1264.7L1229 1266.8L1229.8 1267.9L1238.1 1271.4L1237.4 1270.4L1237.2 1268.2L1237.3 1265.2L1237.7 1261.7L1238 1258.2L1238.1 1255.1L1237.8 1253L1237.1 1251.9Z" fill="#c3546e" stroke="#582632" stroke-width="1.1" stroke-linejoin="round"/><path d="M1228.3 1248.4L1229 1249.4L1229.4 1251.6L1229.3 1254.6L1229.1 1258.1L1228.8 1261.7L1228.8 1264.7L1229 1266.8L1229.8 1267.9L1238.1 1271.4L1237.4 1270.4L1237.2 1268.2L1237.3 1265.2L1237.7 1261.7L1238 1258.2L1238.1 1255.1L1237.8 1253L1237.1 1251.9Z" fill="url(#hshade)"/><path d="M1244.5 1255.1L1245.3 1256.2L1245.5 1258.4L1245.3 1261.4L1244.9 1264.9L1244.5 1268.4L1244.2 1271.4L1244.3 1273.6L1245 1274.6L1252.9 1278.7L1252.3 1277.6L1252.3 1275.4L1252.7 1272.4L1253.3 1269L1253.8 1265.5L1254.1 1262.4L1254 1260.3L1253.3 1259.2Z" fill="#c64a64" stroke="#59212d" stroke-width="1.1" stroke-linejoin="round"/><path d="M1244.5 1255.1L1245.3 1256.2L1245.5 1258.4L1245.3 1261.4L1244.9 1264.9L1244.5 1268.4L1244.2 1271.4L1244.3 1273.6L1245 1274.6L1252.9 1278.7L1252.3 1277.6L1252.3 1275.4L1252.7 1272.4L1253.3 1269L1253.8 1265.5L1254.1 1262.4L1254 1260.3L1253.3 1259.2Z" fill="url(#hshade)"/><path d="M1260.6 1262.9L1261.3 1264L1261.3 1266.2L1260.9 1269.3L1260.2 1272.7L1259.5 1276.1L1259 1279.1L1259 1281.3L1259.5 1282.4L1267.2 1287.1L1266.7 1286L1266.8 1283.8L1267.4 1280.8L1268.2 1277.4L1269.1 1274L1269.6 1271L1269.6 1268.8L1269 1267.7Z" fill="#c8405a" stroke="#5a1d28" stroke-width="1.1" stroke-linejoin="round"/><path d="M1260.6 1262.9L1261.3 1264L1261.3 1266.2L1260.9 1269.3L1260.2 1272.7L1259.5 1276.1L1259 1279.1L1259 1281.3L1259.5 1282.4L1267.2 1287.1L1266.7 1286L1266.8 1283.8L1267.4 1280.8L1268.2 1277.4L1269.1 1274L1269.6 1271L1269.6 1268.8L1269 1267.7Z" fill="url(#hshade)"/><path d="M1276 1271.9L1276.5 1273.1L1276.5 1275.3L1275.8 1278.3L1274.9 1281.6L1274 1285L1273.3 1288L1273.1 1290.2L1273.7 1291.3L1281.2 1296.4L1280.7 1295.3L1280.9 1293.1L1281.6 1290.2L1282.6 1286.8L1283.6 1283.4L1284.3 1280.5L1284.5 1278.3L1283.9 1277.1Z" fill="#c93b55" stroke="#5b1b26" stroke-width="1.1" stroke-linejoin="round"/><path d="M1276 1271.9L1276.5 1273.1L1276.5 1275.3L1275.8 1278.3L1274.9 1281.6L1274 1285L1273.3 1288L1273.1 1290.2L1273.7 1291.3L1281.2 1296.4L1280.7 1295.3L1280.9 1293.1L1281.6 1290.2L1282.6 1286.8L1283.6 1283.4L1284.3 1280.5L1284.5 1278.3L1283.9 1277.1Z" fill="url(#hshade)"/><path d="M1290.6 1281.7L1291.1 1282.8L1290.9 1285L1290.2 1287.9L1289.2 1291.3L1288.1 1294.7L1287.3 1297.6L1287.1 1299.8L1287.6 1300.9L1295.2 1306.3L1294.7 1305.1L1294.9 1303L1295.7 1300L1296.7 1296.7L1297.8 1293.3L1298.6 1290.4L1298.8 1288.2L1298.3 1287Z" fill="#ca3750" stroke="#5b1924" stroke-width="1.1" stroke-linejoin="round"/><path d="M1290.6 1281.7L1291.1 1282.8L1290.9 1285L1290.2 1287.9L1289.2 1291.3L1288.1 1294.7L1287.3 1297.6L1287.1 1299.8L1287.6 1300.9L1295.2 1306.3L1294.7 1305.1L1294.9 1303L1295.7 1300L1296.7 1296.7L1297.8 1293.3L1298.6 1290.4L1298.8 1288.2L1298.3 1287Z" fill="url(#hshade)"/><path d="M1304.8 1291.6L1305.2 1292.8L1305 1295L1304.2 1297.9L1303.2 1301.3L1302.1 1304.6L1301.4 1307.5L1301.1 1309.7L1301.6 1310.9L1309.2 1316.3L1308.7 1315.1L1309 1312.9L1309.7 1310L1310.8 1306.6L1311.8 1303.3L1312.6 1300.3L1312.8 1298.2L1312.3 1297Z" fill="#cb324a" stroke="#5c1721" stroke-width="1.1" stroke-linejoin="round"/><path d="M1304.8 1291.6L1305.2 1292.8L1305 1295L1304.2 1297.9L1303.2 1301.3L1302.1 1304.6L1301.4 1307.5L1301.1 1309.7L1301.6 1310.9L1309.2 1316.3L1308.7 1315.1L1309 1312.9L1309.7 1310L1310.8 1306.6L1311.8 1303.3L1312.6 1300.3L1312.8 1298.2L1312.3 1297Z" fill="url(#hshade)"/><path d="M1318.8 1301.5L1319.2 1302.7L1319 1304.9L1318.3 1307.8L1317.2 1311.2L1316.2 1314.5L1315.4 1317.5L1315.2 1319.6L1315.7 1320.8L1323.4 1326.1L1322.9 1325L1323.1 1322.8L1323.8 1319.9L1324.8 1316.5L1325.9 1313.1L1326.6 1310.2L1326.8 1308L1326.3 1306.9Z" fill="#cd2f47" stroke="#5c1520" stroke-width="1.1" stroke-linejoin="round"/><path d="M1318.8 1301.5L1319.2 1302.7L1319 1304.9L1318.3 1307.8L1317.2 1311.2L1316.2 1314.5L1315.4 1317.5L1315.2 1319.6L1315.7 1320.8L1323.4 1326.1L1322.9 1325L1323.1 1322.8L1323.8 1319.9L1324.8 1316.5L1325.9 1313.1L1326.6 1310.2L1326.8 1308L1326.3 1306.9Z" fill="url(#hshade)"/><path d="M1332.8 1311.4L1333.3 1312.6L1333.1 1314.7L1332.4 1317.7L1331.3 1321L1330.3 1324.4L1329.6 1327.3L1329.4 1329.5L1329.9 1330.7L1337.5 1336L1337 1334.8L1337.2 1332.6L1337.9 1329.7L1339 1326.3L1340 1323L1340.7 1320L1340.9 1317.8L1340.4 1316.7Z" fill="#d02e44" stroke="#5d151f" stroke-width="1.1" stroke-linejoin="round"/><path d="M1332.8 1311.4L1333.3 1312.6L1333.1 1314.7L1332.4 1317.7L1331.3 1321L1330.3 1324.4L1329.6 1327.3L1329.4 1329.5L1329.9 1330.7L1337.5 1336L1337 1334.8L1337.2 1332.6L1337.9 1329.7L1339 1326.3L1340 1323L1340.7 1320L1340.9 1317.8L1340.4 1316.7Z" fill="url(#hshade)"/><path d="M1346.9 1321.2L1347.4 1322.4L1347.2 1324.5L1346.5 1327.5L1345.5 1330.8L1344.4 1334.2L1343.7 1337.1L1343.5 1339.3L1344 1340.5L1351.7 1345.8L1351.2 1344.6L1351.4 1342.4L1352.1 1339.5L1353.1 1336.1L1354.1 1332.7L1354.9 1329.8L1355 1327.6L1354.5 1326.5Z" fill="#d22d42" stroke="#5e141e" stroke-width="1.1" stroke-linejoin="round"/><path d="M1346.9 1321.2L1347.4 1322.4L1347.2 1324.5L1346.5 1327.5L1345.5 1330.8L1344.4 1334.2L1343.7 1337.1L1343.5 1339.3L1344 1340.5L1351.7 1345.8L1351.2 1344.6L1351.4 1342.4L1352.1 1339.5L1353.1 1336.1L1354.1 1332.7L1354.9 1329.8L1355 1327.6L1354.5 1326.5Z" fill="url(#hshade)"/><path d="M1361 1331L1361.6 1332.1L1361.4 1334.3L1360.6 1337.2L1359.6 1340.6L1358.6 1344L1357.9 1346.9L1357.7 1349.1L1358.2 1350.3L1365.8 1355.5L1365.3 1354.4L1365.5 1352.2L1366.2 1349.3L1367.2 1345.9L1368.3 1342.5L1369 1339.6L1369.2 1337.4L1368.7 1336.3Z" fill="#d42c40" stroke="#5f141d" stroke-width="1.1" stroke-linejoin="round"/><path d="M1361 1331L1361.6 1332.1L1361.4 1334.3L1360.6 1337.2L1359.6 1340.6L1358.6 1344L1357.9 1346.9L1357.7 1349.1L1358.2 1350.3L1365.8 1355.5L1365.3 1354.4L1365.5 1352.2L1366.2 1349.3L1367.2 1345.9L1368.3 1342.5L1369 1339.6L1369.2 1337.4L1368.7 1336.3Z" fill="url(#hshade)"/><path d="M1375.2 1340.8L1375.7 1341.9L1375.5 1344.1L1374.8 1347.1L1373.7 1350.4L1372.7 1353.8L1372 1356.7L1371.7 1358.9L1372.2 1360.1L1379.8 1365.4L1379.3 1364.2L1379.5 1362.1L1380.3 1359.1L1381.3 1355.8L1382.4 1352.4L1383.1 1349.5L1383.4 1347.3L1382.9 1346.1Z" fill="#d82b3e" stroke="#61131c" stroke-width="1.1" stroke-linejoin="round"/><path d="M1375.2 1340.8L1375.7 1341.9L1375.5 1344.1L1374.8 1347.1L1373.7 1350.4L1372.7 1353.8L1372 1356.7L1371.7 1358.9L1372.2 1360.1L1379.8 1365.4L1379.3 1364.2L1379.5 1362.1L1380.3 1359.1L1381.3 1355.8L1382.4 1352.4L1383.1 1349.5L1383.4 1347.3L1382.9 1346.1Z" fill="url(#hshade)"/><path d="M1389.4 1350.7L1389.8 1351.9L1389.6 1354.1L1388.9 1357L1387.8 1360.3L1386.7 1363.7L1385.9 1366.6L1385.7 1368.8L1386.2 1369.9L1393.6 1375.4L1393.2 1374.2L1393.4 1372L1394.2 1369.1L1395.3 1365.8L1396.4 1362.4L1397.2 1359.5L1397.4 1357.3L1397 1356.1Z" fill="#db2a3b" stroke="#63131b" stroke-width="1.1" stroke-linejoin="round"/><path d="M1389.4 1350.7L1389.8 1351.9L1389.6 1354.1L1388.9 1357L1387.8 1360.3L1386.7 1363.7L1385.9 1366.6L1385.7 1368.8L1386.2 1369.9L1393.6 1375.4L1393.2 1374.2L1393.4 1372L1394.2 1369.1L1395.3 1365.8L1396.4 1362.4L1397.2 1359.5L1397.4 1357.3L1397 1356.1Z" fill="url(#hshade)"/><path d="M1403.4 1360.8L1403.9 1362L1403.6 1364.2L1402.8 1367.1L1401.7 1370.4L1400.6 1373.8L1399.8 1376.7L1399.5 1378.8L1399.9 1380L1407.2 1385.5L1406.8 1384.4L1407.1 1382.2L1408 1379.3L1409.1 1376L1410.3 1372.7L1411.2 1369.8L1411.4 1367.6L1411 1366.4Z" fill="#de2939" stroke="#64121a" stroke-width="1.1" stroke-linejoin="round"/><path d="M1403.4 1360.8L1403.9 1362L1403.6 1364.2L1402.8 1367.1L1401.7 1370.4L1400.6 1373.8L1399.8 1376.7L1399.5 1378.8L1399.9 1380L1407.2 1385.5L1406.8 1384.4L1407.1 1382.2L1408 1379.3L1409.1 1376L1410.3 1372.7L1411.2 1369.8L1411.4 1367.6L1411 1366.4Z" fill="url(#hshade)"/><path d="M1417.4 1371.3L1417.8 1372.5L1417.5 1374.6L1416.6 1377.6L1415.4 1380.9L1414.2 1384.1L1413.2 1387L1412.9 1389.2L1413.3 1390.3L1420.3 1396.1L1419.9 1394.9L1420.3 1392.8L1421.3 1389.9L1422.6 1386.7L1423.9 1383.4L1424.9 1380.5L1425.2 1378.4L1424.8 1377.1Z" fill="#e22737" stroke="#661219" stroke-width="1.1" stroke-linejoin="round"/><path d="M1417.4 1371.3L1417.8 1372.5L1417.5 1374.6L1416.6 1377.6L1415.4 1380.9L1414.2 1384.1L1413.2 1387L1412.9 1389.2L1413.3 1390.3L1420.3 1396.1L1419.9 1394.9L1420.3 1392.8L1421.3 1389.9L1422.6 1386.7L1423.9 1383.4L1424.9 1380.5L1425.2 1378.4L1424.8 1377.1Z" fill="url(#hshade)"/><path d="M1431.1 1382.3L1431.5 1383.5L1431.1 1385.7L1430.1 1388.5L1428.7 1391.8L1427.3 1395L1426.2 1397.8L1425.7 1400L1426.1 1401.2L1432.7 1407.3L1432.4 1406.1L1432.9 1404L1434.1 1401.2L1435.6 1398L1437.1 1394.8L1438.2 1391.9L1438.6 1389.8L1438.3 1388.6Z" fill="#e42634" stroke="#671118" stroke-width="1.1" stroke-linejoin="round"/><path d="M1431.1 1382.3L1431.5 1383.5L1431.1 1385.7L1430.1 1388.5L1428.7 1391.8L1427.3 1395L1426.2 1397.8L1425.7 1400L1426.1 1401.2L1432.7 1407.3L1432.4 1406.1L1432.9 1404L1434.1 1401.2L1435.6 1398L1437.1 1394.8L1438.2 1391.9L1438.6 1389.8L1438.3 1388.6Z" fill="url(#hshade)"/><path d="M1444.2 1394.1L1444.6 1395.3L1444.1 1397.4L1442.9 1400.3L1441.4 1403.4L1439.8 1406.6L1438.6 1409.3L1438 1411.4L1438.3 1412.7L1444.8 1419.1L1444.5 1417.9L1445.1 1415.8L1446.4 1413L1448 1409.9L1449.6 1406.8L1450.8 1404L1451.4 1401.9L1451.1 1400.7Z" fill="#e72532" stroke="#681117" stroke-width="1.1" stroke-linejoin="round"/><path d="M1444.2 1394.1L1444.6 1395.3L1444.1 1397.4L1442.9 1400.3L1441.4 1403.4L1439.8 1406.6L1438.6 1409.3L1438 1411.4L1438.3 1412.7L1444.8 1419.1L1444.5 1417.9L1445.1 1415.8L1446.4 1413L1448 1409.9L1449.6 1406.8L1450.8 1404L1451.4 1401.9L1451.1 1400.7Z" fill="url(#hshade)"/>
<path d="M1459 1408C1460.2 1407.3 1464 1404 1466 1404C1468 1404 1469.8 1405.1 1471 1408C1472.2 1410.9 1472.7 1419.2 1473 1421.5" fill="none" stroke="#3030a0" stroke-width="1.5" stroke-linecap="round" stroke-linejoin="round"/>
<g fill="none" stroke-linecap="round"><g stroke="#4a0c0e" stroke-width="3.4"><path d="M1458.4 1356.7 A5 9 41 0 0 1446.6 1370.3"/></g><g stroke="#5e5e5e" stroke-width="2"><path d="M1458.4 1356.7 A5 9 41 0 0 1446.6 1370.3"/></g><g stroke="#5c0a0c" stroke-width="5.2"><path d="M1458.4 1356.7 A5 9 41 0 1 1446.6 1370.3"/></g><g stroke="#9c1418" stroke-width="3.6"><path d="M1458.4 1356.7 A5 9 41 0 1 1446.6 1370.3"/></g></g>
<g fill="none" stroke-linecap="round"><g stroke="#4a0c0e" stroke-width="3.4"><path d="M1466 1363.3 A5 9 41 0 0 1454.2 1376.9"/></g><g stroke="#5e5e5e" stroke-width="2"><path d="M1466 1363.3 A5 9 41 0 0 1454.2 1376.9"/></g><g stroke="#5c0a0c" stroke-width="5.2"><path d="M1466 1363.3 A5 9 41 0 1 1454.2 1376.9"/></g><g stroke="#9c1418" stroke-width="3.6"><path d="M1466 1363.3 A5 9 41 0 1 1454.2 1376.9"/></g></g>
<g fill="none" stroke-linecap="round"><g stroke="#4a0c0e" stroke-width="3.4"><path d="M1473.6 1369.9 A5 9 41 0 0 1461.8 1383.5"/></g><g stroke="#5e5e5e" stroke-width="2"><path d="M1473.6 1369.9 A5 9 41 0 0 1461.8 1383.5"/></g><g stroke="#5c0a0c" stroke-width="5.2"><path d="M1473.6 1369.9 A5 9 41 0 1 1461.8 1383.5"/></g><g stroke="#9c1418" stroke-width="3.6"><path d="M1473.6 1369.9 A5 9 41 0 1 1461.8 1383.5"/></g></g>
<g fill="none" stroke-linecap="round"><g stroke="#4a0c0e" stroke-width="3.4"><path d="M1481.2 1376.5 A5 9 41 0 0 1469.4 1390.1"/></g><g stroke="#5e5e5e" stroke-width="2"><path d="M1481.2 1376.5 A5 9 41 0 0 1469.4 1390.1"/></g><g stroke="#5c0a0c" stroke-width="5.2"><path d="M1481.2 1376.5 A5 9 41 0 1 1469.4 1390.1"/></g><g stroke="#9c1418" stroke-width="3.6"><path d="M1481.2 1376.5 A5 9 41 0 1 1469.4 1390.1"/></g></g>
<path d="M1439 1298.5C1440.3 1298.6 1444.5 1298.2 1447 1299C1449.5 1299.8 1452.5 1301.2 1454 1303C1455.5 1304.8 1456.3 1307.7 1456 1310C1455.7 1312.3 1453.2 1314.5 1452 1317C1450.8 1319.5 1449 1322.3 1449 1325C1449 1327.7 1450.8 1330.2 1452 1333C1453.2 1335.8 1455.7 1338.8 1456 1342C1456.3 1345.2 1454.3 1350.3 1454 1352" fill="none" stroke="#9a1420" stroke-width="1.9" stroke-linecap="round" stroke-linejoin="round"/>
<path d="M1482 1377C1483.3 1377.2 1487.7 1376.8 1490 1378C1492.3 1379.2 1495.3 1381.7 1496 1384C1496.7 1386.3 1495.2 1389.8 1494 1392C1492.8 1394.2 1490 1395 1489 1397C1488 1399 1489 1402 1488 1404C1487 1406 1485 1407.7 1483 1409C1481 1410.3 1477.2 1411.5 1476 1412" fill="none" stroke="#9a1420" stroke-width="1.9" stroke-linecap="round" stroke-linejoin="round"/>
<defs>
<linearGradient id="f_rw" gradientUnits="userSpaceOnUse" x1="971" y1="1566.3" x2="1154.6" y2="1519.3"><stop offset="0" stop-color="#b01a22"/><stop offset="0.12" stop-color="#b82834"/><stop offset="0.5" stop-color="#d68a9a"/><stop offset="0.8" stop-color="#e6d4e4"/><stop offset="1" stop-color="#e9e9fb"/></linearGradient>
<linearGradient id="f_bw" gradientUnits="userSpaceOnUse" x1="983.3" y1="1610.7" x2="1166.5" y2="1562.3"><stop offset="0" stop-color="#2020c0"/><stop offset="0.15" stop-color="#4444e8"/><stop offset="0.4" stop-color="#6a6af6"/><stop offset="0.72" stop-color="#b8b8f8"/><stop offset="1" stop-color="#e9e9fb"/></linearGradient>
<linearGradient id="f_wb" gradientUnits="userSpaceOnUse" x1="1203.7" y1="1519.3" x2="1386.6" y2="1566.8"><stop offset="0" stop-color="#e9e9fb"/><stop offset="0.28" stop-color="#b8b8f8"/><stop offset="0.6" stop-color="#6a6af6"/><stop offset="0.85" stop-color="#4444e8"/><stop offset="1" stop-color="#2020c0"/></linearGradient>
<linearGradient id="f_wr" gradientUnits="userSpaceOnUse" x1="1192.3" y1="1562.3" x2="1375.6" y2="1610.2"><stop offset="0" stop-color="#e9e9fb"/><stop offset="0.19999999999999996" stop-color="#e6d4e4"/><stop offset="0.5" stop-color="#d68a9a"/><stop offset="0.88" stop-color="#b82834"/><stop offset="1" stop-color="#b01a22"/></linearGradient>
</defs>
<path d="M1155 1519.5 C1170 1512.5 1189 1512.5 1204 1519.5" stroke="#000" stroke-width="3.6" fill="none"/>
<path d="M1166 1562.5 C1174 1557 1185 1557 1193 1562.5" stroke="#000" stroke-width="3.6" fill="none"/>
<path d="M972 1567 C958 1566 957 1584 972 1584" stroke="#000" stroke-width="3.4" fill="none"/>
<path d="M1376 1597 C1391 1597 1391 1613 1376 1612" stroke="#000" stroke-width="3.4" fill="none"/>
<path d="M979.6 1596.7L1163 1548.1L1170.1 1576.6L987 1624.8Z" fill="url(#f_bw)" stroke="#000" stroke-width="2.5" stroke-linejoin="miter"/>
<path d="M967.6 1552.1L1150.6 1505.1L1158.7 1533.6L974.3 1580.6Z" fill="url(#f_rw)" stroke="#000" stroke-width="2.5" stroke-linejoin="miter"/>
<path d="M1207.6 1505.1L1390 1553.1L1383.3 1580.6L1199.9 1533.6Z" fill="url(#f_wb)" stroke="#000" stroke-width="2.5" stroke-linejoin="miter"/>
<path d="M1195.9 1548.1L1379.3 1595.7L1371.9 1624.8L1188.8 1576.6Z" fill="url(#f_wr)" stroke="#000" stroke-width="2.5" stroke-linejoin="miter"/>
<path d="M976.9 1568.9L1046.7 1594L1037.3 1620.8L966.9 1596.7Z" fill="#a91d22" stroke="#000" stroke-width="3.4" stroke-linejoin="miter"/>
<path d="M1343.1 1531L1392 1587.3L1369.9 1605.7L1321.6 1549.7Z" fill="#a91d22" stroke="#000" stroke-width="3.4" stroke-linejoin="miter"/>
<text x="962.5" y="1626.5" font-size="25" fill="#222" text-anchor="middle">C</text>
<text x="1059.1" y="1630.9" font-size="25" fill="#222" text-anchor="middle">N</text>
<text x="1327.3" y="1525.3" font-size="25" fill="#222" text-anchor="middle">N</text>
<text x="1404.5" y="1578.9" font-size="25" fill="#222" text-anchor="middle">C</text>
</g>
</svg>
</body></html>
